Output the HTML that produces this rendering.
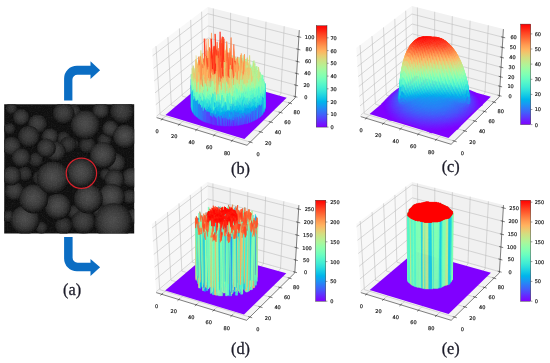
<!DOCTYPE html>
<html><head><meta charset="utf-8"><title>Figure</title>
<style>html,body{margin:0;padding:0;background:#fff}svg{display:block}</style>
</head><body>
<svg width="550" height="363" viewBox="0 0 550 363">
<rect width="550" height="363" fill="#fff"/>
<clipPath id="semclip"><rect x="4.2" y="104.3" width="130" height="129.1"/></clipPath>
<radialGradient id="sg0" cx="0.48" cy="0.46" r="0.53"><stop offset="0" stop-color="#353535"/><stop offset="0.42" stop-color="#2e2e2e"/><stop offset="0.74" stop-color="#222222"/><stop offset="0.93" stop-color="#131313"/><stop offset="1" stop-color="#0d0d0d"/></radialGradient>
<radialGradient id="sg1" cx="0.48" cy="0.46" r="0.53"><stop offset="0" stop-color="#404040"/><stop offset="0.42" stop-color="#373737"/><stop offset="0.74" stop-color="#272727"/><stop offset="0.93" stop-color="#151515"/><stop offset="1" stop-color="#0d0d0d"/></radialGradient>
<radialGradient id="sg2" cx="0.48" cy="0.46" r="0.53"><stop offset="0" stop-color="#4b4b4b"/><stop offset="0.42" stop-color="#404040"/><stop offset="0.74" stop-color="#2c2c2c"/><stop offset="0.93" stop-color="#171717"/><stop offset="1" stop-color="#0d0d0d"/></radialGradient>
<filter id="grain" x="0" y="0" width="1" height="1"><feTurbulence type="fractalNoise" baseFrequency="0.8" numOctaves="2" seed="3" result="n"/><feColorMatrix in="n" type="matrix" values="0 0 0 0 1  0 0 0 0 1  0 0 0 0 1  0.6 0.6 0 0 -0.5"/></filter>
<filter id="soft" x="-0.05" y="-0.05" width="1.1" height="1.1"><feGaussianBlur stdDeviation="0.7"/></filter>
<g clip-path="url(#semclip)">
<rect x="4" y="104" width="131" height="130" fill="#0f0f0f"/>
<g filter="url(#soft)">
<circle cx="73.9" cy="144.4" r="5" fill="url(#sg0)"/>
<circle cx="105.9" cy="174.7" r="6.2" fill="url(#sg0)"/>
<circle cx="8.7" cy="216.3" r="6.2" fill="url(#sg0)"/>
<circle cx="41.5" cy="227.8" r="6.2" fill="url(#sg0)"/>
<circle cx="98.9" cy="211.5" r="6.2" fill="url(#sg0)"/>
<circle cx="11.6" cy="108.7" r="6" fill="url(#sg0)"/>
<circle cx="9.6" cy="128.9" r="6" fill="url(#sg0)"/>
<circle cx="40" cy="178" r="7.5" fill="url(#sg0)"/>
<circle cx="63.6" cy="138.6" r="7.2" fill="url(#sg0)"/>
<circle cx="104.7" cy="140.5" r="7.2" fill="url(#sg0)"/>
<circle cx="73.9" cy="111.6" r="7.2" fill="url(#sg0)"/>
<circle cx="25" cy="173.9" r="7.5" fill="url(#sg0)"/>
<circle cx="36" cy="160" r="7.5" fill="url(#sg0)"/>
<circle cx="74.8" cy="212.4" r="7.5" fill="url(#sg0)"/>
<circle cx="129.8" cy="197" r="7.5" fill="url(#sg0)"/>
<circle cx="133.6" cy="216.3" r="7.5" fill="url(#sg0)"/>
<circle cx="68.3" cy="144.8" r="8.4" fill="url(#sg0)"/>
<circle cx="63.6" cy="225.9" r="8.8" fill="url(#sg0)"/>
<circle cx="87.4" cy="145.3" r="8.4" fill="url(#sg0)"/>
<circle cx="21.2" cy="117.4" r="8.4" fill="url(#sg1)"/>
<circle cx="50.1" cy="136.6" r="8.4" fill="url(#sg1)"/>
<circle cx="100.9" cy="110.6" r="8.4" fill="url(#sg1)"/>
<circle cx="110.5" cy="128.9" r="8.4" fill="url(#sg1)"/>
<circle cx="11.6" cy="146.3" r="9.6" fill="url(#sg1)"/>
<circle cx="14.5" cy="191.2" r="9.6" fill="url(#sg1)"/>
<circle cx="11.6" cy="175.8" r="9.6" fill="url(#sg1)"/>
<circle cx="55.8" cy="151.6" r="10" fill="url(#sg1)"/>
<circle cx="131.7" cy="177.7" r="10" fill="url(#sg1)"/>
<circle cx="46.3" cy="148.2" r="9.6" fill="url(#sg1)"/>
<circle cx="21.2" cy="157.8" r="9.6" fill="url(#sg1)"/>
<circle cx="115.6" cy="163.1" r="10" fill="url(#sg1)"/>
<circle cx="114.4" cy="179.6" r="10" fill="url(#sg1)"/>
<circle cx="37.6" cy="124.1" r="9.6" fill="url(#sg1)"/>
<circle cx="63.6" cy="113.5" r="10.9" fill="url(#sg1)"/>
<circle cx="28.9" cy="136.6" r="10.9" fill="url(#sg1)"/>
<circle cx="122.1" cy="111.6" r="12" fill="url(#sg1)"/>
<circle cx="83.5" cy="222" r="12" fill="url(#sg1)"/>
<circle cx="125" cy="136.6" r="12" fill="url(#sg2)"/>
<circle cx="57.8" cy="206.6" r="13.2" fill="url(#sg2)"/>
<circle cx="103" cy="155.4" r="13.2" fill="url(#sg2)"/>
<circle cx="111.5" cy="197" r="13.2" fill="url(#sg2)"/>
<circle cx="25.1" cy="220.1" r="14.5" fill="url(#sg2)"/>
<circle cx="33.7" cy="198.9" r="14.5" fill="url(#sg2)"/>
<circle cx="88.3" cy="198.9" r="14.5" fill="url(#sg2)"/>
<circle cx="81.4" cy="173.2" r="14.8" fill="url(#sg2)"/>
<circle cx="85.4" cy="125.1" r="14.5" fill="url(#sg2)"/>
<circle cx="53" cy="178" r="16.2" fill="url(#sg2)"/>
<circle cx="113.4" cy="222" r="18.8" fill="url(#sg2)"/>
</g>
<rect x="4" y="104" width="131" height="130" filter="url(#grain)" opacity="0.15"/>
<circle cx="81.4" cy="173.2" r="15.2" fill="none" stroke="#d3222c" stroke-width="1.25"/>
</g>
<path d="M64.1 100.4V78.5A12.8 12.8 0 0 1 76.9 65.7H90.5V61.2L100.1 70.2L90.5 78.9V74.8H77.4A5 5 0 0 0 72.4 79.8V100.4Z" fill="#0b6dc3"/>
<path d="M64.1 236.9V258.5A12.8 12.8 0 0 0 76.9 271.3H90.5V275.9L100.1 267.3L90.5 258.9V262.7H77.6A5 5 0 0 1 72.6 257.7V236.9Z" fill="#0b6dc3"/>
<g id="plot-b">
<path d="M156.6 117.6L208.8 73.6L207.7 7.1L152.2 48.9Z" fill="#f8f8f8"/>
<path d="M208.8 73.6L295.2 97.9L299.3 30.1L207.7 7.1Z" fill="#f1f1f1"/>
<path d="M156.6 117.6L247 145.3L295.2 97.9L208.8 73.6Z" fill="#f4f4f4"/>
<path d="M162.1 119.3L214 75.1L213.3 8.5M179.2 124.5L230.4 79.7L230.6 12.8M196.6 129.8L247 84.4L248.2 17.2M214.2 135.2L263.8 89.1L266 21.7M232.1 140.7L280.9 93.9L284.2 26.3M250.3 142.1L160.1 114.6L156 46.1M260.6 131.9L171.3 105.2L167.9 37.1M270.6 122.1L182.2 96.1L179.4 28.4M280.4 112.5L192.7 87.2L190.7 19.9M289.8 103.1L203 78.5L201.6 11.7M156.5 116.3L208.8 72.4L295.2 96.6M155.8 104.7L208.6 61.1L295.9 85.1M155 92.9L208.4 49.6L296.7 73.5M154.3 80.8L208.2 37.9L297.4 61.5M153.5 68.4L208 25.9L298.1 49.3M152.6 55.8L207.8 13.7L298.9 36.9" fill="none" stroke="#b9b9b9" stroke-width="0.55"/>
<path d="M165.5 115L244.4 139L286.7 97.8L211 76.5Z" fill="#8000ff"/>
<g transform="scale(.1)" fill="currentColor" stroke="currentColor" stroke-width="3.5" stroke-linejoin="round"><path d="M2313 721l9-32 5-34-8-100z" color="#7affb7"/><path d="M2305 663l8 58 6-166-9 82z" color="#8efeac"/><path d="M2508 746l9-27 6-61-11 97z" color="#64fbc3"/><path d="M2448 649l8 57 7-118-11 117z" color="#9bfba5"/><path d="M2456 706l10-60 4 31-7-89z" color="#96fca7"/><path d="M2238 627l8-5 5-115-8 146z" color="#c4e88a"/><path d="M2474 663l7 66 6-72-9 55z" color="#92fda9"/><path d="M2413 667l9-9 4-11-7-62z" color="#acf59a"/><path d="M2350 666l9 31 6-112-10 53z" color="#abf69b"/><path d="M2416 754l10-123 6-79-10 106z" color="#96fca7"/><path d="M2347 641l8-3 6-52-9 48z" color="#bced8f"/><path d="M2395 626l8 53 5 11-8-106z" color="#b6f193"/><path d="M2517 694l7 58 8-142-12 154z" color="#8bfeae"/><path d="M2650 899l4 165 4-4-8-3z" color="#386df9"/><path d="M2599 724l7 71-1 187-2-241z" color="#52f5cb"/><path d="M2391 672l9-88 5-15-9 89z" color="#bbee91"/><path d="M2386 647l9-21 5-42-9 88z" color="#bbee91"/><path d="M2373 652l8 8 5-13-8-69z" color="#b9ef92"/><path d="M2426 631l8 75 5-28-7-126z" color="#bbee91"/><path d="M2355 638l10-53 4 65-8-64z" color="#c8e688"/><path d="M2225 640l9-38 4-111-8-46z" color="#e8cb72"/><path d="M2446 697l11-106 3 83-9 31z" color="#a2f9a0"/><path d="M2365 585l8 67 5-74-9 72z" color="#d4dd80"/><path d="M1907 1062l8 3-3-271 0 264z" color="#4659fb"/><path d="M2493 742l9-19 6-53-9 19z" color="#8bfeae"/><path d="M2589 784l10-60 4 17-11 101z" color="#64fbc3"/><path d="M2567 779l9-19 6-35-8-24z" color="#74feba"/><path d="M1905 1074l8 2-2-223-1 216z" color="#504afc"/><path d="M2141 607l10 128 4-129-10-108z" color="#d9da7d"/><path d="M2652 836l1 240 5-5-9-2z" color="#1898f2"/><path d="M2069 598l9-19 5 10-7 96z" color="#dcd67a"/><path d="M2267 652l9-75 5 57-9-195z" color="#e4cf74"/><path d="M2450 691l10-22 4 2-7-80z" color="#b4f295"/><path d="M2524 752l12-127 4 52-8-67z" color="#a2f9a0"/><path d="M2568 737l7 66 5-13-7-83z" color="#7affb7"/><path d="M1908 1081l9 2-3-234-1 227z" color="#4e4dfc"/><path d="M2554 750l10-17 3 46-6-115z" color="#86ffb0"/><path d="M2651 873l2 214 4-4-9-3z" color="#2489f5"/><path d="M2384 647l9 45 5-37-8-81z" color="#c8e688"/><path d="M2561 664l6 115 7-78-9 8z" color="#a4f89f"/><path d="M2390 574l8 81 5-21-9 1z" color="#e2d176"/><path d="M2338 485l8 176 4 5-7-146z" color="#ffa759"/><path d="M1911 1087l9 3-3-252 0 245z" color="#4a53fb"/><path d="M2551 710l10-46 4 45-9-10z" color="#a6f89d"/><path d="M1910 1099l8 2 0-183-3 176z" color="#5a3bfd"/><path d="M2313 607l9-29 5 48-10 103z" color="#dbd87b"/><path d="M2547 698l7 52 7-86-10 46z" color="#a4f89f"/><path d="M2347 677l10-51 3 138-7-195z" color="#c0eb8d"/><path d="M2645 919l2 184 5-4-9-3z" color="#3079f7"/><path d="M2559 725l9 12 5-30-9 26z" color="#99fca6"/><path d="M2601 789l9 5 5-10-9 5z" color="#6dfdbf"/><path d="M2502 733l9-39 5-17-9 4z" color="#a4f89f"/><path d="M2351 693l8 55 6-134-8 12z" color="#bbee91"/><path d="M2322 578l8 136 5-116-8 28z" color="#e8cb72"/><path d="M2589 769l9-8 5-4-9-16z" color="#82ffb3"/><path d="M2516 677l9 11 4 28-8-59z" color="#b9ef92"/><path d="M2500 738l8 67 4 0-5-159z" color="#8cfead"/><path d="M2387 651l8 80 6-64-8-69z" color="#cbe486"/><path d="M2537 735l11-102 2 105-9 14z" color="#9efaa2"/><path d="M1975 664l8 3 6 43-8-10z" color="#bced8f"/><path d="M2515 723l8 12 6-43-9-9z" color="#a6f89d"/><path d="M2496 756l11-110 2 137-8-71z" color="#96fca7"/><path d="M1913 1106l9 3-2-223-2 215z" color="#504afc"/><path d="M2386 688l9-46 4 146-7-169z" color="#b9ef92"/><path d="M2379 647l8 4 6-53-10 91z" color="#d4dd80"/><path d="M2511 694l9-11 5 5-9-11z" color="#b9ef92"/><path d="M2534 687l7 65 6-54-7-93z" color="#bbee91"/><path d="M2428 654l9-14 5-17-9-3z" color="#dbd87b"/><path d="M2539 796l11-72 5 3-7-94z" color="#92fda9"/><path d="M2646 884l2 196 5-4-1-240z" color="#0ac0e8"/><path d="M2520 683l9 9 5-5-9 1z" color="#bced8f"/><path d="M2106 657l8-85 1-243-4 322z" color="#ffb360"/><path d="M2008 675l9 24 5 18-13-213z" color="#d0e082"/><path d="M2488 747l10-72 4 58-6-178z" color="#b2f396"/><path d="M2525 688l9-1 6-82-11 111z" color="#c0eb8d"/><path d="M2548 633l7 94 4-2-9 13z" color="#beec8e"/><path d="M2640 932l3 164 5-4-3-180z" color="#11a0f1"/><path d="M2339 609l8 68 6-108-9 59z" color="#ecc86f"/><path d="M2496 555l6 178 5-52-8-3z" color="#e4cf74"/><path d="M1916 1113l9 3-2-233-1 226z" color="#4e4dfc"/><path d="M2640 910l2 209 5-4-9-3z" color="#2686f5"/><path d="M2645 912l3 180 5-5-2-214z" color="#04b0ed"/><path d="M2480 645l8 86 6-88-11 116z" color="#c2ea8c"/><path d="M1998 654l10 21 1-171-4 203z" color="#ded579"/><path d="M2390 687l9-26 4 92-8-111z" color="#c0eb8d"/><path d="M2494 643l7 69 5 6-8-43z" color="#c8e688"/><path d="M2492 729l8 9 7-92-11 110z" color="#a8f79c"/><path d="M2257 573l9-120 5 100-9 12z" color="#ff8c49"/><path d="M1910 1069l1-216 2-110 2 322z" color="#09a9ee"/><path d="M2550 716l7 69 7-93-11 86z" color="#a0faa1"/><path d="M2381 684l9 3 5-45-9 46z" color="#c6e789"/><path d="M2481 628l7 119 8-192-11 146z" color="#dbd87b"/><path d="M2538 646l8 51 4 27-11 72z" color="#bced8f"/><path d="M2223 367l9 190 6 144-9 3z" color="#ff6d38"/><path d="M2114 572l9 84 5-46-13-281z" color="#ff8e4a"/><path d="M2423 612l7 102 6-32-8-68z" color="#e0d377"/><path d="M2627 823l8 26 4 0-7-57z" color="#62fbc4"/><path d="M1927 1134l8 3 1-141-4 134z" color="#622ffe"/><path d="M2614 798l8 35 7-78-11 66z" color="#74feba"/><path d="M2629 870l11-58 3 40-8-3z" color="#50f4cc"/><path d="M2324 684l9-44 5-14-9-16z" color="#dbd87b"/><path d="M2466 727l9-36 6-63-8-51z" color="#c8e688"/><path d="M2639 947l4 161 4-5-2-184z" color="#11a0f1"/><path d="M1945 725l8-1 6 30-10-75z" color="#acf59a"/><path d="M2618 821l9 2 5-31-10 41z" color="#68fcc1"/><path d="M2365 614l10-42 4 75-9 9z" color="#f2c26b"/><path d="M2459 621l7 106 7-150-10 81z" color="#e6cd73"/><path d="M2448 699l9 6 5-42-8-53z" color="#cbe486"/><path d="M2622 833l10-41 3 40-6-77z" color="#6efebe"/><path d="M2454 610l8 53 4 64-7-106z" color="#e4cf74"/><path d="M2460 752l9 7 7-122-9-16z" color="#b4f295"/><path d="M1923 1127l9 3-2-225-2 218z" color="#504afc"/><path d="M2635 932l3 180 5-4-4-161z" color="#10a2f0"/><path d="M2625 862l9-12 6-38-11 58z" color="#54f6cb"/><path d="M2027 650l10 32 4-19-9-44z" color="#ded579"/><path d="M1979 721l8-30 2-123-6 99z" color="#cbe486"/><path d="M1920 1120l8 3-3-276 0 269z" color="#4659fb"/><path d="M2441 617l7 82 6-89-10 96z" color="#e2d176"/><path d="M2065 650l9 8 3-150-7 149z" color="#eec66d"/><path d="M2453 655l7 97 7-131-10 84z" color="#cee184"/><path d="M2290 598l8 63 6-159-10 149z" color="#ffb05f"/><path d="M2473 577l8 51 4 73-8-74z" color="#f9bb66"/><path d="M1915 1094l3-176 2-98 0 270z" color="#1e91f3"/><path d="M2013 635l9 12 5 3-7 35z" color="#e2d176"/><path d="M1930 1141l8 3 1-156-4 149z" color="#6032fe"/><path d="M2425 685l8 56 6-40-8-75z" color="#c8e688"/><path d="M2624 990l4 154 4-4-9-3z" color="#3e65fa"/><path d="M2236 634l9 59 5-187-9 10z" color="#ffae5e"/><path d="M1966 793l4-142 7 59-11-108z" color="#b0f397"/><path d="M2476 637l8 54 4 40-8-86z" color="#dbd87b"/><path d="M2298 661l9-69 5 60-8-150z" color="#f9bb66"/><path d="M2630 837l7 82 7-97-10 28z" color="#58f8c9"/><path d="M2522 751l12-119 4 14-11 104z" color="#b9ef92"/><path d="M2150 595l8-72 6 113-8-10z" color="#ffa759"/><path d="M2457 705l10-84 4 28-9 14z" color="#d4dd80"/><path d="M2314 662l10-94 4 125-9-46z" color="#e6cd73"/><path d="M2557 785l12-121 3 78-8-50z" color="#a6f89d"/><path d="M2250 506l8 91 5-60-8 126z" color="#ff8444"/><path d="M2249 674l8-90 5-89-8 164z" color="#f6be68"/><path d="M2417 675l8 10 6-59-10 63z" color="#d9da7d"/><path d="M2643 848l9-12-3 233-2-208z" color="#44eed2"/><path d="M2600 815l8 10 5-8-8-34z" color="#78ffb8"/><path d="M2464 719l10-54 3 76-9 18z" color="#b6f193"/><path d="M2629 966l4 162 5-4-5-147z" color="#1996f3"/><path d="M2618 811l7 51 4 8-5-121z" color="#72febb"/><path d="M2592 802l10-37 3 37-6-83z" color="#8cfead"/><path d="M2602 765l9-20 3 53-9 4z" color="#92fda9"/><path d="M2613 817l11-68 3 74-9-2z" color="#7affb7"/><path d="M2201 595l9-20 4-171-7 209z" color="#ff8646"/><path d="M2563 728l8 31 4 10-6-105z" color="#b2f396"/><path d="M2633 977l5 147 4-5-2-209z" color="#149df1"/><path d="M2548 750l7 75 6-65-8-39z" color="#9efaa2"/><path d="M2642 876l9-3-3 207-2-196z" color="#34e4d9"/><path d="M2367 679l8 26 5 5-7-120z" color="#d9da7d"/><path d="M2605 783l8 34 5 4-7-76z" color="#8bfeae"/><path d="M2214 404l9-37 6 337-9-35z" color="#ff4422"/><path d="M2554 703l9 25 6-64-12 121z" color="#bced8f"/><path d="M2252 630l9-76 5 126-9-96z" color="#ffb360"/><path d="M2534 632l6 136 6-71-8-51z" color="#dcd67a"/><path d="M2570 774l7 52 9-134-11 60z" color="#9cfba4"/><path d="M2553 721l8 39 6-42-11 70z" color="#aef498"/><path d="M1960 714l6-112 8 122-13-170z" color="#ded579"/><path d="M2625 966l3 167 5-5-4-162z" color="#169bf2"/><path d="M2394 668l9 18 6-84-10 59z" color="#e6cd73"/><path d="M2561 760l9 14 5-22-8-34z" color="#a4f89f"/><path d="M1945 1158l9 3 1-151-5 144z" color="#6032fe"/><path d="M2310 610l8 87 6-129-10 94z" color="#fcb763"/><path d="M1913 1076l1-227 5-16-8 20z" color="#18cde4"/><path d="M2295 482l8 318 5-87-8-38z" color="#ffa95b"/><path d="M1989 568l10 44 6 25-8 35z" color="#ffa558"/><path d="M2608 825l10-14 6-62-11 68z" color="#80ffb4"/><path d="M2567 718l8 34 6-42-10 49z" color="#b6f193"/><path d="M2617 816l7 77 6-56-7-41z" color="#72febb"/><path d="M2355 597l8 57 6-68-10 112z" color="#ffb360"/><path d="M2074 658l8-59 5-12-10-79z" color="#ffa759"/><path d="M1917 1083l0-245 8 60-11-49z" color="#10c6e6"/><path d="M2586 692l6 110 7-83-11 51z" color="#b9ef92"/><path d="M2620 973l3 164 5-4-3-167z" color="#169bf2"/><path d="M2556 765l8 61 6-64-10 24z" color="#96fca7"/><path d="M2617 1044l6 105 5-5-4-154z" color="#3176f8"/><path d="M2241 677l9-98 5 33-9 129z" color="#e8cb72"/><path d="M2467 621l9 16 4 8-9 4z" color="#fbb965"/><path d="M2012 649l10 68 1-184-5 158z" color="#f0c46c"/><path d="M2638 865l7 54-2 177-3-164z" color="#32e3da"/><path d="M2570 762l9 8 5-17-11 71z" color="#9cfba4"/><path d="M2023 533l13 186 3-88-8 47z" color="#ffa558"/><path d="M2210 575l10 194 3-402-9 37z" color="#ff6b37"/><path d="M2131 549l9 63 6 51-11-173z" color="#ff8143"/><path d="M2639 829l8 32 3 38-7-53z" color="#68fcc1"/><path d="M2608 842l9-26 6-20-10 27z" color="#78ffb8"/><path d="M2603 856l10-46 4 6-9 26z" color="#70febc"/><path d="M2575 752l11-60 2 78-7-60z" color="#b6f193"/><path d="M1946 742l9-1 4-54-9 6z" color="#beec8e"/><path d="M2592 770l8 45 5-32-7-53z" color="#9efaa2"/><path d="M2438 706l9-25 5-9-8-45z" color="#dcd67a"/><path d="M2349 687l10-87 4 54-8-57z" color="#f0c46c"/><path d="M2614 992l4 161 5-4-6-105z" color="#2489f5"/><path d="M2257 584l9 96 5-137-9-48z" color="#ff8646"/><path d="M2282 614l9 75 5-57-9-63z" color="#ffac5c"/><path d="M2010 641l9 46 6 19-10-74z" color="#eec66d"/><path d="M2287 569l9 63 5-13-9 9z" color="#ff964f"/><path d="M2598 730l7 53 6-38-9 20z" color="#b0f397"/><path d="M1942 1151l8 3-2-285-1 277z" color="#445cfb"/><path d="M2504 721l7 80 7-129-10 55z" color="#c0eb8d"/><path d="M2341 578l8 109 6-90-9 23z" color="#ff9d53"/><path d="M2363 654l10-64 4 67-8-71z" color="#ffb05f"/><path d="M2584 753l8 17 6-40-11 54z" color="#abf69b"/><path d="M1938 1144l9 2 0-185-8 27z" color="#386df9"/><path d="M2135 490l11 173 4-68-10-123z" color="#ff592d"/><path d="M2608 1054l5 104 5-5-4-161z" color="#3079f7"/><path d="M2525 784l11-111 3 99-7-88z" color="#b4f295"/><path d="M2607 870l10-37 4 7-8-30z" color="#6efebe"/><path d="M2359 600l8 79 6-89-10 64z" color="#ffa759"/><path d="M2529 799l10-53 4 20-7-93z" color="#a8f79c"/><path d="M2604 1021l5 141 4-4-5-104z" color="#2c7ef7"/><path d="M2600 776l7 94 6-60-10 46z" color="#88ffaf"/><path d="M1915 1065l-2-322 7 30-8 21z" color="#40ecd4"/><path d="M2237 645l9 96 5-73-9-281z" color="#ffa759"/><path d="M2630 939l10-29-2 202-3-180z" color="#22d6e0"/><path d="M2509 868l12-145 4 40-7-90z" color="#96fca7"/><path d="M2576 1183l9 2 5-4-6-117z" color="#6826fe"/><path d="M1969 1178l9 2 1-152-4 145z" color="#6032fe"/><path d="M2019 687l7-81 6 35-7 65z" color="#ecc86f"/><path d="M1978 697l9 2 4-39-9-16z" color="#e2d176"/><path d="M2168 602l8 15 5-41-10-157z" color="#ff763d"/><path d="M2478 670l9 18 5-15-11 88z" color="#ded579"/><path d="M1918 1101l2-215 4-41-6 73z" color="#0fc4e7"/><path d="M2158 523l10 79 3-183-7 217z" color="#ff562c"/><path d="M2250 579l9 108 5-41-9-34z" color="#ff9d53"/><path d="M2634 850l9-2 4 13-8-32z" color="#72febb"/><path d="M2286 653l9-171 5 193-9 14z" color="#ffac5c"/><path d="M2482 664l7 90 5-13-7-53z" color="#dbd87b"/><path d="M2150 683l7-90 6 44-12-298z" color="#ff914c"/><path d="M2415 690l9 6 4 5-7-88z" color="#e6cd73"/><path d="M2599 1040l5 127 5-5-5-141z" color="#2981f6"/><path d="M1957 1168l9 2-2-253-2 246z" color="#4a53fb"/><path d="M2487 688l7 53 6-56-8-12z" color="#ded579"/><path d="M2441 730l10-73 4 27-9 19z" color="#d6db7e"/><path d="M2503 712l6 156 9-195-10 34z" color="#c4e88a"/><path d="M2235 681l9-81 5 11-9 119z" color="#f4c069"/><path d="M2638 857l8 27 6-48-9 12z" color="#70febc"/><path d="M2001 657l9-16 5-9-10-32z" color="#ffae5e"/><path d="M1920 1090l0-270 5 4-8 14z" color="#2ddedc"/><path d="M2595 1020l4 151 5-4-5-127z" color="#2489f5"/><path d="M2617 960l11-79 4 18-8-41z" color="#48f1d0"/><path d="M2575 856l8 33 7-80-8-26z" color="#7dffb6"/><path d="M2610 865l7 95 7-102-9 25z" color="#60fac5"/><path d="M1999 643l10 41 5 12-10-87z" color="#feb562"/><path d="M2626 945l9-13 4 15-8-29z" color="#3ae8d6"/><path d="M2632 899l8 33 5-20-6-91z" color="#5af8c8"/><path d="M2146 663l5-324 7 184-8 72z" color="#ff6d38"/><path d="M2584 1064l6 117 5-5-6-118z" color="#3473f8"/><path d="M2615 969l9 21-1 147-3-164z" color="#10c6e6"/><path d="M1954 1161l8 2 0-205-7 52z" color="#3473f8"/><path d="M2165 601l9 81 5-57-10-163z" color="#ff8444"/><path d="M2589 1058l6 118 4-5-4-151z" color="#2c7ef7"/><path d="M2595 787l9 29 3 54-7-94z" color="#99fca6"/><path d="M2244 600l8 82 5 32-8-103z" color="#ffa558"/><path d="M2583 889l11-71 5 7-9-16z" color="#78ffb8"/><path d="M2472 721l10-57 5 24-9-18z" color="#e2d176"/><path d="M2206 725l9-75 5 150-9-244z" color="#e2d176"/><path d="M2383 650l9 0 5 24-10 62z" color="#f6be68"/><path d="M2397 713l10-64 6-115-11 135z" color="#fbb965"/><path d="M2605 912l10-29 6-54-9 6z" color="#66fcc2"/><path d="M2530 711l7 79 7-77-10 39z" color="#cce385"/><path d="M2115 660l8-118 5 35-8 24z" color="#ff914c"/><path d="M2423 712l8 46 6-90-8-44z" color="#e2d176"/><path d="M1922 1109l1-226 4-44-7 47z" color="#1dd1e2"/><path d="M1932 1130l4-134 3-87-9-4z" color="#01b3ec"/><path d="M2639 821l6 91 6-39-9 3z" color="#78ffb8"/><path d="M1981 1187l9 3 0-209-3 202z" color="#5444fd"/><path d="M1966 655l10 49 5-11-10-69z" color="#fbb965"/><path d="M2567 830l8 26 7-73-9 12z" color="#90feab"/><path d="M2516 753l8 37 6-79-9 12z" color="#c2ea8c"/><path d="M2631 918l8 29 6-28-7-54z" color="#50f4cc"/><path d="M2609 789l7 41 4 27-8-14z" color="#92fda9"/><path d="M2572 816l13-143 1 127-8-4z" color="#a8f79c"/><path d="M2151 339l12 298 5-35-10-79z" color="#ff0000"/><path d="M2618 919l8 26 5-27-8-39z" color="#4ef3cd"/><path d="M2552 718l8 68 5-26-10 51z" color="#c0eb8d"/><path d="M2537 790l11-69 4 27-8-35z" color="#bced8f"/><path d="M2459 677l7 68 6-16-9-30z" color="#e2d176"/><path d="M2563 832l10-37 5-15-9-17z" color="#9cfba4"/><path d="M2543 1203l9 3 5-5-6-126z" color="#6629fe"/><path d="M1935 1137l4-149 2-119-5 127z" color="#06aeed"/><path d="M2621 829l10-23 1 93-8-31z" color="#82ffb3"/><path d="M1928 1123l2-218 7 55-12-113z" color="#10c6e6"/><path d="M2593 727l7 49 3 80-7-95z" color="#bbee91"/><path d="M2556 754l7 78 6-69-9 23z" color="#b2f396"/><path d="M2599 804l6 108 7-77-9 4z" color="#8bfeae"/><path d="M2212 650l9-102 5 143-9-64z" color="#ffa055"/><path d="M1925 1116l0-269 7 61-9-25z" color="#1acfe3"/><path d="M1914 849l11 49 1-117-7 52z" color="#84ffb2"/><path d="M1978 1180l9 3 1-141-9-14z" color="#425ffa"/><path d="M2542 777l10-59 3 93-7-90z" color="#bbee91"/><path d="M2590 809l9 16 5-9-9-29z" color="#9bfba5"/><path d="M2612 835l9-6 3 39-8-38z" color="#86ffb0"/><path d="M2201 318l10 329 5-64-9 27z" color="#ff0000"/><path d="M2573 795l9-12 4 35-8-38z" color="#a6f89d"/><path d="M2582 783l8 26 5-22-9 31z" color="#a6f89d"/><path d="M2376 738l10-108 4 85-9 20z" color="#dcd67a"/><path d="M2002 1200l9 2 1-177-5 170z" color="#5a3bfd"/><path d="M2453 726l9-13 4 32-7-68z" color="#dbd87b"/><path d="M2631 806l8 15 3 55-10 23z" color="#8bfeae"/><path d="M2412 764l10-53 4 15-7-128z" color="#dbd87b"/><path d="M2254 693l8-59 5-219-8 272z" color="#ff9b52"/><path d="M2538 731l7 98 7-111-10 59z" color="#c2ea8c"/><path d="M2555 1101l7 95 5-4-6-126z" color="#3c68f9"/><path d="M2193 522l8-204 6 292-8 52z" color="#ff3219"/><path d="M2566 1048l5 139 5-4-5-146z" color="#2489f5"/><path d="M2072 629l11 154-1-393-4 297z" color="#ff934d"/><path d="M2576 816l5 111 7-74-10 25z" color="#80ffb4"/><path d="M2566 834l9 19 6-59-10 49z" color="#8efeac"/><path d="M2415 647l8 65 6-88-10 56z" color="#ffae5e"/><path d="M2484 749l10-63 3 110-6-147z" color="#d4dd80"/><path d="M2570 850l8 28 7-66-10 41z" color="#82ffb3"/><path d="M2540 836l12-142 4 60-11 75z" color="#a6f89d"/><path d="M2561 1066l6 126 4-5-5-139z" color="#2c7ef7"/><path d="M2544 852l9-6 6-52-7-100z" color="#9bfba5"/><path d="M1911 853l8-20 5-12-11-78z" color="#94fda8"/><path d="M2409 746l10-148 4 114-8-65z" color="#ebca70"/><path d="M2346 678l10-67 4 51-9 25z" color="#ffb360"/><path d="M2620 964l9 2 4 11-6-88z" color="#3dead5"/><path d="M2023 1212l9 3 2-121-6 114z" color="#6826fe"/><path d="M2520 1214l9 3 5-5-7-107z" color="#6a22fe"/><path d="M2594 818l9 21 6-50-10 36z" color="#99fca6"/><path d="M2599 1050l9 4 6-62-9 19z" color="#04b9ea"/><path d="M2504 939l9 0 5-38-9 5z" color="#4ef3cd"/><path d="M2588 854l11-50 4 35-9-21z" color="#8cfead"/><path d="M2557 838l9-4 5 9-7-77z" color="#94fda8"/><path d="M2603 839l9-4 4-5-7-41z" color="#92fda9"/><path d="M2591 886l7 74 6-29-7-75z" color="#60fac5"/><path d="M2083 783l7-84 4-76-12-233z" color="#fbb965"/><path d="M2445 696l8 30 6-49-10 27z" color="#ebca70"/><path d="M2623 879l8 39 7-53-10 16z" color="#6dfdbf"/><path d="M2381 702l9-3 3 126-7-195z" color="#e2d176"/><path d="M2551 1075l6 126 5-5-7-95z" color="#3670f8"/><path d="M2586 818l9-31 5-11-7-49z" color="#aef498"/><path d="M2586 918l9-10 3 52-7-74z" color="#56f7ca"/><path d="M2200 793l9-98 5-16-10-47z" color="#d6db7e"/><path d="M2211 556l9 244 4-239-8 100z" color="#ff8947"/><path d="M2407 649l8 41 6-77-8-79z" color="#ff934d"/><path d="M2617 928l8 38 4 0-9-2z" color="#42edd3"/><path d="M2137 569l9 93 5-67-10-137z" color="#ff592d"/><path d="M2578 878l10-25 5-1-8-40z" color="#7effb5"/><path d="M1965 765l8-43 5-20-11-66z" color="#dbd87b"/><path d="M2610 1001l10-28 5-7-8-38z" color="#2fe0db"/><path d="M2197 670l9 55 5-169-9 85z" color="#ffa759"/><path d="M2615 883l9-25 7-52-10 23z" color="#80ffb4"/><path d="M1919 833l7-52 7 31-9 9z" color="#9bfba5"/><path d="M2610 983l7 61 7-54-9-21z" color="#24d8df"/><path d="M2575 853l10-41 3 42-7-60z" color="#8efeac"/><path d="M2596 1007l11-51 3 45-7-81z" color="#2adddd"/><path d="M2476 684l8 65 7-100-11 85z" color="#eec66d"/><path d="M2605 1011l9-19 3 52-7-61z" color="#1acfe3"/><path d="M1913 743l11 78 6 9-10-57z" color="#b9ef92"/><path d="M2627 889l6 88 7-67-10 29z" color="#58f8c9"/><path d="M2569 763l9 17 7-107-13 143z" color="#c4e88a"/><path d="M2611 856l7 63 5-40-9 2z" color="#76ffb9"/><path d="M2506 749l10-29 3 47-8-42z" color="#d0e082"/><path d="M2607 956l8 13 5 4-10 28z" color="#37e6d8"/><path d="M2228 560l9 85 5-258-9 183z" color="#ff3e1f"/><path d="M2624 858l8 41 7-78-8-15z" color="#86ffb0"/><path d="M2585 812l8 40 6-48-11 50z" color="#99fca6"/><path d="M2533 1088l6 120 4-5-6-97z" color="#386df9"/><path d="M2596 979l8 42 4 33-9-4z" color="#1acfe3"/><path d="M1927 763l7-54 7 80-12-124z" color="#d2de81"/><path d="M2571 1037l5 146 8-119-9-7z" color="#0ea5ef"/><path d="M2591 1003l8 47 6-39-8-49z" color="#1fd3e1"/><path d="M2453 716l8 43 5-43-9-3z" color="#ded579"/><path d="M1967 636l11 66 6 57-11-117z" color="#ffae5e"/><path d="M2546 883l10-25 5-5-9-2z" color="#7dffb6"/><path d="M2593 953l8 31 6-28-11 51z" color="#38e7d7"/><path d="M2603 920l7 81 7-73-10 27z" color="#4af2cf"/><path d="M1917 838l8-14 4-48-4 122z" color="#92fda9"/><path d="M2552 694l7 100 4 38-7-78z" color="#d0e082"/><path d="M2522 799l9-3 4 32-5-137z" color="#b6f193"/><path d="M2581 936l10-50 6-30-10 15z" color="#64fbc3"/><path d="M1966 1170l9 3-1-210-10-46z" color="#1e91f3"/><path d="M2209 695l8 0 5 9-8-25z" color="#f4c069"/><path d="M2503 680l8 45 5 28-8-56z" color="#eec66d"/><path d="M2172 566l8-53 6 76-8 84z" color="#ff5c2f"/><path d="M2497 748l9 1 5-24-8-45z" color="#dbd87b"/><path d="M1918 918l6-73 6 20-10-45z" color="#76ffb9"/><path d="M2589 949l7 58 7-87-9 18z" color="#44eed2"/><path d="M1920 820l10 45 6 24-11-65z" color="#90feab"/><path d="M2457 713l9 3 5-19-9 16z" color="#ebca70"/><path d="M2167 616l9 73 4-176-8 53z" color="#ff733b"/><path d="M2497 1225l9 3 5-5-7-108z" color="#6a22fe"/><path d="M2128 577l9-8 4-111-8 139z" color="#ff4724"/><path d="M2242 613l9 41 5 2-9-25z" color="#ff8c49"/><path d="M2478 1232l9 3 5-5-8-67z" color="#7216ff"/><path d="M1999 1193l8 2 2-161-9-8z" color="#396bf9"/><path d="M2514 793l8 6 8-108-12 98z" color="#bced8f"/><path d="M1917 778l5-94 7 35-6 98z" color="#c8e688"/><path d="M2586 1019l10-40 3 71-8-47z" color="#1acfe3"/><path d="M2513 818l9-24 4 22-8-52z" color="#abf69b"/><path d="M1943 896l9 32 3-99-8 36z" color="#74feba"/><path d="M2590 912l8 26 6-19-9-11z" color="#5efac6"/><path d="M2585 673l8 54 3 34-10 39z" color="#e4cf74"/><path d="M2180 513l9 68 6 88-9-80z" color="#ff4a26"/><path d="M2594 938l9-18 4 35-9-17z" color="#50f4cc"/><path d="M2509 906l9-5 5-20-8-16z" color="#6efebe"/><path d="M2484 718l9 19 4 11-8-46z" color="#e2d176"/><path d="M2612 957l8 7 7-75-8-21z" color="#54f6cb"/><path d="M2237 619l9 81 5-46-9-41z" color="#ff914c"/><path d="M2527 1105l7 107 5-4-6-120z" color="#386df9"/><path d="M2443 703l9 35 4 0-9 46z" color="#ded579"/><path d="M2341 690l10-80 5 1-10 67z" color="#ffa256"/><path d="M1950 1154l5-144 5-21-12-120z" color="#00b5eb"/><path d="M2480 783l7 145 6-100-9 23z" color="#9cfba4"/><path d="M1912 794l8-21 2-89-5 94z" color="#c4e88a"/><path d="M2575 833l6 103 6-65-8-20z" color="#86ffb0"/><path d="M2579 825l7 93 5-32-10 50z" color="#7effb5"/><path d="M2578 780l8 38 7-91-8-54z" color="#cbe486"/><path d="M2234 695l9 102 5-8-9-122z" color="#e2d176"/><path d="M2601 984l9-1 5-14-8-13z" color="#37e6d8"/><path d="M2597 962l8 49 5-28-9 1z" color="#37e6d8"/><path d="M2508 1127l7 92 5-5-7-100z" color="#445cfb"/><path d="M2359 663l10-41 4 74-9-41z" color="#ffa256"/><path d="M1924 821l9-9 0-155-3 173z" color="#b4f295"/><path d="M2196 618l8 14 6 151-9-183z" color="#ff964f"/><path d="M1922 684l12 118 5-10-10-73z" color="#e0d377"/><path d="M1990 1190l9 3 1-167-10-45z" color="#3079f7"/><path d="M2262 634l9 44 5-80-9-183z" color="#ff6b37"/><path d="M2367 699l8 54 6-51-8-79z" color="#f6be68"/><path d="M2619 868l8 21 3 50-8-27z" color="#72febb"/><path d="M2603 814l8 42 3 25-9-3z" color="#92fda9"/><path d="M1947 1146l1-277 7 80-8 12z" color="#10c6e6"/><path d="M2028 704l8-15 5-49-9-4z" color="#ffae5e"/><path d="M1930 830l3-173 9 110-8 35z" color="#bbee91"/><path d="M2575 1057l9 7 5-6-9-7z" color="#02b7eb"/><path d="M2327 741l11-298 3 247-8 12z" color="#ffac5c"/><path d="M2058 631l10 98 4-100-13-243z" color="#ff703a"/><path d="M2472 774l7 132 7-143-9 6z" color="#b4f295"/><path d="M2020 1205l8 3 3-100-10-96z" color="#425ffa"/><path d="M1947 865l8-36 8 89-12-100z" color="#88ffaf"/><path d="M2283 655l8 10 5-4-8-78z" color="#ff934d"/><path d="M2610 870l9-2 3 44-9 6z" color="#78ffb8"/><path d="M2604 919l8 38 7-89-9 2z" color="#68fcc1"/><path d="M1978 702l7-36 3-99-4 192z" color="#ffb05f"/><path d="M2572 787l7 64 2 76-5-111z" color="#a0faa1"/><path d="M2489 702l8 46 6-68-9 6z" color="#f4c069"/><path d="M2407 695l7 99 6-59-9-20z" color="#e6cd73"/><path d="M2572 1030l10-32 4 21-8-46z" color="#20d5e1"/><path d="M2586 890l8 48 4 0-8-26z" color="#66fcc2"/><path d="M2597 856l7 75 7-75-8-42z" color="#88ffaf"/><path d="M2076 671l10 80 3-152-7 118z" color="#ffae5e"/><path d="M2321 695l8 66 6-88-10 56z" color="#f0c46c"/><path d="M2504 1115l7 108 4-4-7-92z" color="#3e65fa"/><path d="M2593 835l10-21 2 64-8-24z" color="#96fca7"/><path d="M2480 683l7 83 6-29-9-19z" color="#eec66d"/><path d="M2556 858l8 36 8-107-11 66z" color="#90feab"/><path d="M2029 663l7-77 6 23-8 58z" color="#ff8e4a"/><path d="M2529 835l7 97 6-48-7-102z" color="#90feab"/><path d="M2521 943l9-5 5-8-9-18z" color="#58f8c9"/><path d="M2516 931l9 28 5-21-9 5z" color="#54f6cb"/><path d="M2583 993l8 10 6-41-9-7z" color="#37e6d8"/><path d="M1923 883l9 25 5-12-10-57z" color="#7dffb6"/><path d="M2373 623l8 79 5-72-10 108z" color="#ff9b52"/><path d="M2085 680l7-96 3-112-5 227z" color="#ff8444"/><path d="M2460 1239l8 2 5-4-7-92z" color="#6e1cff"/><path d="M2504 905l8 38 5-30-8-7z" color="#66fcc2"/><path d="M1925 898l4-122 5-29-8 34z" color="#9efaa2"/><path d="M1920 886l7-47 7 41-10-35z" color="#84ffb2"/><path d="M2502 982l9-30 5-21-8-7z" color="#48f1d0"/><path d="M2432 1243l9 2 5-4-8-69z" color="#7216ff"/><path d="M2511 846l11-79 1 168-7-113z" color="#96fca7"/><path d="M2537 1106l6 97 8-128-9 0z" color="#208ef4"/><path d="M2502 799l7 107 6-41-10 29z" color="#94fda8"/><path d="M2446 1241l9 2 5-4-8-86z" color="#6e1cff"/><path d="M2568 886l8 45 4 9-6-92z" color="#72febb"/><path d="M2484 1163l8 67 5-5-7-106z" color="#4e4dfc"/><path d="M1998 698l10 73 4-61-10-91z" color="#f9bb66"/><path d="M2580 1051l9 7 6-38-9 0z" color="#10c6e6"/><path d="M2580 929l9 20 5-11-8-48z" color="#5efac6"/><path d="M2012 710l10 41 3-99-8 12z" color="#f9bb66"/><path d="M2420 735l8 51 6-60-8-78z" color="#e6cd73"/><path d="M2588 955l9 7 4 22-8-31z" color="#46efd1"/><path d="M2586 868l7 85 3 54-7-58z" color="#62fbc4"/><path d="M2032 1215l9 2 2-140-9 17z" color="#4a53fb"/><path d="M2498 797l7 97 6-48-9 0z" color="#a0faa1"/><path d="M2564 1001l8 29 6-57-8-8z" color="#30e1da"/><path d="M2402 709l9 6 5-23-9 27z" color="#f2c26b"/><path d="M2549 918l10-23 6-35-10 8z" color="#74feba"/><path d="M2513 939l10-59 6-45-11 66z" color="#6efebe"/><path d="M2496 855l8 84 5-33-7-107z" color="#86ffb0"/><path d="M2552 851l9 2 5-27-7-63z" color="#9efaa2"/><path d="M2475 681l7 113 5-28-7-83z" color="#eec66d"/><path d="M2231 641l9 61 5 33-9-132z" color="#ff9b52"/><path d="M2385 708l9-6 5-39-9 36z" color="#fbb965"/><path d="M2528 985l8 49 6-57-9 0z" color="#34e4d9"/><path d="M2575 937l8 56 5-38-9 22z" color="#4af2cf"/><path d="M2351 610l8 53 5-8-8-44z" color="#ff7b40"/><path d="M2092 584l10 72 6 68-13-252z" color="#ff6533"/><path d="M2522 794l9-9 6-50-11 81z" color="#c0eb8d"/><path d="M2569 979l8 44 5-25-10 32z" color="#2fe0db"/><path d="M2491 885l10-26 3 80-8-84z" color="#7dffb6"/><path d="M2394 702l8 7 5 10-8-56z" color="#fbb965"/><path d="M2540 915l9 3 6-50-7-68z" color="#7affb7"/><path d="M2548 800l7 68 5 8-10 32z" color="#99fca6"/><path d="M2484 851l9-23 5-10-8-52z" color="#a4f89f"/><path d="M2226 704l9-32 5 30-9-61z" color="#ffb05f"/><path d="M2197 635l9 31 5 84-8 79z" color="#feb562"/><path d="M2570 978l9-1 7-109-11 88z" color="#4df3ce"/><path d="M2533 844l6 96 5-12-7-47z" color="#7effb5"/><path d="M2552 1066l10-38 4 49-7-80z" color="#0dc2e8"/><path d="M2479 906l11-140 6-17-10 14z" color="#a2f9a0"/><path d="M2574 848l6 92 6-22-7-93z" color="#86ffb0"/><path d="M2499 910l9 14 4 19-8-38z" color="#66fcc2"/><path d="M1925 847l12 113 2-108-7 56z" color="#82ffb3"/><path d="M2591 988l8 52 5-19-8-42z" color="#2fe0db"/><path d="M2513 1114l7 100 7-109-9 7z" color="#2981f6"/><path d="M2566 1077l9-20 5-6-6-96z" color="#0fc4e7"/><path d="M2378 801l10-86 5 2-9-23z" color="#d6db7e"/><path d="M2468 886l9 34 5-36-8-53z" color="#80ffb4"/><path d="M2482 884l9 1 5-30-9 21z" color="#82ffb3"/><path d="M2011 1202l9 3 1-193-9 13z" color="#3176f8"/><path d="M1969 658l10 33 5 2-7 72z" color="#ffae5e"/><path d="M2058 1223l9 2 3-109-9-24z" color="#4e4dfc"/><path d="M2586 1020l9 0 4 20-8-52z" color="#22d6e0"/><path d="M2554 908l9-7 5-15-9 9z" color="#72febb"/><path d="M1975 1173l4-145 4-57-9-8z" color="#06aeed"/><path d="M1965 924l10 55 4-77-8 33z" color="#5efac6"/><path d="M2024 713l10 49 6 11-13-178z" color="#f4c069"/><path d="M2296 661l9 56 6-342-10 344z" color="#ff7e41"/><path d="M2244 721l8-76 5-12-8 126z" color="#fcb763"/><path d="M2540 804l8 23 7-88-10 55z" color="#bbee91"/><path d="M2587 871l10-15 6-42-10 21z" color="#94fda8"/><path d="M1937 960l7-61 5-29-10-18z" color="#68fcc1"/><path d="M2526 912l9 18 4 10-6-96z" color="#6efebe"/><path d="M2473 771l9 5 5-20-8-41z" color="#d4dd80"/><path d="M2564 894l11-61 4 18-7-64z" color="#90feab"/><path d="M2067 1225l8 3 3-122-8 10z" color="#504afc"/><path d="M2536 1034l9-25 6-56-9 24z" color="#2ddedc"/><path d="M2505 894l10-29 7-98-11 79z" color="#90feab"/><path d="M2582 998l9-10 5-9-10 40z" color="#32e3da"/><path d="M2230 713l9-46 5 54-9-49z" color="#fcb763"/><path d="M2102 1236l8 3 4-85-9 0z" color="#5e35fe"/><path d="M2460 746l10-58 5-7-11 115z" color="#e6cd73"/><path d="M2521 805l8 65 6-84-8-23z" color="#b4f295"/><path d="M2494 893l8 89 6-58-9-14z" color="#6afdc0"/><path d="M2577 1023l9-3 5-32-9 10z" color="#28dbde"/><path d="M2477 769l9-6 5 16-9-3z" color="#cce385"/><path d="M2110 1239l9 2 4-68-9-19z" color="#622ffe"/><path d="M2511 1066l8 44 5-37-9 9z" color="#04b0ed"/><path d="M2495 914l9-9 5 1-8-47z" color="#74feba"/><path d="M2487 756l7 108 8-173-9-15z" color="#dbd87b"/><path d="M2561 853l11-66 4 29-10 10z" color="#a4f89f"/><path d="M2016 744l8-31 3-118-5 156z" color="#f2c26b"/><path d="M2570 837l9-12 2 111-6-103z" color="#96fca7"/><path d="M2413 1249l9 3 5-5-8-80z" color="#7019ff"/><path d="M2490 766l8 52 4 35-6-104z" color="#c2ea8c"/><path d="M2418 775l8 53 5-43-7-81z" color="#cbe486"/><path d="M2496 749l6 104 7-76-9-19z" color="#cbe486"/><path d="M1936 996l5-127 7 49-9-9z" color="#56f7ca"/><path d="M2545 783l7 68 7-88-11 64z" color="#bbee91"/><path d="M2493 676l9 15 3 107-9-27z" color="#f2c26b"/><path d="M1925 824l11 65 1-160-8 47z" color="#b2f396"/><path d="M2486 895l9 19 6-55-10 26z" color="#7dffb6"/><path d="M2575 956l11-88 3 81-9-20z" color="#5efac6"/><path d="M1962 1163l2-246 7 59-9-18z" color="#0ac0e8"/><path d="M2521 904l7 85 6-56-9 26z" color="#5efac6"/><path d="M1987 1183l3-202 6 33-8 28z" color="#10a2f0"/><path d="M2479 817l8 59 6-47-10 51z" color="#9efaa2"/><path d="M2547 1061l8 40 6-35-9 15z" color="#00b5eb"/><path d="M2525 959l9-26 6-28-10 33z" color="#58f8c9"/><path d="M2543 1064l9 17 5-23-8-29z" color="#08bee9"/><path d="M2531 785l9 19 5-10-8-59z" color="#c6e789"/><path d="M2225 733l9-38 5-28-9 46z" color="#f6be68"/><path d="M1951 723l6-129 10 173-9 0z" color="#f2c26b"/><path d="M2552 951l10-8 6-66-10 43z" color="#60fac5"/><path d="M2570 965l8 8 5 20-8-56z" color="#48f1d0"/><path d="M2455 747l8 56 5-28-8-32z" color="#d4dd80"/><path d="M2407 631l6 177 5 2-8-81z" color="#f9bb66"/><path d="M2549 1029l8 29 5-30-10 38z" color="#17cbe4"/><path d="M2041 1217l8 3 2-160-8 17z" color="#4062fa"/><path d="M2555 868l10-8 5-23-10 39z" color="#8efeac"/><path d="M2530 938l10-33 4 4-9 21z" color="#64fbc3"/><path d="M1939 988l8-27 5-23-11-69z" color="#50f4cc"/><path d="M2465 980l11-76 4 42-9-41z" color="#54f6cb"/><path d="M2400 1059l10-83 5-14-9-47z" color="#2fe0db"/><path d="M2552 1081l9-15 5-18-9 10z" color="#04b9ea"/><path d="M2075 1228l9 3 3-115-9-10z" color="#4e4dfc"/><path d="M2548 827l11-64 3 72-7-96z" color="#b9ef92"/><path d="M2076 952l6-124 5-49-9 10z" color="#88ffaf"/><path d="M2261 729l9-93 5 59-9 29z" color="#fbb965"/><path d="M2517 788l10-25 4 22-9 9z" color="#c6e789"/><path d="M2466 1145l7 92 5-5-7-103z" color="#425ffa"/><path d="M2541 740l5 143 6-32-7-68z" color="#c0eb8d"/><path d="M1939 852l10 18 6 41-10-39z" color="#8cfead"/><path d="M2544 909l8 42 6-31-8-46z" color="#6efebe"/><path d="M2400 1251l8 3 5-5-7-85z" color="#6e1cff"/><path d="M2049 1220l9 3 3-131-10-32z" color="#425ffa"/><path d="M2479 715l8 41 6-80-11 118z" color="#ebca70"/><path d="M1926 781l8-34 5-9-6 74z" color="#cce385"/><path d="M2093 1233l9 3 3-82-9-46z" color="#5641fd"/><path d="M2524 955l9 22 6-54-11 66z" color="#4ef3cd"/><path d="M2024 758l8-9 6 35-12-143z" color="#e2d176"/><path d="M2550 874l8 46 5-19-9 7z" color="#7dffb6"/><path d="M2561 940l8 39 3 51-8-29z" color="#46efd1"/><path d="M2568 877l7 79 5-27-8-35z" color="#76ffb9"/><path d="M1936 889l8-13 1-146-8-1z" color="#a4f89f"/><path d="M2522 767l7 68 6-53-12 153z" color="#b4f295"/><path d="M2567 885l8 52 4 40-9 1z" color="#66fcc2"/><path d="M2396 735l11-104 3 98-10 112z" color="#e8cb72"/><path d="M2574 955l6 96 6-31-9 3z" color="#38e7d7"/><path d="M2163 1254l9 3 5-5-10-73z" color="#7216ff"/><path d="M2344 953l8 13 6-66-9-58z" color="#64fbc3"/><path d="M1991 773l7-75 4-79-10-14z" color="#fcb763"/><path d="M2007 1195l5-170 6 49-9-40z" color="#1e91f3"/><path d="M2579 977l9-22 5-2-7-85z" color="#54f6cb"/><path d="M2501 980l9-14 6-19-9-12z" color="#4df3ce"/><path d="M2087 728l8-35 3-167-7 74z" color="#ff9850"/><path d="M2522 1012l8 56 6-80-9 25z" color="#28dbde"/><path d="M1944 876l7-58 6 5-12-93z" color="#a6f89d"/><path d="M2446 762l9-15 5-4-10 27z" color="#d9da7d"/><path d="M2411 715l9 20 6-87-10 44z" color="#feb562"/><path d="M2491 1122l8 16 6-28-10 10z" color="#208ef4"/><path d="M2424 1003l10-69 4 16-8-57z" color="#4df3ce"/><path d="M2407 892l11-191 4 30-10 102z" color="#acf59a"/><path d="M2249 759l8-126 6 14-9-18z" color="#ffb05f"/><path d="M2407 827l8 22 6-96-10 98z" color="#acf59a"/><path d="M2358 1258l9 2 5-4-8-59z" color="#7413ff"/><path d="M2506 1076l8 18 5 16-8-44z" color="#04b0ed"/><path d="M2338 443l7 304 6-137-10 80z" color="#ff381c"/><path d="M2510 966l9 18 5-29-8-8z" color="#4df3ce"/><path d="M1944 899l10 45 3-92-8 18z" color="#7dffb6"/><path d="M2231 370l10 420 5-90-9-81z" color="#ff2211"/><path d="M2535 782l7 102 4-1-5-143z" color="#b6f193"/><path d="M2228 550l9 69 5-6-8 17z" color="#ff4d27"/><path d="M2471 793l9-10 4 68-8-56z" color="#bbee91"/><path d="M2527 763l8 23 5 18-9-19z" color="#cce385"/><path d="M2084 1231l9 2 3-125-9 8z" color="#4e4dfc"/><path d="M2119 1241l9 3 4-105-9 34z" color="#5c38fd"/><path d="M2393 831l8 60 6-64-8-82z" color="#abf69b"/><path d="M2418 810l10-82 6-61-10 59z" color="#dbd87b"/><path d="M2194 1258l9 2 5-4-9-64z" color="#7413ff"/><path d="M2347 761l10-105 4 55-9-3z" color="#f0c46c"/><path d="M2479 1075l9-8 4 18-7-54z" color="#07bbea"/><path d="M2366 849l9 5 5-49-8-103z" color="#b0f397"/><path d="M2559 895l9-9 6-38-9 12z" color="#86ffb0"/><path d="M2517 913l9-1 7-68-10 36z" color="#7dffb6"/><path d="M2516 947l8 8 4 34-7-85z" color="#58f8c9"/><path d="M2252 645l9 84 5-5-9-91z" color="#ff9b52"/><path d="M2533 977l9 0 5-6-8-48z" color="#4df3ce"/><path d="M2515 865l8 16 6-46-7-68z" color="#9efaa2"/><path d="M2471 787l8 30 4 63-9-31z" color="#b0f397"/><path d="M2256 713l9 11 5-88-9 93z" color="#feb562"/><path d="M2474 831l8 53 5-8-8-59z" color="#9efaa2"/><path d="M1939 738l12 129 2-149-9-11z" color="#ded579"/><path d="M2469 983l9-5 7-67-9-7z" color="#52f5cb"/><path d="M2462 951l9-46 6-40-10 40z" color="#6dfdbf"/><path d="M2557 1058l9-10 5-11-9-9z" color="#17cbe4"/><path d="M2351 766l9-106 4 156-7-160z" color="#e8cb72"/><path d="M2308 1261l9 3 5-5-9-55z" color="#7610ff"/><path d="M2400 747l9 53 4 8-6-177z" color="#e2d176"/><path d="M2527 1013l9-25 4 41-8-48z" color="#32e3da"/><path d="M2542 1075l9 0 4 26-8-40z" color="#02b7eb"/><path d="M2467 905l10-40 4 55-9-35z" color="#7dffb6"/><path d="M1975 979l7-93 6 50-9-34z" color="#5df9c7"/><path d="M2410 973l10-73 4 103-8-102z" color="#56f7ca"/><path d="M2222 704l9-63 5-38-9 10z" color="#ff914c"/><path d="M2545 1013l7 53 7-69-9-9z" color="#2ddedc"/><path d="M2559 997l7 80 8-122-11 58z" color="#32e3da"/><path d="M2330 1262l9 2 5-4-8-57z" color="#7610ff"/><path d="M2402 958l8 15 6-72-9 16z" color="#5df9c7"/><path d="M2540 1002l9 27 3 37-7-53z" color="#2adddd"/><path d="M2037 942l10 37 4-61-9 11z" color="#5efac6"/><path d="M2386 1254l9 2 5-5-8-107z" color="#6a22fe"/><path d="M2470 688l9 27 3 79-7-113z" color="#fcb763"/><path d="M2032 840l7-96 6 31-11-86z" color="#c6e789"/><path d="M2372 1256l9 2 5-4-8-96z" color="#6c1fff"/><path d="M2415 849l9-12 5 7-8-91z" color="#abf69b"/><path d="M2529 1056l8 50 5-31-9 16z" color="#04b9ea"/><path d="M2471 1129l7 103 6-69-8-30z" color="#3176f8"/><path d="M2028 1208l6-114 4-76-7 90z" color="#2884f6"/><path d="M2491 845l8 65 5-5-9 9z" color="#8bfeae"/><path d="M2558 920l10-43 4 17-9 7z" color="#76ffb9"/><path d="M2412 730l6 181 6-74-9 12z" color="#beec8e"/><path d="M2499 1138l9-11 5-13-8-4z" color="#208ef4"/><path d="M2507 1053l8 29 7-92-11 78z" color="#14cae5"/><path d="M2490 1119l7 106 7-110-9 9z" color="#2686f5"/><path d="M2438 1172l8 69 6-88-9 23z" color="#445cfb"/><path d="M2488 967l8 9 5 4-7-86z" color="#54f6cb"/><path d="M1948 869l12 120 5 15-10-55z" color="#68fcc1"/><path d="M1995 1018l8-8 5-41-9-20z" color="#38e7d7"/><path d="M2464 746l9 25 6-56-9-27z" color="#ebca70"/><path d="M2486 763l10-14 4 9-9 21z" color="#d9da7d"/><path d="M2458 912l9-7 5-20-8-53z" color="#80ffb4"/><path d="M2492 1085l10-41 5 9-9-24z" color="#0dc2e8"/><path d="M2542 977l9-24 5 0-9 18z" color="#4df3ce"/><path d="M2547 971l9-18 5 11-8-46z" color="#54f6cb"/><path d="M2246 797l9-153 5 83-9-16z" color="#e4cf74"/><path d="M2480 946l9 5 5-58-8-21z" color="#6afdc0"/><path d="M2504 1001l9 14 5-1-8-53z" color="#38e7d7"/><path d="M2486 1120l9 4 4 14-8-16z" color="#1e91f3"/><path d="M2344 1260l9 2 5-4-8-80z" color="#7019ff"/><path d="M1952 938l5-107 8 93-7 65z" color="#6afdc0"/><path d="M2493 829l9-30 3 95-7-97z" color="#acf59a"/><path d="M2493 828l9 18 8-142-12 114z" color="#bbee91"/><path d="M1971 935l8-33 5 16-10-60z" color="#72febb"/><path d="M2530 1068l10-66 5 11-9-25z" color="#20d5e1"/><path d="M1981 1002l8-7 6 23-10-72z" color="#3dead5"/><path d="M2352 966l9-37 6-77-9 48z" color="#68fcc1"/><path d="M2529 870l12-130 4 43-10 3z" color="#b2f396"/><path d="M2078 672l11 136 3-139-9-17z" color="#ffa95b"/><path d="M2474 1056l9 23 5-12-9 8z" color="#0dc2e8"/><path d="M1992 605l10 14 7 107-10-71z" color="#ff793e"/><path d="M2518 1014l9-1 5-32-8-23z" color="#38e7d7"/><path d="M2495 1004l9-3 6-40-10 34z" color="#3dead5"/><path d="M2032 636l9 4 4-34-9-20z" color="#ff6b37"/><path d="M2492 958l8 37 6-40-10 21z" color="#4ef3cd"/><path d="M2459 1006l10-59 5 16-9-29z" color="#48f1d0"/><path d="M2271 1262l9 3 5-5-9-66z" color="#7216ff"/><path d="M2524 1073l9 18 6-59-9 11z" color="#0dc2e8"/><path d="M2502 846l9 0 5-24-6-118z" color="#b4f295"/><path d="M2137 1247l8 2 5-81-9-14z" color="#5c38fd"/><path d="M2528 989l11-66 5-22-10 32z" color="#58f8c9"/><path d="M2507 935l9 12 5-43-10 48z" color="#64fbc3"/><path d="M2554 1017l9-4 6-34-8-39z" color="#3ae8d6"/><path d="M1945 872l10 39-1-222-2 239z" color="#99fca6"/><path d="M2145 1249l9 3 4-77-8-7z" color="#6032fe"/><path d="M2536 988l9 25 5-25-10 41z" color="#38e7d7"/><path d="M2460 957l7 91 6-67-9 2z" color="#44eed2"/><path d="M2511 1068l11-78 3 75-8-55z" color="#1acfe3"/><path d="M2534 933l10-32 4 55-8-51z" color="#6afdc0"/><path d="M2381 1010l9 1 4 20-8-37z" color="#30e1da"/><path d="M2485 1031l7 54 6-56-9 0z" color="#1fd3e1"/><path d="M2419 1167l8 80 5-4-7-103z" color="#4856fb"/><path d="M1955 911l8-7 6 17-15-232z" color="#8efeac"/><path d="M2089 599l11 170 2-256-7 180z" color="#ff703a"/><path d="M2545 1009l9 8 7-77-10 13z" color="#40ecd4"/><path d="M2487 876l9-21 6-56-9 30z" color="#9efaa2"/><path d="M2364 746l8 54 5-11-7-148z" color="#e6cd73"/><path d="M2357 809l9 40 6-147-10 84z" color="#c4e88a"/><path d="M2435 776l10-58 3 124-9 15z" color="#c6e789"/><path d="M2535 1041l8 23 6-35-9-27z" color="#20d5e1"/><path d="M2533 1091l9-16 5-14-8-29z" color="#07bbea"/><path d="M2226 1261l9 3 5-5-9-82z" color="#7019ff"/><path d="M2339 856l10-60 4 1-7-157z" color="#c0eb8d"/><path d="M2563 1013l11-58 3 68-8-44z" color="#38e7d7"/><path d="M2482 1088l9 34 4-2-8-34z" color="#09a9ee"/><path d="M2128 1244l9 3 4-93-9-15z" color="#583efd"/><path d="M2515 952l9 6 4 27-9-1z" color="#50f4cc"/><path d="M2206 666l9 100 4-147-8 131z" color="#ffa558"/><path d="M2083 652l9 17 6 69-10-56z" color="#ff9850"/><path d="M2530 1043l9-11 4 32-8-23z" color="#1acfe3"/><path d="M2480 1054l9-25 6-38-10 25z" color="#22d6e0"/><path d="M2010 765l8-31 6 24-12-124z" color="#ecc86f"/><path d="M2553 918l8 46 6-79-11 88z" color="#68fcc1"/><path d="M2154 1252l9 2 4-75-9-4z" color="#622ffe"/><path d="M2424 704l7 81 6-41-9-16z" color="#f2c26b"/><path d="M1968 897l10 59 4-70-7 93z" color="#70febc"/><path d="M2069 869l11 103 5-12-11-112z" color="#7effb5"/><path d="M2494 894l7 86 6-45-9 1z" color="#6efebe"/><path d="M2102 513l11 184 4-75-7 90z" color="#ff5029"/><path d="M2305 717l9-89 5 53-8-306z" color="#ff763d"/><path d="M2498 1029l9 24 4 15-7-77z" color="#22d6e0"/><path d="M2430 893l8 57 5-3-8-62z" color="#76ffb9"/><path d="M1979 1028l9 14 5-18-10-53z" color="#2ddedc"/><path d="M2370 727l8 74 6-107-8-126z" color="#ffb360"/><path d="M2249 1262l8 2 5-4-9-89z" color="#6e1cff"/><path d="M2420 900l9 33 5 1-10 69z" color="#6afdc0"/><path d="M1996 1014l10 33 5 4-10-46z" color="#2adddd"/><path d="M2294 1263l9 3 5-5-9-83z" color="#7019ff"/><path d="M1960 989l6-96 6 28-7 83z" color="#52f5cb"/><path d="M2500 980l8 37 5-2-9-14z" color="#3dead5"/><path d="M2394 1031l10-37 4 11-8-28z" color="#32e3da"/><path d="M2471 1039l8 36 6-44-9 2z" color="#1fd3e1"/><path d="M2505 1110l8 4 5-2-8-38z" color="#0ea5ef"/><path d="M2049 837l10 47 4-44-9-13z" color="#a4f89f"/><path d="M2515 1082l9-9 6-30-8-53z" color="#12c8e6"/><path d="M2504 991l7 77 6-58-9 7z" color="#32e3da"/><path d="M2495 1124l9-9 4 12-9 11z" color="#1996f3"/><path d="M2451 690l7 101 5 12-8-56z" color="#ecc86f"/><path d="M2522 990l8 53 5-2-10 24z" color="#2ddedc"/><path d="M2018 666l8-25 8 121-10-49z" color="#ffa055"/><path d="M1988 1042l8-28 5-9-8 19z" color="#28dbde"/><path d="M1955 1010l7-52 4-65-6 96z" color="#4af2cf"/><path d="M2416 901l8 102 6-110-9-4z" color="#74feba"/><path d="M1971 976l10 26 4-56-8 35z" color="#4af2cf"/><path d="M2510 1074l8 38 6-35-10 17z" color="#02b7eb"/><path d="M2422 1043l9-40 6-70-10 47z" color="#37e6d8"/><path d="M2551 953l10-13 3 61-8-48z" color="#56f7ca"/><path d="M2561 964l9 1 5-28-8-52z" color="#60fac5"/><path d="M2518 1112l9-7 6-17-9-11z" color="#09a9ee"/><path d="M2495 1120l10-10 5-36-9-4z" color="#09a9ee"/><path d="M2450 864l8 48 6-80-9 30z" color="#96fca7"/><path d="M2523 880l10-36 4 37-8-46z" color="#96fca7"/><path d="M1972 921l10 53 4-51-8 33z" color="#66fcc2"/><path d="M2059 884l8-33 5-23-9 12z" color="#9bfba5"/><path d="M2074 848l11 112 4-76-9 4z" color="#8cfead"/><path d="M2224 841l9-17 5-10-9-16z" color="#b2f396"/><path d="M2414 848l7 84 7-144-10 123z" color="#99fca6"/><path d="M2524 1077l9 11 4 18-8-50z" color="#04b9ea"/><path d="M2440 1007l9 6 5-35-9 31z" color="#3ae8d6"/><path d="M2022 794l10 62 5-21-9-28z" color="#bbee91"/><path d="M2429 831l8 61 5-70-8-35z" color="#acf59a"/><path d="M2008 768l9 24 4-52-10-50z" color="#e2d176"/><path d="M2357 1070l10-64 5-55-9 27z" color="#2ddedc"/><path d="M2514 729l7 76 6-42-10 25z" color="#e0d377"/><path d="M2452 1153l8 86 6-94-9-8z" color="#3473f8"/><path d="M2498 818l12-114 4 25-12 124z" color="#cbe486"/><path d="M2464 983l9-2 5-7-9-27z" color="#4df3ce"/><path d="M2565 860l9-12 5-23-9 12z" color="#a2f9a0"/><path d="M2463 776l8 17 5 2-8-41z" color="#d2de81"/><path d="M2011 1051l9-10 4-31-9-36z" color="#28dbde"/><path d="M2031 994l9 3 4-32-9-37z" color="#4af2cf"/><path d="M2192 707l9 77 5-118-9-31z" color="#ffac5c"/><path d="M2424 837l10-50 5-1-10 58z" color="#b6f193"/><path d="M2485 911l9-17 4 42-9 15z" color="#72febb"/><path d="M2063 648l12 151 3-127-9-12z" color="#ff9b52"/><path d="M2425 1140l7 103 6-71-9-15z" color="#3473f8"/><path d="M2501 1070l9 4 4 20-8-18z" color="#08bee9"/><path d="M2471 905l9 41 6-74-9-7z" color="#80ffb4"/><path d="M2497 1052l9 24 5-10-9-22z" color="#17cbe4"/><path d="M2428 788l8 66 4 67-8-34z" color="#abf69b"/><path d="M2023 1004l8-10 4-66-9-1z" color="#4df3ce"/><path d="M2376 568l8 126 4 34-8-2z" color="#ff793e"/><path d="M2061 790l9 53 4-68-9-38z" color="#cce385"/><path d="M2487 1086l8 34 6-50-9-15z" color="#04b9ea"/><path d="M2440 783l11-93 4 57-9 15z" color="#e0d377"/><path d="M2398 890l8 25 4 58-8-15z" color="#72febb"/><path d="M2070 843l8-54 5-24-9 10z" color="#beec8e"/><path d="M2474 963l11-89 3 93-10 11z" color="#5efac6"/><path d="M2422 731l10-11 4 50-10 58z" color="#e4cf74"/><path d="M1947 961l8-12 2-118-5 107z" color="#6afdc0"/><path d="M1977 981l8-35 5-11-8 39z" color="#54f6cb"/><path d="M2349 961l8 109 6-92-9-19z" color="#48f1d0"/><path d="M2500 995l10-34 5-9-9 3z" color="#4ef3cd"/><path d="M2429 1157l9 15 5 4-9-23z" color="#3176f8"/><path d="M2339 721l8 95 5 66-8-129z" color="#d9da7d"/><path d="M2488 925l7 79 5-9-8-37z" color="#5af8c8"/><path d="M2454 854l8 62 3 64-7-80z" color="#84ffb2"/><path d="M2478 1081l9 5 5-31-9 24z" color="#08bee9"/><path d="M2434 934l9-14 5-5-10 35z" color="#6dfdbf"/><path d="M2400 977l8 28 6-31-9 1z" color="#4af2cf"/><path d="M2029 845l5-156 4-66-6 126z" color="#dcd67a"/><path d="M2451 965l8 41 6-72-7-68z" color="#5efac6"/><path d="M2466 1027l8 29 5 19-8-36z" color="#20d5e1"/><path d="M2421 753l8 91 6-68-9 19z" color="#d2de81"/><path d="M2060 562l11 133 5-24-9-30z" color="#ff5f30"/><path d="M2370 641l7 148 5-31-8-67z" color="#ffa558"/><path d="M2467 755l7 94 6-66-9 10z" color="#d0e082"/><path d="M2510 961l8 53 6-56-9-6z" color="#52f5cb"/><path d="M2424 1094l9-4 5-61-9 14z" color="#0ac0e8"/><path d="M2262 1260l9 2 5-68-9-8z" color="#642cfe"/><path d="M2477 1088l9 32 5 2-9-34z" color="#06aeed"/><path d="M2322 1259l8 3 6-59-9-34z" color="#622ffe"/><path d="M2476 1133l8 30 6-44-9 7z" color="#1e91f3"/><path d="M1957 823l6-85 7 72-10-52z" color="#c8e688"/><path d="M2215 931l9 23 5-29-9-62z" color="#72febb"/><path d="M1945 730l12 93 3-65-8 31z" color="#e0d377"/><path d="M1957 802l7-75 4-48-11-85z" color="#f2c26b"/><path d="M2406 915l9 47 5-62-10 73z" color="#6dfdbf"/><path d="M2472 1002l8 52 5-38-7-73z" color="#3dead5"/><path d="M2481 1126l9-7 5 5-9-4z" color="#169bf2"/><path d="M2463 995l9 7 6-59-11 105z" color="#40ecd4"/><path d="M2032 873l10 56 6 15-11-73z" color="#86ffb0"/><path d="M2461 830l10-43 3 62-7-94z" color="#bced8f"/><path d="M2070 831l10 57 6 51-11-118z" color="#9efaa2"/><path d="M1993 1024l8-19 5-15-8-6z" color="#38e7d7"/><path d="M2020 1041l8-23 5-4-9-4z" color="#2ddedc"/><path d="M2539 923l8 48 6-53-9-17z" color="#70febc"/><path d="M2437 892l10-64 5-35-10 29z" color="#a2f9a0"/><path d="M2446 842l8 27 4 43-8-48z" color="#9cfba4"/><path d="M1983 971l10 53 5-40-9 11z" color="#48f1d0"/><path d="M1985 946l10 72 4-69-9-14z" color="#5df9c7"/><path d="M2415 962l8 17 6-46-9-33z" color="#60fac5"/><path d="M2328 972l8 17 5-24-8-68z" color="#58f8c9"/><path d="M2419 940l8 40 6-31-10 30z" color="#5df9c7"/><path d="M2451 941l9 16 4 26-9 17z" color="#58f8c9"/><path d="M2285 1260l9 3 5-85-9 19z" color="#622ffe"/><path d="M2431 1003l9 4 5 2-8-76z" color="#44eed2"/><path d="M2217 1258l9 3 5-84-9 5z" color="#6032fe"/><path d="M1933 812l6-74 5-31-11-50z" color="#e4cf74"/><path d="M2406 1164l7 85 6-82-9 12z" color="#3c68f9"/><path d="M2009 1034l9 40 5-47-9 13z" color="#22d6e0"/><path d="M2000 1026l9 8 5 6-8 7z" color="#28dbde"/><path d="M2473 1077l9 11 5-2-9-5z" color="#08bee9"/><path d="M2470 1040l8 41 5-2-9-23z" color="#18cde4"/><path d="M2063 840l9-12 6 42-11-86z" color="#b0f397"/><path d="M2405 975l9-1 5-34-9 36z" color="#54f6cb"/><path d="M2368 898l9-11 5-56-9-14z" color="#96fca7"/><path d="M2186 1255l8 3 5-66-9-57z" color="#5a3bfd"/><path d="M2001 1005l10 46 4-77-9 16z" color="#3dead5"/><path d="M2395 663l8 98 4 131-8-142z" color="#f2c26b"/><path d="M2231 874l9 33 5-138-9 70z" color="#a0faa1"/><path d="M2485 1016l10-25 5-11-9 16z" color="#3febd5"/><path d="M2447 828l8 34 5 7-8-76z" color="#aef498"/><path d="M2182 626l8-146 6 138-9 67z" color="#ff532a"/><path d="M1955 949l10 55 3-107-11-66z" color="#6efebe"/><path d="M2436 1108l10-16 5-21-9-3z" color="#00b5eb"/><path d="M2394 839l13-289 2 250-9-53z" color="#dcd67a"/><path d="M1957 831l11 66 7 82-10-55z" color="#8efeac"/><path d="M2458 866l7 68 4 49-7-67z" color="#7effb5"/><path d="M2383 1045l9 25 5-24-8-34z" color="#22d6e0"/><path d="M2177 1252l9 3 4-120-9 28z" color="#5444fd"/><path d="M2492 1055l9 15 5 6-9-24z" color="#17cbe4"/><path d="M1974 963l9 8 6 24-8 7z" color="#50f4cc"/><path d="M2435 1131l10-21 4 19-8-40z" color="#11a0f1"/><path d="M2421 1020l9 12 5-27-8-28z" color="#38e7d7"/><path d="M1970 729l8-18 7 52-9-2z" color="#f2c26b"/><path d="M2378 1051l8 69 5-27-9-16z" color="#0fc4e7"/><path d="M2337 701l10-76 4 141-9-39z" color="#ffa95b"/><path d="M2412 883l9 6 5 21-9-33z" color="#8cfead"/><path d="M2434 667l11-125 2 193-11 114z" color="#ff9d53"/><path d="M2076 765l8-33 6 71-11-138z" color="#ebca70"/><path d="M2407 550l5 283 6-58-9 25z" color="#ff964f"/><path d="M2460 1079l8 29 5-31-9-1z" color="#08bee9"/><path d="M2240 1259l9 3 4-91-8 7z" color="#5c38fd"/><path d="M2485 874l7 84 4 18-8-9z" color="#74feba"/><path d="M2449 1129l9-10 5-16-8-20z" color="#0ea5ef"/><path d="M1977 906l8-50 4-61-9 6z" color="#9efaa2"/><path d="M2035 928l9 37 5-29-8 30z" color="#68fcc1"/><path d="M2477 865l9 7 5-27-10 75z" color="#96fca7"/><path d="M2392 1070l9-9 6-44-10 29z" color="#1acfe3"/><path d="M2003 1010l9-16 3-84-7 59z" color="#4df3ce"/><path d="M1985 666l7-61 7 50-11-88z" color="#ff6d38"/><path d="M2062 668l10 88 4-69-7 61z" color="#ffa558"/><path d="M2063 926l7-95 5-10-8 30z" color="#92fda9"/><path d="M2072 756l7-91 8 112-11-90z" color="#f6be68"/><path d="M2449 1013l9-13 5-5-9-17z" color="#40ecd4"/><path d="M2434 1153l9 23 5-53-9 0z" color="#2489f5"/><path d="M2044 965l10 31 4-74-9 14z" color="#5df9c7"/><path d="M2382 1077l9 16 5-37-9 4z" color="#0fc4e7"/><path d="M2468 1108l9-20 5 0-9-11z" color="#00b5eb"/><path d="M2389 1012l8 34 5 4-8-43z" color="#30e1da"/><path d="M2095 693l7-180 8 199-12-186z" color="#ff6d38"/><path d="M2359 747l10-97 3 150-8-54z" color="#f2c26b"/><path d="M2361 929l10-42 4 31-8-66z" color="#80ffb4"/><path d="M2379 1048l10-36 5-5-9 12z" color="#2ddedc"/><path d="M1966 893l11 88 5-7-10-53z" color="#72febb"/><path d="M2421 889l9 4 5-8-9 25z" color="#8bfeae"/><path d="M2329 1127l9 37 5-30-9 7z" color="#1c93f3"/><path d="M2386 994l8 37 6-54-8-66z" color="#4df3ce"/><path d="M2436 770l9-27 6-53-11 93z" color="#e8cb72"/><path d="M2401 1061l9 9 5-4-8-49z" color="#1acfe3"/><path d="M2486 872l8 21 5 17-8-65z" color="#94fda8"/><path d="M1929 776l8-47 6 33-9-15z" color="#e4cf74"/><path d="M2109 584l7-169 7 172-7 120z" color="#ff2f18"/><path d="M2062 764l7-104 5-16-10-58z" color="#ffa055"/><path d="M2489 1029l9 0 6-38-9 0z" color="#37e6d8"/><path d="M2042 929l9-11 3-95-6 121z" color="#7dffb6"/><path d="M2034 993l9-25 5-17-8 46z" color="#4df3ce"/><path d="M2379 1030l8 30 5 10-9-25z" color="#22d6e0"/><path d="M2411 851l10-98 5 42-8-94z" color="#c8e688"/><path d="M2086 939l8-31 5-27-12-185z" color="#90feab"/><path d="M1982 974l8-39 4-24-8 12z" color="#64fbc3"/><path d="M2369 809l9 14 5 23-9-37z" color="#bced8f"/><path d="M2269 1005l9-90 5 12-9-97z" color="#64fbc3"/><path d="M2037 871l11 73 4-23-11-120z" color="#92fda9"/><path d="M2462 1143l9-14 5 4-9-13z" color="#1996f3"/><path d="M2048 944l6-121 6 53-8 45z" color="#80ffb4"/><path d="M2453 1115l9 28 5-23-9-1z" color="#11a0f1"/><path d="M2415 1066l9 28 5-51-8-58z" color="#1dd1e2"/><path d="M2377 887l8 13 6-82-9 13z" color="#9bfba5"/><path d="M2430 1032l9-34 5 12-9-5z" color="#37e6d8"/><path d="M2345 955l9 4 5 44-8-73z" color="#5df9c7"/><path d="M2455 1083l8 20 5 5-8-29z" color="#04b9ea"/><path d="M2366 1000l8 59 5-11-8-55z" color="#37e6d8"/><path d="M2360 660l10-19 4 50-10 125z" color="#ff9b52"/><path d="M2441 1089l8 40 6-46-9 9z" color="#00b5eb"/><path d="M2276 1194l9 66 5-63-9-8z" color="#4a53fb"/><path d="M2407 917l9-16 5-12-9-6z" color="#82ffb3"/><path d="M2353 797l9-11 7-136-10 97z" color="#e4cf74"/><path d="M1976 761l9 2 3-111-7 69z" color="#f4c069"/><path d="M2378 982l9-37 5 4-8-69z" color="#62fbc4"/><path d="M2107 1123l9 4 4-31-8 2z" color="#0ca7ef"/><path d="M2222 797l9 77 5-35-9-11z" color="#bbee91"/><path d="M1962 958l9 18 6 5-11-88z" color="#60fac5"/><path d="M2071 1075l9 38 5-56-9 33z" color="#0ac0e8"/><path d="M2464 1076l9 1 5 4-8-41z" color="#12c8e6"/><path d="M2443 1176l9-23 5-16-9-14z" color="#2884f6"/><path d="M2057 572l12 176 6 51-12-151z" color="#ff7b40"/><path d="M2473 1089l8 37 5-6-9-32z" color="#01b3ec"/><path d="M2460 869l8 17 6-55-7-112z" color="#aef498"/><path d="M2067 733l9 32 3-100-7 91z" color="#f9bb66"/><path d="M2467 1048l11-105 5-15-10 53z" color="#42edd3"/><path d="M2376 959l9 60 5-8-9-1z" color="#4af2cf"/><path d="M1952 928l2-239 9 120-8 20z" color="#a8f79c"/><path d="M1969 921l8-15 3-105-12-120z" color="#a2f9a0"/><path d="M2346 823l9 16 6-48-10 28z" color="#bced8f"/><path d="M2404 994l9 1 5-34-10 44z" color="#48f1d0"/><path d="M2384 783l9 48 6-86-10 27z" color="#d4dd80"/><path d="M2421 932l10-67 5-11-8-66z" color="#92fda9"/><path d="M2467 1120l9 13 5-7-8-37z" color="#0ea5ef"/><path d="M2434 787l8 35 5 2-8-38z" color="#cbe486"/><path d="M2336 1203l8 57 6-82-9 7z" color="#4a53fb"/><path d="M2052 921l8-45 6 19-10-82z" color="#8cfead"/><path d="M2270 972l8 118 6-76-9 22z" color="#3dead5"/><path d="M2495 991l9 0 4 26-8-37z" color="#46efd1"/><path d="M2350 1178l8 80 6-61-9-25z" color="#4062fa"/><path d="M1966 886l8-28 5-11-9-8z" color="#9cfba4"/><path d="M2018 1074l8-40 6-5-9-2z" color="#20d5e1"/><path d="M2321 849l9-25 5 118-9-51z" color="#9cfba4"/><path d="M2443 947l11-93 4 46-9-34z" color="#80ffb4"/><path d="M2409 799l8 78 4 55-7-84z" color="#acf59a"/><path d="M2435 885l8 62 6-81-8-25z" color="#90feab"/><path d="M2463 1103l10-14 4-1-9 20z" color="#00b5eb"/><path d="M2008 969l7-59 8 94-11-76z" color="#5efac6"/><path d="M2391 1093l9 10 6-63-10 16z" color="#0dc2e8"/><path d="M2394 868l8 90 5-41-8-61z" color="#8efeac"/><path d="M2338 1164l9-34 5 16-9-12z" color="#2489f5"/><path d="M2361 1027l9 22 4 10-8-59z" color="#2fe0db"/><path d="M2058 717l6-131 7 109-11-133z" color="#ff8444"/><path d="M2397 845l10-84 5-31-11 161z" color="#beec8e"/><path d="M2026 927l9 1 6 38-10-47z" color="#70febc"/><path d="M2445 1009l9-31 6-21-9-16z" color="#4ef3cd"/><path d="M2125 762l9 50 4-108-8 44z" color="#e6cd73"/><path d="M2397 1046l10-29 5-11-10 44z" color="#2adddd"/><path d="M2056 816l6-148 7 80-12-176z" color="#f4c069"/><path d="M2034 689l11 86 5 12-12-164z" color="#ffa95b"/><path d="M2260 1175l9-11 5-21-9 24z" color="#2e7bf7"/><path d="M2510 704l6 118 5-17-7-76z" color="#eec66d"/><path d="M2064 963l8-3 5-33-10-52z" color="#6afdc0"/><path d="M2254 850l9 6 5-18-9-24z" color="#aef498"/><path d="M2227 613l9-10 5 187-10-420z" color="#ff4724"/><path d="M2276 1097l9 30 5-71-9 44z" color="#02b7eb"/><path d="M2237 1051l9 11 5-11-9-20z" color="#22d6e0"/><path d="M2406 1040l8 61 5-44-9 13z" color="#1dd1e2"/><path d="M2442 822l10-29 5 6-10 25z" color="#c2ea8c"/><path d="M2132 1073l8-35 6 43-10-83z" color="#1fd3e1"/><path d="M2458 1119l9 1 6-31-10 14z" color="#08acee"/><path d="M2426 990l8 64 5-56-9 34z" color="#3dead5"/><path d="M2018 750l10 57 5 21-10-73z" color="#dcd67a"/><path d="M2148 1113l9-25 5 10-9-32z" color="#00b5eb"/><path d="M2333 1153l9 16 5-39-9 34z" color="#2686f5"/><path d="M2457 1137l9 8 5-16-9 14z" color="#1996f3"/><path d="M2458 1000l9-13 5 15-9-7z" color="#46efd1"/><path d="M2268 838l9 16 5-10-9-46z" color="#b2f396"/><path d="M2421 1131l8 26 5-4-8-27z" color="#1996f3"/><path d="M2372 951l9 59 5-16-9-40z" color="#58f8c9"/><path d="M2255 886l9-79 5-50-9 24z" color="#b4f295"/><path d="M2242 1031l9 20 5-5-9-31z" color="#2ddedc"/><path d="M2158 1077l9-2 5 17-9-68z" color="#14cae5"/><path d="M2153 1066l9 32 5-23-9 2z" color="#10c6e6"/><path d="M2352 1146l9 5 5-22-9-9z" color="#1c93f3"/><path d="M2021 1012l10 96 5-34-10-40z" color="#27dade"/><path d="M2224 715l8-81 5 98-9-64z" color="#ff9d53"/><path d="M2380 883l8 40 6-55-10 70z" color="#8bfeae"/><path d="M2388 923l10-33 4 68-8-90z" color="#7effb5"/><path d="M2200 1036l9 26 5 12-9-41z" color="#24d8df"/><path d="M2394 1007l8 43 6-80-9 40z" color="#3febd5"/><path d="M2364 1197l8 59 6-98-9 3z" color="#4062fa"/><path d="M2391 818l8 75 6-63-9 20z" color="#b0f397"/><path d="M2446 1092l9-9 5-4-9-8z" color="#0ac0e8"/><path d="M2426 910l9-25 6-44-10 24z" color="#90feab"/><path d="M2114 1154l9 19 5-35-9-28z" color="#208ef4"/><path d="M2451 1071l9 8 4-3-8-26z" color="#14cae5"/><path d="M2163 1024l9 68 5-40-9-3z" color="#27dade"/><path d="M2400 1103l9-37 5 35-8-61z" color="#0ac0e8"/><path d="M2092 891l10 95 3-160-8 23z" color="#8efeac"/><path d="M2167 1179l10 73 4-89-9-20z" color="#386df9"/><path d="M2039 674l4-287 11 316-8 23z" color="#ff6b37"/><path d="M2372 1089l9 1 5 30-8-69z" color="#08bee9"/><path d="M2332 803l8 79 5-41-9 30z" color="#b4f295"/><path d="M2442 945l9-4 4 59-8-86z" color="#66fcc2"/><path d="M1990 981l10 45 6 21-10-33z" color="#40ecd4"/><path d="M2469 947l9 27 7-100-11 89z" color="#6dfdbf"/><path d="M2313 1204l9 55 5-90-9 3z" color="#445cfb"/><path d="M2360 995l9-32 6-114-9 20z" color="#6afdc0"/><path d="M1937 729l8 1 7 59-9-27z" color="#f0c46c"/><path d="M2055 1041l9 31 4-41-9-42z" color="#2ddedc"/><path d="M2038 982l10 68 3-94-8 12z" color="#4df3ce"/><path d="M2439 998l9 35 5-28-9 5z" color="#3febd5"/><path d="M2419 1057l10-60 4 93-9 4z" color="#1dd1e2"/><path d="M2024 1010l9 4 5-32-9-13z" color="#44eed2"/><path d="M2448 1123l9 14 5 6-9-28z" color="#11a0f1"/><path d="M2320 814l9-8 4 44-8-153z" color="#cce385"/><path d="M2055 967l10 65 5-10-9-35z" color="#4af2cf"/><path d="M1964 917l10 46 7 39-10-26z" color="#66fcc2"/><path d="M1976 812l6-74 6-5-10-22z" color="#e0d377"/><path d="M2429 844l10-58 6-68-10 58z" color="#cbe486"/><path d="M2429 997l7 111 6-40-9 22z" color="#27dade"/><path d="M2055 973l9-10 3-88-8-2z" color="#6efebe"/><path d="M2349 842l9 58 5 5-8-105z" color="#a6f89d"/><path d="M2027 858l10 84 5-13-10-56z" color="#90feab"/><path d="M1963 809l5-128 9 141-6 75z" color="#c8e688"/><path d="M2332 727l9 42 6-144-10 76z" color="#ffa95b"/><path d="M2006 990l9-16 5-14-8 34z" color="#50f4cc"/><path d="M2061 987l9 35 5-38-10-19z" color="#4df3ce"/><path d="M2396 1056l10-16 4 30-9-9z" color="#1fd3e1"/><path d="M2072 1033l9 20 5 12-9-33z" color="#28dbde"/><path d="M2026 1034l10 40 4-40-8-5z" color="#2adddd"/><path d="M2333 850l10-94 4 60-8-95z" color="#c8e688"/><path d="M2225 832l9 98 5-35-9-43z" color="#a2f9a0"/><path d="M2066 895l8-47 6 40-10-57z" color="#99fca6"/><path d="M2359 844l9 54 5-81-8-27z" color="#b2f396"/><path d="M2229 1117l9 39 5-55-9 1z" color="#0ca7ef"/><path d="M2340 989l9-28 5-2-9-4z" color="#56f7ca"/><path d="M2392 1144l8 107 6-87-9-4z" color="#2e7bf7"/><path d="M2457 1048l9-21 5 12-8-59z" color="#30e1da"/><path d="M2483 928l8 68 4 8-7-79z" color="#64fbc3"/><path d="M2074 775l9-10 5 16-9-60z" color="#e4cf74"/><path d="M2448 1033l9 15 6-68-10 25z" color="#37e6d8"/><path d="M2394 1114l9-2 5 27-9-32z" color="#09a9ee"/><path d="M2402 1131l8 48 6-38-10 32z" color="#208ef4"/><path d="M2384 938l10-70 5-12-9 34z" color="#86ffb0"/><path d="M2094 908l7-102 6 18-8 57z" color="#9cfba4"/><path d="M2361 1151l9 5 5-31-9 4z" color="#1c93f3"/><path d="M2371 993l8 55 6-29-9-60z" color="#44eed2"/><path d="M2433 1090l9-22 5-46-9 7z" color="#18cde4"/><path d="M2398 1133l8 40 6-44-9-17z" color="#169bf2"/><path d="M2403 923l9-40 5-6-8-78z" color="#92fda9"/><path d="M2385 900l10-84 4 77-8-75z" color="#9cfba4"/><path d="M2208 1256l9 2 5-76-10-91z" color="#4e4dfc"/><path d="M2406 1173l10-32 5-10-9-2z" color="#218cf4"/><path d="M2443 920l8 45 7-99-10 49z" color="#7dffb6"/><path d="M2067 1051l9 39 5-37-9-20z" color="#20d5e1"/><path d="M2336 747l10-107 4 95-9 34z" color="#fcb763"/><path d="M2417 987l9 3 4 42-9-12z" color="#44eed2"/><path d="M2246 793l9 93 5-105-9-54z" color="#d0e082"/><path d="M2413 995l8 25 6-43-9-16z" color="#4df3ce"/><path d="M2437 744l9 18 4 8-5-228z" color="#ffae5e"/><path d="M2103 983l8 5 5-46-8 34z" color="#56f7ca"/><path d="M2115 784l9 24 5-24-10-62z" color="#dcd67a"/><path d="M2427 980l10-47 5 12-9 4z" color="#60fac5"/><path d="M2023 755l10 73 5-20-11-127z" color="#e4cf74"/><path d="M1988 733l10 62 3-79-8 3z" color="#f6be68"/><path d="M2014 818l8-24 6 13-10-57z" color="#cce385"/><path d="M1979 902l9 34 1-189-5 171z" color="#94fda8"/><path d="M2461 1041l9-1 4 16-8-29z" color="#2adddd"/><path d="M2445 718l8 39 5 18-10 67z" color="#ebca70"/><path d="M2215 786l9 55 5-43-9-72z" color="#d6db7e"/><path d="M2172 1092l9-49 5-1-9 10z" color="#17cbe4"/><path d="M2220 863l9 62 5 5-9-98z" color="#96fca7"/><path d="M2152 1106l9-5 5 25-9-38z" color="#01b3ec"/><path d="M2407 761l8 66 3 84-6-181z" color="#d2de81"/><path d="M2463 980l8 59 5-6-9-46z" color="#46efd1"/><path d="M2422 1084l9-6 4 53-9 0z" color="#02b7eb"/><path d="M2399 1107l9 32 5-44-9-19z" color="#01b3ec"/><path d="M2178 1109l10 33 5-3-9-27z" color="#0ca7ef"/><path d="M1977 822l8-26 4-57-6 82z" color="#cbe486"/><path d="M2347 625l8 112 5-77-9 106z" color="#ff8947"/><path d="M2029 969l9 13 5-14-9 25z" color="#56f7ca"/><path d="M2453 757l8 73 6-75-9 20z" color="#e0d377"/><path d="M2343 1134l9 12 5-26-9-23z" color="#10a2f0"/><path d="M2284 794l9-13 5-34-9-26z" color="#e0d377"/><path d="M2399 1010l9-40 5 25-9-1z" color="#46efd1"/><path d="M2317 904l9-13 6-88-9-2z" color="#a0faa1"/><path d="M2301 1037l9 23 5-54-9 4z" color="#30e1da"/><path d="M2456 1050l8 26 6-36-9 1z" color="#22d6e0"/><path d="M1963 738l9 13 6 24-8 35z" color="#e8cb72"/><path d="M2361 791l8 18 5 0-9-4z" color="#cee184"/><path d="M2080 1113l9-8 4-57-8 9z" color="#08bee9"/><path d="M2278 1090l9-106 5 35-8-5z" color="#27dade"/><path d="M2356 1133l9 25 5-2-9-5z" color="#1c93f3"/><path d="M2404 1076l9 19 4 33-8-62z" color="#0dc2e8"/><path d="M2437 933l8 76 6-68-9 4z" color="#68fcc1"/><path d="M2348 982l9 43 5-40-9 24z" color="#4af2cf"/><path d="M2139 1054l9 59 5-47-9 13z" color="#17cbe4"/><path d="M2023 1027l9 2 4-23-8 12z" color="#37e6d8"/><path d="M2134 908l7-130 5-61-9 23z" color="#bced8f"/><path d="M2076 1090l9-33 5-13-9 9z" color="#17cbe4"/><path d="M2377 954l9 40 6-83-10 64z" color="#64fbc3"/><path d="M2352 1024l9 3 5-27-9 25z" color="#38e7d7"/><path d="M2028 1018l8-12 5-14-8 22z" color="#3febd5"/><path d="M2139 951l9 42 5-57-9 47z" color="#60fac5"/><path d="M2105 1154l9 0 5-44-9-4z" color="#1898f2"/><path d="M2439 1123l9 0 5-8-8-5z" color="#09a9ee"/><path d="M2097 958l9 39 5-9-8-5z" color="#58f8c9"/><path d="M1978 711l10 22 5-14-8 44z" color="#ffb360"/><path d="M2321 1013l9 2 5-41-8-61z" color="#4df3ce"/><path d="M2244 676l9 53 5 68-9-25z" color="#ffb05f"/><path d="M2048 1050l7-83 6 20-10-31z" color="#40ecd4"/><path d="M2016 846l9 17 5-10-10-58z" color="#b2f396"/><path d="M2069 660l9 12 5-20-9-8z" color="#ff793e"/><path d="M2309 832l8 72 6-103-9 28z" color="#b4f295"/><path d="M2123 1173l9-34 5-13-9 12z" color="#218cf4"/><path d="M2012 994l8-34 6 26-11-76z" color="#58f8c9"/><path d="M2061 1092l9 24 4-41-8 27z" color="#07bbea"/><path d="M2328 1151l9 11 5 7-9-16z" color="#2489f5"/><path d="M2431 1078l8 45 6-13-10 21z" color="#02b7eb"/><path d="M2473 981l10-53 5-3-10 49z" color="#60fac5"/><path d="M2478 943l7 73 6-20-8-68z" color="#60fac5"/><path d="M2327 1169l9 34 5-18-9 16z" color="#3670f8"/><path d="M2123 1042l9 31 4-75-8 17z" color="#2fe0db"/><path d="M2390 890l9-34 4 67-8-107z" color="#9bfba5"/><path d="M2378 1158l8 96 6-110-9 22z" color="#2e7bf7"/><path d="M2354 959l9 19 6-96-10 121z" color="#64fbc3"/><path d="M2367 1006l9-47 5 51-9-59z" color="#4ef3cd"/><path d="M2070 728l9-7 5 11-8 33z" color="#fbb965"/><path d="M2250 813l9-200 5 115-9-84z" color="#fbb965"/><path d="M2089 884l8-35 4-43-7 102z" color="#a0faa1"/><path d="M2327 1058l9 43 4 2-8-55z" color="#17cbe4"/><path d="M2078 1106l9 10 6-1-9-16z" color="#01b3ec"/><path d="M2060 876l9-7 5-21-8 47z" color="#9cfba4"/><path d="M2334 1141l9-7 5-37-8-10z" color="#0ca7ef"/><path d="M2214 962l9-12 5-44-9-19z" color="#70febc"/><path d="M2227 596l9 128 5 110-9-200z" color="#ff8143"/><path d="M2022 906l9 13 6 23-10-84z" color="#86ffb0"/><path d="M2110 1106l9 4 5 15-8 2z" color="#06aeed"/><path d="M2297 1139l8 14 5 29-8-60z" color="#1c93f3"/><path d="M2218 716l9 112 6-4-9 17z" color="#ded579"/><path d="M2357 1120l9 9 5-28-9 12z" color="#08acee"/><path d="M2369 963l9 19 6-102-9-31z" color="#74feba"/><path d="M2385 1111l9 3 5-7-9-17z" color="#01b3ec"/><path d="M2143 1069l9 37 5-18-9 25z" color="#0dc2e8"/><path d="M2036 1074l9-3 3-79-8 42z" color="#24d8df"/><path d="M2395 816l8 107 6-124-10 94z" color="#b0f397"/><path d="M2101 1083l9 23 6 21-9-4z" color="#02b7eb"/><path d="M2200 932l9 15 5 15-9-79z" color="#76ffb9"/><path d="M2159 979l9 70 6 20-10-58z" color="#40ecd4"/><path d="M2072 828l8-25 5-40-7 107z" color="#c0eb8d"/><path d="M1999 949l9 20 4-41-9-35z" color="#70febc"/><path d="M2108 976l8-34 5 18-9-17z" color="#62fbc4"/><path d="M2146 1081l9-6 4-96-9 14z" color="#27dade"/><path d="M2393 1135l9-4 4 42-8-40z" color="#1898f2"/><path d="M2314 954l9-79 5 97-9-18z" color="#6efebe"/><path d="M2115 684l10 78 5-14-9 12z" color="#ffae5e"/><path d="M2084 1099l9 16 4-50-8 40z" color="#07bbea"/><path d="M2370 1156l9 16 5-62-9 15z" color="#1c93f3"/><path d="M2410 1179l9-12 6-27-9 1z" color="#2884f6"/><path d="M2403 1112l9 17 5-35-9 45z" color="#08acee"/><path d="M1998 795l8-42 4-48-9 11z" color="#ebca70"/><path d="M2177 741l9 42 4-204-8 139z" color="#ffac5c"/><path d="M2045 799l6-175 7 93-15-330z" color="#ff914c"/><path d="M2299 1178l9 83 5-57-9-55z" color="#396bf9"/><path d="M2299 1006l9-53 4 86-8-139z" color="#52f5cb"/><path d="M2332 1201l9-16 5-31-9 8z" color="#3670f8"/><path d="M2343 1005l9 19 5 1-9-43z" color="#42edd3"/><path d="M2337 1162l9-8 5 14-9 1z" color="#2686f5"/><path d="M2442 1068l9 3 5-21-9-28z" color="#20d5e1"/><path d="M2012 634l12 124 2-117-8 25z" color="#ff7b40"/><path d="M2426 1126l8 27 5-30-8-45z" color="#0ca7ef"/><path d="M2434 1054l10-79 4 58-9-35z" color="#34e4d9"/><path d="M2251 1118l9 57 5-8-9-50z" color="#149df1"/><path d="M2286 717l8 23 5 6-8-48z" color="#ffae5e"/><path d="M2149 1024l9 53 5-53-8 51z" color="#2ddedc"/><path d="M2378 823l10-109 4 153-9-21z" color="#c4e88a"/><path d="M2351 930l8 73 6-99-9-4z" color="#74feba"/><path d="M2323 1159l9 42 5-39-9-11z" color="#2884f6"/><path d="M2157 968l9 30 5-12-9-33z" color="#5af8c8"/><path d="M2015 974l9 36 5-41-9-9z" color="#58f8c9"/><path d="M2374 1022l8 55 5-17-8-30z" color="#2ddedc"/><path d="M2372 702l8 103 5-43-8-57z" color="#feb562"/><path d="M2324 956l9-59 5 9-9-10z" color="#78ffb8"/><path d="M2098 644l12 157 3-159-9 41z" color="#ff8947"/><path d="M2079 721l9 60 5-52-9 3z" color="#fcb763"/><path d="M2144 1079l9-13 5 11-9-53z" color="#1acfe3"/><path d="M2342 1169l9-1 5-35-9-3z" color="#218cf4"/><path d="M2101 975l9 61 5-58-9 19z" color="#4ef3cd"/><path d="M2132 850l9 24 4-85-10-53z" color="#beec8e"/><path d="M2164 1011l10 58 4-48-9-68z" color="#40ecd4"/><path d="M2228 1029l9 22 5-20-9-20z" color="#34e4d9"/><path d="M2253 1171l9 89 5-74-8-30z" color="#3670f8"/><path d="M2323 801l9 2 4 68-9-17z" color="#c0eb8d"/><path d="M2423 1068l9 34 4 6-7-111z" color="#1acfe3"/><path d="M2239 1061l9 51 5-1-9-49z" color="#14cae5"/><path d="M2070 1116l8-10 6-7-10-24z" color="#02b7eb"/><path d="M2408 970l9 17 4 33-8-25z" color="#52f5cb"/><path d="M2067 875l10 52 6 35-11-101z" color="#8efeac"/><path d="M2119 1110l9 28 5-27-9 14z" color="#08acee"/><path d="M2065 1032l7-67 6 12-8 45z" color="#42edd3"/><path d="M2106 997l9-19 5-7-9 17z" color="#50f4cc"/><path d="M1978 956l8-33 3-90-7 53z" color="#80ffb4"/><path d="M2067 851l8-30 5-18-8 25z" color="#b9ef92"/><path d="M2267 868l9-12 5 0-9-26z" color="#a8f79c"/><path d="M2429 1043l9-14 6-54-10 79z" color="#34e4d9"/><path d="M2384 880l8 69 6-59-10 33z" color="#8cfead"/><path d="M2416 1141l9-1 4 17-8-26z" color="#1898f2"/><path d="M2447 1022l9 28 5-9-9 1z" color="#32e3da"/><path d="M2099 1001l10 66 5-52-9 6z" color="#3dead5"/><path d="M2094 1003l10 78 5-14-10-66z" color="#37e6d8"/><path d="M2421 985l8 58 5 11-8-64z" color="#42edd3"/><path d="M2364 1061l8 28 6-38-10 27z" color="#1acfe3"/><path d="M2255 1133l9 40 5-9-9 11z" color="#1e91f3"/><path d="M2302 1122l8 60 6-67-9 1z" color="#10a2f0"/><path d="M2259 814l9 24 5-40-9 9z" color="#c6e789"/><path d="M2074 644l9 8 5 30-10-102z" color="#ff6533"/><path d="M2309 1051l9 26 5-28-9 12z" color="#22d6e0"/><path d="M2297 780l9-210 5 58-9 64z" color="#ff9d53"/><path d="M2399 893l10-94 5 49-9-18z" color="#a8f79c"/><path d="M2110 1036l8-57 6 35-9-36z" color="#40ecd4"/><path d="M1982 886l7-53 7 60-8 43z" color="#94fda8"/><path d="M2397 1160l9 4 4 15-8-48z" color="#2489f5"/><path d="M2152 1009l8-40 6 29-9-30z" color="#4df3ce"/><path d="M2177 1165l9-13 5 1-9-27z" color="#208ef4"/><path d="M2357 1025l9-25 5-7-9-8z" color="#42edd3"/><path d="M2326 1106l8 35 6-54-9-6z" color="#02b7eb"/><path d="M2368 1078l10-27 4 26-8-55z" color="#1fd3e1"/><path d="M2261 683l9 35 5 59-8 52z" color="#feb562"/><path d="M2025 863l10 33 2-148-7 105z" color="#b0f397"/><path d="M2360 1063l8 15 6-56-9 16z" color="#24d8df"/><path d="M2408 1139l9-45 5-10-9 11z" color="#06aeed"/><path d="M2402 1050l10-44 5-19-9-17z" color="#3dead5"/><path d="M2300 1164l9 29 5-50-9 10z" color="#2686f5"/><path d="M1993 719l8-3 7 52-11-93z" color="#ffac5c"/><path d="M2366 1129l9-4 5-6-9-18z" color="#09a9ee"/><path d="M2431 865l10-24 5 1-10 12z" color="#abf69b"/><path d="M2351 1168l9-9 5-1-9-25z" color="#218cf4"/><path d="M2355 737l9 9 6-105-10 19z" color="#ffa256"/><path d="M2376 1087l9 24 5-21-9 0z" color="#0ac0e8"/><path d="M2105 1021l9-6 4-36-8 57z" color="#3febd5"/><path d="M2323 875l9 56 4 58-8-17z" color="#7effb5"/><path d="M2186 1152l9 14 5-17-9 4z" color="#208ef4"/><path d="M2267 1186l9 8 5-5-9-15z" color="#3670f8"/><path d="M2291 1169l9-5 5-11-8-14z" color="#2489f5"/><path d="M2379 1172l9-13 5-24-9-25z" color="#1e91f3"/><path d="M2346 1022l9 52 5-11-9-2z" color="#2adddd"/><path d="M2153 936l9 17 5 52-9-83z" color="#6dfdbf"/><path d="M2195 1166l9 15 5-30-9-2z" color="#2686f5"/><path d="M2355 839l10-49 4 19-8-18z" color="#c4e88a"/><path d="M2395 1062l9 14 5-10-9 37z" color="#18cde4"/><path d="M1985 856l8-9 4-49-8-3z" color="#bbee91"/><path d="M2240 1009l10 91 4-58-8 20z" color="#2fe0db"/><path d="M2265 1167l9-24 5-21-9-12z" color="#1996f3"/><path d="M2231 1177l9 82 5-81-9-37z" color="#3473f8"/><path d="M2219 887l9 19 5-18-9 66z" color="#8cfead"/><path d="M2310 1060l9-46 5 14-9-22z" color="#30e1da"/><path d="M2219 794l8-198 5 38-8 81z" color="#ffac5c"/><path d="M2199 1192l9 64 4-165-8 90z" color="#3473f8"/><path d="M2098 910l10 66 4-33-8 2z" color="#76ffb9"/><path d="M2302 692l9-64 5 56-9-71z" color="#ff7e41"/><path d="M2081 1053l9-9 4-41-8 62z" color="#2adddd"/><path d="M2264 1173l8 1 6-21-9 11z" color="#2884f6"/><path d="M2289 721l9 26 5 5-9-12z" color="#feb562"/><path d="M2284 1126l9-8 5-2-9-5z" color="#08acee"/><path d="M1972 751l11 70 2-101-7 55z" color="#ebca70"/><path d="M2272 830l9 26 5-44-9 42z" color="#b9ef92"/><path d="M2012 1025l9-13 5 22-8 40z" color="#34e4d9"/><path d="M1994 911l9-18 5 20-8 14z" color="#86ffb0"/><path d="M2250 712l9 102 5-7-9 79z" color="#e0d377"/><path d="M2147 1091l9 42 5-32-9 5z" color="#04b9ea"/><path d="M2355 1172l9 25 5-36-9-2z" color="#2c7ef7"/><path d="M2315 1006l9 22 5 1-9-35z" color="#42edd3"/><path d="M2478 974l10-49 4 33-7-84z" color="#6efebe"/><path d="M2453 1005l10-25 4 7-9 13z" color="#4df3ce"/><path d="M2057 1096l9 6 5-27-10-68z" color="#14cae5"/><path d="M2217 796l9 45 5 33-9-77z" color="#c4e88a"/><path d="M2111 852l9 12 5-3-9-11z" color="#acf59a"/><path d="M2269 1164l9-11 5 0-9-10z" color="#208ef4"/><path d="M2356 1003l9 35 5 11-9-22z" color="#3dead5"/><path d="M2274 1143l9 10 5-6-9-25z" color="#169bf2"/><path d="M2197 953l9 82 5-33-9-45z" color="#5af8c8"/><path d="M2351 1061l9 2 5-25-9-35z" color="#2adddd"/><path d="M2412 1129l9 2 5-5-9-32z" color="#09a9ee"/><path d="M1990 935l9 14 4-56-9 18z" color="#7dffb6"/><path d="M2318 1172l9-3 5 32-9-42z" color="#2c7ef7"/><path d="M2289 1111l9 5 5-22-9 5z" color="#02b7eb"/><path d="M2032 1029l8 5 5-31-9 3z" color="#3ae8d6"/><path d="M2093 948l10 35 5-7-10-66z" color="#6afdc0"/><path d="M2285 1127l9-28 5-38-9-5z" color="#07bbea"/><path d="M2273 991l9 61 5-68-9 106z" color="#3febd5"/><path d="M2371 1101l9 18 5-8-9-24z" color="#04b9ea"/><path d="M2045 1071l8-24 5 17-10-72z" color="#27dade"/><path d="M2389 1113l9 20 5-21-9 2z" color="#06aeed"/><path d="M2060 663l10 65 6 37-9-32z" color="#ff9d53"/><path d="M2210 812l8-96 6 125-9-55z" color="#d4dd80"/><path d="M2340 1103l10-42 5 13-9-52z" color="#17cbe4"/><path d="M2097 1065l10 58 5-25-10-45z" color="#14cae5"/><path d="M2340 882l9-40 6-42-10 41z" color="#acf59a"/><path d="M2362 985l9 8 5-34-9 47z" color="#54f6cb"/><path d="M2279 1122l9 25 5-29-9 8z" color="#0ca7ef"/><path d="M2018 864l9-6 5 15-7 52z" color="#9efaa2"/><path d="M2334 910l9-5 5-43-9-3z" color="#92fda9"/><path d="M2275 1090l9 36 5-15-9-1z" color="#04b9ea"/><path d="M2360 1159l9 2 5-4-9 1z" color="#218cf4"/><path d="M2093 1115l8-32 6 40-10-58z" color="#04b9ea"/><path d="M2232 1055l8-46 6 53-9-11z" color="#2adddd"/><path d="M2195 1034l9 25 5 3-9-26z" color="#2ddedc"/><path d="M2441 841l8 25 5 3-8-27z" color="#b0f397"/><path d="M2234 1102l9-1 5 11-9-51z" color="#08bee9"/><path d="M2348 1097l9 23 5-7-8-36z" color="#07bbea"/><path d="M2090 1044l9 12 5 25-10-78z" color="#2ddedc"/><path d="M2330 1015l9-29 6-55-10 43z" color="#52f5cb"/><path d="M2304 1149l9 55 5-32-9 21z" color="#2884f6"/><path d="M2065 737l9 38 5-54-9 7z" color="#fbb965"/><path d="M2365 1038l9-16 5 8-9 19z" color="#32e3da"/><path d="M2281 1100l9-44 5-12-9 19z" color="#17cbe4"/><path d="M2075 984l8 3 5-8-9-46z" color="#5af8c8"/><path d="M2191 928l9 4 5-49-9 42z" color="#80ffb4"/><path d="M2343 756l8 63 6-95-10 92z" color="#e4cf74"/><path d="M2155 1075l8-51 5 25-9-70z" color="#2ddedc"/><path d="M2232 1150l9 15 5-13-9 3z" color="#1e91f3"/><path d="M2346 1154l9 18 5-13-9 9z" color="#218cf4"/><path d="M2309 1193l9-21 5-13-9-16z" color="#2c7ef7"/><path d="M2392 911l8 66 5-2-8-66z" color="#78ffb8"/><path d="M2407 1017l8 49 6-81-9 21z" color="#3febd5"/><path d="M2335 974l10-43 4 30-9 28z" color="#60fac5"/><path d="M2148 993l9-25 5-15-9-17z" color="#5df9c7"/><path d="M2089 808l6-132 3-193-6 186z" color="#ffa055"/><path d="M2124 707l10 127 2-316-9 46z" color="#ff8143"/><path d="M2061 1007l10 68 5 15-9-39z" color="#30e1da"/><path d="M2112 1098l8-2 5-37-9-2z" color="#12c8e6"/><path d="M2141 1154l9 14 4-33-8 0z" color="#1c93f3"/><path d="M2351 819l10-28 4 14-8-81z" color="#d4dd80"/><path d="M2184 1112l9 27 4-70-8 16z" color="#04b9ea"/><path d="M2052 695l8-32 7 70-9 30z" color="#ffa055"/><path d="M2050 1005l9-16 6 43-10-65z" color="#4af2cf"/><path d="M2107 1049l9 8 6 23-10-32z" color="#24d8df"/><path d="M2414 1101l9-33 6-71-10 60z" color="#1acfe3"/><path d="M2316 951l9-100 5-27-9 25z" color="#92fda9"/><path d="M2350 1061l8 22 6-22-9 13z" color="#1fd3e1"/><path d="M2193 1139l8-10 5-35-9-25z" color="#06aeed"/><path d="M2229 798l9 16 4-105-8 47z" color="#e0d377"/><path d="M2046 774l10 39 7 113-10-93z" color="#c6e789"/><path d="M2382 975l10-64 5-2-10 36z" color="#6efebe"/><path d="M2124 1014l9-16 5-18-9-8z" color="#4df3ce"/><path d="M2172 1143l9 20 5-11-9 13z" color="#1c93f3"/><path d="M2247 1015l9 31 5-71-9 12z" color="#44eed2"/><path d="M2169 953l9 68 5-23-8 7z" color="#58f8c9"/><path d="M2388 1159l9 1 5-29-9 4z" color="#1c93f3"/><path d="M2365 790l8 27 5 6-9-14z" color="#d0e082"/><path d="M2439 786l8 38 6-67-8-39z" color="#e2d176"/><path d="M2115 978l9 36 5-42-9-1z" color="#56f7ca"/><path d="M2237 1155l9-3 5-34-9 23z" color="#1898f2"/><path d="M2059 989l9 42 4-66-7 67z" color="#4df3ce"/><path d="M1989 833l11 94 5-28-9-6z" color="#a2f9a0"/><path d="M2150 1168l8 7 5-39-9-1z" color="#208ef4"/><path d="M2096 1108l9 46 5-48-9-23z" color="#00b5eb"/><path d="M2020 771l7-90 7 65-9-5z" color="#f6be68"/><path d="M2045 1003l10 38 4-52-9 16z" color="#46efd1"/><path d="M2064 586l10 58 4-64-7 115z" color="#ff4724"/><path d="M2182 1126l9 27 5-50-8 39z" color="#0ca7ef"/><path d="M2368 1063l8 24 5 3-9-1z" color="#18cde4"/><path d="M2078 789l9-10 4-58-8 44z" color="#e6cd73"/><path d="M2310 1182l9-8 6-109-9 50z" color="#1996f3"/><path d="M2213 897l8-91 5 35-9-45z" color="#aef498"/><path d="M2390 1090l9 17 5-31-9-14z" color="#12c8e6"/><path d="M2087 1116l9-8 5-25-8 32z" color="#02b7eb"/><path d="M2208 704l9-18 5-38-8 132z" color="#ff9b52"/><path d="M2331 1081l9 6 5-13-9 27z" color="#12c8e6"/><path d="M2190 1135l9 57 5-11-9-15z" color="#208ef4"/><path d="M2077 927l8-53 5-15-7 103z" color="#86ffb0"/><path d="M2314 1061l9-12 5-10-9-25z" color="#2ddedc"/><path d="M2028 842l9 29 4-70-6 95z" color="#b0f397"/><path d="M2383 1166l9-22 5 16-9-1z" color="#218cf4"/><path d="M2121 760l9-12 4-100-8 61z" color="#ffb05f"/><path d="M2198 898l9 50 6 10-9 43z" color="#78ffb8"/><path d="M2288 1147l9-8 5-17-9-4z" color="#11a0f1"/><path d="M2036 1006l9-3 5 2-9-13z" color="#48f1d0"/><path d="M2457 799l10-80 4 68-10 43z" color="#dbd87b"/><path d="M2121 869l9-13 5-41-10-44z" color="#b6f193"/><path d="M2347 1017l9-14 5 24-9-3z" color="#40ecd4"/><path d="M2135 935l9 48 5-87-9 26z" color="#78ffb8"/><path d="M1986 923l8-12 6 16-11-94z" color="#8bfeae"/><path d="M2090 859l10 80 4-47-8 17z" color="#99fca6"/><path d="M2341 1185l9-7 5-6-9-18z" color="#2c7ef7"/><path d="M2132 1139l9 15 5-19-9-9z" color="#11a0f1"/><path d="M2325 1065l8 88 5 11-9-37z" color="#02b7eb"/><path d="M2358 1083l10-20 4 26-8-28z" color="#18cde4"/><path d="M2259 1156l8 30 5-12-8-1z" color="#2686f5"/><path d="M2114 1015l9 27 5-27-10-36z" color="#42edd3"/><path d="M2452 793l8 76 7-150-10 80z" color="#d6db7e"/><path d="M2418 701l8 94 6-75-10 11z" color="#ffac5c"/><path d="M1996 893l9 6 5 17-11-128z" color="#9cfba4"/><path d="M2351 777l8 67 6-54-10 49z" color="#d2de81"/><path d="M2448 915l10-49 4 50-8-62z" color="#92fda9"/><path d="M2112 827l9 42 4-98-8 42z" color="#c4e88a"/><path d="M2158 1175l9 4 5-36-9-7z" color="#2489f5"/><path d="M2216 1005l9-48 5 23-9-66z" color="#5df9c7"/><path d="M2109 1067l8-94 6 69-9-27z" color="#32e3da"/><path d="M2256 1117l9 50 5-57-9-17z" color="#06aeed"/><path d="M2318 1077l9-19 5-10-9 1z" color="#20d5e1"/><path d="M2100 811l9 32 3-111-8 57z" color="#d4dd80"/><path d="M2257 1084l9 23 5-4-9-34z" color="#10c6e6"/><path d="M2079 933l9 46 5-31-8 8z" color="#70febc"/><path d="M2334 991l9 14 5-23-9 4z" color="#52f5cb"/><path d="M2166 998l9 7 4-105-8 86z" color="#58f8c9"/><path d="M2173 1110l9 16 6 16-10-33z" color="#04b0ed"/><path d="M2293 1118l9 4 5-6-9 0z" color="#04b0ed"/><path d="M2077 1032l9 33 5-65-10-36z" color="#3febd5"/><path d="M2174 1069l8-75 5-39-9 66z" color="#38e7d7"/><path d="M2202 1073l10 37 4-36-8-9z" color="#18cde4"/><path d="M2369 1161l9-3 5 8-9-9z" color="#208ef4"/><path d="M2043 1077l8-17 6 36-10-53z" color="#1dd1e2"/><path d="M2055 561l12 223 9 168-12-142z" color="#ffa055"/><path d="M2041 765l9 18 5-29-9 2z" color="#ebca70"/><path d="M2111 668l10 84 4-61-13-302z" color="#ff5f30"/><path d="M2207 948l9 57 5-91-8 44z" color="#6dfdbf"/><path d="M2194 1092l8-19 6-8-9-2z" color="#17cbe4"/><path d="M2299 746l9 35 5 8-8-275z" color="#ffa759"/><path d="M2467 719l7 112 5-14-8-30z" color="#ebca70"/><path d="M2359 1003l10-121 4 47-8-25z" color="#6dfdbf"/><path d="M2322 1065l9 16 5 20-9-43z" color="#1dd1e2"/><path d="M2226 952l9 9 5-21-9-39z" color="#72febb"/><path d="M2362 1113l9-12 5-14-8-24z" color="#0ac0e8"/><path d="M2183 871l10 112 4-151-9-27z" color="#a2f9a0"/><path d="M2375 1125l9-15 5 3-9 6z" color="#04b0ed"/><path d="M2354 1077l8 36 6-50-10 20z" color="#14cae5"/><path d="M2327 913l8 61 5 15-8-58z" color="#76ffb9"/><path d="M2241 1165l9 12 5-44-9 19z" color="#208ef4"/><path d="M2186 783l8-58 5-15-9-131z" color="#ffac5c"/><path d="M2332 1048l8 55 6-81-9 11z" color="#2adddd"/><path d="M2246 1152l9-19 5 42-9-57z" color="#169bf2"/><path d="M2218 1156l9 12 5-18-9-5z" color="#1c93f3"/><path d="M2369 650l8 55 5-11-10 106z" color="#ff914c"/><path d="M2030 853l7-105 6 42-7 92z" color="#c0eb8d"/><path d="M2238 1156l9-38 5-67-9 50z" color="#06aeed"/><path d="M2177 1052l9-10 5-21-9-27z" color="#34e4d9"/><path d="M2287 738l9 132 5-82-9-11z" color="#e4cf74"/><path d="M2339 986l9-4 5 27-8-78z" color="#5af8c8"/><path d="M2040 1034l8-42 7 49-10-38z" color="#3dead5"/><path d="M2138 1104l9-13 5 15-9-37z" color="#0dc2e8"/><path d="M2384 1110l9 25 5-2-9-20z" color="#04b0ed"/><path d="M2317 1095l9 11 5-25-9-16z" color="#10c6e6"/><path d="M2369 882l8 72 5 21-9-46z" color="#84ffb2"/><path d="M2391 710l8 40 8-200-13 289z" color="#ffa055"/><path d="M2205 883l9 79 5-75-9 0z" color="#92fda9"/><path d="M2085 1057l8-9 6 8-9-12z" color="#28dbde"/><path d="M2130 1057l9-3 5 25-9-51z" color="#28dbde"/><path d="M2168 1126l9 39 5-39-9-16z" color="#09a9ee"/><path d="M2275 1036l9-22 5-63-9 9z" color="#4af2cf"/><path d="M2054 823l10 85 5-39-9 7z" color="#b0f397"/><path d="M2135 1028l9 51 5-55-9 14z" color="#34e4d9"/><path d="M2111 988l9-17 5-34-9 5z" color="#62fbc4"/><path d="M2015 759l8-4 4-74-7 90z" color="#f9bb66"/><path d="M1985 763l8-44 4-44-9-23z" color="#ffa759"/><path d="M2141 950l9 43 6 32-9 3z" color="#58f8c9"/><path d="M2177 669l8-128 5-61-8 146z" color="#ff3e1f"/><path d="M2051 918l8-45 5 35-10-85z" color="#96fca7"/><path d="M2176 1093l9-52 5 11-9-9z" color="#1fd3e1"/><path d="M2186 1042l9-8 5 2-9-15z" color="#34e4d9"/><path d="M2053 1047l8-40 6 44-9 13z" color="#30e1da"/><path d="M2377 705l8 57 6-52-9-16z" color="#ffa256"/><path d="M2102 1053l10 45 4-41-9-8z" color="#24d8df"/><path d="M2319 1174l9-23 5 2-8-88z" color="#1898f2"/><path d="M2223 1145l9 5 5 5-9-40z" color="#149df1"/><path d="M2190 1052l9 11 5-4-9-25z" color="#2adddd"/><path d="M2095 949l10 72 5 15-9-61z" color="#5af8c8"/><path d="M2230 762l9-49 5-37-9 100z" color="#fcb763"/><path d="M2313 1067l9-2 5-7-9 19z" color="#20d5e1"/><path d="M2217 915l9 37 5-51-8 49z" color="#80ffb4"/><path d="M2180 1084l9 1 5 7-9-51z" color="#18cde4"/><path d="M2221 806l9 46 5-4-9-7z" color="#c2ea8c"/><path d="M2160 969l9-16 6 52-9-7z" color="#5df9c7"/><path d="M2205 1033l9 41 5-97-9 0z" color="#3febd5"/><path d="M2256 1046l9-14 5-60-9 3z" color="#40ecd4"/><path d="M2242 1141l9-23 5-1-9 1z" color="#09a9ee"/><path d="M2216 903l9-71 5 20-9-46z" color="#a8f79c"/><path d="M2250 890l9-35 5 162-9-154z" color="#90feab"/><path d="M2298 1116l9 0 5-32-9 10z" color="#07bbea"/><path d="M2163 1136l9 7 5 22-9-39z" color="#11a0f1"/><path d="M2295 985l9-85 5 45-9-12z" color="#6dfdbf"/><path d="M2323 1049l9-1 5-15-9 6z" color="#30e1da"/><path d="M2347 853l9 47 4 95-8-141z" color="#9bfba5"/><path d="M2174 1068l10 44 5-27-9-1z" color="#17cbe4"/><path d="M2192 970l9 29 5 36-9-82z" color="#58f8c9"/><path d="M2336 871l9-30 6-64-9-14z" color="#c0eb8d"/><path d="M2227 828l9 11 5-160-8 145z" color="#d2de81"/><path d="M2092 669l6-186 8 184-8 71z" color="#ff6835"/><path d="M2224 657l7-287 6 249-9-69z" color="#ff2211"/><path d="M2342 763l9 14 4 62-9-16z" color="#dcd67a"/><path d="M2270 1110l9 12 5 4-9-36z" color="#02b7eb"/><path d="M2034 1094l9-17 4-34-9-25z" color="#1fd3e1"/><path d="M2075 917l10 39 4-50-8 37z" color="#80ffb4"/><path d="M2333 897l8 68 6-112-9 53z" color="#90feab"/><path d="M2341 965l10-35 5-30-9-47z" color="#7effb5"/><path d="M2345 1074l9 3 4 6-8-22z" color="#1dd1e2"/><path d="M2185 1041l9 51 5-29-9-11z" color="#28dbde"/><path d="M2236 1141l9 37 5-1-9-12z" color="#1c93f3"/><path d="M2089 1105l8-40 5-12-9-5z" color="#18cde4"/><path d="M2250 1177l9-21 5 17-9-40z" color="#218cf4"/><path d="M2296 695l9-181 4 231-9 37z" color="#ff8c49"/><path d="M2276 990l9-60 5-21-9 88z" color="#64fbc3"/><path d="M2282 703l9-5 5-3-9-31z" color="#ff914c"/><path d="M2086 1065l8-62 5-2-8-1z" color="#38e7d7"/><path d="M2292 527l8 255 6-212-9 210z" color="#ff4d27"/><path d="M2181 1043l9 9 5-18-9 8z" color="#32e3da"/><path d="M2209 1151l9 5 5-11-9-22z" color="#149df1"/><path d="M2144 983l9-47 5-14-9-26z" color="#70febc"/><path d="M2038 1018l9 25 6 4-8 24z" color="#37e6d8"/><path d="M2300 1015l9 36 5 10-9-34z" color="#3ae8d6"/><path d="M2199 1063l9 2 5-28-9 22z" color="#27dade"/><path d="M2181 1163l9-28 5 31-9-14z" color="#1c93f3"/><path d="M2438 1029l9-7 5 20-8-67z" color="#40ecd4"/><path d="M2311 835l9-21 5-117-9-5z" color="#e0d377"/><path d="M2150 847l9 70 6 23-10-81z" color="#a2f9a0"/><path d="M2189 1085l8-16 5 4-8 19z" color="#18cde4"/><path d="M2297 1017l9-7 6-59-9 24z" color="#50f4cc"/><path d="M2385 762l10-99 4 87-8-40z" color="#ffb05f"/><path d="M2262 1069l9 34 5-6-9-76z" color="#1fd3e1"/><path d="M2197 1069l9 25 6 16-10-37z" color="#18cde4"/><path d="M2245 1178l8-7 6-15-9 21z" color="#2686f5"/><path d="M2315 879l9 77 5-60-9-68z" color="#9cfba4"/><path d="M2101 713l10 47 4-76-8 60z" color="#ffa759"/><path d="M2250 1100l8-90 5 24-9 8z" color="#24d8df"/><path d="M2290 909l9 97 5-106-9 85z" color="#78ffb8"/><path d="M2205 791l10 140 5-68-9 29z" color="#b9ef92"/><path d="M2105 826l10 56 5-18-9-12z" color="#b6f193"/><path d="M2150 993l9-14 5 32-8 14z" color="#50f4cc"/><path d="M2111 760l8-38 6 40-10-78z" color="#feb562"/><path d="M2417 1094l9 32 5-48-9 6z" color="#0fc4e7"/><path d="M2340 1087l8 10 6-20-9-3z" color="#17cbe4"/><path d="M2092 960l9 15 5 22-9-39z" color="#64fbc3"/><path d="M2233 824l8-145 5 114-8 21z" color="#dcd67a"/><path d="M2175 917l8-46 5-66-9 43z" color="#a0faa1"/><path d="M2156 1025l8-14 5-58-9 16z" color="#4ef3cd"/><path d="M2228 1115l9 40 5-14-9-52z" color="#04b0ed"/><path d="M2078 977l9 9 5-26-9 27z" color="#5efac6"/><path d="M2156 1133l8-36 5-24-8 28z" color="#04b9ea"/><path d="M2227 1168l9-27 5 24-9-15z" color="#1e91f3"/><path d="M2112 1048l10 32 4-39-9-68z" color="#34e4d9"/><path d="M2175 1005l8-7 5-16-9-82z" color="#5af8c8"/><path d="M2075 821l11 118 1-243-7 107z" color="#cbe486"/><path d="M2295 1134l9 15 5 44-9-29z" color="#1898f2"/><path d="M2363 978l9-27 5 3-8-72z" color="#6efebe"/><path d="M2081 943l8-37 6 30-10-62z" color="#82ffb3"/><path d="M2219 977l9 52 5-18-9-6z" color="#52f5cb"/><path d="M2345 841l10-41 4 44-8-67z" color="#c6e789"/><path d="M2222 1182l9-5 5-36-9 27z" color="#2489f5"/><path d="M2136 998l10 83 4-88-9-43z" color="#4ef3cd"/><path d="M2027 681l11 127 3-121-7 59z" color="#ffa055"/><path d="M2307 1116l9-1 5-11-9-20z" color="#07bbea"/><path d="M2085 874l10 62 5 3-10-80z" color="#99fca6"/><path d="M2093 1048l9 5 5-4-8 7z" color="#2fe0db"/><path d="M2191 1021l9 15 5-3-9-63z" color="#44eed2"/><path d="M2047 1043l10 53 4-89-8 40z" color="#30e1da"/><path d="M2078 870l7-107 4-93-7 158z" color="#d0e082"/><path d="M2243 1101l9-50 5 33-9 28z" color="#12c8e6"/><path d="M2087 696l12 185 5 0-10-107z" color="#e8cb72"/><path d="M2261 1093l9 17 5-20-9 17z" color="#0fc4e7"/><path d="M2277 1010l9-100 5-43-9 31z" color="#72febb"/><path d="M2319 1014l9 25 5-51-9 40z" color="#44eed2"/><path d="M2154 1135l9 1 5-10-9-5z" color="#08acee"/><path d="M2272 941l9 159 5-37-9 10z" color="#48f1d0"/><path d="M2213 958l8-44 5 38-9-37z" color="#76ffb9"/><path d="M2129 972l9 8 5 4-10-57z" color="#66fcc2"/><path d="M2412 1006l9-21 5 5-9-3z" color="#52f5cb"/><path d="M2428 728l9 16 8-202-11 125z" color="#ff8947"/><path d="M2222 648l9 130 5-54-9-128z" color="#ff7b40"/><path d="M2145 914l9 2 5 1-9-70z" color="#92fda9"/><path d="M2220 1040l9 77 5-15-9-25z" color="#20d5e1"/><path d="M2108 712l4-323 8 197-7 111z" color="#ff532a"/><path d="M2121 745l11 105 3-114-8 72z" color="#ebca70"/><path d="M2375 849l9 31 4 43-8-40z" color="#a6f89d"/><path d="M2068 1031l9 1 4-68-9 1z" color="#4af2cf"/><path d="M2065 965l10 19 4-51-9-21z" color="#70febc"/><path d="M2235 1019l9 43 6 38-10-91z" color="#37e6d8"/><path d="M2059 873l8 2 5-14-8 47z" color="#a2f9a0"/><path d="M2101 806l10 46 5-2-9-26z" color="#c6e789"/><path d="M2389 772l10-27 4 16-8-98z" color="#fcb763"/><path d="M2244 846l9 174 5-39-9-60z" color="#8cfead"/><path d="M2325 851l9 59 5-51-9-35z" color="#b0f397"/><path d="M2306 1010l9-4 5-12-8-43z" color="#52f5cb"/><path d="M2190 579l9 131 5-14-8 28z" color="#ff6232"/><path d="M2048 951l6-106 8 99-8 52z" color="#7affb7"/><path d="M2303 975l9-24 4 55-8-53z" color="#64fbc3"/><path d="M2225 1077l9 25 5-41-9-17z" color="#20d5e1"/><path d="M2134 812l8-66 4-93-8 51z" color="#f6be68"/><path d="M2215 1106l9 11 5 0-9-77z" color="#0fc4e7"/><path d="M2085 956l8-8 5-38-9-4z" color="#7affb7"/><path d="M2160 654l7-158 7 178-8 48z" color="#ff5c2f"/><path d="M2206 1094l9 12 5-66-8 70z" color="#14cae5"/><path d="M1983 821l6-82 6-1-10-18z" color="#e8cb72"/><path d="M2178 1021l9-66 5 15-9 28z" color="#52f5cb"/><path d="M2102 656l9 12 1-279-4 323z" color="#ff4724"/><path d="M2209 857l8-61 5 1-9-41z" color="#cbe486"/><path d="M2212 1110l8-70 5 37-9-3z" color="#17cbe4"/><path d="M2289 951l8 66 6-42-9-19z" color="#66fcc2"/><path d="M2117 813l8-42 7 79-11-105z" color="#d9da7d"/><path d="M2182 611l10 96 5-72-10-36z" color="#ff4d27"/><path d="M2169 1073l9 36 6 3-10-44z" color="#18cde4"/><path d="M2320 828l9 68 5 14-9-59z" color="#b2f396"/><path d="M1999 788l11 128 6-5-12-136z" color="#c4e88a"/><path d="M2272 1174l9 15 6-92-9 56z" color="#1996f3"/><path d="M2126 709l8-61 6 54-9-7z" color="#ff8c49"/><path d="M2266 863l8-33 6 21-9 47z" color="#b0f397"/><path d="M2294 1099l9-5 5-53-9 20z" color="#1acfe3"/><path d="M2046 756l9-2 6 36-12-136z" color="#feb562"/><path d="M2159 1121l9 5 5-16-9-13z" color="#04b9ea"/><path d="M2013 864l9 42 5-48-9 6z" color="#abf69b"/><path d="M2012 928l11 76 3-77-12-176z" color="#8efeac"/><path d="M2227 1064l8-45 5-10-8 46z" color="#34e4d9"/><path d="M2113 642l8-57 6 122-8 6z" color="#ff6835"/><path d="M2145 789l9 45 5-49-10-64z" color="#e4cf74"/><path d="M2362 786l10-84 5 3-8-55z" color="#ffac5c"/><path d="M1989 739l11 89 3-99-8 9z" color="#fbb965"/><path d="M2220 970l9 35 5-66-9 18z" color="#68fcc1"/><path d="M2141 1026l10 118 5-11-9-42z" color="#20d5e1"/><path d="M2308 1041l9 54 5-30-9 2z" color="#2adddd"/><path d="M1968 681l12 120 5-5-8 26z" color="#feb562"/><path d="M2233 1011l9 20 5-16-9-101z" color="#52f5cb"/><path d="M2366 869l9-20 5 34-9 4z" color="#abf69b"/><path d="M2287 664l9 31 4 87-8-255z" color="#ff703a"/><path d="M2342 971l9 90 5-58-9 14z" color="#52f5cb"/><path d="M2214 1123l9 22 5-30-9-11z" color="#00b5eb"/><path d="M2210 977l9 0 5 28-9 0z" color="#5df9c7"/><path d="M2290 1197l9-19 5-29-9-15z" color="#2489f5"/><path d="M2043 387l15 330 2-155-6 141z" color="#ff0000"/><path d="M2095 676l9 7 6 60-12-260z" color="#ff6835"/><path d="M2303 1094l9-10 5 11-9-54z" color="#1acfe3"/><path d="M2188 982l9-29 5 4-9-17z" color="#6afdc0"/><path d="M2131 912l9 10 5-8-9-71z" color="#94fda8"/><path d="M2095 936l9 9 3-161-7 155z" color="#8efeac"/><path d="M2291 867l9 66 5-5-9-19z" color="#99fca6"/><path d="M2112 732l9 13 6 63-8-5z" color="#f4c069"/><path d="M2204 1181l8-90 6 65-9-5z" color="#1898f2"/><path d="M2128 1015l8-17 5-48-8 48z" color="#54f6cb"/><path d="M2312 1039l9-26 6-100-9-116z" color="#64fbc3"/><path d="M2382 831l9-13 5 32-8-136z" color="#d2de81"/><path d="M2109 843l8-30 4-68-9-13z" color="#d9da7d"/><path d="M2196 970l9 63 5-56-9 22z" color="#5df9c7"/><path d="M2198 848l10 65 5-16-11-277z" color="#c6e789"/><path d="M2373 817l9 14 6-117-10 109z" color="#d9da7d"/><path d="M2137 740l9-23 5 47-9-18z" color="#ffb05f"/><path d="M2316 1115l9-50 4 62-8-23z" color="#0ac0e8"/><path d="M2120 971l9 1 4-45-8 10z" color="#70febc"/><path d="M2224 1005l9 6 5-97-9 91z" color="#5af8c8"/><path d="M2070 912l9 21 6 23-10-39z" color="#86ffb0"/><path d="M2091 1000l8 1 6 20-10-72z" color="#56f7ca"/><path d="M2117 721l9-12 5-14-10-110z" color="#ff8646"/><path d="M2137 1126l9 9 5 9-10-118z" color="#07bbea"/><path d="M2194 770l10 231 5-54-9-15z" color="#acf59a"/><path d="M2330 668l9 53 5 32-9 25z" color="#ff9850"/><path d="M2268 824l9 186 5-112-9-7z" color="#a4f89f"/><path d="M2164 1097l9 13 5-1-9-36z" color="#12c8e6"/><path d="M2338 906l9-53 5 1-9 51z" color="#9efaa2"/><path d="M2041 801l11 120 4-108-10-39z" color="#cee184"/><path d="M2128 1138l9-12 4-100-8 85z" color="#08bee9"/><path d="M2104 789l8-57 7 71-10-77z" color="#eec66d"/><path d="M2337 1033l9-11 5 39-9-90z" color="#42edd3"/><path d="M2281 1189l9 8 5-63-8-37z" color="#1c93f3"/><path d="M2212 1091l10 91 5-14-9-12z" color="#04b0ed"/><path d="M2253 1111l9-42 5-48-9-11z" color="#24d8df"/><path d="M2125 937l8-10 6 24-9-15z" color="#7effb5"/><path d="M2252 1051l9 42 5 14-9-23z" color="#22d6e0"/><path d="M2038 808l8-52 3-102-8 33z" color="#fcb763"/><path d="M2219 1104l9 11 5-26-9 28z" color="#0dc2e8"/><path d="M2259 855l9-31 5 67-9 126z" color="#a2f9a0"/><path d="M2125 861l8-73 5 8-8 60z" color="#c2ea8c"/><path d="M2297 896l8 131 5 33-9-23z" color="#68fcc1"/><path d="M2191 1153l9-4 5-91-9 45z" color="#01b3ec"/><path d="M2107 784l10 107 6 81-9-52z" color="#b4f295"/><path d="M2146 838l9 21 5 35-9-55z" color="#b9ef92"/><path d="M2287 1097l8 37 5 30-9 5z" color="#01b3ec"/><path d="M1954 689l15 232-1-240-5 128z" color="#feb562"/><path d="M2173 790l10 109 4-105-11-216z" color="#ecc86f"/><path d="M2247 1118l9-1 5-24-9-42z" color="#10c6e6"/><path d="M2282 1052l9 53 6-209-10 88z" color="#44eed2"/><path d="M2263 1034l9-93 5 132-9-15z" color="#40ecd4"/><path d="M2116 1127l8-2 3-188-7 159z" color="#18cde4"/><path d="M2100 939l7-155 7 136-10-28z" color="#96fca7"/><path d="M2271 929l9 31 5-30-9 60z" color="#7affb7"/><path d="M2144 847l7-169 7 165-9 13z" color="#cee184"/><path d="M2196 925l9-42 5 4-10-69z" color="#9cfba4"/><path d="M2200 1149l9 2 5-28-9-65z" color="#01b3ec"/><path d="M2117 891l8-80 6 101-8 60z" color="#9cfba4"/><path d="M2097 849l8-23 6 26-10-46z" color="#c2ea8c"/><path d="M2252 987l9-12 5-27-9 15z" color="#66fcc2"/><path d="M2254 752l9-65 5-9-9-65z" color="#ff914c"/><path d="M2290 1056l9 5 5-40-9 23z" color="#34e4d9"/><path d="M2283 927l9 29 5-78-8-183z" color="#a2f9a0"/><path d="M2241 679l9 33 5 174-9-93z" color="#ffae5e"/><path d="M2223 950l8-49 5-70-8 75z" color="#90feab"/><path d="M2295 1044l9-23 5 30-9-36z" color="#3dead5"/><path d="M2245 769l9 81 5-36-9-102z" color="#e8cb72"/><path d="M2133 1111l8-85 6 65-9 13z" color="#18cde4"/><path d="M2129 938l8-131 5 21-9-40z" color="#acf59a"/><path d="M2072 965l9-1 6 22-9-9z" color="#6afdc0"/><path d="M2230 1044l9 17 5 1-9-43z" color="#37e6d8"/><path d="M2087 986l8-37 6 26-9-15z" color="#68fcc1"/><path d="M2166 683l9-26 6 111-10-103z" color="#ff8444"/><path d="M2112 389l13 302 5-3-10-102z" color="#ff0000"/><path d="M2193 983l7-165 5-27-8 41z" color="#9cfba4"/><path d="M1988 936l8-43 3-105-10-41z" color="#acf59a"/><path d="M2238 914l9 101 5-28-9-18z" color="#76ffb9"/><path d="M2292 956l9-92 6-87-10 101z" color="#9cfba4"/><path d="M2325 697l8 153 6-129-9-53z" color="#ff9d53"/><path d="M2051 956l10 31 4-22-11-120z" color="#7dffb6"/><path d="M2151 839l9 55 5-36-9-91z" color="#c2ea8c"/><path d="M2291 1105l9-90 5 12-8-131z" color="#3ae8d6"/><path d="M2193 940l9 17 5-9-9-50z" color="#80ffb4"/><path d="M2091 721l10 88 6 60-14-356z" color="#ffa256"/><path d="M2328 1039l9-6 5-62-9 17z" color="#4af2cf"/><path d="M2231 901l9 39 5-9-9-100z" color="#9bfba5"/><path d="M2197 832l8-41 6 101-9-38z" color="#c4e88a"/><path d="M2196 1103l9-45 5 41-9 30z" color="#14cae5"/><path d="M2267 1021l9 76 5 3-9-159z" color="#40ecd4"/><path d="M2043 968l8-12 3-111-6 106z" color="#7effb5"/><path d="M2171 986l8-86 5 32-9-18z" color="#78ffb8"/><path d="M2121 960l9-24 5-1-10-124z" color="#88ffaf"/><path d="M2213 756l9 41 5 31-9-112z" color="#f2c26b"/><path d="M2299 1061l9-20 5 26-9-46z" color="#34e4d9"/><path d="M2167 496l11 229 4-114-8 63z" color="#ff190d"/><path d="M2082 828l7-158 6 58-8 51z" color="#eec66d"/><path d="M2190 847l6-419 7 326-9-29z" color="#ffac5c"/><path d="M2093 513l14 356 4-109-10-47z" color="#ff5c2f"/><path d="M2182 718l8-139 6 145-10-135z" color="#ff703a"/><path d="M2179 900l9 82 5-42-9-8z" color="#88ffaf"/><path d="M2254 962l9-3 5-135-9 31z" color="#8efeac"/><path d="M2133 918l8-66 5-14-9-31z" color="#acf59a"/><path d="M2081 964l10 36 4-51-8 37z" color="#6afdc0"/><path d="M2235 961l9-115 5 75-9 19z" color="#86ffb0"/><path d="M2014 751l12 176 5-8-9-13z" color="#c6e789"/><path d="M2228 906l8-75 5 59-8-2z" color="#a4f89f"/><path d="M2236 831l9 100 5-41-9 0z" color="#b0f397"/><path d="M2112 943l9 17 4-149-8 80z" color="#92fda9"/><path d="M2124 1125l9-14 5-7-11-167z" color="#1dd1e2"/><path d="M2304 900l8 139 6-242-9 148z" color="#92fda9"/><path d="M2220 726l9 72 5-42-10-125z" color="#ffa055"/><path d="M2144 625l9-25 5 47-7 97z" color="#ff532a"/><path d="M2224 631l10 125 5-43-9 49z" color="#ff7e41"/><path d="M2125 811l10 124 5-13-9-10z" color="#b0f397"/><path d="M2200 818l10 69 5 44-10-140z" color="#c2ea8c"/><path d="M2280 960l9-9 5 5-9-26z" color="#78ffb8"/><path d="M2187 955l9 15 5 29-9-29z" color="#6efebe"/><path d="M2182 994l9 27 5-51-9-15z" color="#60fac5"/><path d="M2202 620l11 277 4-101-8 61z" color="#ffa95b"/><path d="M2229 1005l9-91 5 55-9-30z" color="#6dfdbf"/><path d="M2104 945l8-2 5-52-10-107z" color="#99fca6"/><path d="M2257 963l9-15 5-19-9 13z" color="#7affb7"/><path d="M2035 896l6-95 5-27-9-26z" color="#cbe486"/><path d="M2247 690l9 65 5-72-8 46z" color="#ff8c49"/><path d="M2333 988l9-17 5 46-9-41z" color="#62fbc4"/><path d="M2135 736l10 53 4-68-8 57z" color="#ffb05f"/><path d="M2120 1096l7-159 7 157-9-35z" color="#30e1da"/><path d="M2287 984l10-88 4 141-9-18z" color="#64fbc3"/><path d="M2205 1058l9 65 5-19-9-5z" color="#22d6e0"/><path d="M2179 848l9-43 5 0-9 17z" color="#cee184"/><path d="M2054 845l11 120 5-53-8 32z" color="#a2f9a0"/><path d="M2173 681l9 15 6 93-9-79z" color="#ff8c49"/><path d="M2054 827l9 13 4-56-12-223z" color="#f0c46c"/><path d="M2234 756l8-47 5-19-8 23z" color="#ffa055"/><path d="M2184 932l9 8 5-42-9 6z" color="#8efeac"/><path d="M2127 937l11 167 5-35-9 25z" color="#50f4cc"/><path d="M2089 670l11 141 4-22-9-61z" color="#ff9b52"/><path d="M2149 741l8-105 5 53-9-89z" color="#ff7b40"/><path d="M2208 1065l8 9 5-124-8 87z" color="#3febd5"/><path d="M2311 690l8 264 5 2-9-77z" color="#d9da7d"/><path d="M2291 698l8 48 6-232-9 181z" color="#ff6d38"/><path d="M2280 851l9-156 4 184-8 19z" color="#c8e688"/><path d="M2170 695l9 15 5 22-9-75z" color="#ff8444"/><path d="M2136 843l9 71 5-67-9 5z" color="#bced8f"/><path d="M2188 805l9 27 5 22-9-49z" color="#d6db7e"/><path d="M2305 928l9 26 5 0-8-264z" color="#a0faa1"/><path d="M2167 1005l8-91 6 27-11-191z" color="#86ffb0"/><path d="M2260 781l9-24 5 8-9-127z" color="#ffae5e"/><path d="M2239 713l8-23 6 39-9-53z" color="#ff8947"/><path d="M2307 777l8 102 5-51-9 87z" color="#d0e082"/><path d="M2003 893l9 35 2-177-6 162z" color="#aef498"/><path d="M2216 1074l9 3 5-33-9-94z" color="#3ae8d6"/><path d="M2037 748l9 26 7 59-10-43z" color="#f4c069"/><path d="M2242 709l9 18 5 28-9-65z" color="#ff934d"/><path d="M2298 931l9-75 6-55-9-148z" color="#c2ea8c"/><path d="M2008 913l6-162 8 155-9-42z" color="#b0f397"/><path d="M2141 852l9-5 5 12-9-21z" color="#c2ea8c"/><path d="M2211 806l9-80 4-95-8 48z" color="#ffa759"/><path d="M2195 829l7-209 7 237-10-53z" color="#e6cd73"/><path d="M2167 876l8-63 6 89-12-346z" color="#d9da7d"/><path d="M2247 621l10 266 5 21-9-51z" color="#ffb360"/><path d="M2304 653l9 148 4 103-8-72z" color="#ffb05f"/><path d="M2127 564l9-46 6 141-9-6z" color="#ff1309"/><path d="M2248 797l9 166 5-21-9 78z" color="#a8f79c"/><path d="M2151 764l9-15 5-68-10-26z" color="#ff9b52"/><path d="M2239 895l8-274 6 236-9 13z" color="#cbe486"/><path d="M2251 727l9 54 5-143-9 117z" color="#ff9850"/><path d="M2142 746l9 18 4-109-9-2z" color="#ff934d"/><path d="M2157 636l9 47 5-18-9 24z" color="#ff592d"/><path d="M2155 655l10 26 5 14-8 69z" color="#ff763d"/><path d="M2137 807l9 31 5 1-9-11z" color="#d6db7e"/><path d="M2133 788l9 40 5-3-9-29z" color="#e2d176"/><path d="M2050 783l5-222 9 249-9-56z" color="#ffa95b"/><path d="M2186 893l8-123 6 162-9-4z" color="#abf69b"/><path d="M2142 828l9 11 5-72-9 58z" color="#d9da7d"/><path d="M2085 763l9 11 6 37-11-141z" color="#ffb05f"/><path d="M1989 747l10 41 5-13-5 151z" color="#ecc86f"/><path d="M2221 950l9 94 5-25-8 45z" color="#60fac5"/><path d="M2045 775l9 52 1-266-5 222z" color="#ffa95b"/><path d="M2169 556l12 346 5-28-10-127z" color="#ff8646"/><path d="M2309 945l9-148 5 78-9 79z" color="#9cfba4"/><path d="M2312 701l10-118 4 89-9 115z" color="#ff793e"/><path d="M2196 428l11 308 5 47-9-29z" color="#ff1c0e"/><path d="M2189 904l9-6 6 103-10-231z" color="#a4f89f"/><path d="M2176 578l11 216 5 31-10-129z" color="#ff6b37"/><path d="M2307 803l9-111 6-109-10 118z" color="#ff9850"/><path d="M2080 803l7-107 7 78-9-11z" color="#fbb965"/><path d="M2088 781l5-268 8 200-8 16z" color="#ff8c49"/><path d="M2220 431l10 331 5 14-9-52z" color="#ff190d"/><path d="M2083 765l8-44 2-208-5 268z" color="#ff8e4a"/><path d="M2236 839l9-70 5-57-9-33z" color="#f6be68"/><path d="M2138 796l9 29 4-147-7 169z" color="#eec66d"/><path d="M2189 810l9 38 4-228-7 209z" color="#f0c46c"/><path d="M2184 732l9-38 3-266-6 419z" color="#ff793e"/><path d="M2007 845l9 1 4-51-14-230z" color="#f0c46c"/><path d="M2295 861l9-208 5 179-9-69z" color="#e6cd73"/><path d="M2274 830l9 97 6-232-9 156z" color="#d6db7e"/><path d="M2234 930l9-137 4-172-8 274z" color="#c8e688"/><path d="M2239 977l9-180 5 223-9-174z" color="#90feab"/><path d="M2243 969l9 18 5-24-9-166z" color="#88ffaf"/><path d="M2289 695l8 183 5-51-9 52z" color="#f6be68"/><path d="M2256 755l9-117 5 80-9-35z" color="#ff8947"/><path d="M2165 681l8 0 6 29-9-15z" color="#ff703a"/><path d="M2234 939l9 30 5-172-9 180z" color="#94fda8"/><path d="M2181 941l8-37 5-134-8 123z" color="#a8f79c"/><path d="M2258 1010l9 11 5-80-9 93z" color="#60fac5"/><path d="M1997 798l10 47-1-280-4 217z" color="#ffae5e"/><path d="M2243 793l9 141 5-47-10-266z" color="#e8cb72"/><path d="M2212 783l8-352 6 293-9-38z" color="#ff763d"/><path d="M2147 825l9-58 6 97-11-186z" color="#eec66d"/><path d="M2322 583l8 85 5 110-9-106z" color="#ff4422"/><path d="M2296 909l9 19 6-238-10 174z" color="#beec8e"/><path d="M2006 565l14 230 7 70-12-134z" color="#ff6835"/><path d="M2149 896l9 26 3-210-7 204z" color="#bced8f"/><path d="M2193 694l9 123 5-81-11-308z" color="#ff5f30"/><path d="M2318 797l9 116 5 18-9-56z" color="#cbe486"/><path d="M2134 648l7-182 8 275-9-39z" color="#ff3b1e"/><path d="M2264 807l9-9 5-272-9 231z" color="#ffa055"/><path d="M2141 466l11 261 5-91-8 105z" color="#ff0302"/><path d="M2273 798l9 46 5-106-9-212z" color="#ffa055"/><path d="M2170 750l11 191 5-48-10-51z" color="#e0d377"/><path d="M2207 736l9-57 4-248-8 352z" color="#ff6232"/><path d="M2002 782l4-217 9 166-7 71z" color="#ff934d"/><path d="M2130 748l8-44 3-238-7 182z" color="#ff592d"/><path d="M2169 791l7-213 6 118-9-15z" color="#ff8143"/><path d="M2269 757l9-231 5 224-9 15z" color="#ff7e41"/><path d="M2158 922l9 83 3-255-9-38z" color="#c4e88a"/><path d="M2163 827l6-271 7 191-9 7z" color="#ff9b52"/><path d="M2138 704l8-51 6 74-11-261z" color="#ff4121"/><path d="M2278 526l9 212 5 39-9-27z" color="#ff3219"/><path d="M2316 692l9 5 5-29-8-85z" color="#ff4a26"/><path d="M2301 864l10-174 4 189-8-102z" color="#ebca70"/><path d="M2161 712l9 38 6 92-8 100z" color="#ffa759"/><path d="M2216 679l8-48 6 131-10-331z" color="#ff2211"/></g>
<path d="M156.6 117.6L247 145.3M247 145.3L295.2 97.9M295.2 97.9L299.3 30.1M163.2 118.3L160.8 120.4M180.3 123.6L177.9 125.7M197.6 128.9L195.2 131M215.2 134.3L212.9 136.4M233.1 139.7L230.8 141.9M248.5 141.5L252.6 142.8M258.8 131.4L262.9 132.6M268.8 121.5L272.9 122.7M278.6 112L282.6 113.1M288.1 102.6L292 103.8M293.5 96.1L297.4 97.2M294.2 84.7L298.1 85.8M294.9 73L298.9 74.1M295.6 61L299.6 62.1M296.3 48.8L300.4 49.9M297.1 36.4L301.2 37.4" fill="none" stroke="#2a2a2a" stroke-width="0.6"/>
<text x="157.1" y="133.1" font-size="5.0" text-anchor="middle" font-family="DejaVu Sans, Liberation Sans, sans-serif" fill="#2a2a2a" stroke="#2a2a2a" stroke-width="0.22">0</text>
<text x="174.2" y="138.3" font-size="5.0" text-anchor="middle" font-family="DejaVu Sans, Liberation Sans, sans-serif" fill="#2a2a2a" stroke="#2a2a2a" stroke-width="0.22">20</text>
<text x="191.6" y="143.6" font-size="5.0" text-anchor="middle" font-family="DejaVu Sans, Liberation Sans, sans-serif" fill="#2a2a2a" stroke="#2a2a2a" stroke-width="0.22">40</text>
<text x="209.2" y="149" font-size="5.0" text-anchor="middle" font-family="DejaVu Sans, Liberation Sans, sans-serif" fill="#2a2a2a" stroke="#2a2a2a" stroke-width="0.22">60</text>
<text x="227.1" y="154.5" font-size="5.0" text-anchor="middle" font-family="DejaVu Sans, Liberation Sans, sans-serif" fill="#2a2a2a" stroke="#2a2a2a" stroke-width="0.22">80</text>
<text x="258.2" y="156.1" font-size="5.0" text-anchor="middle" font-family="DejaVu Sans, Liberation Sans, sans-serif" fill="#2a2a2a" stroke="#2a2a2a" stroke-width="0.22">0</text>
<text x="268.3" y="145.1" font-size="5.0" text-anchor="middle" font-family="DejaVu Sans, Liberation Sans, sans-serif" fill="#2a2a2a" stroke="#2a2a2a" stroke-width="0.22">20</text>
<text x="278" y="134.3" font-size="5.0" text-anchor="middle" font-family="DejaVu Sans, Liberation Sans, sans-serif" fill="#2a2a2a" stroke="#2a2a2a" stroke-width="0.22">40</text>
<text x="287.5" y="123.8" font-size="5.0" text-anchor="middle" font-family="DejaVu Sans, Liberation Sans, sans-serif" fill="#2a2a2a" stroke="#2a2a2a" stroke-width="0.22">60</text>
<text x="296.7" y="113.6" font-size="5.0" text-anchor="middle" font-family="DejaVu Sans, Liberation Sans, sans-serif" fill="#2a2a2a" stroke="#2a2a2a" stroke-width="0.22">80</text>
<text x="305.9" y="98.5" font-size="5.0" text-anchor="middle" font-family="DejaVu Sans, Liberation Sans, sans-serif" fill="#2a2a2a" stroke="#2a2a2a" stroke-width="0.22">0</text>
<text x="306.6" y="87" font-size="5.0" text-anchor="middle" font-family="DejaVu Sans, Liberation Sans, sans-serif" fill="#2a2a2a" stroke="#2a2a2a" stroke-width="0.22">20</text>
<text x="307.4" y="75.4" font-size="5.0" text-anchor="middle" font-family="DejaVu Sans, Liberation Sans, sans-serif" fill="#2a2a2a" stroke="#2a2a2a" stroke-width="0.22">40</text>
<text x="308.1" y="63.4" font-size="5.0" text-anchor="middle" font-family="DejaVu Sans, Liberation Sans, sans-serif" fill="#2a2a2a" stroke="#2a2a2a" stroke-width="0.22">60</text>
<text x="308.8" y="51.2" font-size="5.0" text-anchor="middle" font-family="DejaVu Sans, Liberation Sans, sans-serif" fill="#2a2a2a" stroke="#2a2a2a" stroke-width="0.22">80</text>
<text x="309.6" y="38.8" font-size="5.0" text-anchor="middle" font-family="DejaVu Sans, Liberation Sans, sans-serif" fill="#2a2a2a" stroke="#2a2a2a" stroke-width="0.22">100</text>
<linearGradient id="cb3187" x1="0" y1="0" x2="0" y2="1"><stop offset="0%" stop-color="#ff0000"/><stop offset="4.2%" stop-color="#ff1f10"/><stop offset="8.3%" stop-color="#ff4121"/><stop offset="12.5%" stop-color="#ff5f30"/><stop offset="16.7%" stop-color="#ff7e41"/><stop offset="20.8%" stop-color="#ff9b52"/><stop offset="25%" stop-color="#ffb360"/><stop offset="29.2%" stop-color="#ebca70"/><stop offset="33.3%" stop-color="#d4dd80"/><stop offset="37.5%" stop-color="#c0eb8d"/><stop offset="41.7%" stop-color="#abf69b"/><stop offset="45.8%" stop-color="#94fda8"/><stop offset="50%" stop-color="#80ffb4"/><stop offset="54.2%" stop-color="#6afdc0"/><stop offset="58.3%" stop-color="#54f6cb"/><stop offset="62.5%" stop-color="#40ecd4"/><stop offset="66.7%" stop-color="#2adddd"/><stop offset="70.8%" stop-color="#14cae5"/><stop offset="75%" stop-color="#00b5eb"/><stop offset="79.2%" stop-color="#169bf2"/><stop offset="83.3%" stop-color="#2c7ef7"/><stop offset="87.5%" stop-color="#4062fa"/><stop offset="91.7%" stop-color="#5641fd"/><stop offset="95.8%" stop-color="#6c1fff"/><stop offset="100%" stop-color="#8000ff"/></linearGradient>
<rect x="316.2" y="25.7" width="10.8" height="101.4" fill="url(#cb3187)" stroke="#2a2a2a" stroke-width="0.4"/>
<text x="330.4" y="129" font-size="5.0" text-anchor="start" font-family="DejaVu Sans, Liberation Sans, sans-serif" fill="#2a2a2a" stroke="#2a2a2a" stroke-width="0.22">0</text>
<text x="330.4" y="116.2" font-size="5.0" text-anchor="start" font-family="DejaVu Sans, Liberation Sans, sans-serif" fill="#2a2a2a" stroke="#2a2a2a" stroke-width="0.22">10</text>
<text x="330.4" y="103.5" font-size="5.0" text-anchor="start" font-family="DejaVu Sans, Liberation Sans, sans-serif" fill="#2a2a2a" stroke="#2a2a2a" stroke-width="0.22">20</text>
<text x="330.4" y="90.7" font-size="5.0" text-anchor="start" font-family="DejaVu Sans, Liberation Sans, sans-serif" fill="#2a2a2a" stroke="#2a2a2a" stroke-width="0.22">30</text>
<text x="330.4" y="78" font-size="5.0" text-anchor="start" font-family="DejaVu Sans, Liberation Sans, sans-serif" fill="#2a2a2a" stroke="#2a2a2a" stroke-width="0.22">40</text>
<text x="330.4" y="65.2" font-size="5.0" text-anchor="start" font-family="DejaVu Sans, Liberation Sans, sans-serif" fill="#2a2a2a" stroke="#2a2a2a" stroke-width="0.22">50</text>
<text x="330.4" y="52.5" font-size="5.0" text-anchor="start" font-family="DejaVu Sans, Liberation Sans, sans-serif" fill="#2a2a2a" stroke="#2a2a2a" stroke-width="0.22">60</text>
<text x="330.4" y="39.7" font-size="5.0" text-anchor="start" font-family="DejaVu Sans, Liberation Sans, sans-serif" fill="#2a2a2a" stroke="#2a2a2a" stroke-width="0.22">70</text>
<path d="M327 127.1h1.6M327 114.3h1.6M327 101.6h1.6M327 88.8h1.6M327 76.1h1.6M327 63.3h1.6M327 50.6h1.6M327 37.8h1.6" stroke="#2a2a2a" stroke-width="0.45" fill="none"/>
</g>
<g id="plot-c">
<path d="M360.7 116.6L412.9 72.6L411.8 6.1L356.3 47.9Z" fill="#f8f8f8"/>
<path d="M412.9 72.6L499.3 96.9L503.4 29.1L411.8 6.1Z" fill="#f1f1f1"/>
<path d="M360.7 116.6L451.1 144.3L499.3 96.9L412.9 72.6Z" fill="#f4f4f4"/>
<path d="M366.2 118.3L418.1 74.1L417.4 7.5M383.3 123.5L434.5 78.7L434.7 11.8M400.7 128.8L451.1 83.4L452.3 16.2M418.3 134.2L467.9 88.1L470.1 20.7M436.2 139.7L485 92.9L488.3 25.3M454.4 141.1L364.2 113.6L360.1 45.1M464.7 130.9L375.4 104.2L372 36.1M474.7 121.1L386.3 95.1L383.5 27.4M484.5 111.5L396.8 86.2L394.8 18.9M493.9 102.1L407.1 77.5L405.7 10.7M360.6 115.3L412.9 71.4L499.3 95.6M360 105.9L412.7 62.2L499.9 86.3M359.4 96.3L412.6 52.9L500.5 76.8M358.8 86.5L412.4 43.4L501.1 67.2M358.1 76.6L412.3 33.8L501.7 57.4M357.5 66.5L412.1 24L502.3 47.4M356.8 56.2L411.9 14L502.9 37.2" fill="none" stroke="#b9b9b9" stroke-width="0.55"/>
<path d="M369.6 114L448.5 138L490.8 96.8L415.1 75.5Z" fill="#8000ff"/>
<g transform="scale(.1)" fill="currentColor" stroke="currentColor" stroke-width="5" stroke-linejoin="round"><path d="M3990 882l12 0 8-5-13 0z" color="#780dff"/><path d="M3982 887l13 0 7-5-12 0z" color="#780dff"/><path d="M3975 892l12 0 8-5-13 0z" color="#7610ff"/><path d="M4669 896l13 6 7-3-13-6z" color="#780dff"/><path d="M4682 902l13 6 6-4-12-5z" color="#7a09ff"/><path d="M3987 892l12-3 8-5-12 3z" color="#7216ff"/><path d="M3967 897l13 0 7-5-12 0z" color="#7610ff"/><path d="M4695 908l13 5 6-3-13-6z" color="#7c06ff"/><path d="M4708 913l12 6 7-2-13-7z" color="#7e03ff"/><path d="M4720 919l13 5 7-3-13-4z" color="#8000ff"/><path d="M3980 897l12-3 7-5-12 3z" color="#7216ff"/><path d="M3960 903l12-1 8-5-13 0z" color="#7413ff"/><path d="M4675 903l13 6 7-1-13-6z" color="#7610ff"/><path d="M4733 924l13 7 7-7-13-3z" color="#8000ff"/><path d="M4688 909l13 6 7-2-13-5z" color="#780dff"/><path d="M4701 915l13 6 6-2-12-6z" color="#7a09ff"/><path d="M3972 902l12-3 8-5-12 3z" color="#7019ff"/><path d="M3952 909l13-1 7-6-12 1z" color="#7413ff"/><path d="M4714 921l12 6 7-3-13-5z" color="#7c06ff"/><path d="M4726 927l13 6 7-2-13-7z" color="#7e03ff"/><path d="M4739 933l13 8 7-7-13-3z" color="#8000ff"/><path d="M4682 910l12 6 7-1-13-6z" color="#7413ff"/><path d="M3945 914l12 0 8-6-13 1z" color="#7413ff"/><path d="M3965 908l12-3 7-6-12 3z" color="#7019ff"/><path d="M3984 899l13-3 7-6-12 4z" color="#6a22fe"/><path d="M4694 916l13 7 7-2-13-6z" color="#7610ff"/><path d="M4707 923l13 6 6-2-12-6z" color="#780dff"/><path d="M4720 929l13 7 6-3-13-6z" color="#7a09ff"/><path d="M3937 921l12-1 8-6-12 0z" color="#7413ff"/><path d="M3957 914l12-3 8-6-12 3z" color="#7019ff"/><path d="M4733 936l12 6 7-1-13-8z" color="#7c06ff"/><path d="M3977 905l12-4 8-5-13 3z" color="#6a22fe"/><path d="M4675 910l13 7 6-1-12-6z" color="#6e1cff"/><path d="M4745 942l13 6 7-4-13-3z" color="#7e03ff"/><path d="M4688 917l12 7 7-1-13-7z" color="#7216ff"/><path d="M4758 948l13 6 7-6-13-4z" color="#8000ff"/><path d="M4700 924l13 7 7-2-13-6z" color="#7413ff"/><path d="M3930 927l12-1 7-6-12 1z" color="#7413ff"/><path d="M3949 920l13-3 7-6-12 3z" color="#6e1cff"/><path d="M4713 931l13 7 7-2-13-7z" color="#7610ff"/><path d="M3969 911l13-4 7-6-12 4z" color="#6a22fe"/><path d="M4726 938l13 6 6-2-12-6z" color="#7a09ff"/><path d="M4739 944l13 7 6-3-13-6z" color="#7c06ff"/><path d="M3922 933l12 0 8-7-12 1z" color="#7413ff"/><path d="M3942 926l12-3 8-6-13 3z" color="#6e1cff"/><path d="M4752 951l13 6 6-3-13-6z" color="#7e03ff"/><path d="M4681 917l13 7 6 0-12-7z" color="#6c1fff"/><path d="M3962 917l12-4 8-6-13 4z" color="#6826fe"/><path d="M4694 924l13 8 6-1-13-7z" color="#7019ff"/><path d="M4765 957l12 8 7-7-13-4z" color="#8000ff"/><path d="M3982 907l12-5 7-6-12 5z" color="#622ffe"/><path d="M4707 932l12 7 7-1-13-7z" color="#7216ff"/><path d="M4719 939l13 7 7-2-13-6z" color="#7610ff"/><path d="M3914 940l13-1 7-6-12 0z" color="#7413ff"/><path d="M3934 933l13-3 7-7-12 3z" color="#6e1cff"/><path d="M4732 946l13 7 7-2-13-7z" color="#780dff"/><path d="M3954 923l12-4 8-6-12 4z" color="#6826fe"/><path d="M4745 953l13 7 7-3-13-6z" color="#7a09ff"/><path d="M3974 913l12-5 8-6-12 5z" color="#622ffe"/><path d="M4758 960l13 7 6-2-12-8z" color="#7e03ff"/><path d="M4674 916l13 8 7 0-13-7z" color="#6629fe"/><path d="M3907 947l12-1 8-7-13 1z" color="#7413ff"/><path d="M4687 924l13 8 7 0-13-8z" color="#6a22fe"/><path d="M4771 967l13 8 6-7-13-3z" color="#8000ff"/><path d="M3927 939l12-3 8-6-13 3z" color="#6e1cff"/><path d="M4700 932l13 8 6-1-12-7z" color="#6e1cff"/><path d="M3947 930l12-5 7-6-12 4z" color="#6826fe"/><path d="M4713 940l13 8 6-2-13-7z" color="#7019ff"/><path d="M4726 948l12 7 7-2-13-7z" color="#7413ff"/><path d="M3966 919l13-5 7-6-12 5z" color="#622ffe"/><path d="M4738 955l13 8 7-3-13-7z" color="#780dff"/><path d="M3899 954l13 0 7-8-12 1z" color="#7413ff"/><path d="M3986 908l13-5 7-6-12 5z" color="#5c38fd"/><path d="M3919 946l12-3 8-7-12 3z" color="#7019ff"/><path d="M4751 963l13 7 7-3-13-7z" color="#7a09ff"/><path d="M3939 936l12-4 8-7-12 5z" color="#6a22fe"/><path d="M4764 970l13 7 7-2-13-8z" color="#7c06ff"/><path d="M4681 923l12 9 7 0-13-8z" color="#642cfe"/><path d="M4777 977l13 8 7-7-13-3z" color="#8000ff"/><path d="M3959 925l12-4 8-7-13 5z" color="#622ffe"/><path d="M4693 932l13 8 7 0-13-8z" color="#6826fe"/><path d="M3892 962l12-1 8-7-13 0z" color="#7413ff"/><path d="M4706 940l13 8 7 0-13-8z" color="#6c1fff"/><path d="M3912 954l12-3 7-8-12 3z" color="#7019ff"/><path d="M3979 914l12-5 8-6-13 5z" color="#5a3bfd"/><path d="M4719 948l13 9 6-2-12-7z" color="#7019ff"/><path d="M3931 943l13-4 7-7-12 4z" color="#6a22fe"/><path d="M4732 957l13 7 6-1-13-8z" color="#7413ff"/><path d="M4745 964l12 8 7-2-13-7z" color="#7610ff"/><path d="M3951 932l13-4 7-7-12 4z" color="#622ffe"/><path d="M4757 972l13 8 7-3-13-7z" color="#7a09ff"/><path d="M3884 969l12 0 8-8-12 1z" color="#7610ff"/><path d="M3904 961l12-3 8-7-12 3z" color="#7019ff"/><path d="M4770 980l13 7 7-2-13-8z" color="#7c06ff"/><path d="M3971 921l12-6 8-6-12 5z" color="#5c38fd"/><path d="M3924 951l12-4 8-8-13 4z" color="#6a22fe"/><path d="M4783 987l13 8 7-6-13-4z" color="#8000ff"/><path d="M4687 931l13 9 6 0-13-8z" color="#642cfe"/><path d="M4700 940l12 9 7-1-13-8z" color="#6826fe"/><path d="M3944 939l12-4 8-7-13 4z" color="#622ffe"/><path d="M4712 949l13 8 7 0-13-9z" color="#6c1fff"/><path d="M3876 977l13 0 7-8-12 0z" color="#7610ff"/><path d="M4725 957l13 9 7-2-13-7z" color="#7019ff"/><path d="M3896 969l13-3 7-8-12 3z" color="#7216ff"/><path d="M4738 966l13 8 6-2-12-8z" color="#7216ff"/><path d="M3964 928l12-6 7-7-12 6z" color="#5c38fd"/><path d="M4751 974l13 8 6-2-13-8z" color="#7610ff"/><path d="M3916 958l13-3 7-8-12 4z" color="#6c1fff"/><path d="M4764 982l13 8 6-3-13-7z" color="#7a09ff"/><path d="M3983 915l13-4 7-7-12 5z" color="#5444fd"/><path d="M3936 947l12-5 8-7-12 4z" color="#642cfe"/><path d="M3869 984l12 1 8-8-13 0z" color="#780dff"/><path d="M4777 990l12 7 7-2-13-8z" color="#7c06ff"/><path d="M3889 977l12-3 8-8-13 3z" color="#7216ff"/><path d="M4789 997l13 8 7-6-13-4z" color="#8000ff"/><path d="M3956 935l12-5 8-8-12 6z" color="#5c38fd"/><path d="M4680 931l13 9 7 0-13-9z" color="#5e35fe"/><path d="M3909 966l12-3 8-8-13 3z" color="#6c1fff"/><path d="M4693 940l13 9 6 0-12-9z" color="#622ffe"/><path d="M4706 949l12 9 7-1-13-8z" color="#6629fe"/><path d="M4718 958l13 9 7-1-13-9z" color="#6a22fe"/><path d="M4731 967l13 9 7-2-13-8z" color="#6e1cff"/><path d="M3976 922l12-4 8-7-13 4z" color="#5444fd"/><path d="M3861 992l12 1 8-8-12-1z" color="#7a09ff"/><path d="M3929 955l12-5 7-8-12 5z" color="#642cfe"/><path d="M4744 976l13 8 7-2-13-8z" color="#7216ff"/><path d="M3881 985l12-3 8-8-12 3z" color="#7413ff"/><path d="M4757 984l13 9 7-3-13-8z" color="#7610ff"/><path d="M3901 974l12-3 8-8-12 3z" color="#6e1cff"/><path d="M3948 942l13-5 7-7-12 5z" color="#5c38fd"/><path d="M4770 993l13 7 6-3-12-7z" color="#7a09ff"/><path d="M4783 1000l13 8 6-3-13-8z" color="#7c06ff"/><path d="M3853 1001l13 0 7-8-12-1z" color="#7a09ff"/><path d="M3921 963l12-5 8-8-12 5z" color="#6629fe"/><path d="M3968 930l13-5 7-7-12 4z" color="#5444fd"/><path d="M4796 1008l13 8 6-7-13-4z" color="#8000ff"/><path d="M3873 993l13-2 7-9-12 3z" color="#7610ff"/><path d="M4686 940l13 9 7 0-13-9z" color="#5c38fd"/><path d="M3893 982l13-3 7-8-12 3z" color="#6e1cff"/><path d="M4699 949l13 10 6-1-12-9z" color="#622ffe"/><path d="M3941 950l12-5 8-8-13 5z" color="#5e35fe"/><path d="M4712 959l13 9 6-1-13-9z" color="#6629fe"/><path d="M4725 968l12 9 7-1-13-9z" color="#6a22fe"/><path d="M4737 977l13 9 7-2-13-8z" color="#6e1cff"/><path d="M4750 986l13 9 7-2-13-9z" color="#7216ff"/><path d="M3846 1009l12 0 8-8-13 0z" color="#7c06ff"/><path d="M3913 971l13-4 7-9-12 5z" color="#6826fe"/><path d="M4763 995l13 8 7-3-13-7z" color="#7610ff"/><path d="M3866 1001l12-2 8-8-13 2z" color="#7610ff"/><path d="M3961 937l12-5 8-7-13 5z" color="#5641fd"/><path d="M4776 1003l13 8 7-3-13-8z" color="#7a09ff"/><path d="M3886 991l12-3 8-9-13 3z" color="#7019ff"/><path d="M3933 958l13-4 7-9-12 5z" color="#6032fe"/><path d="M4789 1011l13 7 7-2-13-8z" color="#7e03ff"/><path d="M3981 925l12-5 8-7-13 5z" color="#4e4dfc"/><path d="M4802 1018l13 8 7-7-13-3z" color="#8000ff"/><path d="M3838 1017l13 1 7-9-12 0z" color="#7e03ff"/><path d="M3906 979l12-3 8-9-13 4z" color="#6826fe"/><path d="M3858 1009l13-1 7-9-12 2z" color="#780dff"/><path d="M3953 945l13-5 7-8-12 5z" color="#5641fd"/><path d="M4679 940l13 9 7 0-13-9z" color="#583efd"/><path d="M4692 949l13 10 7 0-13-10z" color="#5c38fd"/><path d="M4705 959l13 10 7-1-13-9z" color="#6032fe"/><path d="M3878 999l13-2 7-9-12 3z" color="#7216ff"/><path d="M4718 969l13 10 6-2-12-9z" color="#6629fe"/><path d="M4731 979l13 9 6-2-13-9z" color="#6a22fe"/><path d="M3926 967l12-5 8-8-13 4z" color="#6032fe"/><path d="M4744 988l13 9 6-2-13-9z" color="#7019ff"/><path d="M3973 932l13-4 7-8-12 5z" color="#4e4dfc"/><path d="M4757 997l12 9 7-3-13-8z" color="#7413ff"/><path d="M4769 1006l13 9 7-4-13-8z" color="#780dff"/><path d="M3898 988l12-3 8-9-12 3z" color="#6a22fe"/><path d="M3830 1026l13 0 8-8-13-1z" color="#7e03ff"/><path d="M3851 1018l12-1 8-9-13 1z" color="#7a09ff"/><path d="M4782 1015l13 8 7-5-13-7z" color="#7a09ff"/><path d="M3946 954l12-5 8-9-13 5z" color="#583efd"/><path d="M3871 1008l12-2 8-9-13 2z" color="#7413ff"/><path d="M4795 1023l13 7 7-4-13-8z" color="#7e03ff"/><path d="M3918 976l12-5 8-9-12 5z" color="#622ffe"/><path d="M3966 940l12-4 8-8-13 4z" color="#504afc"/><path d="M4808 1030l13 6 7-6-13-4z" color="#8000ff"/><path d="M3891 997l12-3 7-9-12 3z" color="#6c1fff"/><path d="M3823 1033l12 1 8-8-13 0z" color="#8000ff"/><path d="M3843 1026l12-1 8-8-12 1z" color="#7c06ff"/><path d="M3938 962l12-4 8-9-12 5z" color="#5a3bfd"/><path d="M3986 928l12-4 8-8-13 4z" color="#4856fb"/><path d="M4711 970l13 10 7-1-13-10z" color="#622ffe"/><path d="M4724 980l13 10 7-2-13-9z" color="#6629fe"/><path d="M4698 959l13 11 7-1-13-10z" color="#5c38fd"/><path d="M4686 949l12 10 7 0-13-10z" color="#5641fd"/><path d="M4737 990l13 9 7-2-13-9z" color="#6c1fff"/><path d="M3863 1017l12-2 8-9-12 2z" color="#7610ff"/><path d="M4750 999l13 10 6-3-12-9z" color="#7019ff"/><path d="M3910 985l13-4 7-10-12 5z" color="#642cfe"/><path d="M4763 1009l13 9 6-3-13-9z" color="#7413ff"/><path d="M4776 1018l13 8 6-3-13-8z" color="#780dff"/><path d="M3883 1006l12-3 8-9-12 3z" color="#6e1cff"/><path d="M3958 949l12-5 8-8-12 4z" color="#5247fc"/><path d="M4789 1026l12 8 7-4-13-7z" color="#7c06ff"/><path d="M3815 1039l12 4 8-9-12-1z" color="#8000ff"/><path d="M3835 1034l13 0 7-9-12 1z" color="#7c06ff"/><path d="M3930 971l13-4 7-9-12 4z" color="#5c38fd"/><path d="M4801 1034l13 9 7-7-13-6z" color="#7e03ff"/><path d="M3855 1025l13-1 7-9-12 2z" color="#780dff"/><path d="M3978 936l12-4 8-8-12 4z" color="#4a53fb"/><path d="M3903 994l12-4 8-9-13 4z" color="#6629fe"/><path d="M3875 1015l13-3 7-9-12 3z" color="#7019ff"/><path d="M3950 958l13-5 7-9-12 5z" color="#5247fc"/><path d="M3923 981l12-5 8-9-13 4z" color="#5e35fe"/><path d="M3827 1043l13 0 8-9-13 0z" color="#7e03ff"/><path d="M4730 991l13 10 7-2-13-9z" color="#6826fe"/><path d="M4743 1001l13 10 7-2-13-10z" color="#6c1fff"/><path d="M4717 981l13 10 7-1-13-10z" color="#622ffe"/><path d="M4705 970l12 11 7-1-13-10z" color="#5c38fd"/><path d="M4756 1011l13 10 7-3-13-9z" color="#7019ff"/><path d="M4692 960l13 10 6 0-13-11z" color="#583efd"/><path d="M4769 1021l13 9 7-4-13-8z" color="#7610ff"/><path d="M3848 1034l12-1 8-9-13 1z" color="#7a09ff"/><path d="M3895 1003l13-3 7-10-12 4z" color="#6826fe"/><path d="M3970 944l13-4 7-8-12 4z" color="#4a53fb"/><path d="M4782 1030l13 8 6-4-12-8z" color="#7a09ff"/><path d="M4679 941l13 19 6-1-12-10z" color="#4e4dfc"/><path d="M4795 1038l13 8 6-3-13-9z" color="#7c06ff"/><path d="M3868 1024l12-2 8-10-13 3z" color="#7413ff"/><path d="M3943 967l12-5 8-9-13 5z" color="#5444fd"/><path d="M3915 990l13-4 7-10-12 5z" color="#6032fe"/><path d="M4808 1046l13 7 7-6-14-4z" color="#8000ff"/><path d="M3820 1050l12 1 8-8-13 0z" color="#8000ff"/><path d="M3888 1012l12-3 8-9-13 3z" color="#6c1fff"/><path d="M3840 1043l12-1 8-9-12 1z" color="#7c06ff"/><path d="M3963 953l12-4 8-9-13 4z" color="#4c50fc"/><path d="M3860 1033l12-1 8-10-12 2z" color="#7610ff"/><path d="M3935 976l13-5 7-9-12 5z" color="#583efd"/><path d="M4736 1003l13 11 7-3-13-10z" color="#6826fe"/><path d="M4749 1014l13 10 7-3-13-10z" color="#6e1cff"/><path d="M3908 1000l12-4 8-10-13 4z" color="#622ffe"/><path d="M4724 993l12 10 7-2-13-10z" color="#642cfe"/><path d="M4762 1024l13 9 7-3-13-9z" color="#7216ff"/><path d="M4711 982l13 11 6-2-13-10z" color="#5e35fe"/><path d="M3983 940l12-3 8-9-13 4z" color="#445cfb"/><path d="M4775 1033l13 9 7-4-13-8z" color="#7610ff"/><path d="M4698 971l13 11 6-1-12-11z" color="#583efd"/><path d="M3880 1022l12-3 8-10-12 3z" color="#6e1cff"/><path d="M4685 961l13 10 7-1-13-10z" color="#5247fc"/><path d="M4788 1042l13 8 7-4-13-8z" color="#7a09ff"/><path d="M3812 1056l13 4 7-9-12-1z" color="#8000ff"/><path d="M3832 1051l13 0 7-9-12 1z" color="#7e03ff"/><path d="M3955 962l13-4 7-9-12 4z" color="#4e4dfc"/><path d="M4801 1050l13 6 7-3-13-7z" color="#7e03ff"/><path d="M3852 1042l13-1 7-9-12 1z" color="#780dff"/><path d="M3928 986l12-5 8-10-13 5z" color="#5a3bfd"/><path d="M3900 1009l12-3 8-10-12 4z" color="#6629fe"/><path d="M3872 1032l13-3 7-10-12 3z" color="#7019ff"/><path d="M3975 949l13-4 7-8-12 3z" color="#4659fb"/><path d="M3825 1060l12 0 8-9-13 0z" color="#7e03ff"/><path d="M3948 971l12-4 8-9-13 4z" color="#504afc"/><path d="M3845 1051l12 0 8-10-13 1z" color="#7a09ff"/><path d="M3920 996l12-5 8-10-12 5z" color="#5c38fd"/><path d="M4743 1016l12 10 7-2-13-10z" color="#6a22fe"/><path d="M4755 1026l13 10 7-3-13-9z" color="#7019ff"/><path d="M3892 1019l13-3 7-10-12 3z" color="#6826fe"/><path d="M4730 1005l13 11 6-2-13-11z" color="#642cfe"/><path d="M4768 1036l13 10 7-4-13-9z" color="#7413ff"/><path d="M4717 994l13 11 6-2-12-10z" color="#6032fe"/><path d="M4781 1046l13 8 7-4-13-8z" color="#780dff"/><path d="M4704 983l13 11 7-1-13-11z" color="#5a3bfd"/><path d="M3865 1041l12-2 8-10-13 3z" color="#7413ff"/><path d="M4691 973l13 10 7-1-13-11z" color="#5444fd"/><path d="M3968 958l12-4 8-9-13 4z" color="#4856fb"/><path d="M4794 1054l13 7 7-5-13-6z" color="#7c06ff"/><path d="M3940 981l12-4 8-10-12 4z" color="#5247fc"/><path d="M3817 1067l12 4 8-11-12 0z" color="#8000ff"/><path d="M3912 1006l13-4 7-11-12 5z" color="#6032fe"/><path d="M3837 1060l12 0 8-9-12 0z" color="#7c06ff"/><path d="M3885 1029l12-3 8-10-13 3z" color="#6c1fff"/><path d="M3857 1051l13-2 7-10-12 2z" color="#7610ff"/><path d="M3960 967l13-3 7-10-12 4z" color="#4a53fb"/><path d="M3932 991l13-4 7-10-12 4z" color="#5641fd"/><path d="M3905 1016l12-4 8-10-13 4z" color="#622ffe"/><path d="M4749 1029l13 10 6-3-13-10z" color="#6c1fff"/><path d="M4762 1039l13 10 6-3-13-10z" color="#7216ff"/><path d="M3877 1039l13-2 7-11-12 3z" color="#6e1cff"/><path d="M4736 1018l13 11 6-3-12-10z" color="#6629fe"/><path d="M3829 1071l13-2 7-9-12 0z" color="#7e03ff"/><path d="M4775 1049l13 9 6-4-13-8z" color="#7610ff"/><path d="M4723 1007l13 11 7-2-13-11z" color="#622ffe"/><path d="M4710 996l13 11 7-2-13-11z" color="#5c38fd"/><path d="M4788 1058l13 7 6-4-13-7z" color="#7a09ff"/><path d="M4697 985l13 11 7-2-13-11z" color="#5641fd"/><path d="M3849 1060l13-1 8-10-13 2z" color="#780dff"/><path d="M3952 977l13-4 8-9-13 3z" color="#4c50fc"/><path d="M3925 1002l12-4 8-11-13 4z" color="#583efd"/><path d="M3897 1026l13-3 7-11-12 4z" color="#6629fe"/><path d="M3870 1049l12-2 8-10-13 2z" color="#7216ff"/><path d="M4681 886l10 87 7-2-13-10z" color="#3670f8"/><path d="M3822 1077l12 1 8-9-13 2z" color="#8000ff"/><path d="M3980 954l13-3 6-40-11 34z" color="#3c68f9"/><path d="M3973 964l12-4 8-9-13 3z" color="#445cfb"/><path d="M3842 1069l12 0 8-10-13 1z" color="#7a09ff"/><path d="M3945 987l12-4 8-10-13 4z" color="#504afc"/><path d="M3917 1012l13-3 7-11-12 4z" color="#5c38fd"/><path d="M3890 1037l12-3 8-11-13 3z" color="#6826fe"/><path d="M4755 1043l13 10 7-4-13-10z" color="#6e1cff"/><path d="M4742 1032l13 11 7-4-13-10z" color="#6a22fe"/><path d="M4768 1053l13 9 7-4-13-9z" color="#7413ff"/><path d="M3862 1059l12-1 8-11-12 2z" color="#7413ff"/><path d="M4729 1021l13 11 7-3-13-11z" color="#642cfe"/><path d="M4781 1062l13 8 7-5-13-7z" color="#780dff"/><path d="M4716 1009l13 12 7-3-13-11z" color="#5e35fe"/><path d="M4703 998l13 11 7-2-13-11z" color="#583efd"/><path d="M4686 917l11 68 7-2-13-10z" color="#3c68f9"/><path d="M3965 973l13-3 7-10-12 4z" color="#4659fb"/><path d="M3814 1084l12 4 8-10-12-1z" color="#8000ff"/><path d="M3834 1078l13 1 7-10-12 0z" color="#7c06ff"/><path d="M3910 1023l12-3 8-11-13 3z" color="#6032fe"/><path d="M3882 1047l13-2 7-11-12 3z" color="#6c1fff"/><path d="M3937 998l13-4 7-11-12 4z" color="#5247fc"/><path d="M3854 1069l13-1 7-10-12 1z" color="#7610ff"/><path d="M4691 963l12 35 7-2-13-11z" color="#4a53fb"/><path d="M3902 1034l13-3 7-11-12 3z" color="#642cfe"/><path d="M3957 983l13-3 8-10-13 3z" color="#4a53fb"/><path d="M3874 1058l13-2 8-11-13 2z" color="#7019ff"/><path d="M3930 1009l12-4 8-11-13 4z" color="#5641fd"/><path d="M3826 1088l13 0 8-9-13-1z" color="#7e03ff"/><path d="M4761 1057l13 9 7-4-13-9z" color="#7216ff"/><path d="M4748 1046l13 11 7-4-13-10z" color="#6c1fff"/><path d="M4735 1035l13 11 7-3-13-11z" color="#6629fe"/><path d="M4774 1066l13 8 7-4-13-8z" color="#7610ff"/><path d="M3847 1079l12-1 8-10-13 1z" color="#7a09ff"/><path d="M4722 1023l13 12 7-3-13-11z" color="#6032fe"/><path d="M4709 1012l13 11 7-2-13-12z" color="#5a3bfd"/><path d="M3895 1045l12-3 8-11-13 3z" color="#6629fe"/><path d="M4696 1000l13 12 7-3-13-11z" color="#5444fd"/><path d="M3922 1020l13-4 7-11-12 4z" color="#5a3bfd"/><path d="M3950 994l12-4 8-10-13 3z" color="#4c50fc"/><path d="M3867 1068l12-1 8-11-13 2z" color="#7216ff"/><path d="M3819 1095l12 3 8-10-13 0z" color="#8000ff"/><path d="M3839 1088l12 0 8-10-12 1z" color="#7c06ff"/><path d="M3887 1056l12-2 8-12-12 3z" color="#6a22fe"/><path d="M3970 980l12-3 8-10-12 3z" color="#445cfb"/><path d="M3915 1031l12-4 8-11-13 4z" color="#5e35fe"/><path d="M3942 1005l13-4 7-11-12 4z" color="#504afc"/><path d="M3859 1078l13-1 7-10-12 1z" color="#7610ff"/><path d="M4754 1060l13 11 7-5-13-9z" color="#7019ff"/><path d="M4741 1050l13 10 7-3-13-11z" color="#6a22fe"/><path d="M4767 1071l13 8 7-5-13-8z" color="#7413ff"/><path d="M4728 1038l13 12 7-4-13-11z" color="#642cfe"/><path d="M4715 1026l13 12 7-3-13-12z" color="#5e35fe"/><path d="M3831 1098l13 0 7-10-12 0z" color="#7e03ff"/><path d="M3879 1067l13-2 7-11-12 2z" color="#6e1cff"/><path d="M3907 1042l13-3 7-12-12 4z" color="#622ffe"/><path d="M4703 1015l12 11 7-3-13-11z" color="#5641fd"/><path d="M3962 990l13-3 7-10-12 3z" color="#4659fb"/><path d="M3935 1016l12-4 8-11-13 4z" color="#5444fd"/><path d="M3851 1088l13 0 8-11-13 1z" color="#780dff"/><path d="M3978 970l12-3 6-81-11 74z" color="#3670f8"/><path d="M3899 1054l13-3 8-12-13 3z" color="#6629fe"/><path d="M3872 1077l12-1 8-11-13 2z" color="#7216ff"/><path d="M3927 1027l13-3 7-12-12 4z" color="#583efd"/><path d="M3955 1001l12-3 8-11-13 3z" color="#4a53fb"/><path d="M3823 1105l13 4 8-11-13 0z" color="#8000ff"/><path d="M4747 1064l13 11 7-4-13-11z" color="#6c1fff"/><path d="M3844 1098l12 0 8-10-13 0z" color="#7c06ff"/><path d="M4734 1053l13 11 7-4-13-10z" color="#6826fe"/><path d="M4760 1075l13 8 7-4-13-8z" color="#7216ff"/><path d="M4691 966l12 49 6-3-13-12z" color="#445cfb"/><path d="M4722 1041l12 12 7-3-13-12z" color="#6032fe"/><path d="M3892 1065l12-2 8-12-13 3z" color="#6a22fe"/><path d="M3864 1088l13-1 7-11-12 1z" color="#7413ff"/><path d="M3920 1039l12-3 8-12-13 3z" color="#5c38fd"/><path d="M4709 1029l13 12 6-3-13-12z" color="#5a3bfd"/><path d="M4686 911l10 89 7-2-12-35z" color="#3079f7"/><path d="M3947 1012l13-3 7-11-12 3z" color="#4e4dfc"/><path d="M4696 1018l13 11 6-3-12-11z" color="#5444fd"/><path d="M3836 1109l13-1 7-10-12 0z" color="#7e03ff"/><path d="M3884 1076l13-2 7-11-12 2z" color="#6c1fff"/><path d="M3912 1051l12-3 8-12-12 3z" color="#6032fe"/><path d="M3856 1098l13 0 8-11-13 1z" color="#780dff"/><path d="M4681 872l10 91 6 22-11-68z" color="#1c93f3"/><path d="M3967 998l13-2 8-11-13 2z" color="#445cfb"/><path d="M3940 1024l12-3 8-12-13 3z" color="#5247fc"/><path d="M4741 1069l13 10 6-4-13-11z" color="#6a22fe"/><path d="M4754 1079l13 9 6-5-13-8z" color="#7019ff"/><path d="M4728 1057l13 12 6-5-13-11z" color="#642cfe"/><path d="M3877 1087l12-1 8-12-13 2z" color="#7019ff"/><path d="M3904 1063l13-3 7-12-12 3z" color="#642cfe"/><path d="M3828 1116l13 4 8-12-13 1z" color="#8000ff"/><path d="M4715 1045l13 12 6-4-12-12z" color="#5e35fe"/><path d="M3932 1036l13-3 7-12-12 3z" color="#5641fd"/><path d="M3960 1009l12-2 8-11-13 2z" color="#4856fb"/><path d="M3849 1108l12 0 8-10-13 0z" color="#7a09ff"/><path d="M4702 1033l13 12 7-4-13-12z" color="#583efd"/><path d="M3975 987l13-2 5-76-11 68z" color="#3670f8"/><path d="M3897 1074l12-2 8-12-13 3z" color="#6826fe"/><path d="M3869 1098l12-1 8-11-12 1z" color="#7413ff"/><path d="M3924 1048l13-3 8-12-13 3z" color="#5a3bfd"/><path d="M3952 1021l13-3 7-11-12 2z" color="#4c50fc"/><path d="M3841 1120l13-1 7-11-12 0z" color="#7e03ff"/><path d="M4690 999l12 34 7-4-13-11z" color="#4a53fb"/><path d="M3889 1086l13-2 7-12-12 2z" color="#6c1fff"/><path d="M4734 1073l13 11 7-5-13-10z" color="#6826fe"/><path d="M4747 1084l13 8 7-4-13-9z" color="#6e1cff"/><path d="M3917 1060l12-2 8-13-13 3z" color="#5e35fe"/><path d="M3861 1108l13 0 7-11-12 1z" color="#780dff"/><path d="M4721 1061l13 12 7-4-13-12z" color="#622ffe"/><path d="M3945 1033l12-3 8-12-13 3z" color="#504afc"/><path d="M4708 1049l13 12 7-4-13-12z" color="#5c38fd"/><path d="M3972 1007l13-3 7-17-12 9z" color="#425ffa"/><path d="M4695 1037l13 12 7-4-13-12z" color="#5641fd"/><path d="M3881 1097l13-1 8-12-13 2z" color="#7019ff"/><path d="M3833 1126l13 4 8-11-13 1z" color="#8000ff"/><path d="M3909 1072l13-2 7-12-12 2z" color="#642cfe"/><path d="M3854 1119l12 0 8-11-13 0z" color="#7a09ff"/><path d="M3937 1045l13-3 7-12-12 3z" color="#5444fd"/><path d="M4685 927l11 91 7-3-12-49z" color="#2e7bf7"/><path d="M3965 1018l12-2 8-12-13 3z" color="#4659fb"/><path d="M3902 1084l12-1 8-13-13 2z" color="#6826fe"/><path d="M3874 1108l12 0 8-12-13 1z" color="#7413ff"/><path d="M4727 1077l13 12 7-5-13-11z" color="#6826fe"/><path d="M4740 1089l13 8 7-5-13-8z" color="#6c1fff"/><path d="M3929 1058l13-3 8-13-13 3z" color="#5a3bfd"/><path d="M4714 1065l13 12 7-4-13-12z" color="#6032fe"/><path d="M3846 1130l12-1 8-10-12 0z" color="#7e03ff"/><path d="M3957 1030l13-2 7-12-12 2z" color="#4a53fb"/><path d="M4701 1053l13 12 7-4-13-12z" color="#5a3bfd"/><path d="M3894 1096l13-1 7-12-12 1z" color="#6c1fff"/><path d="M3866 1119l13 0 7-11-12 0z" color="#780dff"/><path d="M3922 1070l12-2 8-13-13 3z" color="#5e35fe"/><path d="M4688 1041l13 12 7-4-13-12z" color="#5444fd"/><path d="M3982 977l11-68 6-83-9 141z" color="#1e91f3"/><path d="M3950 1042l12-2 8-12-13 2z" color="#504afc"/><path d="M3886 1108l13-1 8-12-13 1z" color="#7019ff"/><path d="M3838 1137l13 4 7-12-12 1z" color="#8000ff"/><path d="M4680 879l11 87 5 34-10-89z" color="#11a0f1"/><path d="M3914 1083l13-2 7-13-12 2z" color="#622ffe"/><path d="M3858 1129l13 1 8-11-13 0z" color="#7a09ff"/><path d="M4720 1082l13 12 7-5-13-12z" color="#6629fe"/><path d="M4733 1094l13 8 7-5-13-8z" color="#6a22fe"/><path d="M3942 1055l13-3 7-12-12 2z" color="#5444fd"/><path d="M3980 996l12-9 5-120-9 118z" color="#2c7ef7"/><path d="M4684 968l11 69 7-4-12-34z" color="#386df9"/><path d="M4707 1070l13 12 7-5-13-12z" color="#5e35fe"/><path d="M3970 1028l13-2 7-12-13 2z" color="#4659fb"/><path d="M3879 1119l12 0 8-12-13 1z" color="#7413ff"/><path d="M3907 1095l12-1 8-13-13 2z" color="#6826fe"/><path d="M4694 1057l13 13 7-5-13-12z" color="#583efd"/><path d="M3934 1068l13-3 8-13-13 3z" color="#583efd"/><path d="M3851 1141l12-1 8-10-13-1z" color="#7e03ff"/><path d="M3962 1040l13-2 8-12-13 2z" color="#4a53fb"/><path d="M4681 1038l13 19 7-4-13-12z" color="#4e4dfc"/><path d="M3977 1016l13-2 6-61-11 51z" color="#396bf9"/><path d="M3899 1107l13-1 7-12-12 1z" color="#6c1fff"/><path d="M3871 1130l13 0 7-11-12 0z" color="#780dff"/><path d="M3927 1081l13-2 7-14-13 3z" color="#5e35fe"/><path d="M4675 841l11 70 5 52-10-91z" color="#07bbea"/><path d="M4726 1099l13 9 7-6-13-8z" color="#6a22fe"/><path d="M4713 1087l13 12 7-5-13-12z" color="#642cfe"/><path d="M3955 1052l12-2 8-12-13 2z" color="#4e4dfc"/><path d="M3891 1119l13-1 8-12-13 1z" color="#7019ff"/><path d="M3843 1148l13 3 7-11-12 1z" color="#8000ff"/><path d="M4700 1075l13 12 7-5-13-12z" color="#5e35fe"/><path d="M3919 1094l13-2 8-13-13 2z" color="#642cfe"/><path d="M3863 1140l13 1 8-11-13 0z" color="#7c06ff"/><path d="M4687 1062l13 13 7-5-13-13z" color="#5641fd"/><path d="M3947 1065l13-2 7-13-12 2z" color="#5444fd"/><path d="M3975 1038l13-2 7-12-12 2z" color="#4659fb"/><path d="M3884 1130l12 0 8-12-13 1z" color="#7413ff"/><path d="M3912 1106l12-1 8-13-13 2z" color="#6826fe"/><path d="M4679 904l11 95 6 19-11-91z" color="#1898f2"/><path d="M4669 811l12 61 5 45-11-74z" color="#1acfe3"/><path d="M3940 1079l12-2 8-14-13 2z" color="#5a3bfd"/><path d="M3856 1151l12 1 8-11-13-1z" color="#7e03ff"/><path d="M3904 1118l13 0 7-13-12 1z" color="#6c1fff"/><path d="M3967 1050l13-1 8-13-13 2z" color="#4a53fb"/><path d="M4719 1104l13 9 7-5-13-9z" color="#6826fe"/><path d="M4706 1093l13 11 7-5-13-12z" color="#622ffe"/><path d="M3876 1141l13 1 7-12-12 0z" color="#780dff"/><path d="M4675 1031l12 31 7-5-13-19z" color="#4856fb"/><path d="M3932 1092l13-2 7-13-12 2z" color="#5e35fe"/><path d="M4677 956l11 85 7-4-11-69z" color="#2c7ef7"/><path d="M3983 1026l12-2 6-67-11 57z" color="#386df9"/><path d="M4693 1080l13 13 7-6-13-12z" color="#5c38fd"/><path d="M3960 1063l12-1 8-13-13 1z" color="#504afc"/><path d="M4680 1068l13 12 7-5-13-13z" color="#5641fd"/><path d="M3896 1130l13 0 8-12-13 0z" color="#7216ff"/><path d="M3924 1105l13-1 8-14-13 2z" color="#642cfe"/><path d="M3848 1158l13 4 7-10-12-1z" color="#8000ff"/><path d="M3868 1152l13 1 8-11-13-1z" color="#7c06ff"/><path d="M3952 1077l13-2 7-13-12 1z" color="#5444fd"/><path d="M3917 1118l12-1 8-13-13 1z" color="#6a22fe"/><path d="M3889 1142l13 0 7-12-13 0z" color="#7610ff"/><path d="M3980 1049l13-2 7-12-12 1z" color="#4659fb"/><path d="M3985 1004l11-51 5-99-9 133z" color="#1e91f3"/><path d="M4712 1110l13 9 7-6-13-9z" color="#6826fe"/><path d="M4699 1098l13 12 7-6-13-11z" color="#622ffe"/><path d="M3945 1090l12-1 8-14-13 2z" color="#5a3bfd"/><path d="M4686 1086l13 12 7-5-13-13z" color="#5c38fd"/><path d="M3861 1162l12 1 8-10-13-1z" color="#7e03ff"/><path d="M3988 1036l12-1 7-49-12 38z" color="#3c68f9"/><path d="M3909 1130l13 0 7-13-12 1z" color="#6e1cff"/><path d="M4667 1038l13 30 7-6-12-31z" color="#4659fb"/><path d="M3972 1062l13-2 8-13-13 2z" color="#4a53fb"/><path d="M3881 1153l13 1 8-12-13 0z" color="#7a09ff"/><path d="M4673 1073l13 13 7-6-13-12z" color="#5444fd"/><path d="M3937 1104l13-2 7-13-12 1z" color="#6032fe"/><path d="M3902 1142l12 1 8-13-13 0z" color="#7216ff"/><path d="M3965 1075l13-2 7-13-13 2z" color="#504afc"/><path d="M4670 961l11 77 7 3-11-85z" color="#2686f5"/><path d="M3929 1117l13-1 8-14-13 2z" color="#6629fe"/><path d="M4674 856l11 71 6 39-11-87z" color="#0ac0e8"/><path d="M3853 1169l13 4 7-10-12-1z" color="#8000ff"/><path d="M3873 1163l13 2 8-11-13-1z" color="#7c06ff"/><path d="M4705 1116l13 9 7-6-13-9z" color="#6629fe"/><path d="M4692 1104l13 12 7-6-13-12z" color="#622ffe"/><path d="M3957 1089l13-2 8-14-13 2z" color="#5641fd"/><path d="M3922 1130l13 0 7-14-13 1z" color="#6a22fe"/><path d="M3993 1047l13-1 7-27-13 16z" color="#4062fa"/><path d="M4660 1050l13 23 7-5-13-30z" color="#4659fb"/><path d="M3894 1154l13 1 7-12-12-1z" color="#7610ff"/><path d="M4679 1092l13 12 7-6-13-12z" color="#5a3bfd"/><path d="M3988 985l9-118 6-73-10 115z" color="#01b3ec"/><path d="M3985 1060l13-1 8-13-13 1z" color="#4659fb"/><path d="M4666 1079l13 13 7-6-13-13z" color="#5444fd"/><path d="M3950 1102l13-1 7-14-13 2z" color="#5c38fd"/><path d="M3866 1173l12 4 8-12-13-2z" color="#8000ff"/><path d="M3914 1143l13 0 8-13-13 0z" color="#7019ff"/><path d="M3978 1073l12-1 8-13-13 1z" color="#4c50fc"/><path d="M3886 1165l13 1 8-11-13-1z" color="#7a09ff"/><path d="M3942 1116l13-1 8-14-13 1z" color="#622ffe"/><path d="M4673 892l11 76 6 31-11-95z" color="#04b0ed"/><path d="M4698 1123l13 9 7-7-13-9z" color="#6629fe"/><path d="M4653 1061l13 18 7-6-13-23z" color="#4856fb"/><path d="M4663 978l12 53 6 7-11-77z" color="#2686f5"/><path d="M4685 1111l13 12 7-7-13-12z" color="#6032fe"/><path d="M3907 1155l12 0 8-12-13 0z" color="#7413ff"/><path d="M3970 1087l13-1 7-14-12 1z" color="#5247fc"/><path d="M3935 1130l12-1 8-14-13 1z" color="#6629fe"/><path d="M4672 1098l13 13 7-7-13-12z" color="#5a3bfd"/><path d="M4669 818l11 61 6 32-11-70z" color="#27dade"/><path d="M3998 1059l13 0 7-16-12 3z" color="#425ffa"/><path d="M3878 1177l13 0 8-11-13-1z" color="#7e03ff"/><path d="M3963 1101l12-1 8-14-13 1z" color="#583efd"/><path d="M4659 1085l13 13 7-6-13-13z" color="#5247fc"/><path d="M3990 1014l11-57 6-89-11 85z" color="#169bf2"/><path d="M3927 1143l13 0 7-14-12 1z" color="#6c1fff"/><path d="M3899 1166l13 1 7-12-12 0z" color="#780dff"/><path d="M4655 1003l12 35 8-7-12-53z" color="#2981f6"/><path d="M3990 1072l13 0 8-13-13 0z" color="#4856fb"/><path d="M4006 1046l12-3 7-31-12 7z" color="#386df9"/><path d="M4000 1035l13-16 6-51-12 18z" color="#2c7ef7"/><path d="M3955 1115l13 0 7-15-12 1z" color="#5e35fe"/><path d="M4648 1025l12 25 7-12-12-35z" color="#3473f8"/><path d="M4663 787l12 54 6 31-12-61z" color="#38e7d7"/><path d="M4646 1070l13 15 7-6-13-18z" color="#4a53fb"/><path d="M3919 1155l13 1 8-13-13 0z" color="#7216ff"/><path d="M4691 1129l13 9 7-6-13-9z" color="#6629fe"/><path d="M4640 1042l13 19 7-11-12-25z" color="#396bf9"/><path d="M3871 1184l12 4 8-11-13 0z" color="#8000ff"/><path d="M4678 1117l13 12 7-6-13-12z" color="#6032fe"/><path d="M3983 1086l13-1 7-13-13 0z" color="#4e4dfc"/><path d="M3995 1024l12-38 6-75-12 46z" color="#1e91f3"/><path d="M3947 1129l13 0 8-14-13 0z" color="#642cfe"/><path d="M3891 1177l13 2 8-12-13-1z" color="#7c06ff"/><path d="M4665 1104l13 13 7-6-13-13z" color="#5a3bfd"/><path d="M4011 1059l13-1 7-19-13 4z" color="#3e65fa"/><path d="M3912 1167l12 1 8-12-13-1z" color="#7610ff"/><path d="M3975 1100l13 0 8-15-13 1z" color="#5444fd"/><path d="M3940 1143l13 0 7-14-13 0z" color="#6826fe"/><path d="M4633 1055l13 15 7-9-13-19z" color="#4062fa"/><path d="M4652 1092l13 12 7-6-13-13z" color="#5247fc"/><path d="M4003 1072l13 0 8-14-13 1z" color="#445cfb"/><path d="M3968 1115l13-1 7-14-13 0z" color="#5a3bfd"/><path d="M4639 1078l13 14 7-7-13-15z" color="#4a53fb"/><path d="M3883 1188l13 1 8-10-13-2z" color="#7e03ff"/><path d="M4018 1043l13-4 7-22-13-5z" color="#3176f8"/><path d="M3932 1156l13 0 8-13-13 0z" color="#6e1cff"/><path d="M3904 1179l13 1 7-12-12-1z" color="#7a09ff"/><path d="M4627 1025l13 17 8-17-13-23z" color="#2e7bf7"/><path d="M4684 1136l13 9 7-7-13-9z" color="#6629fe"/><path d="M3996 1085l13 0 7-13-13 0z" color="#4a53fb"/><path d="M4620 1041l13 14 7-13-13-17z" color="#3670f8"/><path d="M4671 1124l13 12 7-7-13-12z" color="#6032fe"/><path d="M3960 1129l13 0 8-15-13 1z" color="#6032fe"/><path d="M4626 1065l13 13 7-8-13-15z" color="#425ffa"/><path d="M4658 1111l13 13 7-7-13-13z" color="#5a3bfd"/><path d="M3924 1168l13 1 8-13-13 0z" color="#7413ff"/><path d="M4013 1019l12-7 7-37-13-7z" color="#208ef4"/><path d="M3953 1143l12 0 8-14-13 0z" color="#6629fe"/><path d="M3988 1100l13-1 8-14-13 0z" color="#504afc"/><path d="M4024 1058l13-1 7-16-13-2z" color="#396bf9"/><path d="M4635 1002l13 23 7-22-12-31z" color="#208ef4"/><path d="M4645 1099l13 12 7-7-13-12z" color="#5247fc"/><path d="M4607 1027l13 14 7-16-13-17z" color="#2c7ef7"/><path d="M4612 1052l14 13 7-10-13-14z" color="#396bf9"/><path d="M4031 1039l13 2 8-18-14-6z" color="#3079f7"/><path d="M4668 841l11 63 6 23-11-71z" color="#22d6e0"/><path d="M3876 1195l12 4 8-10-13-1z" color="#8000ff"/><path d="M3896 1189l13 2 8-11-13-1z" color="#7e03ff"/><path d="M4016 1072l13 0 8-15-13 1z" color="#4062fa"/><path d="M4666 892l11 64 7 12-11-76z" color="#0dc2e8"/><path d="M3981 1114l12 0 8-15-13 1z" color="#5641fd"/><path d="M4631 1086l14 13 7-7-13-14z" color="#4c50fc"/><path d="M3945 1156l13 1 7-14-12 0z" color="#6c1fff"/><path d="M4599 1041l13 11 8-11-13-14z" color="#3473f8"/><path d="M3917 1180l13 2 7-13-13-1z" color="#780dff"/><path d="M4614 1008l13 17 8-23-13-22z" color="#218cf4"/><path d="M4025 1012l13 5 8-29-14-13z" color="#208ef4"/><path d="M4594 1014l13 13 7-19-13-17z" color="#2489f5"/><path d="M4009 1085l12 0 8-13-13 0z" color="#4659fb"/><path d="M4586 1030l13 11 8-14-13-13z" color="#2c7ef7"/><path d="M4038 1017l14 6 7-23-13-12z" color="#2489f5"/><path d="M4677 1144l13 9 7-8-13-9z" color="#6629fe"/><path d="M4618 1074l13 12 8-8-13-13z" color="#445cfb"/><path d="M3973 1129l13-1 7-14-12 0z" color="#5c38fd"/><path d="M4664 1132l13 12 7-8-13-12z" color="#6032fe"/><path d="M4044 1041l13 3 8-16-13-5z" color="#3079f7"/><path d="M3992 987l9-133 7-71-11 84z" color="#10c6e6"/><path d="M4052 1023l13 5 7-18-13-10z" color="#2686f5"/><path d="M3937 1169l13 1 8-13-13-1z" color="#7019ff"/><path d="M4573 1018l13 12 8-16-13-14z" color="#2686f5"/><path d="M4605 1062l13 12 8-9-14-13z" color="#3c68f9"/><path d="M4650 1119l14 13 7-8-13-13z" color="#5a3bfd"/><path d="M4037 1057l12 1 8-14-13-3z" color="#386df9"/><path d="M3888 1199l13 3 8-11-13-2z" color="#8000ff"/><path d="M3965 1143l13 0 8-15-13 1z" color="#622ffe"/><path d="M4001 1099l13 0 7-14-12 0z" color="#4c50fc"/><path d="M3909 1191l13 2 8-11-13-2z" color="#7c06ff"/><path d="M4592 1051l13 11 7-10-13-11z" color="#3670f8"/><path d="M4643 972l12 31 8-25-12-41z" color="#0ea5ef"/><path d="M4560 1006l13 12 8-18-13-14z" color="#1e91f3"/><path d="M4581 1000l13 14 7-23-13-17z" color="#1996f3"/><path d="M4579 1041l13 10 7-10-13-11z" color="#3079f7"/><path d="M4637 1106l13 13 8-8-13-12z" color="#5247fc"/><path d="M4065 1028l13 5 7-16-13-7z" color="#2884f6"/><path d="M4566 1031l13 10 7-11-13-12z" color="#2c7ef7"/><path d="M4029 1072l13 0 7-14-12-1z" color="#3e65fa"/><path d="M4072 1010l13 7 8-19-14-12z" color="#1e91f3"/><path d="M4553 1020l13 11 7-13-13-12z" color="#2686f5"/><path d="M3930 1182l13 1 7-13-13-1z" color="#7610ff"/><path d="M4057 1044l13 3 8-14-13-5z" color="#3079f7"/><path d="M3958 1157l13 0 7-14-13 0z" color="#6826fe"/><path d="M4539 1010l14 10 7-14-13-12z" color="#208ef4"/><path d="M4059 1000l13 10 7-24-13-16z" color="#1898f2"/><path d="M3993 1114l13 0 8-15-13 0z" color="#5247fc"/><path d="M4624 1094l13 12 8-7-14-13z" color="#4c50fc"/><path d="M4601 991l13 17 8-28-13-22z" color="#149df1"/><path d="M4547 994l13 12 8-20-14-15z" color="#1898f2"/><path d="M4526 1001l13 9 8-16-13-12z" color="#1996f3"/><path d="M4085 1017l13 5 8-15-13-9z" color="#218cf4"/><path d="M4513 991l13 10 8-19-13-13z" color="#149df1"/><path d="M4093 998l13 9 7-19-13-13z" color="#1898f2"/><path d="M4021 1085l13 1 8-14-13 0z" color="#445cfb"/><path d="M4493 996l13 9 7-14-13-11z" color="#1898f2"/><path d="M4106 1007l13 6 7-15-13-10z" color="#1c93f3"/><path d="M4611 1082l13 12 7-8-13-12z" color="#445cfb"/><path d="M4479 987l14 9 7-16-13-12z" color="#11a0f1"/><path d="M4078 1033l13 3 7-14-13-5z" color="#2981f6"/><path d="M4506 1005l13 9 7-13-13-10z" color="#1c93f3"/><path d="M4622 980l13 22 8-30-13-30z" color="#0ea5ef"/><path d="M4669 1151l14 9 7-7-13-9z" color="#6629fe"/><path d="M3986 1128l13 0 7-14-13 0z" color="#583efd"/><path d="M4126 998l13 7 8-15-13-11z" color="#1898f2"/><path d="M4049 1058l13 2 8-13-13-3z" color="#3670f8"/><path d="M4656 1139l13 12 8-7-13-12z" color="#622ffe"/><path d="M3901 1202l13 1 8-10-13-2z" color="#7e03ff"/><path d="M4568 986l13 14 7-26-13-19z" color="#11a0f1"/><path d="M4663 801l11 55 6 23-11-61z" color="#3dead5"/><path d="M4500 980l13 11 8-22-13-14z" color="#0ea5ef"/><path d="M4113 988l13 10 8-19-13-15z" color="#11a0f1"/><path d="M3950 1170l13 1 8-14-13 0z" color="#6e1cff"/><path d="M4519 1014l13 8 7-12-13-9z" color="#208ef4"/><path d="M4147 990l13 8 8-16-14-12z" color="#149df1"/><path d="M4466 976l13 11 8-19-13-14z" color="#0ca7ef"/><path d="M3993 909l10-115 6-54-10 86z" color="#32e3da"/><path d="M4446 982l13 10 7-16-13-11z" color="#10a2f0"/><path d="M4459 992l13 8 7-13-13-11z" color="#169bf2"/><path d="M4534 982l13 12 7-23-13-16z" color="#10a2f0"/><path d="M4046 988l13 12 7-30-13-20z" color="#10a2f0"/><path d="M4658 908l12 53 7-5-11-64z" color="#0dc2e8"/><path d="M4598 1070l13 12 7-8-13-12z" color="#3e65fa"/><path d="M4532 1022l13 9 8-11-14-10z" color="#2686f5"/><path d="M4168 982l13 8 7-17-13-12z" color="#10a2f0"/><path d="M4098 1022l13 5 8-14-13-6z" color="#2489f5"/><path d="M4432 972l14 10 7-17-13-14z" color="#09a9ee"/><path d="M4545 1031l13 10 8-10-13-11z" color="#2981f6"/><path d="M4079 986l14 12 7-23-13-19z" color="#10a2f0"/><path d="M3922 1193l13 2 8-12-13-1z" color="#7a09ff"/><path d="M4472 1000l13 8 8-12-14-9z" color="#1996f3"/><path d="M4134 979l13 11 7-20-13-16z" color="#0ea5ef"/><path d="M4558 1041l14 9 7-9-13-10z" color="#2e7bf7"/><path d="M4585 1060l13 10 7-8-13-11z" color="#386df9"/><path d="M4119 1013l13 6 7-14-13-7z" color="#208ef4"/><path d="M4139 1005l14 6 7-13-13-8z" color="#1c93f3"/><path d="M4160 998l13 6 8-14-13-8z" color="#1898f2"/><path d="M4572 1050l13 10 7-9-13-10z" color="#3473f8"/><path d="M4651 937l12 41 7-17-12-53z" color="#02b7eb"/><path d="M4181 990l13 7 7-15-13-9z" color="#149df1"/><path d="M4643 1127l13 12 8-7-14-13z" color="#5a3bfd"/><path d="M4412 978l13 9 7-15-13-11z" color="#0ea5ef"/><path d="M4188 973l13 9 8-18-13-14z" color="#09a9ee"/><path d="M4201 982l14 8 7-16-13-10z" color="#10a2f0"/><path d="M4425 987l13 8 8-13-14-10z" color="#11a0f1"/><path d="M3978 1143l13 0 8-15-13 0z" color="#6032fe"/><path d="M4014 1099l13 1 7-14-13-1z" color="#4a53fb"/><path d="M4399 968l13 10 7-17-13-13z" color="#08acee"/><path d="M4070 1047l13 2 8-13-13-3z" color="#3079f7"/><path d="M4453 965l13 11 8-22-13-16z" color="#06aeed"/><path d="M4485 1008l13 8 8-11-13-9z" color="#1e91f3"/><path d="M4222 974l13 8 8-16-14-12z" color="#09a9ee"/><path d="M4487 968l13 12 8-25-14-16z" color="#06aeed"/><path d="M4154 970l14 12 7-21-13-18z" color="#08acee"/><path d="M4419 961l13 11 8-21-13-15z" color="#04b0ed"/><path d="M4007 986l12-18 7-58-13 1z" color="#04b0ed"/><path d="M4438 995l13 8 8-11-13-10z" color="#169bf2"/><path d="M4378 974l13 9 8-15-14-11z" color="#0ca7ef"/><path d="M4042 1072l13 1 7-13-13-2z" color="#3c68f9"/><path d="M4209 964l13 10 7-20-13-14z" color="#06aeed"/><path d="M4243 966l13 9 7-18-13-13z" color="#06aeed"/><path d="M4365 964l13 10 7-17-13-13z" color="#06aeed"/><path d="M4391 983l13 8 8-13-13-10z" color="#10a2f0"/><path d="M4235 982l13 7 8-14-13-9z" color="#0ea5ef"/><path d="M4630 1114l13 13 7-8-13-13z" color="#5444fd"/><path d="M4256 975l13 7 7-15-13-10z" color="#09a9ee"/><path d="M4215 990l13 6 7-14-13-8z" color="#11a0f1"/><path d="M3943 1183l12 1 8-13-13-1z" color="#7413ff"/><path d="M4100 975l13 13 8-24-14-21z" color="#09a9ee"/><path d="M4385 957l14 11 7-20-13-15z" color="#01b3ec"/><path d="M4276 967l14 8 7-16-13-12z" color="#06aeed"/><path d="M4344 971l13 8 8-15-13-11z" color="#09a9ee"/><path d="M4498 1016l14 8 7-10-13-9z" color="#208ef4"/><path d="M4194 997l13 5 8-12-14-8z" color="#169bf2"/><path d="M4521 969l13 13 7-27-13-18z" color="#06aeed"/><path d="M4091 1036l13 3 7-12-13-5z" color="#2981f6"/><path d="M4331 961l13 10 8-18-14-13z" color="#04b0ed"/><path d="M4310 968l13 9 8-16-13-11z" color="#08acee"/><path d="M4173 1004l13 5 8-12-13-7z" color="#1996f3"/><path d="M4175 961l13 12 8-23-14-18z" color="#01b3ec"/><path d="M4451 1003l14 8 7-11-13-8z" color="#1996f3"/><path d="M4297 959l13 9 8-18-13-13z" color="#01b3ec"/><path d="M4263 957l13 10 8-20-13-14z" color="#01b3ec"/><path d="M4290 975l13 8 7-15-13-9z" color="#0ca7ef"/><path d="M4153 1011l13 5 7-12-13-6z" color="#1e91f3"/><path d="M4357 979l13 8 8-13-13-10z" color="#0ea5ef"/><path d="M3971 1157l13 1 7-15-13 0z" color="#6629fe"/><path d="M4404 991l14 8 7-12-13-9z" color="#149df1"/><path d="M4352 953l13 11 7-20-13-15z" color="#00b5eb"/><path d="M4132 1019l13 4 8-12-14-6z" color="#208ef4"/><path d="M4111 1027l13 4 8-12-13-6z" color="#2489f5"/><path d="M4323 977l14 7 7-13-13-10z" color="#0ca7ef"/><path d="M4229 954l14 12 7-22-13-16z" color="#00b5eb"/><path d="M4006 1114l13 0 8-14-13-1z" color="#504afc"/><path d="M4657 768l12 50 6 23-12-54z" color="#50f4cc"/><path d="M4651 742l12 45 6 24-11-49z" color="#5efac6"/><path d="M4588 974l13 17 8-33-13-24z" color="#08acee"/><path d="M4269 982l13 7 8-14-14-8z" color="#0ea5ef"/><path d="M4617 1102l13 12 7-8-13-12z" color="#4c50fc"/><path d="M4512 1024l13 8 7-10-13-8z" color="#2489f5"/><path d="M4554 971l14 15 7-31-13-21z" color="#06aeed"/><path d="M4318 950l13 11 7-21-13-15z" color="#02b7eb"/><path d="M4440 951l13 14 8-27-13-18z" color="#02b7eb"/><path d="M4248 989l13 6 8-13-13-7z" color="#11a0f1"/><path d="M4121 964l13 15 7-25-13-22z" color="#04b0ed"/><path d="M4370 987l14 7 7-11-13-9z" color="#10a2f0"/><path d="M4062 1060l13 2 8-13-13-2z" color="#3473f8"/><path d="M4032 975l14 13 7-38-14-23z" color="#06aeed"/><path d="M4406 948l13 13 8-25-13-17z" color="#04b9ea"/><path d="M4465 1011l13 7 7-10-13-8z" color="#1e91f3"/><path d="M4418 999l13 7 7-11-13-8z" color="#169bf2"/><path d="M4303 983l13 6 7-12-13-9z" color="#0ea5ef"/><path d="M4284 947l13 12 8-22-14-17z" color="#04b9ea"/><path d="M4034 1086l13 0 8-13-13-1z" color="#4062fa"/><path d="M4337 984l13 7 7-12-13-8z" color="#10a2f0"/><path d="M4228 996l13 5 7-12-13-7z" color="#149df1"/><path d="M4474 954l13 14 7-29-13-19z" color="#02b7eb"/><path d="M4525 1032l13 8 7-9-13-9z" color="#2884f6"/><path d="M4196 950l13 14 7-24-13-21z" color="#04b9ea"/><path d="M3914 1203l13 2 8-10-13-2z" color="#7c06ff"/><path d="M4372 944l13 13 8-24-13-18z" color="#07bbea"/><path d="M4604 1090l13 12 7-8-13-12z" color="#4659fb"/><path d="M4207 1002l13 5 8-11-13-6z" color="#1898f2"/><path d="M4066 970l13 16 8-30-14-25z" color="#06aeed"/><path d="M4250 944l13 13 8-24-13-19z" color="#07bbea"/><path d="M4538 1040l13 10 7-9-13-10z" color="#2c7ef7"/><path d="M3963 1171l13 1 8-14-13-1z" color="#6c1fff"/><path d="M4282 989l13 6 8-12-13-8z" color="#10a2f0"/><path d="M3999 1128l13 1 7-15-13 0z" color="#5641fd"/><path d="M4662 1159l14 9 7-8-14-9z" color="#6826fe"/><path d="M4384 994l13 8 7-11-13-8z" color="#149df1"/><path d="M4186 1009l13 5 8-12-13-5z" color="#1996f3"/><path d="M4083 1049l13 3 8-13-13-3z" color="#2e7bf7"/><path d="M4649 1147l13 12 7-8-13-12z" color="#622ffe"/><path d="M4338 940l14 13 7-24-13-18z" color="#08bee9"/><path d="M3935 1195l13 2 7-13-12-1z" color="#780dff"/><path d="M4478 1018l13 7 7-9-13-8z" color="#208ef4"/><path d="M4551 1050l13 9 8-9-14-9z" color="#3079f7"/><path d="M4431 1006l13 7 7-10-13-8z" color="#1996f3"/><path d="M4141 954l13 16 8-27-14-24z" color="#02b7eb"/><path d="M4591 1079l13 11 7-8-13-12z" color="#4062fa"/><path d="M4316 989l13 7 8-12-14-7z" color="#11a0f1"/><path d="M4166 1016l13 4 7-11-13-5z" color="#1e91f3"/><path d="M4350 991l13 7 7-11-13-8z" color="#11a0f1"/><path d="M4564 1059l14 9 7-8-13-10z" color="#3473f8"/><path d="M4508 955l13 14 7-32-13-20z" color="#02b7eb"/><path d="M4578 1068l13 11 7-9-13-10z" color="#396bf9"/><path d="M4261 995l14 5 7-11-13-7z" color="#149df1"/><path d="M4145 1023l13 4 8-11-13-5z" color="#218cf4"/><path d="M4305 937l13 13 7-25-13-19z" color="#0dc2e8"/><path d="M4104 1039l13 3 7-11-13-4z" color="#2981f6"/><path d="M4124 1031l13 3 8-11-13-4z" color="#2489f5"/><path d="M4636 1135l13 12 7-8-13-12z" color="#5c38fd"/><path d="M4027 1100l13 0 7-14-13 0z" color="#4659fb"/><path d="M4216 940l13 14 8-26-13-23z" color="#0ac0e8"/><path d="M4397 1002l13 7 8-10-14-8z" color="#1898f2"/><path d="M4019 968l13 7 7-48-13-17z" color="#02b7eb"/><path d="M3991 1143l13 1 8-15-13-1z" color="#5c38fd"/><path d="M4055 1073l13 1 7-12-13-2z" color="#396bf9"/><path d="M4241 1001l13 5 7-11-13-6z" color="#169bf2"/><path d="M4491 1025l13 8 8-9-14-8z" color="#2489f5"/><path d="M4444 1013l13 7 8-9-14-8z" color="#1c93f3"/><path d="M4295 995l14 5 7-11-13-6z" color="#11a0f1"/><path d="M4363 998l13 7 8-11-14-7z" color="#149df1"/><path d="M4271 933l13 14 7-27-13-21z" color="#0fc4e7"/><path d="M4162 943l13 18 7-29-13-26z" color="#08bee9"/><path d="M3955 1184l13 2 8-14-13-1z" color="#7019ff"/><path d="M4427 936l13 15 8-31-14-21z" color="#0dc2e8"/><path d="M4220 1007l13 5 8-11-13-5z" color="#1898f2"/><path d="M4393 933l13 15 8-29-13-21z" color="#0fc4e7"/><path d="M4329 996l13 6 8-11-13-7z" color="#149df1"/><path d="M4623 1122l13 13 7-8-13-13z" color="#5444fd"/><path d="M4609 958l13 22 8-38-13-30z" color="#02b7eb"/><path d="M4541 955l13 16 8-37-13-22z" color="#04b9ea"/><path d="M4087 956l13 19 7-32-13-28z" color="#04b9ea"/><path d="M4359 929l13 15 8-29-13-21z" color="#10c6e6"/><path d="M4199 1014l14 4 7-11-13-5z" color="#1c93f3"/><path d="M4410 1009l13 6 8-9-13-7z" color="#1996f3"/><path d="M4075 1062l13 2 8-12-13-3z" color="#3473f8"/><path d="M4504 1033l13 8 8-9-13-8z" color="#2686f5"/><path d="M4275 1000l13 6 7-11-13-6z" color="#169bf2"/><path d="M4461 938l13 16 7-34-13-22z" color="#0dc2e8"/><path d="M3984 1158l12 1 8-15-13-1z" color="#622ffe"/><path d="M4661 835l12 57 6 12-11-63z" color="#32e3da"/><path d="M4457 1020l13 7 8-9-13-7z" color="#208ef4"/><path d="M4019 1114l13 1 8-15-13 0z" color="#4c50fc"/><path d="M4179 1020l13 4 7-10-13-5z" color="#1e91f3"/><path d="M4610 1110l13 12 7-8-13-12z" color="#4e4dfc"/><path d="M4376 1005l13 6 8-9-13-8z" color="#1898f2"/><path d="M4325 925l13 15 8-29-13-22z" color="#14cae5"/><path d="M3927 1205l13 2 8-10-13-2z" color="#7a09ff"/><path d="M4309 1000l13 6 7-10-13-7z" color="#149df1"/><path d="M4517 1041l14 8 7-9-13-8z" color="#2981f6"/><path d="M4237 928l13 16 8-30-14-24z" color="#12c8e6"/><path d="M4096 1052l13 2 8-12-13-3z" color="#2e7bf7"/><path d="M4047 1086l13 1 8-13-13-1z" color="#3e65fa"/><path d="M4254 1006l13 5 8-11-14-5z" color="#1898f2"/><path d="M4158 1027l13 4 8-11-13-4z" color="#218cf4"/><path d="M4342 1002l14 6 7-10-13-7z" color="#169bf2"/><path d="M4575 955l13 19 8-40-12-25z" color="#07bbea"/><path d="M4630 942l13 30 8-35-13-38z" color="#0ac0e8"/><path d="M4182 932l14 18 7-31-13-27z" color="#10c6e6"/><path d="M4423 1015l14 7 7-9-13-7z" color="#1c93f3"/><path d="M4137 1034l13 4 8-11-13-4z" color="#2489f5"/><path d="M4117 1042l13 3 7-11-13-3z" color="#2884f6"/><path d="M4531 1049l13 9 7-8-13-10z" color="#2e7bf7"/><path d="M4597 1098l13 12 7-8-13-12z" color="#4659fb"/><path d="M3948 1197l13 1 7-12-13-2z" color="#7610ff"/><path d="M4470 1027l14 7 7-9-13-7z" color="#218cf4"/><path d="M3976 1172l13 1 7-14-12-1z" color="#6826fe"/><path d="M4494 939l14 16 7-38-13-22z" color="#0fc4e7"/><path d="M4233 1012l13 5 8-11-13-5z" color="#1996f3"/><path d="M4012 1129l13 0 7-14-13-1z" color="#5247fc"/><path d="M4107 943l14 21 7-32-14-32z" color="#0ac0e8"/><path d="M4291 920l14 17 7-31-13-24z" color="#17cbe4"/><path d="M4544 1058l13 9 7-8-13-9z" color="#3176f8"/><path d="M4655 1167l13 9 8-8-14-9z" color="#6826fe"/><path d="M4642 1156l13 11 7-8-13-12z" color="#642cfe"/><path d="M4288 1006l13 5 8-11-14-5z" color="#169bf2"/><path d="M4584 1087l13 11 7-8-13-11z" color="#4062fa"/><path d="M4389 1011l14 7 7-9-13-7z" color="#1996f3"/><path d="M4557 1067l13 9 8-8-14-9z" color="#3670f8"/><path d="M4570 1076l14 11 7-8-13-11z" color="#396bf9"/><path d="M4213 1018l13 4 7-10-13-5z" color="#1c93f3"/><path d="M4068 1074l13 2 7-12-13-2z" color="#386df9"/><path d="M4322 1006l13 6 7-10-13-6z" color="#169bf2"/><path d="M4356 1008l13 6 7-9-13-7z" color="#1898f2"/><path d="M4437 1022l13 7 7-9-13-7z" color="#1e91f3"/><path d="M4040 1100l13 1 7-14-13-1z" color="#445cfb"/><path d="M4484 1034l13 7 7-8-13-8z" color="#2489f5"/><path d="M4629 1143l13 13 7-9-13-12z" color="#5c38fd"/><path d="M4053 950l13 20 7-39-14-31z" color="#0ac0e8"/><path d="M4004 1144l13 1 8-16-13 0z" color="#5a3bfd"/><path d="M4192 1024l13 4 8-10-14-4z" color="#1e91f3"/><path d="M4267 1011l13 5 8-10-13-6z" color="#1898f2"/><path d="M3968 1186l13 1 8-14-13-1z" color="#6e1cff"/><path d="M4088 1064l14 2 7-12-13-2z" color="#3176f8"/><path d="M4414 919l13 17 7-37-13-25z" color="#1acfe3"/><path d="M4380 915l13 18 8-35-14-25z" color="#1acfe3"/><path d="M3996 953l11-85 6-73-12 59z" color="#22d6e0"/><path d="M4171 1031l13 4 8-11-13-4z" color="#218cf4"/><path d="M4403 1018l13 6 7-9-13-6z" color="#1c93f3"/><path d="M4258 914l13 19 7-34-13-27z" color="#1acfe3"/><path d="M4203 919l13 21 8-35-14-29z" color="#18cde4"/><path d="M4128 932l13 22 7-35-13-33z" color="#12c8e6"/><path d="M4616 1130l13 13 7-8-13-13z" color="#5641fd"/><path d="M4301 1011l13 5 8-10-13-6z" color="#1898f2"/><path d="M4497 1041l13 8 7-8-13-8z" color="#2884f6"/><path d="M4246 1017l14 4 7-10-13-5z" color="#1996f3"/><path d="M4109 1054l13 3 8-12-13-3z" color="#2c7ef7"/><path d="M4528 937l13 18 8-43-12-24z" color="#12c8e6"/><path d="M4150 1038l14 3 7-10-13-4z" color="#2489f5"/><path d="M4450 1029l13 7 7-9-13-7z" color="#218cf4"/><path d="M4346 911l13 18 8-35-13-26z" color="#1fd3e1"/><path d="M4369 1014l13 7 7-10-13-6z" color="#1996f3"/><path d="M3996 1159l13 1 8-15-13-1z" color="#6032fe"/><path d="M4001 957l12-46 6-72-12 29z" color="#18cde4"/><path d="M4448 920l13 18 7-40-13-25z" color="#1acfe3"/><path d="M4335 1012l13 6 8-10-14-6z" color="#1898f2"/><path d="M4130 1045l13 3 7-10-13-4z" color="#2884f6"/><path d="M4032 1115l13 1 8-15-13-1z" color="#4a53fb"/><path d="M3940 1207l13 2 8-11-13-1z" color="#7a09ff"/><path d="M4060 1087l13 2 8-13-13-2z" color="#3c68f9"/><path d="M4226 1022l13 5 7-10-13-5z" color="#1c93f3"/><path d="M4510 1049l13 8 8-8-14-8z" color="#2c7ef7"/><path d="M4603 1118l13 12 7-8-13-12z" color="#4e4dfc"/><path d="M4416 1024l13 7 8-9-14-7z" color="#1e91f3"/><path d="M4280 1016l14 5 7-10-13-5z" color="#1996f3"/><path d="M3961 1198l13 2 7-13-13-1z" color="#7413ff"/><path d="M4312 906l13 19 8-36-13-27z" color="#20d5e1"/><path d="M4523 1057l14 9 7-8-13-9z" color="#2e7bf7"/><path d="M3989 1173l13 2 7-15-13-1z" color="#6629fe"/><path d="M4463 1036l13 6 8-8-14-7z" color="#2489f5"/><path d="M4205 1028l13 4 8-10-13-4z" color="#208ef4"/><path d="M4589 1106l14 12 7-8-13-12z" color="#4856fb"/><path d="M4025 1129l12 1 8-14-13-1z" color="#504afc"/><path d="M4382 1021l13 6 8-9-14-7z" color="#1c93f3"/><path d="M4081 1076l13 2 8-12-14-2z" color="#3670f8"/><path d="M4314 1016l13 6 8-10-13-6z" color="#1996f3"/><path d="M4148 919l14 24 7-37-14-35z" color="#1acfe3"/><path d="M4537 1066l13 9 7-8-13-9z" color="#3473f8"/><path d="M4648 1176l13 8 7-8-13-9z" color="#6a22fe"/><path d="M4348 1018l13 6 8-10-13-6z" color="#1996f3"/><path d="M4635 1164l13 12 7-9-13-11z" color="#642cfe"/><path d="M4481 920l13 19 8-44-13-26z" color="#1dd1e2"/><path d="M4576 1095l13 11 8-8-13-11z" color="#425ffa"/><path d="M4184 1035l13 3 8-10-13-4z" color="#218cf4"/><path d="M4260 1021l13 5 7-10-13-5z" color="#1c93f3"/><path d="M4550 1075l13 10 7-9-13-9z" color="#386df9"/><path d="M4562 934l13 21 9-46-13-27z" color="#14cae5"/><path d="M4563 1085l13 10 8-8-14-11z" color="#3c68f9"/><path d="M4053 1101l13 2 7-14-13-2z" color="#425ffa"/><path d="M4102 1066l13 3 7-12-13-3z" color="#3079f7"/><path d="M4429 1031l13 6 8-8-13-7z" color="#208ef4"/><path d="M4224 905l13 23 7-38-13-32z" color="#22d6e0"/><path d="M4596 934l13 24 8-46-12-30z" color="#14cae5"/><path d="M4164 1041l13 4 7-10-13-4z" color="#2489f5"/><path d="M4476 1042l14 8 7-9-13-7z" color="#2686f5"/><path d="M4622 1152l13 12 7-8-13-13z" color="#5e35fe"/><path d="M4017 1145l13 1 7-16-12-1z" color="#583efd"/><path d="M3981 1187l13 2 8-14-13-2z" color="#6c1fff"/><path d="M4122 1057l13 3 8-12-13-3z" color="#2c7ef7"/><path d="M4073 931l14 25 7-41-14-37z" color="#17cbe4"/><path d="M4143 1048l13 4 8-11-14-3z" color="#2884f6"/><path d="M4239 1027l13 4 8-10-14-4z" color="#1e91f3"/><path d="M4278 899l13 21 8-38-13-30z" color="#27dade"/><path d="M4294 1021l13 5 7-10-13-5z" color="#1996f3"/><path d="M4395 1027l13 6 8-9-13-6z" color="#1e91f3"/><path d="M4327 1022l14 5 7-9-13-6z" color="#1996f3"/><path d="M4361 1024l14 6 7-9-13-7z" color="#1c93f3"/><path d="M4656 790l12 51 6 15-11-55z" color="#4ef3cd"/><path d="M4608 1139l14 13 7-9-13-13z" color="#5641fd"/><path d="M3953 1209l13 2 8-11-13-2z" color="#780dff"/><path d="M4490 1050l13 7 7-8-13-8z" color="#2884f6"/><path d="M4442 1037l14 7 7-8-13-7z" color="#218cf4"/><path d="M4218 1032l13 5 8-10-13-5z" color="#208ef4"/><path d="M4009 1160l13 1 8-15-13-1z" color="#5e35fe"/><path d="M4073 1089l13 2 8-13-13-2z" color="#396bf9"/><path d="M4045 1116l13 1 8-14-13-2z" color="#4856fb"/><path d="M4169 906l13 26 8-40-14-37z" color="#22d6e0"/><path d="M4273 1026l13 5 8-10-14-5z" color="#1c93f3"/><path d="M4638 899l13 38 7-29-12-46z" color="#22d6e0"/><path d="M4595 1127l13 12 8-9-13-12z" color="#504afc"/><path d="M4503 1057l13 9 7-9-13-8z" color="#2c7ef7"/><path d="M3974 1200l13 2 7-13-13-2z" color="#7216ff"/><path d="M4197 1038l14 4 7-10-13-4z" color="#218cf4"/><path d="M4401 898l13 21 7-45-13-29z" color="#28dbde"/><path d="M4408 1033l14 6 7-8-13-7z" color="#208ef4"/><path d="M4367 894l13 21 7-42-13-30z" color="#2adddd"/><path d="M4654 841l12 51 7 0-12-57z" color="#38e7d7"/><path d="M4515 917l13 20 9-49-13-26z" color="#20d5e1"/><path d="M4094 1078l13 3 8-12-13-3z" color="#3670f8"/><path d="M4002 1175l13 1 7-15-13-1z" color="#642cfe"/><path d="M4307 1026l13 5 7-9-13-6z" color="#1c93f3"/><path d="M4516 1066l13 9 8-9-14-9z" color="#3079f7"/><path d="M4375 1030l13 6 7-9-13-6z" color="#1e91f3"/><path d="M4037 1130l13 2 8-15-13-1z" color="#4e4dfc"/><path d="M4456 1044l13 7 7-9-13-6z" color="#2489f5"/><path d="M4177 1045l13 3 7-10-13-3z" color="#2489f5"/><path d="M4582 1115l13 12 8-9-14-12z" color="#4a53fb"/><path d="M4252 1031l13 5 8-10-13-5z" color="#1e91f3"/><path d="M4341 1027l13 6 7-9-13-6z" color="#1c93f3"/><path d="M4115 1069l13 3 7-12-13-3z" color="#3079f7"/><path d="M4434 899l14 21 7-47-13-29z" color="#28dbde"/><path d="M4039 927l14 23 6-50-13-33z" color="#1dd1e2"/><path d="M4333 889l13 22 8-43-14-31z" color="#2ddedc"/><path d="M4628 1173l13 11 7-8-13-12z" color="#6629fe"/><path d="M4529 1075l14 9 7-9-13-9z" color="#3473f8"/><path d="M4156 1052l13 3 8-10-13-4z" color="#2884f6"/><path d="M4641 1184l13 9 7-9-13-8z" color="#6c1fff"/><path d="M4135 1060l13 3 8-11-13-4z" color="#2c7ef7"/><path d="M4066 1103l13 2 7-14-13-2z" color="#4062fa"/><path d="M4569 1104l13 11 7-9-13-11z" color="#445cfb"/><path d="M4094 915l13 28 7-43-14-40z" color="#20d5e1"/><path d="M4244 890l14 24 7-42-13-35z" color="#2ddedc"/><path d="M4543 1084l13 9 7-8-13-10z" color="#386df9"/><path d="M4639 701l12 41 7 20-13-42z" color="#7dffb6"/><path d="M4556 1093l13 11 7-9-13-10z" color="#3e65fa"/><path d="M4422 1039l13 7 7-9-13-6z" color="#218cf4"/><path d="M4231 1037l14 4 7-10-13-4z" color="#208ef4"/><path d="M4286 1031l13 5 8-10-13-5z" color="#1c93f3"/><path d="M3994 1189l13 2 8-15-13-1z" color="#6a22fe"/><path d="M4614 1161l14 12 7-9-13-12z" color="#6032fe"/><path d="M4030 1146l13 1 7-15-13-2z" color="#5444fd"/><path d="M4469 1051l13 7 8-8-14-8z" color="#2884f6"/><path d="M4617 912l13 30 8-43-12-37z" color="#20d5e1"/><path d="M4388 1036l13 6 7-9-13-6z" color="#208ef4"/><path d="M3999 826l10-86 7-45-11 73z" color="#60fac5"/><path d="M4320 1031l13 6 8-10-14-5z" color="#1c93f3"/><path d="M4650 754l13 47 6 17-12-50z" color="#62fbc4"/><path d="M3966 1211l13 2 8-11-13-2z" color="#7610ff"/><path d="M4354 1033l13 6 8-9-14-6z" color="#1e91f3"/><path d="M4211 1042l13 4 7-9-13-5z" color="#218cf4"/><path d="M4086 1091l13 2 8-12-13-3z" color="#396bf9"/><path d="M4190 892l13 27 7-43-13-40z" color="#2ddedc"/><path d="M4601 1148l13 13 8-9-14-13z" color="#583efd"/><path d="M4058 1117l13 2 8-14-13-2z" color="#4659fb"/><path d="M4468 898l13 22 8-51-12-29z" color="#2adddd"/><path d="M4299 882l13 24 8-44-14-34z" color="#32e3da"/><path d="M4022 1161l13 2 8-16-13-1z" color="#5c38fd"/><path d="M4265 1036l13 4 8-9-13-5z" color="#1e91f3"/><path d="M4482 1058l13 8 8-9-13-7z" color="#2981f6"/><path d="M4646 862l12 46 8-16-12-51z" color="#32e3da"/><path d="M4645 725l12 43 6 19-12-45z" color="#72febb"/><path d="M4435 1046l13 6 8-8-14-7z" color="#2489f5"/><path d="M4190 1048l13 4 8-10-14-4z" color="#2489f5"/><path d="M4107 1081l13 3 8-12-13-3z" color="#3473f8"/><path d="M4549 912l13 22 9-52-13-29z" color="#24d8df"/><path d="M3987 1202l13 2 7-13-13-2z" color="#7019ff"/><path d="M4588 1136l13 12 7-9-13-12z" color="#5247fc"/><path d="M4495 1066l14 9 7-9-13-9z" color="#2e7bf7"/><path d="M4128 1072l13 3 7-12-13-3z" color="#3079f7"/><path d="M4299 1036l13 5 8-10-13-5z" color="#1e91f3"/><path d="M4169 1055l13 4 8-11-13-3z" color="#2884f6"/><path d="M4401 1042l13 6 8-9-14-6z" color="#218cf4"/><path d="M4015 1176l13 2 7-15-13-2z" color="#622ffe"/><path d="M4245 1041l13 4 7-9-13-5z" color="#208ef4"/><path d="M4114 900l14 32 7-46-14-43z" color="#28dbde"/><path d="M4148 1063l14 3 7-11-13-3z" color="#2981f6"/><path d="M4050 1132l14 2 7-15-13-2z" color="#4c50fc"/><path d="M4367 1039l13 6 8-9-13-6z" color="#208ef4"/><path d="M4333 1037l13 5 8-9-13-6z" color="#1e91f3"/><path d="M4575 1124l13 12 7-9-13-12z" color="#4a53fb"/><path d="M4509 1075l13 8 7-8-13-9z" color="#3176f8"/><path d="M4079 1105l13 2 7-14-13-2z" color="#3e65fa"/><path d="M4448 1052l14 7 7-8-13-7z" color="#2686f5"/><path d="M4620 1182l13 11 8-9-13-11z" color="#6826fe"/><path d="M4633 1193l14 9 7-9-13-9z" color="#6c1fff"/><path d="M4224 1046l13 5 8-10-14-4z" color="#218cf4"/><path d="M4522 1083l13 9 8-8-14-9z" color="#3670f8"/><path d="M4562 1113l13 11 7-9-13-11z" color="#445cfb"/><path d="M4584 909l12 25 9-52-13-32z" color="#27dade"/><path d="M4278 1040l14 5 7-9-13-5z" color="#208ef4"/><path d="M4007 1191l13 2 8-15-13-2z" color="#6826fe"/><path d="M4535 1092l13 10 8-9-13-9z" color="#396bf9"/><path d="M4548 1102l14 11 7-9-13-11z" color="#4062fa"/><path d="M4043 1147l13 2 8-15-14-2z" color="#5247fc"/><path d="M4607 1170l13 12 8-9-14-12z" color="#622ffe"/><path d="M4414 1048l14 6 7-8-13-7z" color="#2489f5"/><path d="M4099 1093l13 3 8-12-13-3z" color="#386df9"/><path d="M3979 1213l13 2 8-11-13-2z" color="#7413ff"/><path d="M4203 1052l13 4 8-10-13-4z" color="#2489f5"/><path d="M4462 1059l13 8 7-9-13-7z" color="#2884f6"/><path d="M4312 1041l14 5 7-9-13-6z" color="#1e91f3"/><path d="M4380 1045l14 6 7-9-13-6z" color="#218cf4"/><path d="M4502 895l13 22 9-55-13-30z" color="#30e1da"/><path d="M4265 872l13 27 8-47-14-38z" color="#3ae8d6"/><path d="M4346 1042l14 6 7-9-13-6z" color="#208ef4"/><path d="M4071 1119l13 2 8-14-13-2z" color="#445cfb"/><path d="M4120 1084l13 3 8-12-13-3z" color="#3473f8"/><path d="M3997 867l11-84 6-56-11 67z" color="#50f4cc"/><path d="M4258 1045l13 5 7-10-13-4z" color="#208ef4"/><path d="M4594 1158l13 12 7-9-13-13z" color="#5a3bfd"/><path d="M4210 876l14 29 7-47-14-42z" color="#38e7d7"/><path d="M4182 1059l13 4 8-11-13-4z" color="#2884f6"/><path d="M4035 1163l13 1 8-15-13-2z" color="#5a3bfd"/><path d="M4026 910l13 17 7-60-14-24z" color="#2adddd"/><path d="M4141 1075l13 3 8-12-14-3z" color="#2e7bf7"/><path d="M4162 1066l13 4 7-11-13-4z" color="#2981f6"/><path d="M4475 1067l13 8 7-9-13-8z" color="#2c7ef7"/><path d="M4387 873l14 25 7-53-13-33z" color="#3ae8d6"/><path d="M4000 1204l13 2 7-13-13-2z" color="#6e1cff"/><path d="M4135 886l13 33 7-48-13-45z" color="#32e3da"/><path d="M4013 911l13-1 6-67-13-4z" color="#2fe0db"/><path d="M4428 1054l13 7 7-9-13-6z" color="#2686f5"/><path d="M4581 1145l13 13 7-10-13-12z" color="#5444fd"/><path d="M4292 1045l13 5 7-9-13-5z" color="#208ef4"/><path d="M4354 868l13 26 7-51-13-35z" color="#3dead5"/><path d="M4237 1051l13 4 8-10-13-4z" color="#218cf4"/><path d="M4028 1178l13 2 7-16-13-1z" color="#6032fe"/><path d="M4488 1075l13 8 8-8-14-9z" color="#3079f7"/><path d="M4064 1134l13 2 7-15-13-2z" color="#4a53fb"/><path d="M4394 1051l13 6 7-9-13-6z" color="#218cf4"/><path d="M4421 874l13 25 8-55-13-33z" color="#3ae8d6"/><path d="M4059 900l14 31 7-53-14-41z" color="#2ddedc"/><path d="M4092 1107l13 2 7-13-13-3z" color="#3e65fa"/><path d="M4326 1046l13 5 7-9-13-5z" color="#208ef4"/><path d="M4360 1048l13 6 7-9-13-6z" color="#218cf4"/><path d="M4568 1134l13 11 7-9-13-12z" color="#4c50fc"/><path d="M4501 1083l14 9 7-9-13-8z" color="#3473f8"/><path d="M4216 1056l13 4 8-9-13-5z" color="#2489f5"/><path d="M4441 1061l13 7 8-9-14-7z" color="#2884f6"/><path d="M4613 1192l13 10 7-9-13-11z" color="#6a22fe"/><path d="M4271 1050l13 5 8-10-14-5z" color="#218cf4"/><path d="M4554 1122l14 12 7-10-13-11z" color="#4659fb"/><path d="M4626 1202l14 9 7-9-14-9z" color="#6e1cff"/><path d="M4112 1096l14 3 7-12-13-3z" color="#386df9"/><path d="M4020 1193l13 2 8-15-13-2z" color="#6826fe"/><path d="M4515 1092l13 9 7-9-13-9z" color="#386df9"/><path d="M4320 862l13 27 7-52-13-36z" color="#40ecd4"/><path d="M4056 1149l13 2 8-15-13-2z" color="#5247fc"/><path d="M4541 1111l13 11 8-9-14-11z" color="#4062fa"/><path d="M4600 1180l13 12 7-10-13-12z" color="#642cfe"/><path d="M4195 1063l14 4 7-11-13-4z" color="#2884f6"/><path d="M4528 1101l13 10 7-9-13-10z" color="#3c68f9"/><path d="M3992 1215l13 3 8-12-13-2z" color="#7216ff"/><path d="M4133 1087l13 3 8-12-13-3z" color="#3176f8"/><path d="M4407 1057l13 6 8-9-14-6z" color="#2489f5"/><path d="M4305 1050l13 5 8-9-14-5z" color="#218cf4"/><path d="M4175 1070l13 4 7-11-13-4z" color="#2981f6"/><path d="M4154 1078l13 3 8-11-13-4z" color="#2e7bf7"/><path d="M4084 1121l13 2 8-14-13-2z" color="#445cfb"/><path d="M4454 1068l13 8 8-9-13-8z" color="#2981f6"/><path d="M4373 1054l13 6 8-9-14-6z" color="#218cf4"/><path d="M4339 1051l13 6 8-9-14-6z" color="#218cf4"/><path d="M4250 1055l13 5 8-10-13-5z" color="#2489f5"/><path d="M4649 787l12 48 7 6-12-51z" color="#5af8c8"/><path d="M4455 873l13 25 9-58-13-33z" color="#3febd5"/><path d="M4587 1168l13 12 7-10-13-12z" color="#5c38fd"/><path d="M4537 888l12 24 9-59-13-30z" color="#37e6d8"/><path d="M4048 1164l13 2 8-15-13-2z" color="#583efd"/><path d="M4155 871l14 35 7-51-14-47z" color="#3dead5"/><path d="M4013 1206l13 3 7-14-13-2z" color="#6e1cff"/><path d="M4467 1076l14 8 7-9-13-8z" color="#2e7bf7"/><path d="M4573 1155l14 13 7-10-13-13z" color="#5641fd"/><path d="M4284 1055l13 5 8-10-13-5z" color="#218cf4"/><path d="M4229 1060l14 5 7-10-13-4z" color="#2489f5"/><path d="M4420 1063l13 7 8-9-13-7z" color="#2686f5"/><path d="M4105 1109l13 3 8-13-14-3z" color="#3c68f9"/><path d="M4041 1180l13 2 7-16-13-2z" color="#6032fe"/><path d="M4077 1136l13 2 7-15-13-2z" color="#4a53fb"/><path d="M4231 858l13 32 8-53-14-44z" color="#44eed2"/><path d="M4481 1084l13 9 7-10-13-8z" color="#3176f8"/><path d="M4318 1055l13 6 8-10-13-5z" color="#218cf4"/><path d="M4605 882l12 30 9-50-13-36z" color="#38e7d7"/><path d="M4386 1060l13 6 8-9-13-6z" color="#2489f5"/><path d="M4560 1143l13 12 8-10-13-11z" color="#504afc"/><path d="M4209 1067l13 4 7-11-13-4z" color="#2884f6"/><path d="M4352 1057l13 6 8-9-13-6z" color="#218cf4"/><path d="M4126 1099l13 3 7-12-13-3z" color="#3670f8"/><path d="M4286 852l13 30 7-54-13-41z" color="#48f1d0"/><path d="M4494 1093l13 8 8-9-14-9z" color="#3473f8"/><path d="M4263 1060l14 4 7-9-13-5z" color="#2489f5"/><path d="M4146 1090l13 3 8-12-13-3z" color="#3176f8"/><path d="M4033 1195l13 2 8-15-13-2z" color="#6629fe"/><path d="M4188 1074l13 4 8-11-14-4z" color="#2981f6"/><path d="M4606 1201l13 11 7-10-13-10z" color="#6c1fff"/><path d="M4547 1132l13 11 8-9-14-12z" color="#4856fb"/><path d="M4433 1070l14 7 7-9-13-7z" color="#2981f6"/><path d="M4069 1151l13 2 8-15-13-2z" color="#504afc"/><path d="M4167 1081l13 4 8-11-13-4z" color="#2e7bf7"/><path d="M4626 862l12 37 8-37-12-42z" color="#3febd5"/><path d="M4619 1212l13 8 8-9-14-9z" color="#7019ff"/><path d="M4005 1218l13 2 8-11-13-3z" color="#7216ff"/><path d="M4507 1101l14 10 7-10-13-9z" color="#386df9"/><path d="M4592 1190l14 11 7-9-13-12z" color="#6629fe"/><path d="M4534 1121l13 11 7-10-13-11z" color="#425ffa"/><path d="M4097 1123l13 3 8-14-13-3z" color="#425ffa"/><path d="M4080 878l14 37 6-55-14-47z" color="#3ae8d6"/><path d="M4521 1111l13 10 7-10-13-10z" color="#3e65fa"/><path d="M4571 882l13 27 8-59-13-33z" color="#3ae8d6"/><path d="M4297 1060l14 5 7-10-13-5z" color="#2489f5"/><path d="M4399 1066l14 6 7-9-13-6z" color="#2686f5"/><path d="M4626 666l13 35 6 19-12-38z" color="#99fca6"/><path d="M4243 1065l13 4 7-9-13-5z" color="#2686f5"/><path d="M4489 869l13 26 9-63-13-33z" color="#42edd3"/><path d="M4579 1178l13 12 8-10-13-12z" color="#5e35fe"/><path d="M4447 1077l13 8 7-9-13-8z" color="#2c7ef7"/><path d="M4061 1166l13 3 8-16-13-2z" color="#5641fd"/><path d="M4331 1061l14 5 7-9-13-6z" color="#2489f5"/><path d="M4365 1063l14 6 7-9-13-6z" color="#2489f5"/><path d="M4026 1209l13 2 7-14-13-2z" color="#6c1fff"/><path d="M4118 1112l13 3 8-13-13-3z" color="#3c68f9"/><path d="M4176 855l14 37 7-56-14-48z" color="#48f1d0"/><path d="M4222 1071l13 4 8-10-14-5z" color="#2884f6"/><path d="M4566 1165l13 13 8-10-14-13z" color="#583efd"/><path d="M4090 1138l13 3 7-15-13-3z" color="#4856fb"/><path d="M4460 1085l13 8 8-9-14-8z" color="#3079f7"/><path d="M4277 1064l13 5 7-9-13-5z" color="#2489f5"/><path d="M4054 1182l13 3 7-16-13-3z" color="#5e35fe"/><path d="M4139 1102l13 4 7-13-13-3z" color="#3670f8"/><path d="M4413 1072l13 7 7-9-13-7z" color="#2884f6"/><path d="M4201 1078l13 4 8-11-13-4z" color="#2981f6"/><path d="M4159 1093l14 4 7-12-13-4z" color="#3176f8"/><path d="M4180 1085l13 4 8-11-13-4z" color="#2e7bf7"/><path d="M4553 1154l13 11 7-10-13-12z" color="#5247fc"/><path d="M4644 745l12 45 7 11-13-47z" color="#72febb"/><path d="M4311 1065l13 5 7-9-13-6z" color="#2489f5"/><path d="M4473 1093l14 9 7-9-13-9z" color="#3473f8"/><path d="M4379 1069l13 6 7-9-13-6z" color="#2686f5"/><path d="M4345 1066l13 6 7-9-13-6z" color="#2489f5"/><path d="M4046 1197l13 3 8-15-13-3z" color="#642cfe"/><path d="M4082 1153l13 3 8-15-13-3z" color="#4e4dfc"/><path d="M4256 1069l13 5 8-10-14-4z" color="#2686f5"/><path d="M4540 1142l13 12 7-11-13-11z" color="#4c50fc"/><path d="M4374 843l13 30 8-61-13-39z" color="#50f4cc"/><path d="M4487 1102l13 9 7-10-13-8z" color="#3670f8"/><path d="M4018 1220l13 3 8-12-13-2z" color="#7019ff"/><path d="M4598 1211l14 10 7-9-13-11z" color="#6e1cff"/><path d="M4110 1126l13 3 8-14-13-3z" color="#425ffa"/><path d="M4426 1079l13 8 8-10-14-7z" color="#2c7ef7"/><path d="M4632 687l13 38 6 17-12-41z" color="#90feab"/><path d="M4526 1131l14 11 7-10-13-11z" color="#4659fb"/><path d="M4585 1200l13 11 8-10-14-11z" color="#6826fe"/><path d="M4612 1221l13 8 7-9-13-8z" color="#7216ff"/><path d="M4500 1111l13 9 8-9-14-10z" color="#3c68f9"/><path d="M4408 845l13 29 8-63-13-37z" color="#50f4cc"/><path d="M4513 1120l13 11 8-10-13-10z" color="#4062fa"/><path d="M4290 1069l13 6 8-10-14-5z" color="#2686f5"/><path d="M4235 1075l13 5 8-11-13-4z" color="#2884f6"/><path d="M4074 1169l14 3 7-16-13-3z" color="#5641fd"/><path d="M4572 1188l13 12 7-10-13-12z" color="#622ffe"/><path d="M4642 795l12 46 7-6-12-48z" color="#5df9c7"/><path d="M4340 837l14 31 7-60-13-40z" color="#54f6cb"/><path d="M4638 713l12 41 7 14-12-43z" color="#82ffb3"/><path d="M4100 860l14 40 7-57-14-51z" color="#46efd1"/><path d="M4039 1211l13 3 7-14-13-3z" color="#6a22fe"/><path d="M4392 1075l13 7 8-10-14-6z" color="#2884f6"/><path d="M4252 837l13 35 7-58-13-46z" color="#52f5cb"/><path d="M4131 1115l13 3 8-12-13-4z" color="#3c68f9"/><path d="M4439 1087l14 8 7-10-13-8z" color="#2e7bf7"/><path d="M4324 1070l13 6 8-10-14-5z" color="#2686f5"/><path d="M4214 1082l13 4 8-11-13-4z" color="#2981f6"/><path d="M4358 1072l13 6 8-9-14-6z" color="#2686f5"/><path d="M4103 1141l13 3 7-15-13-3z" color="#4856fb"/><path d="M4152 1106l13 3 8-12-14-4z" color="#3670f8"/><path d="M4559 1176l13 12 7-10-13-13z" color="#5a3bfd"/><path d="M4193 1089l14 5 7-12-13-4z" color="#2e7bf7"/><path d="M4173 1097l13 4 7-12-13-4z" color="#3176f8"/><path d="M4067 1185l13 2 8-15-14-3z" color="#5c38fd"/><path d="M4524 862l13 26 8-65-13-33z" color="#4af2cf"/><path d="M4269 1074l13 5 8-10-13-5z" color="#2686f5"/><path d="M4634 820l12 42 8-21-12-46z" color="#54f6cb"/><path d="M4453 1095l13 8 7-10-13-8z" color="#3176f8"/><path d="M4545 1164l14 12 7-11-13-11z" color="#5444fd"/><path d="M4405 1082l14 7 7-10-13-7z" color="#2981f6"/><path d="M4046 867l13 33 7-63-14-38z" color="#46efd1"/><path d="M4442 844l13 29 9-66-13-36z" color="#52f5cb"/><path d="M4001 854l12-59 6-61-11 49z" color="#5df9c7"/><path d="M4303 1075l13 5 8-10-13-5z" color="#2686f5"/><path d="M4059 1200l13 3 8-16-13-2z" color="#642cfe"/><path d="M4095 1156l13 3 8-15-13-3z" color="#4e4dfc"/><path d="M4466 1103l13 8 8-9-14-9z" color="#3670f8"/><path d="M4123 1129l14 4 7-15-13-3z" color="#4062fa"/><path d="M4197 836l13 40 7-60-13-50z" color="#54f6cb"/><path d="M4248 1080l13 5 8-11-13-5z" color="#2884f6"/><path d="M4532 1152l13 12 8-10-13-12z" color="#4e4dfc"/><path d="M4371 1078l14 7 7-10-13-6z" color="#2884f6"/><path d="M4031 1223l13 3 8-12-13-3z" color="#7019ff"/><path d="M4337 1076l13 6 8-10-13-6z" color="#2686f5"/><path d="M4007 868l12-29 6-68-12 24z" color="#50f4cc"/><path d="M4306 828l14 34 7-61-13-44z" color="#5af8c8"/><path d="M4479 1111l13 10 8-10-13-9z" color="#396bf9"/><path d="M4519 1141l13 11 8-10-14-11z" color="#4856fb"/><path d="M4591 1221l13 10 8-10-14-10z" color="#7019ff"/><path d="M4419 1089l13 8 7-10-13-8z" color="#2e7bf7"/><path d="M4578 1210l13 11 7-10-13-11z" color="#6a22fe"/><path d="M4227 1086l14 5 7-11-13-5z" color="#2c7ef7"/><path d="M4506 1131l13 10 7-10-13-11z" color="#425ffa"/><path d="M4492 1121l14 10 7-11-13-9z" color="#3e65fa"/><path d="M4144 1118l13 4 8-13-13-3z" color="#396bf9"/><path d="M4088 1172l13 3 7-16-13-3z" color="#5444fd"/><path d="M4604 1231l14 8 7-10-13-8z" color="#7413ff"/><path d="M4282 1079l14 6 7-10-13-6z" color="#2884f6"/><path d="M4565 1199l13 11 7-10-13-12z" color="#642cfe"/><path d="M4052 1214l13 3 7-14-13-3z" color="#6a22fe"/><path d="M4207 1094l13 4 7-12-13-4z" color="#2e7bf7"/><path d="M4165 1109l13 4 8-12-13-4z" color="#3670f8"/><path d="M4186 1101l13 5 8-12-14-5z" color="#3176f8"/><path d="M4116 1144l13 3 8-14-14-4z" color="#4659fb"/><path d="M4385 1085l13 7 7-10-13-7z" color="#2981f6"/><path d="M4432 1097l13 8 8-10-14-8z" color="#3079f7"/><path d="M4316 1080l14 6 7-10-13-6z" color="#2884f6"/><path d="M4551 1187l14 12 7-11-13-12z" color="#5e35fe"/><path d="M4080 1187l13 4 8-16-13-3z" color="#5c38fd"/><path d="M4121 843l14 43 7-60-14-54z" color="#52f5cb"/><path d="M4350 1082l14 6 7-10-13-6z" color="#2884f6"/><path d="M4261 1085l14 5 7-11-13-5z" color="#2981f6"/><path d="M4592 850l13 32 8-56-12-36z" color="#4ef3cd"/><path d="M4558 853l13 29 8-65-12-33z" color="#50f4cc"/><path d="M4538 1175l13 12 8-11-14-12z" color="#583efd"/><path d="M4445 1105l13 8 8-10-13-8z" color="#3473f8"/><path d="M4012 722l11-63 8-31-12 58z" color="#9bfba5"/><path d="M4108 1159l13 4 8-16-13-3z" color="#4e4dfc"/><path d="M4137 1133l13 3 7-14-13-4z" color="#4062fa"/><path d="M4072 1203l14 3 7-15-13-4z" color="#622ffe"/><path d="M4398 1092l13 7 8-10-14-7z" color="#2e7bf7"/><path d="M4241 1091l13 5 7-11-13-5z" color="#2c7ef7"/><path d="M4477 840l12 29 9-70-13-36z" color="#58f8c9"/><path d="M4296 1085l13 6 7-11-13-5z" color="#2981f6"/><path d="M4525 1163l13 12 7-11-13-12z" color="#5247fc"/><path d="M4044 1226l13 3 8-12-13-3z" color="#6e1cff"/><path d="M4458 1113l14 9 7-11-13-8z" color="#386df9"/><path d="M4220 1098l13 5 8-12-14-5z" color="#3079f7"/><path d="M4364 1088l13 7 8-10-14-7z" color="#2981f6"/><path d="M4157 1122l14 4 7-13-13-4z" color="#396bf9"/><path d="M4330 1086l13 6 7-10-13-6z" color="#2981f6"/><path d="M4003 794l11-67 7-45-12 58z" color="#7dffb6"/><path d="M4512 1152l13 11 7-11-13-11z" color="#4c50fc"/><path d="M4199 1106l13 4 8-12-13-4z" color="#3176f8"/><path d="M4178 1113l13 5 8-12-13-5z" color="#3670f8"/><path d="M4472 1122l13 9 7-10-13-10z" color="#3c68f9"/><path d="M4101 1175l13 3 7-15-13-4z" color="#5444fd"/><path d="M4498 1141l14 11 7-11-13-10z" color="#4659fb"/><path d="M4411 1099l13 8 8-10-13-8z" color="#3079f7"/><path d="M4584 1231l13 9 7-9-13-10z" color="#7216ff"/><path d="M4570 1220l14 11 7-10-13-11z" color="#6c1fff"/><path d="M4485 1131l13 10 8-10-14-10z" color="#4062fa"/><path d="M4065 1217l13 4 8-15-14-3z" color="#6a22fe"/><path d="M4275 1090l13 6 8-11-14-6z" color="#2981f6"/><path d="M4129 1147l13 4 8-15-13-3z" color="#4659fb"/><path d="M4557 1209l13 11 8-10-13-11z" color="#6826fe"/><path d="M4614 633l12 33 7 16-13-34z" color="#b0f397"/><path d="M4597 1240l13 8 8-9-14-8z" color="#7610ff"/><path d="M4093 1191l13 3 8-16-13-3z" color="#5c38fd"/><path d="M4544 1198l13 11 8-10-14-12z" color="#622ffe"/><path d="M4377 1095l13 7 8-10-13-7z" color="#2e7bf7"/><path d="M4309 1091l13 6 8-11-14-6z" color="#2981f6"/><path d="M4424 1107l14 8 7-10-13-8z" color="#3473f8"/><path d="M4272 814l14 38 7-65-13-47z" color="#64fbc3"/><path d="M4254 1096l13 6 8-12-14-5z" color="#2e7bf7"/><path d="M4613 826l13 36 8-42-12-39z" color="#5af8c8"/><path d="M4343 1092l13 7 8-11-14-6z" color="#2c7ef7"/><path d="M4150 1136l13 4 8-14-14-4z" color="#4062fa"/><path d="M4531 1186l13 12 7-11-13-12z" color="#5a3bfd"/><path d="M4217 816l14 42 7-65-13-51z" color="#62fbc4"/><path d="M4121 1163l14 3 7-15-13-4z" color="#4c50fc"/><path d="M4233 1103l13 5 8-12-13-5z" color="#3079f7"/><path d="M4086 1206l13 4 7-16-13-3z" color="#622ffe"/><path d="M4438 1115l13 8 7-10-13-8z" color="#3670f8"/><path d="M4142 826l13 45 7-63-14-56z" color="#5efac6"/><path d="M4637 744l12 43 7 3-12-45z" color="#7affb7"/><path d="M4212 1110l13 5 8-12-13-5z" color="#3473f8"/><path d="M4171 1126l13 5 7-13-13-5z" color="#3c68f9"/><path d="M4517 1174l14 12 7-11-13-12z" color="#5444fd"/><path d="M4390 1102l14 8 7-11-13-7z" color="#3079f7"/><path d="M4288 1096l13 6 8-11-13-6z" color="#2c7ef7"/><path d="M4191 1118l14 4 7-12-13-4z" color="#3670f8"/><path d="M4057 1229l13 3 8-11-13-4z" color="#6e1cff"/><path d="M4451 1123l13 9 8-10-14-9z" color="#396bf9"/><path d="M4504 1163l13 11 8-11-13-11z" color="#4e4dfc"/><path d="M4114 1178l13 4 8-16-14-3z" color="#5444fd"/><path d="M4356 1099l14 7 7-11-13-7z" color="#2e7bf7"/><path d="M4322 1097l13 6 8-11-13-6z" color="#2c7ef7"/><path d="M4491 1152l13 11 8-11-14-11z" color="#4856fb"/><path d="M4142 1151l13 4 8-15-13-4z" color="#4659fb"/><path d="M4464 1132l14 10 7-11-13-9z" color="#3e65fa"/><path d="M4078 1221l13 3 8-14-13-4z" color="#6826fe"/><path d="M4478 1142l13 10 7-11-13-10z" color="#445cfb"/><path d="M4267 1102l13 5 8-11-13-6z" color="#2e7bf7"/><path d="M4404 1110l13 7 7-10-13-8z" color="#3176f8"/><path d="M4563 1231l13 10 8-10-14-11z" color="#7019ff"/><path d="M4511 832l13 30 8-72-13-35z" color="#5efac6"/><path d="M4066 837l14 41 6-65-14-47z" color="#5af8c8"/><path d="M4550 1220l13 11 7-11-13-11z" color="#6a22fe"/><path d="M4576 1241l14 9 7-10-13-9z" color="#7413ff"/><path d="M4032 843l14 24 6-68-14-25z" color="#5af8c8"/><path d="M4106 1194l13 4 8-16-13-4z" color="#5c38fd"/><path d="M4395 812l13 33 8-71-13-40z" color="#68fcc1"/><path d="M4361 808l13 35 8-70-13-42z" color="#6afdc0"/><path d="M4246 1108l14 5 7-11-13-6z" color="#3176f8"/><path d="M4537 1209l13 11 7-11-13-11z" color="#642cfe"/><path d="M4301 1102l14 6 7-11-13-6z" color="#2e7bf7"/><path d="M4163 1140l13 5 8-14-13-5z" color="#4062fa"/><path d="M4370 1106l13 7 7-11-13-7z" color="#3079f7"/><path d="M4620 652l12 35 7 14-13-35z" color="#a8f79c"/><path d="M4135 1166l13 4 7-15-13-4z" color="#4c50fc"/><path d="M4417 1117l13 8 8-10-14-8z" color="#3670f8"/><path d="M4335 1103l14 7 7-11-13-7z" color="#2e7bf7"/><path d="M4225 1115l14 5 7-12-13-5z" color="#3473f8"/><path d="M4590 1250l13 7 7-9-13-8z" color="#780dff"/><path d="M4523 1198l14 11 7-11-13-12z" color="#5e35fe"/><path d="M4184 1131l13 4 8-13-14-4z" color="#3c68f9"/><path d="M4205 1122l13 5 7-12-13-5z" color="#386df9"/><path d="M4099 1210l13 3 7-15-13-4z" color="#622ffe"/><path d="M4510 1186l13 12 8-12-14-12z" color="#583efd"/><path d="M4280 1107l14 6 7-11-13-6z" color="#3079f7"/><path d="M4430 1125l14 9 7-11-13-8z" color="#396bf9"/><path d="M4070 1232l13 4 8-12-13-3z" color="#6e1cff"/><path d="M4019 839l13 4 6-69-13-3z" color="#60fac5"/><path d="M4383 1113l13 7 8-10-14-8z" color="#3176f8"/><path d="M4127 1182l13 4 8-16-13-4z" color="#5444fd"/><path d="M4327 801l13 36 8-69-13-45z" color="#6efebe"/><path d="M4429 811l13 33 9-73-13-40z" color="#6afdc0"/><path d="M4497 1175l13 11 7-12-13-11z" color="#5247fc"/><path d="M4155 1155l14 5 7-15-13-5z" color="#4659fb"/><path d="M4315 1108l13 6 7-11-13-6z" color="#3079f7"/><path d="M4631 705l13 40 6 9-12-41z" color="#90feab"/><path d="M4444 1134l13 9 7-11-13-9z" color="#3e65fa"/><path d="M4349 1110l13 7 8-11-14-7z" color="#3079f7"/><path d="M4483 1164l14 11 7-12-13-11z" color="#4c50fc"/><path d="M4260 1113l13 6 7-12-13-5z" color="#3176f8"/><path d="M4091 1224l13 4 8-15-13-3z" color="#6826fe"/><path d="M4457 1143l13 10 8-11-14-10z" color="#425ffa"/><path d="M4470 1153l13 11 8-12-13-10z" color="#4659fb"/><path d="M4626 676l12 37 7 12-13-38z" color="#9efaa2"/><path d="M4119 1198l14 4 7-16-13-4z" color="#5a3bfd"/><path d="M4176 1145l13 5 8-15-13-4z" color="#4062fa"/><path d="M4396 1120l13 8 8-11-13-7z" color="#3670f8"/><path d="M4239 1120l13 5 8-12-14-5z" color="#3670f8"/><path d="M4162 808l14 47 7-67-14-57z" color="#6afdc0"/><path d="M4542 1231l14 10 7-10-13-11z" color="#6e1cff"/><path d="M4556 1241l13 10 7-10-13-10z" color="#7216ff"/><path d="M4218 1127l13 5 8-12-14-5z" color="#386df9"/><path d="M4148 1170l13 5 8-15-14-5z" color="#4e4dfc"/><path d="M4197 1135l13 6 8-14-13-5z" color="#3c68f9"/><path d="M4294 1113l13 6 8-11-14-6z" color="#3176f8"/><path d="M4529 1220l13 11 8-11-13-11z" color="#6826fe"/><path d="M4569 1251l13 9 8-10-14-9z" color="#7610ff"/><path d="M4362 1117l13 7 8-11-13-7z" color="#3473f8"/><path d="M4516 1209l13 11 8-11-14-11z" color="#622ffe"/><path d="M4328 1114l13 7 8-11-14-7z" color="#3176f8"/><path d="M4112 1213l13 5 8-16-14-4z" color="#622ffe"/><path d="M4409 1128l14 8 7-11-13-8z" color="#386df9"/><path d="M4545 823l13 30 9-69-13-35z" color="#66fcc2"/><path d="M4503 1198l13 11 7-11-13-12z" color="#5c38fd"/><path d="M4273 1119l13 6 8-12-14-6z" color="#3473f8"/><path d="M4140 1186l13 5 8-16-13-5z" color="#5444fd"/><path d="M4169 1160l13 4 7-14-13-5z" color="#4856fb"/><path d="M4083 1236l14 4 7-12-13-4z" color="#6e1cff"/><path d="M4629 754l13 41 7-8-12-43z" color="#7dffb6"/><path d="M4582 1260l14 7 7-10-13-7z" color="#7a09ff"/><path d="M4622 781l12 39 8-25-13-41z" color="#72febb"/><path d="M4579 817l13 33 9-60-13-35z" color="#66fcc2"/><path d="M4238 793l14 44 7-69-14-53z" color="#72febb"/><path d="M4423 1136l13 9 8-11-14-9z" color="#3c68f9"/><path d="M4489 1187l14 11 7-12-13-11z" color="#5641fd"/><path d="M4375 1124l14 7 7-11-13-7z" color="#3670f8"/><path d="M4252 1125l13 6 8-12-13-6z" color="#3670f8"/><path d="M4307 1119l13 7 8-12-13-6z" color="#3473f8"/><path d="M4476 1176l13 11 8-12-14-11z" color="#504afc"/><path d="M4104 1228l13 4 8-14-13-5z" color="#6826fe"/><path d="M4436 1145l13 10 8-12-13-9z" color="#4062fa"/><path d="M4189 1150l14 5 7-14-13-6z" color="#425ffa"/><path d="M4341 1121l13 7 8-11-13-7z" color="#3473f8"/><path d="M4463 1165l13 11 7-12-13-11z" color="#4a53fb"/><path d="M4464 807l13 33 8-77-13-37z" color="#70febc"/><path d="M4449 1155l14 10 7-12-13-10z" color="#4659fb"/><path d="M4133 1202l13 4 7-15-13-5z" color="#5c38fd"/><path d="M4231 1132l13 6 8-13-13-5z" color="#396bf9"/><path d="M4210 1141l14 5 7-14-13-5z" color="#3e65fa"/><path d="M4601 604l13 29 6 15-12-30z" color="#c4e88a"/><path d="M4161 1175l13 5 8-16-13-4z" color="#4e4dfc"/><path d="M4293 787l13 41 8-71-13-48z" color="#78ffb8"/><path d="M4389 1131l13 8 7-11-13-8z" color="#396bf9"/><path d="M4086 813l14 47 7-68-14-52z" color="#68fcc1"/><path d="M4286 1125l13 6 8-12-13-6z" color="#3670f8"/><path d="M4522 1232l13 10 7-11-13-11z" color="#6c1fff"/><path d="M4125 1218l13 4 8-16-13-4z" color="#622ffe"/><path d="M4535 1242l13 10 8-11-14-10z" color="#7019ff"/><path d="M4508 1221l14 11 7-12-13-11z" color="#6629fe"/><path d="M4354 1128l14 7 7-11-13-7z" color="#3670f8"/><path d="M4548 1252l14 9 7-10-13-10z" color="#7413ff"/><path d="M4320 1126l14 6 7-11-13-7z" color="#3670f8"/><path d="M4182 1164l13 6 8-15-14-5z" color="#4856fb"/><path d="M4153 1191l14 4 7-15-13-5z" color="#5444fd"/><path d="M4495 1210l13 11 8-12-13-11z" color="#6032fe"/><path d="M4402 1139l13 9 8-12-14-8z" color="#3c68f9"/><path d="M4265 1131l14 6 7-12-13-6z" color="#386df9"/><path d="M4562 1261l13 8 7-9-13-9z" color="#780dff"/><path d="M4097 1240l13 4 7-12-13-4z" color="#6e1cff"/><path d="M4482 1199l13 11 8-12-14-11z" color="#5a3bfd"/><path d="M4203 1155l13 5 8-14-14-5z" color="#425ffa"/><path d="M4244 1138l14 6 7-13-13-6z" color="#396bf9"/><path d="M4415 1148l14 9 7-12-13-9z" color="#4062fa"/><path d="M4009 740l12-58 7-39-12 52z" color="#9cfba4"/><path d="M4224 1146l13 6 7-14-13-6z" color="#3e65fa"/><path d="M4469 1188l13 11 7-12-13-11z" color="#5444fd"/><path d="M4117 1232l14 4 7-14-13-4z" color="#6826fe"/><path d="M4429 1157l13 10 7-12-13-10z" color="#445cfb"/><path d="M4299 1131l14 7 7-12-13-7z" color="#386df9"/><path d="M4368 1135l13 8 8-12-14-7z" color="#396bf9"/><path d="M4146 1206l13 5 8-16-14-4z" color="#5c38fd"/><path d="M4455 1177l14 11 7-12-13-11z" color="#4e4dfc"/><path d="M4442 1167l13 10 8-12-14-10z" color="#4a53fb"/><path d="M4174 1180l14 5 7-15-13-6z" color="#4e4dfc"/><path d="M4334 1132l13 8 7-12-13-7z" color="#386df9"/><path d="M4575 1269l13 7 8-9-14-7z" color="#7c06ff"/><path d="M4183 788l14 48 7-70-14-58z" color="#78ffb8"/><path d="M4279 1137l13 6 7-12-13-6z" color="#396bf9"/><path d="M4381 1143l13 8 8-12-13-8z" color="#3c68f9"/><path d="M4138 1222l13 5 8-16-13-5z" color="#622ffe"/><path d="M4195 1170l13 5 8-15-13-5z" color="#4856fb"/><path d="M4601 790l12 36 9-45-13-38z" color="#74feba"/><path d="M4167 1195l13 6 8-16-14-5z" color="#5641fd"/><path d="M4258 1144l13 6 8-13-14-6z" color="#3c68f9"/><path d="M4008 783l11-49 7-50-12 43z" color="#88ffaf"/><path d="M4313 1138l13 7 8-13-14-6z" color="#396bf9"/><path d="M4216 1160l13 6 8-14-13-6z" color="#445cfb"/><path d="M4501 1233l13 10 8-11-14-11z" color="#6a22fe"/><path d="M4514 1243l14 10 7-11-13-10z" color="#6e1cff"/><path d="M4347 1140l13 7 8-12-14-7z" color="#396bf9"/><path d="M4488 1222l13 11 7-12-13-11z" color="#642cfe"/><path d="M4237 1152l13 6 8-14-14-6z" color="#4062fa"/><path d="M4394 1151l14 9 7-12-13-9z" color="#4062fa"/><path d="M4498 799l13 33 8-77-13-37z" color="#76ffb9"/><path d="M4528 1253l13 9 7-10-13-10z" color="#7413ff"/><path d="M4474 1212l14 10 7-12-13-11z" color="#5e35fe"/><path d="M4110 1244l13 4 8-12-14-4z" color="#6e1cff"/><path d="M4408 1160l13 10 8-13-14-9z" color="#445cfb"/><path d="M4541 1262l13 9 8-10-14-9z" color="#780dff"/><path d="M4461 1201l13 11 8-13-13-11z" color="#583efd"/><path d="M4159 1211l13 5 8-15-13-6z" color="#5c38fd"/><path d="M4188 1185l13 5 7-15-13-5z" color="#504afc"/><path d="M4131 1236l13 5 7-14-13-5z" color="#6a22fe"/><path d="M4607 621l13 31 6 14-12-33z" color="#c0eb8d"/><path d="M4421 1170l13 10 8-13-13-10z" color="#4a53fb"/><path d="M4448 1190l13 11 8-13-14-11z" color="#5444fd"/><path d="M4292 1143l13 7 8-12-14-7z" color="#3c68f9"/><path d="M4434 1180l14 10 7-13-13-10z" color="#4e4dfc"/><path d="M4360 1147l14 8 7-12-13-8z" color="#3e65fa"/><path d="M4326 1145l13 7 8-12-13-8z" color="#3c68f9"/><path d="M4554 1271l14 8 7-10-13-8z" color="#7c06ff"/><path d="M4208 1175l14 6 7-15-13-6z" color="#4a53fb"/><path d="M4271 1150l13 7 8-14-13-6z" color="#3e65fa"/><path d="M4151 1227l14 5 7-16-13-5z" color="#642cfe"/><path d="M4229 1166l14 6 7-14-13-6z" color="#4659fb"/><path d="M4180 1201l13 5 8-16-13-5z" color="#5641fd"/><path d="M4250 1158l13 6 8-14-13-6z" color="#425ffa"/><path d="M4107 792l14 51 7-71-14-56z" color="#76ffb9"/><path d="M4374 1155l13 9 7-13-13-8z" color="#425ffa"/><path d="M4624 705l13 39 7 1-13-40z" color="#99fca6"/><path d="M4305 1150l14 8 7-13-13-7z" color="#3e65fa"/><path d="M4339 1152l14 8 7-13-13-7z" color="#3e65fa"/><path d="M4568 1279l13 8 7-11-13-7z" color="#7e03ff"/><path d="M4387 1164l13 9 8-13-14-9z" color="#445cfb"/><path d="M4201 1190l13 6 8-15-14-6z" color="#504afc"/><path d="M4480 1234l14 11 7-12-13-11z" color="#6826fe"/><path d="M4382 773l13 39 8-78-13-44z" color="#84ffb2"/><path d="M4494 1245l13 9 7-11-13-10z" color="#6c1fff"/><path d="M4467 1224l13 10 8-12-14-10z" color="#622ffe"/><path d="M4172 1216l14 6 7-16-13-5z" color="#5e35fe"/><path d="M4123 1248l13 5 8-12-13-5z" color="#6e1cff"/><path d="M4400 1173l14 10 7-13-13-10z" color="#4a53fb"/><path d="M4259 768l13 46 8-74-14-53z" color="#84ffb2"/><path d="M4454 1214l13 10 7-12-13-11z" color="#5e35fe"/><path d="M4507 1254l13 10 8-11-14-10z" color="#7216ff"/><path d="M4284 1157l14 7 7-14-13-7z" color="#4062fa"/><path d="M4013 795l12-24 7-61-13 24z" color="#80ffb4"/><path d="M4144 1241l13 5 8-14-14-5z" color="#6a22fe"/><path d="M4414 1183l13 10 7-13-13-10z" color="#4e4dfc"/><path d="M4440 1203l14 11 7-13-13-11z" color="#583efd"/><path d="M4427 1193l13 10 8-13-14-10z" color="#5247fc"/><path d="M4222 1181l13 6 8-15-14-6z" color="#4c50fc"/><path d="M4052 799l14 38 6-71-14-37z" color="#76ffb9"/><path d="M4353 1160l13 8 8-13-14-8z" color="#425ffa"/><path d="M4520 1264l14 8 7-10-13-9z" color="#7610ff"/><path d="M4263 1164l14 7 7-14-13-7z" color="#445cfb"/><path d="M4348 768l13 40 8-77-13-45z" color="#86ffb0"/><path d="M4243 1172l13 7 7-15-13-6z" color="#4856fb"/><path d="M4319 1158l13 7 7-13-13-7z" color="#4062fa"/><path d="M4613 642l13 34 6 11-12-35z" color="#b6f193"/><path d="M4193 1206l13 6 8-16-13-6z" color="#583efd"/><path d="M4588 577l13 27 7 14-13-28z" color="#d9da7d"/><path d="M4165 1232l13 5 8-15-14-6z" color="#642cfe"/><path d="M4416 774l13 37 9-80-13-41z" color="#84ffb2"/><path d="M4534 1272l13 8 7-9-13-9z" color="#7a09ff"/><path d="M4366 1168l13 9 8-13-13-9z" color="#4659fb"/><path d="M4532 790l13 33 9-74-13-35z" color="#7dffb6"/><path d="M4298 1164l13 7 8-13-14-8z" color="#445cfb"/><path d="M4619 669l12 36 7 8-12-37z" color="#abf69b"/><path d="M4214 1196l13 6 8-15-13-6z" color="#5247fc"/><path d="M4332 1165l13 9 8-14-14-8z" color="#445cfb"/><path d="M4379 1177l14 9 7-13-13-9z" color="#4a53fb"/><path d="M4186 1222l13 5 7-15-13-6z" color="#5e35fe"/><path d="M4547 1280l13 10 8-11-14-8z" color="#7e03ff"/><path d="M4277 1171l13 7 8-14-14-7z" color="#4659fb"/><path d="M4235 1187l13 7 8-15-13-7z" color="#4e4dfc"/><path d="M4393 1186l13 10 8-13-14-10z" color="#4e4dfc"/><path d="M4256 1179l13 6 8-14-14-7z" color="#4a53fb"/><path d="M4136 1253l13 5 8-12-13-5z" color="#6e1cff"/><path d="M4567 784l12 33 9-62-13-36z" color="#7effb5"/><path d="M4204 766l13 50 8-74-14-58z" color="#86ffb0"/><path d="M4446 1227l13 10 8-13-13-10z" color="#622ffe"/><path d="M4459 1237l14 10 7-13-13-10z" color="#6826fe"/><path d="M4406 1196l13 10 8-13-13-10z" color="#5247fc"/><path d="M4433 1216l13 11 8-13-14-11z" color="#5c38fd"/><path d="M4157 1246l13 5 8-14-13-5z" color="#6a22fe"/><path d="M4419 1206l14 10 7-13-13-10z" color="#583efd"/><path d="M4473 1247l13 9 8-11-14-11z" color="#6c1fff"/><path d="M4345 1174l13 8 8-14-13-8z" color="#4856fb"/><path d="M4311 1171l13 8 8-14-13-7z" color="#4659fb"/><path d="M4206 1212l14 6 7-16-13-6z" color="#5a3bfd"/><path d="M4486 1256l13 9 8-11-13-9z" color="#7019ff"/><path d="M4178 1237l13 6 8-16-13-5z" color="#6629fe"/><path d="M4314 757l13 44 8-78-13-47z" color="#8cfead"/><path d="M4499 1265l14 9 7-10-13-10z" color="#7413ff"/><path d="M4358 1182l14 9 7-14-13-9z" color="#4c50fc"/><path d="M4290 1178l13 8 8-15-13-7z" color="#4856fb"/><path d="M4560 1290l14 4 7-7-13-8z" color="#8000ff"/><path d="M4227 1202l14 7 7-15-13-7z" color="#5444fd"/><path d="M4016 695l12-52 7-32-12 48z" color="#b4f295"/><path d="M4269 1185l13 8 8-15-13-7z" color="#4c50fc"/><path d="M4248 1194l14 6 7-15-13-6z" color="#504afc"/><path d="M4324 1179l14 8 7-13-13-9z" color="#4a53fb"/><path d="M4372 1191l13 9 8-14-14-9z" color="#504afc"/><path d="M4199 1227l13 6 8-15-14-6z" color="#6032fe"/><path d="M4513 1274l13 8 8-10-14-8z" color="#780dff"/><path d="M4451 771l13 36 8-81-13-40z" color="#88ffaf"/><path d="M4128 772l14 54 6-74-14-58z" color="#84ffb2"/><path d="M4385 1200l14 10 7-14-13-10z" color="#5444fd"/><path d="M4609 743l13 38 7-27-12-38z" color="#8cfead"/><path d="M4399 1210l13 10 7-14-13-10z" color="#583efd"/><path d="M4303 1186l14 7 7-14-13-8z" color="#4c50fc"/><path d="M4220 1218l13 7 8-16-14-7z" color="#5c38fd"/><path d="M4338 1187l13 9 7-14-13-8z" color="#4c50fc"/><path d="M4412 1220l13 10 8-14-14-10z" color="#5c38fd"/><path d="M4425 1230l14 9 7-12-13-11z" color="#622ffe"/><path d="M4170 1251l14 6 7-14-13-6z" color="#6c1fff"/><path d="M4149 1258l14 5 7-12-13-5z" color="#7019ff"/><path d="M4617 716l12 38 8-10-13-39z" color="#99fca6"/><path d="M4439 1239l13 10 7-12-13-10z" color="#6629fe"/><path d="M4526 1282l14 8 7-10-13-8z" color="#7c06ff"/><path d="M4282 1193l14 7 7-14-13-8z" color="#4e4dfc"/><path d="M4241 1209l13 7 8-16-14-6z" color="#5641fd"/><path d="M4452 1249l13 9 8-11-14-10z" color="#6c1fff"/><path d="M4262 1200l13 8 7-15-13-8z" color="#5247fc"/><path d="M4191 1243l14 5 7-15-13-6z" color="#6629fe"/><path d="M4351 1196l13 9 8-14-14-9z" color="#504afc"/><path d="M4465 1258l14 10 7-12-13-9z" color="#7019ff"/><path d="M4317 1193l13 9 8-15-14-8z" color="#4e4dfc"/><path d="M4212 1233l13 7 8-15-13-7z" color="#622ffe"/><path d="M4364 1205l14 9 7-14-13-9z" color="#5444fd"/><path d="M4479 1268l13 8 7-11-13-9z" color="#7413ff"/><path d="M4540 1290l13 7 7-7-13-10z" color="#8000ff"/><path d="M4296 1200l13 8 8-15-14-7z" color="#5247fc"/><path d="M4378 1214l13 10 8-14-14-10z" color="#5a3bfd"/><path d="M4233 1225l13 6 8-15-13-7z" color="#5e35fe"/><path d="M4330 1202l13 8 8-14-13-9z" color="#5247fc"/><path d="M4594 592l13 29 7 12-13-29z" color="#d4dd80"/><path d="M4275 1208l13 7 8-15-14-7z" color="#5641fd"/><path d="M4254 1216l13 7 8-15-13-8z" color="#5a3bfd"/><path d="M4391 1224l13 9 8-13-13-10z" color="#5e35fe"/><path d="M4492 1276l13 9 8-11-14-9z" color="#780dff"/><path d="M4404 1233l14 10 7-13-13-10z" color="#622ffe"/><path d="M4184 1257l13 5 8-14-14-5z" color="#6c1fff"/><path d="M4418 1243l13 9 8-13-14-9z" color="#6629fe"/><path d="M4163 1263l13 5 8-11-14-6z" color="#7019ff"/><path d="M4343 1210l14 9 7-14-13-9z" color="#5641fd"/><path d="M4309 1208l13 8 8-14-13-9z" color="#5641fd"/><path d="M4205 1248l13 6 7-14-13-7z" color="#6826fe"/><path d="M4431 1252l13 9 8-12-13-10z" color="#6c1fff"/><path d="M4225 1240l14 6 7-15-13-6z" color="#642cfe"/><path d="M4505 1285l14 7 7-10-13-8z" color="#7c06ff"/><path d="M4357 1219l13 9 8-14-14-9z" color="#5a3bfd"/><path d="M4288 1215l14 8 7-15-13-8z" color="#583efd"/><path d="M4588 755l13 35 8-47-13-36z" color="#8efeac"/><path d="M4246 1231l14 7 7-15-13-7z" color="#6032fe"/><path d="M4444 1261l14 9 7-12-13-9z" color="#7019ff"/><path d="M4267 1223l14 7 7-15-13-7z" color="#5c38fd"/><path d="M4322 1216l14 9 7-15-13-8z" color="#583efd"/><path d="M4370 1228l13 10 8-14-13-10z" color="#5e35fe"/><path d="M4485 763l13 36 8-81-12-37z" color="#8efeac"/><path d="M4458 1270l13 9 8-11-14-10z" color="#7413ff"/><path d="M4383 1238l14 9 7-14-13-9z" color="#642cfe"/><path d="M4302 1223l13 8 7-15-13-8z" color="#5c38fd"/><path d="M4336 1225l13 9 8-15-14-9z" color="#5c38fd"/><path d="M4519 1292l13 8 8-10-14-8z" color="#7e03ff"/><path d="M4197 1262l13 6 8-14-13-6z" color="#6e1cff"/><path d="M4397 1247l13 9 8-13-14-10z" color="#6826fe"/><path d="M4218 1254l13 6 8-14-14-6z" color="#6a22fe"/><path d="M4281 1230l13 8 8-15-14-8z" color="#5e35fe"/><path d="M4471 1279l13 8 8-11-13-8z" color="#780dff"/><path d="M4038 774l14 25 6-70-13-21z" color="#8bfeae"/><path d="M4239 1246l13 7 8-15-14-7z" color="#6629fe"/><path d="M4260 1238l13 7 8-15-14-7z" color="#622ffe"/><path d="M4280 740l13 47 8-78-14-52z" color="#9bfba5"/><path d="M4176 1268l13 6 8-12-13-5z" color="#7216ff"/><path d="M4023 659l12-48 8-27-12 44z" color="#c8e688"/><path d="M4349 1234l14 8 7-14-13-9z" color="#6032fe"/><path d="M4410 1256l13 9 8-13-13-9z" color="#6c1fff"/><path d="M4315 1231l13 8 8-14-14-9z" color="#5e35fe"/><path d="M4148 752l14 56 7-77-14-59z" color="#92fda9"/><path d="M4225 742l13 51 7-78-13-56z" color="#99fca6"/><path d="M4025 771l13 3 7-66-13 2z" color="#8efeac"/><path d="M4072 766l14 47 7-73-14-46z" color="#8cfead"/><path d="M4363 1242l13 9 7-13-13-10z" color="#642cfe"/><path d="M4423 1265l14 8 7-12-13-9z" color="#7019ff"/><path d="M4484 1287l14 8 7-10-13-9z" color="#7a09ff"/><path d="M4014 727l12-43 7-43-12 41z" color="#abf69b"/><path d="M4294 1238l13 8 8-15-13-8z" color="#622ffe"/><path d="M4600 612l13 30 7 10-13-31z" color="#cce385"/><path d="M4328 1239l14 9 7-14-13-9z" color="#622ffe"/><path d="M4532 1300l14 4 7-7-13-7z" color="#8000ff"/><path d="M4273 1245l13 8 8-15-13-8z" color="#642cfe"/><path d="M4376 1251l13 9 8-13-14-9z" color="#6826fe"/><path d="M4437 1273l13 9 8-12-14-9z" color="#7413ff"/><path d="M4252 1253l13 7 8-15-13-7z" color="#6826fe"/><path d="M4231 1260l13 7 8-14-13-7z" color="#6c1fff"/><path d="M4210 1268l14 6 7-14-13-6z" color="#7019ff"/><path d="M4612 670l12 35 7 0-12-36z" color="#b2f396"/><path d="M4498 1295l13 8 8-11-14-7z" color="#7e03ff"/><path d="M4307 1246l14 8 7-15-13-8z" color="#642cfe"/><path d="M4342 1248l13 8 8-14-14-8z" color="#6629fe"/><path d="M4389 1260l14 8 7-12-13-9z" color="#6c1fff"/><path d="M4189 1274l14 5 7-11-13-6z" color="#7216ff"/><path d="M4450 1282l14 8 7-11-13-9z" color="#780dff"/><path d="M4286 1253l14 7 7-14-13-8z" color="#6826fe"/><path d="M4519 755l13 35 9-76-13-35z" color="#94fda8"/><path d="M4403 1268l13 9 7-12-13-9z" color="#7019ff"/><path d="M4355 1256l13 8 8-13-13-9z" color="#6a22fe"/><path d="M4606 637l13 32 7 7-13-34z" color="#c2ea8c"/><path d="M4265 1260l14 6 7-13-13-8z" color="#6a22fe"/><path d="M4321 1254l13 7 8-13-14-9z" color="#6826fe"/><path d="M4464 1290l13 7 7-10-13-8z" color="#7a09ff"/><path d="M4244 1267l14 6 7-13-13-7z" color="#6e1cff"/><path d="M4511 1303l14 4 7-7-13-8z" color="#8000ff"/><path d="M4416 1277l13 8 8-12-14-8z" color="#7413ff"/><path d="M4224 1274l13 6 7-13-13-7z" color="#7216ff"/><path d="M4368 1264l14 9 7-13-13-9z" color="#6e1cff"/><path d="M4554 749l13 35 8-65-13-34z" color="#96fca7"/><path d="M4300 1260l13 7 8-13-14-8z" color="#6a22fe"/><path d="M4031 628l12-44 7-23-12 41z" color="#d9da7d"/><path d="M4334 1261l13 8 8-13-13-8z" color="#6c1fff"/><path d="M4203 1279l13 6 8-11-14-6z" color="#7413ff"/><path d="M4477 1297l13 9 8-11-14-8z" color="#7e03ff"/><path d="M4369 731l13 42 8-83-13-44z" color="#a2f9a0"/><path d="M4279 1266l13 8 8-14-14-7z" color="#6e1cff"/><path d="M4429 1285l14 8 7-11-13-9z" color="#780dff"/><path d="M4382 1273l13 8 8-13-14-8z" color="#7019ff"/><path d="M4562 530l13 22 7 12-13-23z" color="#f9bb66"/><path d="M4581 566l13 26 7 12-13-27z" color="#e6cd73"/><path d="M4403 734l13 40 9-84-13-42z" color="#a2f9a0"/><path d="M4258 1273l13 7 8-14-14-6z" color="#7019ff"/><path d="M4313 1267l13 8 8-14-13-7z" color="#6e1cff"/><path d="M4347 1269l14 8 7-13-13-8z" color="#6e1cff"/><path d="M4395 1281l13 8 8-12-13-9z" color="#7413ff"/><path d="M4237 1280l13 6 8-13-14-6z" color="#7413ff"/><path d="M4443 1293l13 7 8-10-14-8z" color="#7a09ff"/><path d="M4490 1306l14 4 7-7-13-8z" color="#8000ff"/><path d="M4292 1274l13 7 8-14-13-7z" color="#7019ff"/><path d="M4335 723l13 45 8-82-13-46z" color="#a6f89d"/><path d="M4361 1277l13 8 8-12-14-9z" color="#7216ff"/><path d="M4326 1275l14 7 7-13-13-8z" color="#7019ff"/><path d="M4216 1285l13 6 8-11-13-6z" color="#7610ff"/><path d="M4408 1289l14 7 7-11-13-8z" color="#780dff"/><path d="M4169 731l14 57 7-80-14-59z" color="#a0faa1"/><path d="M4271 1280l14 7 7-13-13-8z" color="#7216ff"/><path d="M4456 1300l14 9 7-12-13-7z" color="#7e03ff"/><path d="M4596 707l13 36 8-27-13-36z" color="#a6f89d"/><path d="M4374 1285l14 8 7-12-13-8z" color="#7610ff"/><path d="M4438 731l13 40 8-85-13-39z" color="#a4f89f"/><path d="M4604 680l13 36 7-11-12-35z" color="#b2f396"/><path d="M4250 1286l14 6 7-12-13-7z" color="#7610ff"/><path d="M4305 1281l14 7 7-13-13-8z" color="#7216ff"/><path d="M4340 1282l13 8 8-13-14-8z" color="#7413ff"/><path d="M4019 734l13-24 7-52-13 26z" color="#a8f79c"/><path d="M4422 1296l13 7 8-10-14-8z" color="#7a09ff"/><path d="M4470 1309l13 4 7-7-13-9z" color="#8000ff"/><path d="M4285 1287l13 6 7-12-13-7z" color="#7413ff"/><path d="M4093 740l14 52 7-76-14-51z" color="#9cfba4"/><path d="M4229 1291l14 6 7-11-13-6z" color="#780dff"/><path d="M4388 1293l13 7 7-11-13-8z" color="#780dff"/><path d="M4319 1288l13 7 8-13-14-7z" color="#7610ff"/><path d="M4353 1290l14 7 7-12-13-8z" color="#7610ff"/><path d="M4245 715l14 53 7-81-13-55z" color="#abf69b"/><path d="M4435 1303l14 9 7-12-13-7z" color="#7e03ff"/><path d="M4264 1292l13 7 8-12-14-7z" color="#780dff"/><path d="M4575 719l13 36 8-48-13-34z" color="#a6f89d"/><path d="M4549 509l13 21 7 11-13-21z" color="#ffac5c"/><path d="M4587 584l13 28 7 9-13-29z" color="#e0d377"/><path d="M4401 1300l13 7 8-11-14-7z" color="#7a09ff"/><path d="M4298 1293l13 7 8-12-14-7z" color="#780dff"/><path d="M4367 1297l13 7 8-11-14-8z" color="#780dff"/><path d="M4332 1295l14 6 7-11-13-8z" color="#780dff"/><path d="M4301 709l13 48 8-81-14-50z" color="#aef498"/><path d="M4449 1312l13 4 8-7-14-9z" color="#8000ff"/><path d="M4243 1297l13 6 8-11-14-6z" color="#780dff"/><path d="M4472 726l13 37 9-82-13-37z" color="#a8f79c"/><path d="M4021 682l12-41 7-36-12 38z" color="#c4e88a"/><path d="M4277 1299l13 6 8-12-13-6z" color="#7a09ff"/><path d="M4414 1307l14 8 7-12-13-7z" color="#7e03ff"/><path d="M4568 543l13 23 7 11-13-25z" color="#f6be68"/><path d="M4311 1300l14 6 7-11-13-7z" color="#7a09ff"/><path d="M4380 1304l13 7 8-11-13-7z" color="#7c06ff"/><path d="M4346 1301l13 7 8-11-14-7z" color="#7a09ff"/><path d="M4599 637l13 33 7-1-13-32z" color="#c8e688"/><path d="M4256 1303l13 6 8-10-13-7z" color="#7a09ff"/><path d="M4593 607l13 30 7 5-13-30z" color="#d9da7d"/><path d="M4428 1315l13 4 8-7-14-9z" color="#8000ff"/><path d="M4290 1305l14 6 7-11-13-7z" color="#7a09ff"/><path d="M4393 1311l14 7 7-11-13-7z" color="#7e03ff"/><path d="M4325 1306l13 6 8-11-14-6z" color="#7c06ff"/><path d="M4190 708l14 58 7-82-14-58z" color="#b0f397"/><path d="M4359 1308l13 6 8-10-13-7z" color="#7c06ff"/><path d="M4535 491l14 18 7 11-14-20z" color="#ff9d53"/><path d="M4506 718l13 37 9-76-13-35z" color="#aef498"/><path d="M4058 729l14 37 7-72-14-31z" color="#a8f79c"/><path d="M4269 1309l14 6 7-10-13-6z" color="#7c06ff"/><path d="M4541 714l13 35 8-64-13-34z" color="#aef498"/><path d="M4304 1311l13 6 8-11-14-6z" color="#7c06ff"/><path d="M4407 1318l13 4 8-7-14-8z" color="#8000ff"/><path d="M4338 1312l13 8 8-12-13-7z" color="#7e03ff"/><path d="M4114 716l14 56 6-78-14-54z" color="#acf59a"/><path d="M4372 1314l14 7 7-10-13-7z" color="#7e03ff"/><path d="M4283 1315l13 8 8-12-14-6z" color="#7e03ff"/><path d="M4317 1317l13 7 8-12-13-6z" color="#7e03ff"/><path d="M4351 1320l14 5 7-11-13-6z" color="#8000ff"/><path d="M4386 1321l13 5 8-8-14-7z" color="#8000ff"/><path d="M4574 559l13 25 7 8-13-26z" color="#f2c26b"/><path d="M4555 521l13 22 7 9-13-22z" color="#ffac5c"/><path d="M4583 673l13 34 8-27-13-33z" color="#beec8e"/><path d="M4028 643l12-38 8-30-13 36z" color="#dbd87b"/><path d="M4591 647l13 33 8-10-13-33z" color="#c8e688"/><path d="M4266 687l14 53 7-83-13-52z" color="#beec8e"/><path d="M4296 1323l13 4 8-10-13-6z" color="#8000ff"/><path d="M4330 1324l14 4 7-8-13-8z" color="#8000ff"/><path d="M4032 710l13-2 7-57-13 7z" color="#b9ef92"/><path d="M4390 690l13 44 9-86-14-41z" color="#beec8e"/><path d="M4365 1325l13 4 8-8-14-7z" color="#8000ff"/><path d="M4356 686l13 45 8-85-13-43z" color="#c0eb8d"/><path d="M4509 458l13 16 7 9-13-16z" color="#ff8444"/><path d="M4562 685l13 34 8-46-12-32z" color="#bced8f"/><path d="M4425 690l13 41 8-84-13-39z" color="#c0eb8d"/><path d="M4211 684l14 58 7-83-14-56z" color="#c0eb8d"/><path d="M4309 1327l14 4 7-7-13-7z" color="#8000ff"/><path d="M4026 684l13-26 7-43-13 26z" color="#c8e688"/><path d="M4580 579l13 28 7 5-13-28z" color="#ebca70"/><path d="M4045 708l13 21 7-66-13-12z" color="#b9ef92"/><path d="M4134 694l14 58 7-80-14-55z" color="#bbee91"/><path d="M4586 607l13 30 7 0-13-30z" color="#ded579"/><path d="M4322 676l13 47 8-83-14-45z" color="#c6e789"/><path d="M4542 501l13 20 7 9-13-21z" color="#ff9d53"/><path d="M4495 444l14 14 7 9-13-14z" color="#ff763d"/><path d="M4035 611l13-36 7-25-12 34z" color="#ecc86f"/><path d="M4428 396l14 7 7 7-13-8z" color="#ff532a"/><path d="M4459 686l13 40 9-82-14-36z" color="#c4e88a"/><path d="M4561 535l13 24 7 7-13-23z" color="#ffb05f"/><path d="M4079 694l14 46 7-75-14-38z" color="#beec8e"/><path d="M4528 679l13 35 8-63-13-32z" color="#c6e789"/><path d="M4494 681l12 37 9-74-13-34z" color="#c6e789"/><path d="M4043 584l12-34 8-21-13 32z" color="#fbb965"/><path d="M4528 483l14 18 7 8-14-18z" color="#ff8e4a"/><path d="M4050 561l13-32 7-19-12 31z" color="#ffae5e"/><path d="M4578 617l13 30 8-10-13-30z" color="#ded579"/><path d="M4155 672l14 59 7-82-14-54z" color="#cbe486"/><path d="M4571 641l12 32 8-26-13-30z" color="#d4dd80"/><path d="M4287 657l14 52 7-83-13-47z" color="#d2de81"/><path d="M4567 554l13 25 7 5-13-25z" color="#fcb763"/><path d="M4232 659l13 56 8-83-14-52z" color="#d2de81"/><path d="M4548 514l13 21 7 8-13-22z" color="#ffa055"/><path d="M4515 466l13 17 7 8-13-17z" color="#ff8143"/><path d="M4573 580l13 27 7 0-13-28z" color="#f0c46c"/><path d="M4033 641l13-26 7-36-13 26z" color="#e2d176"/><path d="M4549 651l13 34 9-44-13-31z" color="#d4dd80"/><path d="M4407 385l14 6 7 5-13-6z" color="#ff4121"/><path d="M4502 452l13 14 7 8-13-16z" color="#ff733b"/><path d="M4377 646l13 44 8-83-13-38z" color="#dcd67a"/><path d="M4421 391l13 7 8 5-14-7z" color="#ff4422"/><path d="M4100 665l14 51 6-76-14-42z" color="#d0e082"/><path d="M4039 658l13-7 7-49-13 13z" color="#dbd87b"/><path d="M4488 438l14 14 7 6-14-14z" color="#ff6835"/><path d="M4534 495l14 19 7 7-13-20z" color="#ff914c"/><path d="M4412 648l13 42 8-82-13-36z" color="#dcd67a"/><path d="M4554 531l13 23 7 5-13-24z" color="#ffa759"/><path d="M4176 649l14 59 7-82-14-53z" color="#d9da7d"/><path d="M4434 398l14 8 7 5-13-8z" color="#ff4a26"/><path d="M4343 640l13 46 8-83-14-40z" color="#e0d377"/><path d="M4475 426l13 12 7 6-13-12z" color="#ff5f30"/><path d="M4448 406l13 10 8 5-14-10z" color="#ff5029"/><path d="M4461 416l14 10 7 6-13-11z" color="#ff562c"/><path d="M4446 647l13 39 8-78-13-34z" color="#ded579"/><path d="M4065 663l14 31 7-67-14-21z" color="#d4dd80"/><path d="M4515 644l13 35 8-60-13-30z" color="#dcd67a"/><path d="M4565 588l13 29 8-10-13-27z" color="#f2c26b"/><path d="M4481 644l13 37 8-71-13-32z" color="#ded579"/><path d="M4253 632l13 55 8-82-14-48z" color="#e4cf74"/><path d="M4040 605l13-26 7-30-12 26z" color="#f6be68"/><path d="M4558 610l13 31 7-24-13-29z" color="#e8cb72"/><path d="M4560 554l13 26 7-1-13-25z" color="#ffb05f"/><path d="M4521 477l13 18 8 6-14-18z" color="#ff8143"/><path d="M4308 626l14 50 7-81-13-42z" color="#e8cb72"/><path d="M4052 651l13 12 7-57-13-4z" color="#ded579"/><path d="M4386 378l14 5 7 2-13-4z" color="#ff351b"/><path d="M4540 510l14 21 7 4-13-21z" color="#ff964f"/><path d="M4536 619l13 32 9-41-13-28z" color="#e8cb72"/><path d="M4508 461l13 16 7 6-13-17z" color="#ff733b"/><path d="M4120 640l14 54 7-77-14-45z" color="#e0d377"/><path d="M4048 575l12-26 8-25-13 26z" color="#ffac5c"/><path d="M4197 626l14 58 7-81-14-50z" color="#e8cb72"/><path d="M4400 383l13 5 8 3-14-6z" color="#ff351b"/><path d="M4352 372l13 2 8 1-14-2z" color="#ff2c16"/><path d="M4494 447l14 14 7 5-13-14z" color="#ff6835"/><path d="M4413 388l14 7 7 3-13-7z" color="#ff381c"/><path d="M4055 550l13-26 7-20-12 25z" color="#ff9b52"/><path d="M4546 531l14 23 7 0-13-23z" color="#ffa055"/><path d="M4552 562l13 26 8-8-13-26z" color="#ffb05f"/><path d="M4063 529l12-25 8-18-13 24z" color="#ff8e4a"/><path d="M4527 491l13 19 8 4-14-19z" color="#ff8646"/><path d="M4481 434l13 13 8 5-14-14z" color="#ff5c2f"/><path d="M4046 615l13-13 7-39-13 16z" color="#f4c069"/><path d="M4427 395l13 8 8 3-14-8z" color="#ff3e1f"/><path d="M4365 374l14 3 7 1-13-3z" color="#ff2c16"/><path d="M4467 422l14 12 7 4-13-12z" color="#ff532a"/><path d="M4440 403l14 9 7 4-13-10z" color="#ff4422"/><path d="M4545 582l13 28 7-22-13-26z" color="#fcb763"/><path d="M4274 605l13 52 8-78-14-44z" color="#f6be68"/><path d="M4454 412l13 10 8 4-14-10z" color="#ff4a26"/><path d="M4502 610l13 34 8-55-13-29z" color="#f2c26b"/><path d="M4331 372l13 1 8-1-14-1z" color="#ff2914"/><path d="M4296 367l14 3 7 0-13-1z" color="#ff2613"/><path d="M4398 607l14 41 8-76-14-34z" color="#f6be68"/><path d="M4364 603l13 43 8-77-13-35z" color="#f9bb66"/><path d="M4086 627l14 38 6-67-14-27z" color="#ecc86f"/><path d="M4433 608l13 39 8-73-13-32z" color="#f6be68"/><path d="M4467 608l14 36 8-66-13-30z" color="#f6be68"/><path d="M4141 617l14 55 7-77-14-45z" color="#f0c46c"/><path d="M4514 474l13 17 7 4-13-18z" color="#ff763d"/><path d="M4379 377l13 5 8 1-14-5z" color="#ff2c16"/><path d="M4218 603l14 56 7-79-14-47z" color="#f9bb66"/><path d="M4523 589l13 30 9-37-14-27z" color="#fcb763"/><path d="M4329 595l14 45 7-77-13-35z" color="#feb562"/><path d="M4533 510l13 21 8 0-14-21z" color="#ff8e4a"/><path d="M4310 370l13 3 8-1-14-2z" color="#ff2211"/><path d="M4344 373l14 2 7-1-13-2z" color="#ff2613"/><path d="M4539 538l13 24 8-8-14-23z" color="#ff9d53"/><path d="M4392 382l14 5 7 1-13-5z" color="#ff2f18"/><path d="M4500 458l14 16 7 3-13-16z" color="#ff6835"/><path d="M4053 579l13-16 7-32-13 18z" color="#ffa759"/><path d="M4219 371l14-3 7-1-13 3z" color="#ff1f10"/><path d="M4059 602l13 4 7-46-13 3z" color="#feb562"/><path d="M4406 387l13 7 8 1-14-7z" color="#ff2f18"/><path d="M4487 444l13 14 8 3-14-14z" color="#ff5c2f"/><path d="M4531 555l14 27 7-20-13-24z" color="#ffa256"/><path d="M4072 606l14 21 6-56-13-11z" color="#fbb965"/><path d="M4520 491l13 19 7 0-13-19z" color="#ff7e41"/><path d="M4358 375l13 3 8-1-14-3z" color="#ff2613"/><path d="M4177 386l13-7 8-2-13 7z" color="#ff2914"/><path d="M4323 373l14 1 7-1-13-1z" color="#ff2211"/><path d="M4295 579l13 47 8-73-14-38z" color="#ffac5c"/><path d="M4419 394l14 8 7 1-13-8z" color="#ff351b"/><path d="M4162 595l14 54 7-76-14-43z" color="#feb562"/><path d="M4473 432l14 12 7 3-13-13z" color="#ff5029"/><path d="M4127 424l13-13 8-7-13 13z" color="#ff4422"/><path d="M4289 367l13 3 8 0-14-3z" color="#ff1f10"/><path d="M4433 402l14 8 7 2-14-9z" color="#ff3b1e"/><path d="M4489 578l13 32 8-50-13-26z" color="#ffac5c"/><path d="M4460 420l13 12 8 2-14-12z" color="#ff4724"/><path d="M4239 580l14 52 7-75-14-43z" color="#ffac5c"/><path d="M4447 410l13 10 7 2-13-10z" color="#ff4121"/><path d="M4091 472l13-19 7-12-12 18z" color="#ff6232"/><path d="M4106 598l14 42 7-68-14-30z" color="#feb562"/><path d="M4526 516l13 22 7-7-13-21z" color="#ff8c49"/><path d="M4060 549l13-18 8-25-13 18z" color="#ff934d"/><path d="M4371 378l14 4 7 0-13-5z" color="#ff2613"/><path d="M4510 560l13 29 8-34-13-24z" color="#ffa256"/><path d="M4506 474l14 17 7 0-13-17z" color="#ff6d38"/><path d="M4454 574l13 34 9-60-14-27z" color="#ffa558"/><path d="M4083 486l13-18 8-15-13 19z" color="#ff6b37"/><path d="M4337 374l13 3 8-2-14-2z" color="#ff1f10"/><path d="M4302 370l14 4 7-1-13-3z" color="#ff1c0e"/><path d="M4420 572l13 36 8-66-13-28z" color="#ffa256"/><path d="M4385 569l13 38 8-69-13-29z" color="#ffa055"/><path d="M4068 524l13-18 7-21-13 19z" color="#ff8143"/><path d="M4075 504l13-19 8-17-13 18z" color="#ff733b"/><path d="M4385 382l13 6 8-1-14-5z" color="#ff2613"/><path d="M4267 366l14 2 8-1-14-1z" color="#ff190d"/><path d="M4350 563l14 40 8-69-14-30z" color="#ff9d53"/><path d="M4518 531l13 24 8-17-13-22z" color="#ff914c"/><path d="M4493 458l13 16 8 0-14-16z" color="#ff5f30"/><path d="M4183 573l14 53 7-73-14-42z" color="#ffa558"/><path d="M4169 390l13-7 8-4-13 7z" color="#ff2613"/><path d="M4512 496l14 20 7-6-13-19z" color="#ff793e"/><path d="M4398 388l14 6 7 0-13-7z" color="#ff2914"/><path d="M4190 379l14-4 8-3-14 5z" color="#ff1f10"/><path d="M4316 374l13 4 8-4-14-1z" color="#ff1c0e"/><path d="M4350 377l14 3 7-2-13-3z" color="#ff1f10"/><path d="M4316 553l13 42 8-67-13-30z" color="#ff964f"/><path d="M4066 563l13-3 7-37-13 8z" color="#ff9850"/><path d="M4260 557l14 48 7-70-13-37z" color="#ff9850"/><path d="M4480 444l13 14 7 0-13-14z" color="#ff532a"/><path d="M4412 394l13 8 8 0-14-8z" color="#ff2c16"/><path d="M4281 368l13 4 8-2-13-3z" color="#ff160b"/><path d="M4246 367l14 1 7-2-13 0z" color="#ff160b"/><path d="M4476 548l13 30 8-44-13-24z" color="#ff934d"/><path d="M4466 432l14 12 7 0-14-12z" color="#ff4a26"/><path d="M4127 572l14 45 7-67-14-32z" color="#ffa256"/><path d="M4425 402l14 9 8-1-14-8z" color="#ff3219"/><path d="M4497 534l13 26 8-29-13-23z" color="#ff8c49"/><path d="M4453 421l13 11 7 0-13-12z" color="#ff4121"/><path d="M4111 441l14-13 7-10-13 14z" color="#ff4724"/><path d="M4439 411l14 10 7-1-13-10z" color="#ff381c"/><path d="M4364 380l13 5 8-3-14-4z" color="#ff1f10"/><path d="M4140 411l14-10 7-6-13 9z" color="#ff3219"/><path d="M4092 571l14 27 7-56-13-16z" color="#ff9d53"/><path d="M4499 478l13 18 8-5-14-17z" color="#ff6b37"/><path d="M4505 508l13 23 8-15-14-20z" color="#ff7e41"/><path d="M4329 378l14 2 7-3-13-3z" color="#ff1c0e"/><path d="M4225 370l13-1 8-2-13 1z" color="#ff160b"/><path d="M4204 553l14 50 7-70-14-38z" color="#ff934d"/><path d="M4294 372l14 4 8-2-14-4z" color="#ff160b"/><path d="M4441 542l13 32 8-53-13-24z" color="#ff8c49"/><path d="M4079 560l13 11 8-45-14-3z" color="#ff964f"/><path d="M4377 385l14 5 7-2-13-6z" color="#ff1f10"/><path d="M4260 368l13 2 8-2-14-2z" color="#ff1309"/><path d="M4161 395l14-7 7-5-13 7z" color="#ff2613"/><path d="M4204 375l13-2 8-3-13 2z" color="#ff160b"/><path d="M4104 453l13-13 8-12-14 13z" color="#ff4d27"/><path d="M4406 538l14 34 8-58-14-25z" color="#ff8947"/><path d="M4073 531l13-8 8-28-13 11z" color="#ff8143"/><path d="M4486 462l13 16 7-4-13-16z" color="#ff5c2f"/><path d="M4281 535l14 44 7-64-13-32z" color="#ff8646"/><path d="M4182 383l14-4 8-4-14 4z" color="#ff1c0e"/><path d="M4372 534l13 35 8-60-13-25z" color="#ff8646"/><path d="M4343 380l13 4 8-4-14-3z" color="#ff1c0e"/><path d="M4308 376l13 6 8-4-13-4z" color="#ff190d"/><path d="M4391 390l13 7 8-3-14-6z" color="#ff2211"/><path d="M4491 488l14 20 7-12-13-18z" color="#ff6d38"/><path d="M4148 550l14 45 7-65-14-32z" color="#ff914c"/><path d="M4132 418l14-9 8-8-14 10z" color="#ff3219"/><path d="M4472 447l14 15 7-4-13-14z" color="#ff5029"/><path d="M4484 510l13 24 8-26-14-20z" color="#ff793e"/><path d="M4337 528l13 35 8-59-13-25z" color="#ff8143"/><path d="M4096 468l13-14 8-14-13 13z" color="#ff532a"/><path d="M4462 521l14 27 8-38-14-21z" color="#ff7e41"/><path d="M4238 369l14 2 8-3-14-1z" color="#ff1008"/><path d="M4273 370l14 4 7-2-13-4z" color="#ff1309"/><path d="M4404 397l14 7 7-2-13-8z" color="#ff2914"/><path d="M4081 506l13-11 7-23-13 13z" color="#ff6d38"/><path d="M4225 533l14 47 7-66-13-34z" color="#ff8444"/><path d="M4088 485l13-13 8-18-13 14z" color="#ff5f30"/><path d="M4459 434l13 13 8-3-14-12z" color="#ff4422"/><path d="M4356 384l14 4 7-3-13-5z" color="#ff1c0e"/><path d="M4418 404l14 9 7-2-14-9z" color="#ff2c16"/><path d="M4321 382l14 3 8-5-14-2z" color="#ff190d"/><path d="M4445 423l14 11 7-2-13-11z" color="#ff3b1e"/><path d="M4432 413l13 10 8-2-14-10z" color="#ff3219"/><path d="M4217 373l14 0 7-4-13 1z" color="#ff1008"/><path d="M4478 471l13 17 8-10-13-16z" color="#ff5c2f"/><path d="M4302 515l14 38 8-55-14-28z" color="#ff763d"/><path d="M4154 401l13-7 8-6-14 7z" color="#ff2211"/><path d="M4113 542l14 30 7-54-13-19z" color="#ff8646"/><path d="M4287 374l13 5 8-3-14-4z" color="#ff1309"/><path d="M4428 514l13 28 8-45-13-21z" color="#ff763d"/><path d="M4370 388l13 6 8-4-14-5z" color="#ff1c0e"/><path d="M4125 428l13-10 8-9-14 9z" color="#ff351b"/><path d="M4252 371l13 3 8-4-13-2z" color="#ff1008"/><path d="M4196 379l13-2 8-4-13 2z" color="#ff1309"/><path d="M4175 388l13-4 8-5-14 4z" color="#ff190d"/><path d="M4470 489l14 21 7-22-13-17z" color="#ff6835"/><path d="M4086 523l14 3 7-34-13 3z" color="#ff763d"/><path d="M4169 530l14 43 7-62-14-31z" color="#ff7e41"/><path d="M4335 385l13 4 8-5-13-4z" color="#ff190d"/><path d="M4393 509l13 29 8-49-13-21z" color="#ff703a"/><path d="M4300 379l14 6 7-3-13-6z" color="#ff160b"/><path d="M4465 455l13 16 8-9-14-15z" color="#ff4d27"/><path d="M4246 514l14 43 8-59-14-31z" color="#ff763d"/><path d="M4383 394l14 7 7-4-13-7z" color="#ff1f10"/><path d="M4449 497l13 24 8-32-13-19z" color="#ff6b37"/><path d="M4358 504l14 30 8-50-14-21z" color="#ff6b37"/><path d="M4100 526l13 16 8-43-14-7z" color="#ff793e"/><path d="M4397 401l13 8 8-5-14-7z" color="#ff2613"/><path d="M4231 373l13 2 8-4-14-2z" color="#ff0d06"/><path d="M4451 441l14 14 7-8-13-13z" color="#ff4422"/><path d="M4265 374l14 4 8-4-14-4z" color="#ff1008"/><path d="M4117 440l13-9 8-13-13 10z" color="#ff3b1e"/><path d="M4348 389l14 5 8-6-14-4z" color="#ff190d"/><path d="M4314 385l13 6 8-6-14-3z" color="#ff160b"/><path d="M4324 498l13 30 8-49-14-21z" color="#ff6533"/><path d="M4146 409l13-7 8-8-13 7z" color="#ff2613"/><path d="M4410 409l14 9 8-5-14-9z" color="#ff2914"/><path d="M4457 470l13 19 8-18-13-16z" color="#ff562c"/><path d="M4438 429l13 12 8-7-14-11z" color="#ff381c"/><path d="M4424 418l14 11 7-6-13-10z" color="#ff2f18"/><path d="M4094 495l13-3 8-26-14 6z" color="#ff5f30"/><path d="M4414 489l14 25 8-38-14-18z" color="#ff5f30"/><path d="M4268 498l13 37 8-52-14-27z" color="#ff6533"/><path d="M4190 511l14 42 7-58-13-30z" color="#ff703a"/><path d="M4209 377l14 0 8-4-14 0z" color="#ff0d06"/><path d="M4134 518l14 32 7-52-13-21z" color="#ff733b"/><path d="M4109 454l13-8 8-15-13 9z" color="#ff4422"/><path d="M4279 378l13 6 8-5-13-5z" color="#ff1008"/><path d="M4362 394l14 6 7-6-13-6z" color="#ff1c0e"/><path d="M4167 394l13-3 8-7-13 4z" color="#ff190d"/><path d="M4436 476l13 21 8-27-14-16z" color="#ff562c"/><path d="M4101 472l14-6 7-20-13 8z" color="#ff5029"/><path d="M4188 384l13-1 8-6-13 2z" color="#ff1309"/><path d="M4327 391l14 5 7-7-13-4z" color="#ff190d"/><path d="M4443 454l14 16 8-15-14-14z" color="#ff4724"/><path d="M4244 375l14 3 7-4-13-3z" color="#ff0d06"/><path d="M4380 484l13 25 8-41-14-18z" color="#ff592d"/><path d="M4376 400l13 8 8-7-14-7z" color="#ff1f10"/><path d="M4292 384l14 7 8-6-14-6z" color="#ff1309"/><path d="M4289 483l13 32 8-45-14-23z" color="#ff592d"/><path d="M4138 418l13-5 8-11-13 7z" color="#ff2914"/><path d="M4345 479l13 25 8-41-13-18z" color="#ff562c"/><path d="M4430 439l13 15 8-13-13-12z" color="#ff3b1e"/><path d="M4389 408l14 9 7-8-13-8z" color="#ff2211"/><path d="M4341 396l13 6 8-8-14-5z" color="#ff190d"/><path d="M4211 495l14 38 8-53-14-27z" color="#ff6232"/><path d="M4416 427l14 12 8-10-14-11z" color="#ff3219"/><path d="M4403 417l13 10 8-9-14-9z" color="#ff2914"/><path d="M4422 458l14 18 7-22-13-15z" color="#ff4724"/><path d="M4306 391l14 8 7-8-13-6z" color="#ff160b"/><path d="M4401 468l13 21 8-31-13-15z" color="#ff4d27"/><path d="M4223 377l13 3 8-5-13-2z" color="#ff0905"/><path d="M4107 492l14 7 7-32-13-1z" color="#ff5c2f"/><path d="M4258 378l13 5 8-5-14-4z" color="#ff0d06"/><path d="M4310 470l14 28 7-40-13-18z" color="#ff5029"/><path d="M4121 499l13 19 8-41-14-10z" color="#ff6232"/><path d="M4155 498l14 32 7-50-13-20z" color="#ff6232"/><path d="M4354 402l14 8 8-10-14-6z" color="#ff1c0e"/><path d="M4159 402l13-3 8-8-13 3z" color="#ff190d"/><path d="M4320 399l13 7 8-10-14-5z" color="#ff190d"/><path d="M4201 383l14 1 8-7-14 0z" color="#ff0d06"/><path d="M4366 463l14 21 7-34-13-14z" color="#ff4724"/><path d="M4130 431l13-5 8-13-13 5z" color="#ff2f18"/><path d="M4409 443l13 15 8-19-14-12z" color="#ff3b1e"/><path d="M4233 480l13 34 8-47-14-25z" color="#ff532a"/><path d="M4180 391l14-1 7-7-13 1z" color="#ff1309"/><path d="M4271 383l14 7 7-6-13-6z" color="#ff1008"/><path d="M4368 410l14 9 7-11-13-8z" color="#ff2211"/><path d="M4331 458l14 21 8-34-14-14z" color="#ff4422"/><path d="M4387 450l14 18 8-25-14-13z" color="#ff3e1f"/><path d="M4395 430l14 13 7-16-13-10z" color="#ff2f18"/><path d="M4382 419l13 11 8-13-14-9z" color="#ff2914"/><path d="M4115 466l13 1 8-23-14 2z" color="#ff4724"/><path d="M4236 380l14 4 8-6-14-3z" color="#ff0905"/><path d="M4333 406l14 8 7-12-13-6z" color="#ff1c0e"/><path d="M4122 446l14-2 7-18-13 5z" color="#ff381c"/><path d="M4285 390l13 9 8-8-14-7z" color="#ff1309"/><path d="M4254 467l14 31 7-42-13-22z" color="#ff4a26"/><path d="M4353 445l13 18 8-27-14-12z" color="#ff381c"/><path d="M4374 436l13 14 8-20-13-11z" color="#ff3219"/><path d="M4347 414l13 10 8-14-14-8z" color="#ff2211"/><path d="M4298 399l14 10 8-10-14-8z" color="#ff190d"/><path d="M4176 480l14 31 8-46-14-20z" color="#ff532a"/><path d="M4360 424l14 12 8-17-14-9z" color="#ff2914"/><path d="M4312 409l13 11 8-14-13-7z" color="#ff1f10"/><path d="M4318 440l13 18 8-27-14-11z" color="#ff351b"/><path d="M4275 456l14 27 7-36-13-19z" color="#ff4121"/><path d="M4151 413l14-2 7-12-13 3z" color="#ff1f10"/><path d="M4296 447l14 23 8-30-14-16z" color="#ff3b1e"/><path d="M4215 384l13 3 8-7-13-3z" color="#ff0905"/><path d="M4339 431l14 14 7-21-13-10z" color="#ff2f18"/><path d="M4325 420l14 11 8-17-14-8z" color="#ff2613"/><path d="M4250 384l13 7 8-8-13-5z" color="#ff0d06"/><path d="M4142 477l13 21 8-38-14-12z" color="#ff4d27"/><path d="M4128 467l14 10 7-29-13-4z" color="#ff4422"/><path d="M4172 399l14 1 8-10-14 1z" color="#ff1309"/><path d="M4194 390l13 2 8-8-14-1z" color="#ff0d06"/><path d="M4304 424l14 16 7-20-13-11z" color="#ff2914"/><path d="M4263 391l14 8 8-9-14-7z" color="#ff1008"/><path d="M4198 465l13 30 8-42-14-20z" color="#ff4422"/><path d="M4143 426l14 1 8-16-14 2z" color="#ff2613"/><path d="M4291 410l13 14 8-15-14-10z" color="#ff1c0e"/><path d="M4277 399l14 11 7-11-13-9z" color="#ff160b"/><path d="M4228 387l14 6 8-9-14-4z" color="#ff0905"/><path d="M4136 444l13 4 8-21-14-1z" color="#ff3219"/><path d="M4283 428l13 19 8-23-13-14z" color="#ff2914"/><path d="M4219 453l14 27 7-38-13-18z" color="#ff3b1e"/><path d="M4163 460l13 20 8-35-14-13z" color="#ff3e1f"/><path d="M4262 434l13 22 8-28-14-15z" color="#ff2c16"/><path d="M4240 442l14 25 8-33-14-16z" color="#ff3219"/><path d="M4165 411l13 2 8-13-14-1z" color="#ff190d"/><path d="M4207 392l14 5 7-10-13-3z" color="#ff0d06"/><path d="M4242 393l14 9 7-11-13-7z" color="#ff0d06"/><path d="M4269 413l14 15 8-18-14-11z" color="#ff1c0e"/><path d="M4149 448l14 12 7-28-13-5z" color="#ff351b"/><path d="M4186 400l13 4 8-12-13-2z" color="#ff1008"/><path d="M4256 402l13 11 8-14-14-8z" color="#ff1309"/><path d="M4157 427l13 5 8-19-13-2z" color="#ff2211"/><path d="M4184 445l14 20 7-32-13-12z" color="#ff3219"/><path d="M4248 418l14 16 7-21-13-11z" color="#ff1f10"/><path d="M4221 397l13 9 8-13-14-6z" color="#ff1008"/><path d="M4234 406l14 12 8-16-14-9z" color="#ff160b"/><path d="M4205 433l14 20 8-29-14-12z" color="#ff2914"/><path d="M4227 424l13 18 8-24-14-12z" color="#ff2211"/><path d="M4170 432l14 13 8-24-14-8z" color="#ff2914"/><path d="M4178 413l14 8 7-17-13-4z" color="#ff190d"/><path d="M4199 404l14 8 8-15-14-5z" color="#ff1309"/><path d="M4213 412l14 12 7-18-13-9z" color="#ff190d"/><path d="M4192 421l13 12 8-21-14-8z" color="#ff1f10"/></g>
<path d="M360.7 116.6L451.1 144.3M451.1 144.3L499.3 96.9M499.3 96.9L503.4 29.1M367.3 117.3L364.9 119.4M384.4 122.6L382 124.7M401.7 127.9L399.3 130M419.3 133.3L417 135.4M437.2 138.7L434.9 140.9M452.6 140.5L456.7 141.8M462.9 130.4L467 131.6M472.9 120.5L477 121.7M482.7 111L486.7 112.1M492.2 101.6L496.1 102.8M497.6 95.1L501.5 96.2M498.2 85.8L502.1 86.9M498.7 76.3L502.7 77.4M499.3 66.7L503.3 67.8M499.9 56.9L503.9 58M500.5 46.9L504.6 48M501.1 36.8L505.2 37.8" fill="none" stroke="#2a2a2a" stroke-width="0.6"/>
<text x="361.2" y="132.1" font-size="5.0" text-anchor="middle" font-family="DejaVu Sans, Liberation Sans, sans-serif" fill="#2a2a2a" stroke="#2a2a2a" stroke-width="0.22">0</text>
<text x="378.3" y="137.3" font-size="5.0" text-anchor="middle" font-family="DejaVu Sans, Liberation Sans, sans-serif" fill="#2a2a2a" stroke="#2a2a2a" stroke-width="0.22">20</text>
<text x="395.7" y="142.6" font-size="5.0" text-anchor="middle" font-family="DejaVu Sans, Liberation Sans, sans-serif" fill="#2a2a2a" stroke="#2a2a2a" stroke-width="0.22">40</text>
<text x="413.3" y="148" font-size="5.0" text-anchor="middle" font-family="DejaVu Sans, Liberation Sans, sans-serif" fill="#2a2a2a" stroke="#2a2a2a" stroke-width="0.22">60</text>
<text x="431.2" y="153.5" font-size="5.0" text-anchor="middle" font-family="DejaVu Sans, Liberation Sans, sans-serif" fill="#2a2a2a" stroke="#2a2a2a" stroke-width="0.22">80</text>
<text x="462.3" y="155.1" font-size="5.0" text-anchor="middle" font-family="DejaVu Sans, Liberation Sans, sans-serif" fill="#2a2a2a" stroke="#2a2a2a" stroke-width="0.22">0</text>
<text x="472.4" y="144.1" font-size="5.0" text-anchor="middle" font-family="DejaVu Sans, Liberation Sans, sans-serif" fill="#2a2a2a" stroke="#2a2a2a" stroke-width="0.22">20</text>
<text x="482.1" y="133.3" font-size="5.0" text-anchor="middle" font-family="DejaVu Sans, Liberation Sans, sans-serif" fill="#2a2a2a" stroke="#2a2a2a" stroke-width="0.22">40</text>
<text x="491.6" y="122.8" font-size="5.0" text-anchor="middle" font-family="DejaVu Sans, Liberation Sans, sans-serif" fill="#2a2a2a" stroke="#2a2a2a" stroke-width="0.22">60</text>
<text x="500.8" y="112.6" font-size="5.0" text-anchor="middle" font-family="DejaVu Sans, Liberation Sans, sans-serif" fill="#2a2a2a" stroke="#2a2a2a" stroke-width="0.22">80</text>
<text x="510" y="97.5" font-size="5.0" text-anchor="middle" font-family="DejaVu Sans, Liberation Sans, sans-serif" fill="#2a2a2a" stroke="#2a2a2a" stroke-width="0.22">0</text>
<text x="510.6" y="88.2" font-size="5.0" text-anchor="middle" font-family="DejaVu Sans, Liberation Sans, sans-serif" fill="#2a2a2a" stroke="#2a2a2a" stroke-width="0.22">10</text>
<text x="511.2" y="78.7" font-size="5.0" text-anchor="middle" font-family="DejaVu Sans, Liberation Sans, sans-serif" fill="#2a2a2a" stroke="#2a2a2a" stroke-width="0.22">20</text>
<text x="511.8" y="69.1" font-size="5.0" text-anchor="middle" font-family="DejaVu Sans, Liberation Sans, sans-serif" fill="#2a2a2a" stroke="#2a2a2a" stroke-width="0.22">30</text>
<text x="512.4" y="59.3" font-size="5.0" text-anchor="middle" font-family="DejaVu Sans, Liberation Sans, sans-serif" fill="#2a2a2a" stroke="#2a2a2a" stroke-width="0.22">40</text>
<text x="513" y="49.3" font-size="5.0" text-anchor="middle" font-family="DejaVu Sans, Liberation Sans, sans-serif" fill="#2a2a2a" stroke="#2a2a2a" stroke-width="0.22">50</text>
<text x="513.6" y="39.1" font-size="5.0" text-anchor="middle" font-family="DejaVu Sans, Liberation Sans, sans-serif" fill="#2a2a2a" stroke="#2a2a2a" stroke-width="0.22">60</text>
<linearGradient id="cb5230" x1="0" y1="0" x2="0" y2="1"><stop offset="0%" stop-color="#ff0000"/><stop offset="4.2%" stop-color="#ff1f10"/><stop offset="8.3%" stop-color="#ff4121"/><stop offset="12.5%" stop-color="#ff5f30"/><stop offset="16.7%" stop-color="#ff7e41"/><stop offset="20.8%" stop-color="#ff9b52"/><stop offset="25%" stop-color="#ffb360"/><stop offset="29.2%" stop-color="#ebca70"/><stop offset="33.3%" stop-color="#d4dd80"/><stop offset="37.5%" stop-color="#c0eb8d"/><stop offset="41.7%" stop-color="#abf69b"/><stop offset="45.8%" stop-color="#94fda8"/><stop offset="50%" stop-color="#80ffb4"/><stop offset="54.2%" stop-color="#6afdc0"/><stop offset="58.3%" stop-color="#54f6cb"/><stop offset="62.5%" stop-color="#40ecd4"/><stop offset="66.7%" stop-color="#2adddd"/><stop offset="70.8%" stop-color="#14cae5"/><stop offset="75%" stop-color="#00b5eb"/><stop offset="79.2%" stop-color="#169bf2"/><stop offset="83.3%" stop-color="#2c7ef7"/><stop offset="87.5%" stop-color="#4062fa"/><stop offset="91.7%" stop-color="#5641fd"/><stop offset="95.8%" stop-color="#6c1fff"/><stop offset="100%" stop-color="#8000ff"/></linearGradient>
<rect x="520.6" y="24.1" width="10.2" height="100.5" fill="url(#cb5230)" stroke="#2a2a2a" stroke-width="0.4"/>
<text x="534.7" y="126.5" font-size="5.0" text-anchor="start" font-family="DejaVu Sans, Liberation Sans, sans-serif" fill="#2a2a2a" stroke="#2a2a2a" stroke-width="0.22">0</text>
<text x="534.7" y="111.4" font-size="5.0" text-anchor="start" font-family="DejaVu Sans, Liberation Sans, sans-serif" fill="#2a2a2a" stroke="#2a2a2a" stroke-width="0.22">10</text>
<text x="534.7" y="96.3" font-size="5.0" text-anchor="start" font-family="DejaVu Sans, Liberation Sans, sans-serif" fill="#2a2a2a" stroke="#2a2a2a" stroke-width="0.22">20</text>
<text x="534.7" y="81.2" font-size="5.0" text-anchor="start" font-family="DejaVu Sans, Liberation Sans, sans-serif" fill="#2a2a2a" stroke="#2a2a2a" stroke-width="0.22">30</text>
<text x="534.7" y="66" font-size="5.0" text-anchor="start" font-family="DejaVu Sans, Liberation Sans, sans-serif" fill="#2a2a2a" stroke="#2a2a2a" stroke-width="0.22">40</text>
<text x="534.7" y="50.9" font-size="5.0" text-anchor="start" font-family="DejaVu Sans, Liberation Sans, sans-serif" fill="#2a2a2a" stroke="#2a2a2a" stroke-width="0.22">50</text>
<text x="534.7" y="35.8" font-size="5.0" text-anchor="start" font-family="DejaVu Sans, Liberation Sans, sans-serif" fill="#2a2a2a" stroke="#2a2a2a" stroke-width="0.22">60</text>
<path d="M530.8 124.6h1.6M530.8 109.5h1.6M530.8 94.4h1.6M530.8 79.3h1.6M530.8 64.1h1.6M530.8 49h1.6M530.8 33.9h1.6" stroke="#2a2a2a" stroke-width="0.45" fill="none"/>
</g>
<g id="plot-d">
<path d="M156.2 292.6L208.4 248.6L207.3 182.1L151.8 223.9Z" fill="#f8f8f8"/>
<path d="M208.4 248.6L294.8 272.9L298.9 205.1L207.3 182.1Z" fill="#f1f1f1"/>
<path d="M156.2 292.6L246.6 320.3L294.8 272.9L208.4 248.6Z" fill="#f4f4f4"/>
<path d="M161.7 294.3L213.6 250.1L212.9 183.5M178.8 299.5L230 254.7L230.2 187.8M196.2 304.8L246.6 259.4L247.8 192.2M213.8 310.2L263.4 264.1L265.6 196.7M231.7 315.7L280.5 268.9L283.8 201.3M249.9 317.1L159.7 289.6L155.6 221.1M260.2 306.9L170.9 280.2L167.5 212.1M270.2 297.1L181.8 271.1L179 203.4M280 287.5L192.3 262.2L190.3 194.9M289.4 278.1L202.6 253.5L201.2 186.7M156.2 291.7L208.4 247.8L294.8 272M155.4 279.5L208.2 236L295.5 260M154.6 267.1L208 223.9L296.3 247.7M153.8 254.4L207.8 211.5L297.1 235.1M152.9 241.3L207.6 198.9L297.9 222.3M152.1 228L207.4 186L298.7 209.1" fill="none" stroke="#b9b9b9" stroke-width="0.55"/>
<path d="M165.2 290.5L244 314.5L286.3 273.3L210.6 251.9Z" fill="#8000ff"/>
<g transform="scale(.1)" fill="currentColor" stroke="currentColor" stroke-width="4" stroke-linejoin="round"><path d="M2381 2644l15-536-6 546-9-15z" color="#3ae8d6"/><path d="M1959 2802l10-24 0 12-10 17z" color="#7a09ff"/><path d="M1992 2722l-4-590 13 576-9 19z" color="#6dfdbf"/><path d="M1959 2807l10-17-1-11-9 33z" color="#780dff"/><path d="M1959 2812l9-33 0 29-9 9z" color="#7a09ff"/><path d="M1959 2817l9-9 0 9-9 5z" color="#7e03ff"/><path d="M1968 2808l10 1 0 2-10 6z" color="#7a09ff"/><path d="M1959 2822l9-5 0-3-10 13z" color="#7e03ff"/><path d="M2562 2797l9 25 0 6-9-24z" color="#7413ff"/><path d="M1958 2827l10-13 0 11-10 8z" color="#7e03ff"/><path d="M2562 2804l9 24 1 5-10-15z" color="#7610ff"/><path d="M1958 2833l10-8 0 13-10 0z" color="#8000ff"/><path d="M2562 2818l10 15 0 5-10 0z" color="#7c06ff"/><path d="M1968 2814l10 6-1-11-9 16z" color="#7610ff"/><path d="M1968 2825l9-16 0 21-9 8z" color="#7a09ff"/><path d="M1968 2838l9-8 0 5-9 8z" color="#7e03ff"/><path d="M1968 2843l9-8 0 8-10 5z" color="#7e03ff"/><path d="M2092 2077l11 54 7 528-10-14z" color="#feb562"/><path d="M1967 2848l10-5 0 10-10 0z" color="#8000ff"/><path d="M2529 2744l25-600-14 579-10 18z" color="#72febb"/><path d="M1977 2835l10 1-1-18-9 25z" color="#780dff"/><path d="M2082 2070l10 7 8 568-9 20z" color="#70febc"/><path d="M1977 2843l9-25 1 27-10 8z" color="#780dff"/><path d="M1977 2853l10-8 0 11-10 2z" color="#8000ff"/><path d="M2372 2656l15-536 0 17-15 550z" color="#2686f5"/><path d="M1977 2858l10-2-1-12-9 19z" color="#7e03ff"/><path d="M1986 2179l23 556 0 1-9 28z" color="#f6be68"/><path d="M1977 2863l9-19 0 25-10 0z" color="#7e03ff"/><path d="M2498 2695l22-543 1-43-22 575z" color="#ffb05f"/><path d="M2499 2684l22-575-2 95-20 491z" color="#96fca7"/><path d="M2525 2848l9 31 0 5-10 0z" color="#7610ff"/><path d="M1960 2797l-6-577 15 558-10 24z" color="#b9ef92"/><path d="M2006 2884l9-20 0 23-10 2z" color="#7e03ff"/><path d="M2005 2889l10-2 0 7-10 0z" color="#8000ff"/><path d="M2285 2119l9 527 1-546-10-48z" color="#99fca6"/><path d="M2015 2864l10 3 0-2-10 22z" color="#7413ff"/><path d="M2015 2887l10-22 0 21-10 8z" color="#7a09ff"/><path d="M2015 2894l10-8 0 14-10 0z" color="#8000ff"/><path d="M2275 2068l10 51 0-67-10 600z" color="#70febc"/><path d="M2366 2128l5 525 6-599-11 45z" color="#99fca6"/><path d="M2333 2626l13-515 0-34-10 44z" color="#f4c069"/><path d="M1968 2779l-4-517 14 547-10-1z" color="#abf69b"/><path d="M2295 2076l10 43 0 0-11 543z" color="#14cae5"/><path d="M2577 2230l-6 582 0 5-9-23z" color="#42edd3"/><path d="M2495 2878l10 22 0 5-10 0z" color="#7a09ff"/><path d="M1998 2117l11 42 12 568-10-17z" color="#4df3ce"/><path d="M2184 2060l10 38 3 556-13-581z" color="#48f1d0"/><path d="M2346 2077l10 77 0-87-14 569z" color="#218cf4"/><path d="M2326 2046l10 75-3 511-7-508z" color="#9cfba4"/><path d="M1999 2218l10 3 11 500-10 9z" color="#a0faa1"/><path d="M2511 2130l-2 562 0 10 2-560z" color="#fcb763"/><path d="M2275 2652l10-600 0-3-10 52z" color="#74feba"/><path d="M2095 2862l10 7 0 1-10 4z" color="#6826fe"/><path d="M2094 2874l11 9 0 18-10 8z" color="#7216ff"/><path d="M2085 2889l9-15 1 35-11-23z" color="#7216ff"/><path d="M2095 2874l10-4 0 13-11-9z" color="#6a22fe"/><path d="M2054 2915l10-11 0 17-10 0z" color="#8000ff"/><path d="M2445 2906l10-12 0 15-10-13z" color="#780dff"/><path d="M2425 2870l10 23 0 2-10-8z" color="#6e1cff"/><path d="M2455 2919l10 2 1 5-11 0z" color="#8000ff"/><path d="M2445 2896l10 13 0 10-9-10z" color="#780dff"/><path d="M2075 2902l9-16 0-3-10 22z" color="#7413ff"/><path d="M2356 2067l10 24 0 4-14 543z" color="#48f1d0"/><path d="M1977 2830l-3-540 13 546-10-1z" color="#dcd67a"/><path d="M2064 2904l10 1 0-10-10 26z" color="#780dff"/><path d="M2395 2891l10 10 0 13-10-1z" color="#7413ff"/><path d="M2425 2887l10 8 1-16-11 21z" color="#6e1cff"/><path d="M1974 2290l23 538 0-3-10 11z" color="#0ac0e8"/><path d="M2425 2900l11-21-1 40-10-3z" color="#7413ff"/><path d="M2064 2921l10-26 0 31-10 0z" color="#7c06ff"/><path d="M2446 2909l9 10 0 7-9-20z" color="#7a09ff"/><path d="M2436 2879l9 17 1 13-11 10z" color="#7019ff"/><path d="M2074 2926l10-11 0 16-10 0z" color="#8000ff"/><path d="M2094 2880l10 22 0 17-10-28z" color="#6e1cff"/><path d="M2567 2310l-5 538 1 5-10 0z" color="#56f7ca"/><path d="M2074 2905l10-22 0 20-10-8z" color="#7216ff"/><path d="M1961 2772l-4-522-1-10 5 537z" color="#34e4d9"/><path d="M2074 2895l10 8 0 12-10 11z" color="#7413ff"/><path d="M2446 2906l9 20 1 5-10 0z" color="#7a09ff"/><path d="M2084 2915l10-4 0 20-10 0z" color="#7a09ff"/><path d="M2062 2193l10-27 8 516-19-558z" color="#40ecd4"/><path d="M2083 2179l9-80 8 585-18-539z" color="#c0eb8d"/><path d="M2094 2891l10 28 0-19-10 11z" color="#7019ff"/><path d="M2084 2903l10-12 0 20-10 4z" color="#7216ff"/><path d="M2436 2906l10 0 0 25-10 0z" color="#780dff"/><path d="M2094 2931l10-8 0 13-10 0z" color="#8000ff"/><path d="M2325 2883l10 4 0 4-10 6z" color="#6826fe"/><path d="M2084 2883l10-3 0 11-10 12z" color="#6826fe"/><path d="M2438 2118l10-46 0 65-18 515z" color="#4af2cf"/><path d="M2325 2897l10-6 0 10-10 22z" color="#7019ff"/><path d="M2396 2894l9 31 1-5-11 7z" color="#7413ff"/><path d="M2094 2911l10-11 0 23-10 8z" color="#7610ff"/><path d="M2425 2918l11-12 0 25-10-24z" color="#780dff"/><path d="M2575 2186l-6 586 0 5 4-510z" color="#44eed2"/><path d="M2426 2907l10 24 0 5-10 0z" color="#780dff"/><path d="M2428 2105l10 13-8 534-2-569z" color="#70febc"/><path d="M2104 2936l10-3 0 9-10 0z" color="#8000ff"/><path d="M1991 2755l9-16-14-560-10 11z" color="#90feab"/><path d="M2114 2933l10-18 0 27-10 0z" color="#7c06ff"/><path d="M2575 2177l-6 590 0 5 6-586z" color="#f9bb66"/><path d="M2556 2349l-3 514 0 6-10 0z" color="#2e7bf7"/><path d="M1980 2729l11 26-15-565-11-22z" color="#48f1d0"/><path d="M2396 2941l10 1 0 5-10 0z" color="#8000ff"/><path d="M2345 2911l10-6 0 18-10-5z" color="#7019ff"/><path d="M2386 2921l10 20 0 6-10 0z" color="#7a09ff"/><path d="M2396 2911l10-11 0 42-10-1z" color="#7216ff"/><path d="M2007 2187l10-33 12 599-9 16z" color="#74feba"/><path d="M2376 2934l10-13 0 26-10 0z" color="#7a09ff"/><path d="M2345 2918l10 5 0 15-9-29z" color="#7216ff"/><path d="M2375 2930l11-27 0 18-10 13z" color="#7413ff"/><path d="M2386 2903l10 8 0 30-10-20z" color="#6e1cff"/><path d="M2325 2902l10 13 0 12-10-17z" color="#6a22fe"/><path d="M2275 2951l10-1 0 8-10 0z" color="#8000ff"/><path d="M2335 2947l10 5 0 6-10 0z" color="#8000ff"/><path d="M1960 2787l-6-609 2 103 4 511z" color="#99fca6"/><path d="M2325 2910l10 17 0-1-10 11z" color="#6e1cff"/><path d="M1960 2792l-4-511-2-61 6 577z" color="#f0c46c"/><path d="M2325 2937l10-11 0 21-10-6z" color="#780dff"/><path d="M2346 2918l10 10-1 24-10 0z" color="#7413ff"/><path d="M2325 2941l10 6 0 11-10 0z" color="#7c06ff"/><path d="M2346 2909l9 29 1-10-10-10z" color="#6e1cff"/><path d="M2519 2204l12-53-1 52-21 510z" color="#2686f5"/><path d="M2335 2926l11-8-1 34-10-5z" color="#7413ff"/><path d="M2335 2927l11-18 0 9-11 8z" color="#6e1cff"/><path d="M2480 2151l9 48 0 16-19 478z" color="#3febd5"/><path d="M2489 2199l0 503 12-563-12 76z" color="#2489f5"/><path d="M2315 2927l10 14 0 17-10 0z" color="#7610ff"/><path d="M1996 2879l-3-532 13 537-10 0z" color="#07bbea"/><path d="M2235 2930l10-1 0 29-10 0z" color="#7610ff"/><path d="M2245 2929l10-2 0 31-10 0z" color="#7610ff"/><path d="M2521 2109l-3 603 13-561-12 53z" color="#96fca7"/><path d="M2224 2921l11 9 0 28-10 0z" color="#7216ff"/><path d="M2548 2276l-4 598 0 5-10 0z" color="#fbb965"/><path d="M2540 2212l-2 515 13-529-10-15z" color="#abf69b"/><path d="M1986 2874l-5-605 15 610-10 0z" color="#94fda8"/><path d="M2194 2205l13 487-4-624-10 6z" color="#1c93f3"/><path d="M2490 2092l9 82-10 504 1-582z" color="#ffac5c"/><path d="M2372 2696l16-593-1 33-9-39z" color="#cce385"/><path d="M2530 2213l10-1 1-29-22 520z" color="#abf69b"/><path d="M2003 2332l22 536 0-1-10-3z" color="#0ac0e8"/><path d="M2011 2220l20 476-12-543-10 6z" color="#66fcc2"/><path d="M2468 2212l12-61-10 542 0-584z" color="#4df3ce"/><path d="M2469 2688l21-592 1 4-12 64z" color="#9bfba5"/><path d="M2429 2165l9 45-7 524-3-523z" color="#ebca70"/><path d="M2194 2080l11 48-1-39-10 9z" color="#ff6232"/><path d="M2224 2083l11 13 0 38-11-57z" color="#ff5f30"/><path d="M2527 2317l-3 572 1 6-10 0z" color="#86ffb0"/><path d="M2025 2900l-1-504 11 509-10 0z" color="#90feab"/><path d="M2025 2867l-1-543 11 551-10-10z" color="#e2d176"/><path d="M1978 2775l-3-514-1-58 5 590z" color="#48f1d0"/><path d="M2576 2234l-5 573 0 5 6-582z" color="#bbee91"/><path d="M1954 2220l10-27 14 582-9 3z" color="#c6e789"/><path d="M1988 2132l12 59-2-74 3 591z" color="#72febb"/><path d="M2517 2318l-2 577 0 5-10 0z" color="#3febd5"/><path d="M2035 2905l0-504 10 509-10 0z" color="#00b5eb"/><path d="M2490 2204l10-8 2-75-22 608z" color="#ffa95b"/><path d="M1964 2179l25 581-1 5-24-572z" color="#1acfe3"/><path d="M2065 2877l0-590 10 606-10-9z" color="#218cf4"/><path d="M2449 2130l10 28-9 546 0-569z" color="#6dfdbf"/><path d="M2315 2125l11-79 0 78-10 5z" color="#ff6835"/><path d="M2387 2212l11-74 0 35-16 534z" color="#18cde4"/><path d="M2325 2886l14-613-4 620-10-23z" color="#9bfba5"/><path d="M2495 2885l22-567-12 582-10-22z" color="#64fbc3"/><path d="M2203 2068l11 9 0 13-7 617z" color="#7effb5"/><path d="M2565 2283l12-53-15 564-10-5z" color="#8cfead"/><path d="M1979 2793l-5-590 14 576-24-517z" color="#18cde4"/><path d="M2356 2154l10-55 0-8-10-24z" color="#ff6b37"/><path d="M2449 2204l11-51 0-15-19 573z" color="#94fda8"/><path d="M2224 2092l10-15 2 605-12-610z" color="#56f7ca"/><path d="M2483 2266l0 521 10-480-20 518z" color="#80ffb4"/><path d="M2357 2156l5 560 6-581-11-1z" color="#48f1d0"/><path d="M2113 2077l10 47 0-14-10 27z" color="#ff5c2f"/><path d="M2113 2137l10-27-1-29-8 94z" color="#ff703a"/><path d="M1987 2790l11 21-13-495-11-56z" color="#62fbc4"/><path d="M2502 2808l10-7 13-554-10-41z" color="#4af2cf"/><path d="M2086 2295l19 573 0 1-10-7z" color="#90feab"/><path d="M2045 2910l-1-542 10 547-10 0z" color="#2981f6"/><path d="M2055 2400l20 502-1 3-10-1z" color="#4af2cf"/><path d="M2419 2150l2 547 8-532-10-48z" color="#74feba"/><path d="M2441 2727l18-496 2-70-12 70z" color="#6afdc0"/><path d="M2417 2144l10 15 1-54-11 29z" color="#ff763d"/><path d="M2234 2077l10-11 0 8-8 608z" color="#ff964f"/><path d="M2402 2709l17-559 0-33-10 12z" color="#74feba"/><path d="M2542 2837l11-35 12-461-9-21z" color="#2fe0db"/><path d="M2153 2063l11 68-1-55-9 51z" color="#ff4d27"/><path d="M2214 2125l10-58 0 79-10-36z" color="#ff6232"/><path d="M2366 2091l11-40-1 105-10-61z" color="#ff532a"/><path d="M2497 2282l-2 623 0 5-10 0z" color="#9cfba4"/><path d="M2473 2242l10 24-10 559-10-32z" color="#8cfead"/><path d="M2285 2052l10 48 0-24-10-27z" color="#ff3b1e"/><path d="M2475 2359l0 556 0 6-10 0z" color="#abf69b"/><path d="M2486 2317l-1 593 0 5-10 0z" color="#6afdc0"/><path d="M2425 2865l19-542-9 570-10-23z" color="#b6f193"/><path d="M2565 2341l-3 502 0 5 5-538z" color="#56f7ca"/><path d="M2009 2221l10-21-1-39 2 560z" color="#6dfdbf"/><path d="M2193 2096l10-10 0-1-6 614z" color="#ff9b52"/><path d="M2407 2157l10-23 1-43-11 73z" color="#ff733b"/><path d="M2448 2072l9 100 0-8-9-27z" color="#ff6232"/><path d="M2144 2118l9-55 1 64-11-54z" color="#ff562c"/><path d="M2398 2173l11-33 0-12-17 613z" color="#ffac5c"/><path d="M2455 2909l20-550-10 562-10-2z" color="#7effb5"/><path d="M2065 2878l9-8 0 7-20-562z" color="#42edd3"/><path d="M2455 2894l10-7 10-528-20 550z" color="#abf69b"/><path d="M2123 2124l10-67 0 24-10 29z" color="#ff562c"/><path d="M2513 2324l12-48-12 539-10-12z" color="#80ffb4"/><path d="M2445 2900l21-615-11 609-10 12z" color="#ffac5c"/><path d="M2029 2226l9-58 1 39 0 525z" color="#68fcc1"/><path d="M1978 2820l-4-560-1-2 4 551z" color="#88ffaf"/><path d="M2338 2203l10-23-4 616-10-3z" color="#1c93f3"/><path d="M2075 2277l20 597-1 0-9 15z" color="#cee184"/><path d="M2074 2870l1-593 10 612-11-12z" color="#4ef3cd"/><path d="M2366 2099l11-45 0-3-11 40z" color="#ff4422"/><path d="M2502 2121l9 30-11 575 1-572z" color="#cee184"/><path d="M2466 2285l-1 614 0-12-10 7z" color="#ffac5c"/><path d="M2448 2137l9 27 0 18-8-99z" color="#ff6d38"/><path d="M1977 2809l-4-551 1 32 3 540z" color="#12c8e6"/><path d="M2385 2907l10 6 1-19-5-473z" color="#c0eb8d"/><path d="M2402 2326l3 568 0 7-10-10z" color="#12c8e6"/><path d="M2005 2289l11 50 11 496-11-8z" color="#38e7d7"/><path d="M2133 2081l10-8 0 67-10-49z" color="#ff4a26"/><path d="M2133 2057l11 61-1-45-10 8z" color="#ff3b1e"/><path d="M2539 2729l23-530 1-31-9-24z" color="#1acfe3"/><path d="M2203 2085l10 1 0 3-7 606z" color="#ff9850"/><path d="M2059 2734l0-570 0 10-11-22z" color="#feb562"/><path d="M2123 2110l10-29 0 10-11-10z" color="#ff4a26"/><path d="M2403 2737l16-482 0 9-10-22z" color="#08bee9"/><path d="M1984 2272l9-52 14 603-10 5z" color="#72febb"/><path d="M2419 2267l11-108-8 591-3-495z" color="#4af2cf"/><path d="M2038 2136l21 598-11-582-10 16z" color="#ffae5e"/><path d="M1971 2756l-6-588 2 65-10 17z" color="#94fda8"/><path d="M2423 2401l3 535 0 6-10 0z" color="#54f6cb"/><path d="M2557 2288l10 22-14 543-9-27z" color="#5efac6"/><path d="M2391 2425l4 502 1-16-10-8z" color="#c2ea8c"/><path d="M2533 2859l23-510-13 520 3-504z" color="#2e7bf7"/><path d="M2016 2339l8-115 12 594-9 17z" color="#cce385"/><path d="M2376 2901l15-476-5 478-11 27z" color="#c2ea8c"/><path d="M2404 2810l10 18 7-504-10-78z" color="#c4e88a"/><path d="M2417 2134l11-29 0-22-10 8z" color="#ff5029"/><path d="M2416 2907l10 0 0 29-3-535z" color="#a0faa1"/><path d="M2104 2923l2-569 8 579-10 3z" color="#64fbc3"/><path d="M2124 2942l4-528 6 533-10 0z" color="#2fe0db"/><path d="M2306 2069l10 4 0-5-10 62z" color="#ff381c"/><path d="M2406 2900l17-499-7 541-10 0z" color="#54f6cb"/><path d="M2406 2920l10-13 7-506-17 499z" color="#54f6cb"/><path d="M2401 2240l10 6-7 564-10 17z" color="#46efd1"/><path d="M2335 2901l15-572-5 582-10 14z" color="#46efd1"/><path d="M1976 2190l10-11 14 585-23-542z" color="#2489f5"/><path d="M2350 2329l5 587 0-11-10 6z" color="#46efd1"/><path d="M2193 2121l10-16 0 54-7 579z" color="#a6f89d"/><path d="M2397 2165l11-69-1 99-9-57z" color="#ff6b37"/><path d="M2430 2159l9 84 1-54-18 561z" color="#4af2cf"/><path d="M2478 2170l10 18 2-96-11 38z" color="#ff6b37"/><path d="M1977 2222l23 542-14-557-10-14z" color="#f4c069"/><path d="M2488 2188l12-67-1 53-9-82z" color="#ff6d38"/><path d="M2474 2255l0 581 9-479-19 504z" color="#94fda8"/><path d="M2096 2817l10 1-8-496-11-25z" color="#0fc4e7"/><path d="M2020 2742l-3-572 0-16-10 33z" color="#74feba"/><path d="M2184 2952l7-519 3 525-10 0z" color="#6efebe"/><path d="M2555 2163l10 11-2 79-23 512z" color="#4af2cf"/><path d="M2408 2096l9 66 2-72-12 105z" color="#ff5029"/><path d="M1966 2223l10 15 13 541-24-565z" color="#ecc86f"/><path d="M2550 2749l25-572 0 9-10-12z" color="#fcb763"/><path d="M1976 2193l10 14 13 553-23-522z" color="#42edd3"/><path d="M2371 2367l5 580 0 5-10 0z" color="#40ecd4"/><path d="M2546 2365l-3 504 1 5 4-598z" color="#92fda9"/><path d="M1983 2297l24 558-15-602 4 610z" color="#1acfe3"/><path d="M2530 2203l11-25-1 34-10 1z" color="#ff8646"/><path d="M2359 2235l10 21-5 591-10-28z" color="#72febb"/><path d="M2525 2369l11-24-11 503-11 31z" color="#30e1da"/><path d="M2315 2941l10-31 0 27-7-568z" color="#ecc86f"/><path d="M2154 2947l5-590 5 595-10 0z" color="#f4c069"/><path d="M2387 2220l10 3 0 3-9-97z" color="#ff8947"/><path d="M2554 2187l-4 562 15-575-10-11z" color="#208ef4"/><path d="M2388 2103l10 35-1 58-10-60z" color="#ff532a"/><path d="M2503 2857l24-609-1 76-22 503z" color="#70febc"/><path d="M2212 2425l12 496 1 37-11 0z" color="#72febb"/><path d="M2378 2097l9 39 0 40-10 38z" color="#ff592d"/><path d="M2356 2928l15-561-5 585-11 0z" color="#40ecd4"/><path d="M2388 2106l9 59 1-27-10-35z" color="#ff4a26"/><path d="M2139 2226l11-16 5 609-9 8z" color="#7affb7"/><path d="M1986 2869l-3-520-2-80 5 605z" color="#feb562"/><path d="M2167 2747l5-625 0 12-11 8z" color="#52f5cb"/><path d="M2184 2925l10 14 0-15-14-575z" color="#90feab"/><path d="M2285 2950l12-566-2 574-10 0z" color="#3dead5"/><path d="M2367 2159l11-62-1 117-10-72z" color="#ff6533"/><path d="M2422 2771l19-560-1 41-9-70z" color="#4af2cf"/><path d="M2051 2192l10-23-1-44-9 50z" color="#ff703a"/><path d="M2183 2160l11 45-1-131-10 37z" color="#ff5c2f"/><path d="M2318 2369l7 568 0 4-10-14z" color="#3febd5"/><path d="M2244 2138l11-14 0 642-11-561z" color="#7effb5"/><path d="M2089 2120l10-2 9 635-19-626z" color="#22d6e0"/><path d="M2048 2209l20 570-10-540-10-11z" color="#66fcc2"/><path d="M2108 2733l2-596 0 21-10 44z" color="#7affb7"/><path d="M2482 2799l21-566-1 58-10 3z" color="#b4f295"/><path d="M2079 2131l10-4 9 619-19-582z" color="#52f5cb"/><path d="M2470 2108l9 56 1-13-12 61z" color="#ff592d"/><path d="M2459 2125l11-17-2 104-9-26z" color="#ff5c2f"/><path d="M2265 2340l10 611 0 7-10 0z" color="#70febc"/><path d="M2173 2164l10-4 0-49-10-30z" color="#ff562c"/><path d="M2489 2215l12-76-1 27-11 50z" color="#ff7b40"/><path d="M2068 2749l0-586 0-28-9 85z" color="#ff9850"/><path d="M1993 2347l10-15 12 532-9 20z" color="#0ac0e8"/><path d="M2244 2374l11 547 0 6-10 2z" color="#86ffb0"/><path d="M2464 2254l10 1-10 606-10-33z" color="#6efebe"/><path d="M2255 2124l10 54 0-45-10 633z" color="#22d6e0"/><path d="M2489 2216l11-50 0 30-10 8z" color="#ff8143"/><path d="M2479 2164l12-64-2 99-9-48z" color="#ff5f30"/><path d="M1969 2753l-3-530-1-9-11-36z" color="#4af2cf"/><path d="M2459 2186l9 26 2-103-11 49z" color="#ff6b37"/><path d="M2145 2867l5-536 5 543-16-535z" color="#58f8c9"/><path d="M2307 2341l8 586 0 31-10 0z" color="#70febc"/><path d="M2137 2776l4-574-1-35-10-14z" color="#ffa256"/><path d="M2255 2927l10-587 0 618-10 0z" color="#70febc"/><path d="M2526 2367l-2 517 0 5 3-572z" color="#ebca70"/><path d="M2536 2345l12-69-14 603-9-31z" color="#fbb965"/><path d="M2244 2292l10 29 1 547-10-5z" color="#40ecd4"/><path d="M2141 2130l16 609-6-609-11-4z" color="#7effb5"/><path d="M2514 2226l9 51-11 522 1-529z" color="#b9ef92"/><path d="M2110 2137l10-6 7 616-17-589z" color="#7dffb6"/><path d="M2017 2230l9-46 1 68 1 534z" color="#99fca6"/><path d="M2414 2851l19-580-8 571-3-530z" color="#fbb965"/><path d="M2449 2151l10-26 0 61-10-62z" color="#ff562c"/><path d="M2438 2195l12-60-1 69-11 6z" color="#ff733b"/><path d="M2000 2191l11 29-2-61-11-42z" color="#ff6b37"/><path d="M2254 2321l11-39 0 564-10 22z" color="#44eed2"/><path d="M2414 2882l11-15 8-567-11 77z" color="#68fcc1"/><path d="M2504 2870l22-503 1-50-22 553z" color="#ebca70"/><path d="M2441 2179l11 6-2 94-18 504z" color="#ffae5e"/><path d="M2024 2396l21 492-10-487 0 504z" color="#68fcc1"/><path d="M2097 2293l18 573 0-4-18-578z" color="#17cbe4"/><path d="M2075 2845l10 16-8-495-12-75z" color="#6afdc0"/><path d="M2133 2200l9-67 0-5-11-34z" color="#ff5c2f"/><path d="M2245 2778l10-620 0 51-11-49z" color="#78ffb8"/><path d="M2214 2161l10-54 0-15-10-15z" color="#ff4121"/><path d="M2449 2124l10 62 0-28-10-28z" color="#ff4d27"/><path d="M2388 2129l9 97 1-88-11 74z" color="#ff5c2f"/><path d="M2438 2189l11-59 1 5-12 60z" color="#ff6232"/><path d="M2462 2183l10 52-10 528 0-543z" color="#4af2cf"/><path d="M2501 2139l8 68 2-77-11 36z" color="#ff562c"/><path d="M2125 2863l10-14-7-560-10 43z" color="#90feab"/><path d="M2464 2297l1 572 0 14-1-544z" color="#68fcc1"/><path d="M2439 2130l10-6 0 6-11 59z" color="#ff4a26"/><path d="M2024 2324l10-22 11 574-10-1z" color="#2489f5"/><path d="M2485 2350l0 529 10-491-20 484z" color="#58f8c9"/><path d="M2405 2860l17-483 1-79-18 593z" color="#6afdc0"/><path d="M2090 2108l12 56-1-45-10 53z" color="#ff4121"/><path d="M2534 2317l11-52-13 545 2-494z" color="#3ae8d6"/><path d="M2027 2253l9-45 0 16 2 568z" color="#6dfdbf"/><path d="M2460 2153l9 78 1-39-10-54z" color="#ff5f30"/><path d="M2419 2117l10 48-1 46-10 8z" color="#ff562c"/><path d="M2379 2235l10 14-5 535-5-527z" color="#b6f193"/><path d="M2445 2856l9 10 10-569-10-28z" color="#cbe486"/><path d="M2505 2870l22-553-12 578 2-577z" color="#88ffaf"/><path d="M2065 2882l0-591 0-4 0 590z" color="#c2ea8c"/><path d="M2145 2858l4-538 1 57-5 522z" color="#2686f5"/><path d="M2296 2072l10 91 0-48-10 14z" color="#ff2c16"/><path d="M2153 2202l9-132 0 30-10 5z" color="#ff4a26"/><path d="M2095 2856l2-538 8 550-19-573z" color="#90feab"/><path d="M2068 2135l10 4 0 5 0 606z" color="#54f6cb"/><path d="M2471 2309l2 492 10-535-10-24z" color="#66fcc2"/><path d="M2065 2287l11 30 9 570-10 6z" color="#6efebe"/><path d="M2500 2166l11-36 0 12-11 54z" color="#ff562c"/><path d="M2163 2177l10-96-1-3-10-8z" color="#ff381c"/><path d="M2045 2888l9-17-10-538-9 68z" color="#ebca70"/><path d="M2315 2879l10 15 3-571-11 72z" color="#66fcc2"/><path d="M2433 2802l18-493 1-46-11 26z" color="#84ffb2"/><path d="M2534 2240l11-1 1-38-24 600z" color="#99fca6"/><path d="M2275 2086l10 18 0 33-10-16z" color="#ff2914"/><path d="M2044 2368l11 32 9 504-10 11z" color="#2981f6"/><path d="M2076 2317l10-22 9 567-10 25z" color="#6afdc0"/><path d="M2285 2104l11-32 0 57-11 8z" color="#ff2c16"/><path d="M2435 2851l10 5 9-587-10 0z" color="#cbe486"/><path d="M2483 2787l20-479 1-64-11 63z" color="#8cfead"/><path d="M2286 2174l8 578 2-590-10-1z" color="#ffa055"/><path d="M2444 2323l10 29-9 548-10-7z" color="#12c8e6"/><path d="M2451 2309l11-63-9 572-1-555z" color="#8bfeae"/><path d="M2495 2388l0 490 0 27 2-623z" color="#ffa95b"/><path d="M2265 2107l10-21 0 35-10-13z" color="#ff2613"/><path d="M2019 2200l11 23-1 3-11-65z" color="#ff6d38"/><path d="M2546 2201l10 12-14 596 2-525z" color="#72febb"/><path d="M2087 2803l1-580 0-2-9 94z" color="#fcb763"/><path d="M2275 2121l10 16 0-21-10-26z" color="#ff2f18"/><path d="M2102 2217l9-87 0 6-11-45z" color="#ff532a"/><path d="M2493 2307l11-63 0 39-21 549z" color="#8cfead"/><path d="M2054 2315l20 562 1 25-20-502z" color="#14cae5"/><path d="M2525 2270l9 46-11 486 2-526z" color="#5efac6"/><path d="M2454 2352l1 538 11-605-21 615z" color="#1dd1e2"/><path d="M2173 2081l10 30 0-39-11 6z" color="#ff1309"/><path d="M2522 2801l24-600-2 83-8-84z" color="#74feba"/><path d="M2338 2377l11 5-4 513-10-8z" color="#2c7ef7"/><path d="M2255 2101l10 6 0 1-10-33z" color="#ff1c0e"/><path d="M2492 2807l23-601 0 7-12 95z" color="#4af2cf"/><path d="M2369 2159l5 612 5-536-10-33z" color="#ff9850"/><path d="M2500 2196l11-54 0 9-9-30z" color="#ff5029"/><path d="M2214 2077l10 15 0-20-10 18z" color="#ff1008"/><path d="M2409 2129l10-12-1 102-9-79z" color="#ff4121"/><path d="M2059 2164l11 38 0 29-11-57z" color="#ff5f30"/><path d="M2423 2298l10 9-8 558-10 18z" color="#46efd1"/><path d="M2381 2300l4 604 6-522-16 495z" color="#18cde4"/><path d="M1974 2203l11 23-1-27 4 580z" color="#1acfe3"/><path d="M2244 2066l11 9 0 26-11-27z" color="#ff0905"/><path d="M2348 2180l11-1-1 124-14 493z" color="#a2f9a0"/><path d="M2504 2283l9 41-10 479 1-528z" color="#0fc4e7"/><path d="M2054 2871l11 7-11-563-10 18z" color="#f4c069"/><path d="M2030 2223l8-87 0 32-9 58z" color="#ff6835"/><path d="M2349 2382l11-65-5 594-10-16z" color="#2489f5"/><path d="M2078 2248l9-74 1 49-1 580z" color="#a4f89f"/><path d="M2015 2282l22 533-12-543-9 34z" color="#e8cb72"/><path d="M2398 2138l11-9 0 11-11 33z" color="#ff3b1e"/><path d="M2391 2382l11-56-7 565-10 8z" color="#12c8e6"/><path d="M2296 2107l10-18 0-1-10 91z" color="#ff2613"/><path d="M2131 2083l11 29 0 21-10 1z" color="#ff1f10"/><path d="M1985 2316l22 486-14-582-9 52z" color="#cbe486"/><path d="M2391 2421l5 473-1 33-4-502z" color="#48f1d0"/><path d="M2365 2891l10 2 6-526-11 33z" color="#5af8c8"/><path d="M2265 2108l10 13 0-31-10-7z" color="#ff1c0e"/><path d="M2244 2260l11 554-1-603-10-5z" color="#4df3ce"/><path d="M2214 2090l10-18 0 16-10 6z" color="#ff1008"/><path d="M2285 2896l10 2 1-485-10-82z" color="#8efeac"/><path d="M2465 2887l21-570-11 598 0-556z" color="#6afdc0"/><path d="M1973 2258l11 14 13 556-23-538z" color="#64fbc3"/><path d="M2328 2332l10 45-3 510-10-4z" color="#2686f5"/><path d="M2244 2074l11 27 0-26-11 3z" color="#ff0905"/><path d="M2162 2101l11 21-1-28-10 26z" color="#ff1f10"/><path d="M2465 2899l21-588 0 6-21 570z" color="#f9bb66"/><path d="M2255 2814l10-544 0-94-11 35z" color="#1996f3"/><path d="M1993 2220l12 59 1 40 1 504z" color="#ffae5e"/><path d="M2048 2152l11 22 1 46-11 1z" color="#ff562c"/><path d="M2142 2112l10-15 0-11-10 47z" color="#ff1f10"/><path d="M2070 2202l9-56 0-22-9 107z" color="#ff562c"/><path d="M2162 2120l10-26 0 28-10 20z" color="#ff2613"/><path d="M2316 2080l11 11-1 70-10-74z" color="#ff160b"/><path d="M2121 2087l10-4 1 51-11-21z" color="#ff160b"/><path d="M2316 2087l10 74 1-61-11 23z" color="#ff1c0e"/><path d="M2160 2372l10-30 4 551-10 8z" color="#62fbc4"/><path d="M2038 2168l10-16 1 69-10-14z" color="#ff532a"/><path d="M2326 2161l11-70 0 26-10-17z" color="#ff2f18"/><path d="M2296 2179l10-91 0 15-10-4z" color="#ff3219"/><path d="M2205 2878l10-2-3-558-10 60z" color="#6dfdbf"/><path d="M2409 2128l10 63 0-48-10 31z" color="#ff3b1e"/><path d="M2384 2800l16-516 1-44-11 55z" color="#fbb965"/><path d="M2172 2094l11 27 0 5-11-4z" color="#ff1c0e"/><path d="M2421 2287l10-13 1 6-18 548z" color="#60fac5"/><path d="M2203 2086l11 8-1-8-10-1z" color="#ff0d06"/><path d="M2255 2075l10 33 0-25-10 0z" color="#ff0905"/><path d="M2152 2097l10 4 0 19-10-34z" color="#ff160b"/><path d="M2411 2320l10 8 0 11-17 510z" color="#d4dd80"/><path d="M2056 2232l11 47 0-15 0 569z" color="#48f1d0"/><path d="M2121 2157l11 0-1-57-11-1z" color="#ff3219"/><path d="M2349 2386l6 527 0 3-5-587z" color="#90feab"/><path d="M2275 2090l10 26 1-27-11 12z" color="#ff1309"/><path d="M2244 2078l11-3 0 8-11 19z" color="#ff0603"/><path d="M2370 2316l11-16-6 577-10 1z" color="#94fda8"/><path d="M2234 2162l10 28 1 595-11-608z" color="#56f7ca"/><path d="M2111 2136l10 21-1-58-10 9z" color="#ff2914"/><path d="M2307 2269l10 19 0 23-12 526z" color="#88ffaf"/><path d="M2400 2284l4 538 7-576-10-6z" color="#fbb965"/><path d="M2213 2115l11-15 0 58-11-37z" color="#ff2211"/><path d="M2404 2822l18-594-1 59-10-41z" color="#ffb360"/><path d="M2162 2142l10-20 0-22-10 16z" color="#ff2613"/><path d="M2036 2312l20 508-10-537-11-14z" color="#40ecd4"/><path d="M2193 2092l10 69 0-40-10-20z" color="#ff190d"/><path d="M2172 2122l11 4 0 0-11-26z" color="#ff1f10"/><path d="M2244 2102l11-19 0 5-11-1z" color="#ff0d06"/><path d="M2183 2126l10-25 0 30-10 39z" color="#ff2914"/><path d="M2306 2119l10-17 1 7-11 86z" color="#ff2613"/><path d="M2335 2891l14-505 1-57-15 572z" color="#c0eb8d"/><path d="M2421 2328l11-47-8 558-3-500z" color="#ebca70"/><path d="M2338 2250l6 562 4-561-10 51z" color="#218cf4"/><path d="M2151 2099l11 17 0 18-10 34z" color="#ff1f10"/><path d="M2317 2286l10 40-2 519-8-522z" color="#84ffb2"/><path d="M2306 2088l10-1 0 36-10-20z" color="#ff0d06"/><path d="M2306 2089l10-9 0 7-10 1z" color="#ff0603"/><path d="M2296 2098l10 21 0 76-10-97z" color="#ff1c0e"/><path d="M2306 2195l11-86-1 41-10-37z" color="#ff3b1e"/><path d="M2088 2221l10-33 8 606-18-560z" color="#7affb7"/><path d="M2213 2089l11 4 0 7-11 15z" color="#ff0d06"/><path d="M2132 2157l9-63 0 8-10-2z" color="#ff2211"/><path d="M2170 2342l14 542-4-570-6 579z" color="#94fda8"/><path d="M2077 2242l11 11 8 577-19-611z" color="#ffa95b"/><path d="M2141 2102l10-3 1 69-11-32z" color="#ff1c0e"/><path d="M2306 2103l10 20 0-21-10 17z" color="#ff160b"/><path d="M2442 2293l2 522 9-585-11 32z" color="#ffae5e"/><path d="M2442 2336l10 3-8 497-1-578z" color="#fcb763"/><path d="M2183 2126l10-34 0 9-10 25z" color="#ff190d"/><path d="M2172 2100l11 26 0 44-11-67z" color="#ff1c0e"/><path d="M1957 2250l10-17-3-68-8 75z" color="#ff703a"/><path d="M2316 2123l11-23 0 13-11-11z" color="#ff190d"/><path d="M2128 2414l10-21 6 554-10 0z" color="#37e6d8"/><path d="M2565 2174l10 12-2 81-10-14z" color="#ff5c2f"/><path d="M2100 2091l11 45-1-28-10-13z" color="#ff1008"/><path d="M2327 2100l10 17 0-17-10 13z" color="#ff1008"/><path d="M2138 2393l11 10 5 544-10 0z" color="#dbd87b"/><path d="M2244 2090l11 5 0 36-11-22z" color="#ff0d06"/><path d="M2124 2915l3-554 1 53-4 528z" color="#3febd5"/><path d="M2316 2102l11 11 0 42-10-46z" color="#ff160b"/><path d="M2327 2155l10-53 0 68-10-63z" color="#ff2c16"/><path d="M1965 2168l11 22 1 32-10 11z" color="#ff532a"/><path d="M2296 2099l10 4 0 16-10-21z" color="#ff0d06"/><path d="M2296 2098l10 97 0-82-10 10z" color="#ff1c0e"/><path d="M2244 2087l11 1 0 7-11-5z" color="#ff0302"/><path d="M2286 2093l10 6 0-1-10 27z" color="#ff0d06"/><path d="M2024 2224l12 88-1-43 1 549z" color="#4df3ce"/><path d="M2234 2113l10-23 0 19-10-8z" color="#ff1008"/><path d="M2327 2113l10-13 0 2-10 53z" color="#ff160b"/><path d="M2180 2314l11-5 3 593-9 21z" color="#ffb05f"/><path d="M2305 2844l12-558 0 37-10-47z" color="#8bfeae"/><path d="M2317 2109l10 46 0-48-11 43z" color="#ff1c0e"/><path d="M2328 2264l10-4-3 564-8-498z" color="#68fcc1"/><path d="M2394 2847l17-601 0 74-10-61z" color="#6efebe"/><path d="M2348 2106l10 1-1 79-9-65z" color="#ff1c0e"/><path d="M2328 2179l6 614 4-611-10-5z" color="#7effb5"/><path d="M2275 2401l11 27-1 522-10 1z" color="#58f8c9"/><path d="M2193 2101l10 20 0-13-10 23z" color="#ff1309"/><path d="M2151 2104l11 5 0 68-10 2z" color="#ff2211"/><path d="M2129 2185l11 75-1-74-3 619z" color="#a8f79c"/><path d="M2162 2116l10-16 0 3-10 31z" color="#ff1309"/><path d="M2203 2159l10-50 1 90-11-46z" color="#ff351b"/><path d="M2369 2138l9 116 0 22-10-102z" color="#ff4d27"/><path d="M2234 2181l10-43 0 67-10 56z" color="#ff5029"/><path d="M2036 2830l-1-579 1 75-11-19z" color="#fcb763"/><path d="M2432 2281l10 55 1-78-19 581z" color="#fcb763"/><path d="M2390 2310l4 537 7-588-10-20z" color="#4df3ce"/><path d="M2106 2354l11-13 7 574-10 18z" color="#8efeac"/><path d="M2004 2343l21 498-10-483-11-20z" color="#76ffb9"/><path d="M2337 2102l11 4 0 15-11 49z" color="#ff160b"/><path d="M2526 2324l-3 537 14-578-12 69z" color="#8cfead"/><path d="M2098 2188l10-8 0 25-2 589z" color="#a6f89d"/><path d="M2131 2100l10 2 0 34-10-36z" color="#ff0d06"/><path d="M2045 2242l11 50 10 561-20-539z" color="#99fca6"/><path d="M2108 2205l10-11 1 20-3 591z" color="#7affb7"/><path d="M2337 2100l10 22 1-16-11-4z" color="#ff0905"/><path d="M2223 2124l11 57 0 80-10-64z" color="#ff3e1f"/><path d="M2380 2296l10-1 0 36-15 498z" color="#0fc4e7"/><path d="M2017 2170l11 35-1-28-10-23z" color="#ff4121"/><path d="M2046 2283l20 536-10-527-11-50z" color="#99fca6"/><path d="M2159 2357l11 72 4 523-10 0z" color="#8cfead"/><path d="M2254 2265l11 51 0 514-11-493z" color="#44eed2"/><path d="M2234 2101l10 8 0-1-10-2z" color="#ff0905"/><path d="M2275 2108l11-4-1 74-10-35z" color="#ff190d"/><path d="M1967 2233l10-11-1-29-12-28z" color="#ff5c2f"/><path d="M2213 2265l10-29 2 616-12-520z" color="#208ef4"/><path d="M2170 2429l10-80 4 603-10 0z" color="#90feab"/><path d="M2286 2104l10 19 0 0-11 55z" color="#ff190d"/><path d="M2118 2194l11-9 7 620-17-591z" color="#7effb5"/><path d="M2079 2146l11-1-1-35-10 14z" color="#ff2211"/><path d="M2150 2210l10-10 1 137-6 482z" color="#22d6e0"/><path d="M2193 2131l10-23 0-3-10 16z" color="#ff160b"/><path d="M2306 2113l10 37 1-19-11-7z" color="#ff160b"/><path d="M2191 2433l10-53 3 578-10 0z" color="#86ffb0"/><path d="M2004 2338l11 20 10 510-22-536z" color="#7dffb6"/><path d="M2048 2228l10 11 1 52-11-31z" color="#ff733b"/><path d="M2401 2259l10 61-7 529-3-611z" color="#ffa95b"/><path d="M2234 2106l10 2 0 23-10-22z" color="#ff0d06"/><path d="M2141 2106l10-2 1 75-11-59z" color="#ff1309"/><path d="M2213 2109l11 9 0 20-10 61z" color="#ff1c0e"/><path d="M2296 2211l11 58-2 568-9-607z" color="#a2f9a0"/><path d="M2201 2380l11 45 2 533-10 0z" color="#86ffb0"/><path d="M2131 2100l10 36 0-30-10 2z" color="#ff0905"/><path d="M2121 2130l10-22 0 17-11 17z" color="#ff190d"/><path d="M2110 2116l11 14-1 12-10-26z" color="#ff160b"/><path d="M2180 2349l14 575-3-491-7 519z" color="#90feab"/><path d="M2244 2108l11-9 0 7-11 25z" color="#ff0905"/><path d="M2286 2118l10-20 0 25-10-19z" color="#ff0d06"/><path d="M2305 2916l10 25 3-572-11 1z" color="#ecc86f"/><path d="M2194 2924l10-6-3-538-10 53z" color="#86ffb0"/><path d="M2369 2256l11-12 0-1-16 604z" color="#70febc"/><path d="M2358 2114l10 34 0 47-10-48z" color="#ff1f10"/><path d="M2244 2131l11-25 0 28-11-14z" color="#ff160b"/><path d="M2224 2098l10 8 0 3-10 12z" color="#ff0603"/><path d="M2265 2119l10-19 0 8-10-2z" color="#ff0905"/><path d="M2327 2113l10 40 0-10-10 48z" color="#ff1f10"/><path d="M2191 2204l11 12 0 111-7 511z" color="#54f6cb"/><path d="M2203 2105l10 9 0-5-10 50z" color="#ff1008"/><path d="M2170 2202l11 18 4 596-14-525z" color="#d9da7d"/><path d="M2245 2840l9-575 0 72-10-82z" color="#96fca7"/><path d="M2275 2100l11 18 0-14-11 4z" color="#ff0603"/><path d="M2255 2099l10 20 0-13-10 0z" color="#ff0603"/><path d="M2441 2211l10-35 0 61-11 15z" color="#ff592d"/><path d="M2265 2106l10 2 0 35-10-17z" color="#ff0d06"/><path d="M1964 2165l12 28 0 45-10-15z" color="#ff4724"/><path d="M2296 2123l10-10 0 11-10-1z" color="#ff1309"/><path d="M2296 2123l10 1 0 23-10-2z" color="#ff190d"/><path d="M2087 2297l11 25 7 506-19-585z" color="#4df3ce"/><path d="M2306 2124l11 7 0 1-11 15z" color="#ff190d"/><path d="M2317 2132l10-19 0 78-10-39z" color="#ff2211"/><path d="M1992 2253l24 610-12-520-12-64z" color="#1acfe3"/><path d="M2255 2106l10 0 0 20-10 8z" color="#ff0905"/><path d="M2244 2216l10-9 0 119-9 492z" color="#1c93f3"/><path d="M2039 2286l9-58 0 32-11-64z" color="#ff733b"/><path d="M2213 2114l11 7 0-3-11-9z" color="#ff0905"/><path d="M2224 2121l10-12 0 3-10 6z" color="#ff0d06"/><path d="M2131 2108l10-2 0 14-10 5z" color="#ff0905"/><path d="M1981 2269l12 74 0 4 3 532z" color="#94fda8"/><path d="M2121 2226l9-91 0-2-10-2z" color="#ff3b1e"/><path d="M2120 2142l11-17-1-3-10 3z" color="#ff190d"/><path d="M2244 2120l11 14 0-20-11 31z" color="#ff1309"/><path d="M2234 2112l10 8 0 25-10-13z" color="#ff1008"/><path d="M2355 2835l14-541 0 21-10-39z" color="#beec8e"/><path d="M2100 2152l10-36 0 4-11-2z" color="#ff190d"/><path d="M2286 2133l10-7 0 39-10 27z" color="#ff2211"/><path d="M2255 2921l10-502 0-79-10 587z" color="#70febc"/><path d="M2348 2128l10 19 0 32-10-17z" color="#ff2211"/><path d="M2110 2116l10 26 0-17-10-5z" color="#ff1008"/><path d="M2089 2110l11 42-1-34-10 2z" color="#ff0d06"/><path d="M2286 2202l10 9 0 19-11 610z" color="#a4f89f"/><path d="M2224 2118l10-6 0 20-10 6z" color="#ff1008"/><path d="M2306 2192l10 3 1-66-11 21z" color="#ff381c"/><path d="M2172 2123l10 25 0 0-10 97z" color="#ff2613"/><path d="M2265 2201l10 0 0 625-10-517z" color="#1996f3"/><path d="M2337 2143l11-15 0 34-11 12z" color="#ff2211"/><path d="M2296 2165l10 27 0-42-10 2z" color="#ff2f18"/><path d="M2431 2182l9 70 1-73-11 91z" color="#ff5029"/><path d="M2337 2153l11-31 0 6-11 15z" color="#ff1c0e"/><path d="M2275 2114l11 17 0 2-11 34z" color="#ff1309"/><path d="M2161 2145l11-22 0 122-11-103z" color="#ff2914"/><path d="M2172 2122l10 15 0 12-10-15z" color="#ff160b"/><path d="M2297 2384l10-43-2 617-10 0z" color="#208ef4"/><path d="M2275 2222l11-20-1 638-10-639z" color="#ff964f"/><path d="M2223 2234l10-11 2 606-12-593z" color="#76ffb9"/><path d="M2286 2131l10 14 0-19-10 7z" color="#ff1309"/><path d="M2286 2192l10-27 0-13-10-16z" color="#ff3219"/><path d="M2097 2318l11 57 0-18-3 511z" color="#e6cd73"/><path d="M2089 2192l11 10-1-61-10 24z" color="#ff381c"/><path d="M2244 2145l11-31 0 26-11-7z" color="#ff160b"/><path d="M2079 2124l10-14 0 10-10 0z" color="#ff0905"/><path d="M2234 2132l10 13 0-12-10-14z" color="#ff1309"/><path d="M2026 2184l13 102-2-90-10 56z" color="#ff532a"/><path d="M2265 2113l10 1 0 53-10-37z" color="#ff0d06"/><path d="M2348 2162l10 17 0-38-10 6z" color="#ff2613"/><path d="M2440 2252l11-15 1-52-11-6z" color="#ff592d"/><path d="M2255 2140l10-10 0 48-10-54z" color="#ff190d"/><path d="M1954 2178l11 36-1-35-8 102z" color="#ff4724"/><path d="M2233 2328l11 46 1 555-10 1z" color="#9bfba5"/><path d="M2234 2119l10 14 0 5-10 43z" color="#ff160b"/><path d="M2503 2233l11-7-1 44-11 21z" color="#ff6835"/><path d="M2097 2284l18 578-7-487-11-57z" color="#90feab"/><path d="M2213 2160l10-36 1 73-11-55z" color="#ff2613"/><path d="M2348 2122l10-8 0 33-10-19z" color="#ff0d06"/><path d="M2034 2308l21 559-10-508-11-57z" color="#8bfeae"/><path d="M2224 2138l10-6 0-13-11 0z" color="#ff1008"/><path d="M2327 2128l10 46 0 4-10-37z" color="#ff1c0e"/><path d="M2181 2220l10-24 0 8-6 612z" color="#dbd87b"/><path d="M2182 2149l10-22 0 8-10 13z" color="#ff190d"/><path d="M2130 2122l11-9 0 17-11 5z" color="#ff0905"/><path d="M2172 2134l10 15 0-1-10-25z" color="#ff160b"/><path d="M2079 2120l10 0 0 7-10 4z" color="#ff0905"/><path d="M2222 2364l11-36 2 602-11-9z" color="#9bfba5"/><path d="M2255 2114l10-1 0 17-10 10z" color="#ff0603"/><path d="M2213 2148l10-29 0 5-10 36z" color="#ff160b"/><path d="M2358 2179l10-30 1-11-11 3z" color="#ff2613"/><path d="M2192 2127l11 21 0-8-11-5z" color="#ff1309"/><path d="M2161 2142l11-8 0-11-11 22z" color="#ff1309"/><path d="M2223 2119l11 0 0 62-11-57z" color="#ff1008"/><path d="M2335 2893l14-536 0 29-11-40z" color="#ded579"/><path d="M2275 2134l11 58 0-56-11-2z" color="#ff190d"/><path d="M2316 2195l11-67 0 13-10-12z" color="#ff2613"/><path d="M2095 2850l2-557 0-9-10 39z" color="#46efd1"/><path d="M1956 2281l8-102 0 14-10 27z" color="#ff5f30"/><path d="M2244 2133l11 7 0-16-11 14z" color="#ff1008"/><path d="M2100 2202l10-44-1-14-10-3z" color="#ff2f18"/><path d="M2452 2185l10-2 0 37-12 59z" color="#ff4724"/><path d="M2265 2178l10-44 0 0-10-1z" color="#ff1f10"/><path d="M1975 2261l11 20-1-55-11-23z" color="#ff6533"/><path d="M2130 2133l10-7 1 19-11 26z" color="#ff1309"/><path d="M2345 2870l14-546 1-66-11 19z" color="#9cfba4"/><path d="M2027 2252l10-56-1 12-9 45z" color="#ff592d"/><path d="M2108 2357l11 18-2-90-2 598z" color="#ffb360"/><path d="M2182 2148l10-18 0 48-10-6z" color="#ff1c0e"/><path d="M2078 2131l11 61 0-27-11-26z" color="#ff190d"/><path d="M2151 2138l10 19 0 0-10 72z" color="#ff2211"/><path d="M2141 2145l10-6 0-1-10 64z" color="#ff1c0e"/><path d="M2087 2323l10-39 0 34-2 538z" color="#90feab"/><path d="M2035 2847l-1-539 0-6-10 22z" color="#40ecd4"/><path d="M2128 2289l11 50 6 531-16-533z" color="#90feab"/><path d="M2140 2167l11 62 0-76-11 27z" color="#ff2f18"/><path d="M2077 2366l18 490-9-561-10 22z" color="#6afdc0"/><path d="M2182 2148l10-13 0-5-10 18z" color="#ff1309"/><path d="M2454 2348l10 4-9 538-1-538z" color="#58f8c9"/><path d="M2151 2130l10 15 0-3-10-3z" color="#ff0d06"/><path d="M2203 2137l10 5 0 34-10-21z" color="#ff160b"/><path d="M2524 2267l10 50 0-1-9-46z" color="#ff7b40"/><path d="M2119 2375l10-38 6 539-18-591z" color="#ffb360"/><path d="M2192 2130l11 7 0 18-11 23z" color="#ff1309"/><path d="M2192 2135l11 5 0-3-11-7z" color="#ff0d06"/><path d="M2140 2126l11 4 0 9-10 6z" color="#ff0905"/><path d="M2348 2147l10-6 0 1-10 23z" color="#ff160b"/><path d="M2358 2141l11-3-1 36-10-32z" color="#ff1309"/><path d="M2554 2284l13-81-2 80-9-70z" color="#ff6835"/><path d="M2534 2263l12-79-1 55-11 1z" color="#ff5c2f"/><path d="M2306 2150l11-21 0 38-11-26z" color="#ff160b"/><path d="M2140 2180l11-27 0 28-10 60z" color="#ff3219"/><path d="M2265 2139l10 4 0 103-10-78z" color="#ff1f10"/><path d="M2151 2139l10 3 0 15-10-19z" color="#ff1008"/><path d="M2360 2258l9 73 1-56-15 593z" color="#cce385"/><path d="M2345 2869l14-532 1-56-11 76z" color="#99fca6"/><path d="M2317 2129l10 12 0-6-10 32z" color="#ff0d06"/><path d="M2035 2401l9-68 0 35 1 542z" color="#10c6e6"/><path d="M2348 2165l10-23 0-4-10 43z" color="#ff1c0e"/><path d="M2151 2229l10-72 0-14-10 10z" color="#ff3219"/><path d="M2155 2895l5-490 0-33-11 25z" color="#d9da7d"/><path d="M2068 2163l10-32 0 8-10-4z" color="#ff1309"/><path d="M2213 2179l10-32 0 4-10 52z" color="#ff2613"/><path d="M2181 2285l11 79 3 520-14-579z" color="#48f1d0"/><path d="M2325 2894l13-548 0 42-10-65z" color="#66fcc2"/><path d="M2513 2314l12-44 0 6-12 48z" color="#ff8444"/><path d="M2306 2141l11 26 0-13-11 5z" color="#ff160b"/><path d="M2078 2172l10-30 0 19-9 93z" color="#ff2914"/><path d="M2369 2149l10 80 0-17-10-17z" color="#ff2c16"/><path d="M2255 2158l10-19 0 29-10 41z" color="#ff1f10"/><path d="M2536 2200l8 84 1-19-11 52z" color="#ff5c2f"/><path d="M2567 2203l9 31 1-4-12 53z" color="#ff4d27"/><path d="M2130 2153l10 14 0 13-10-16z" color="#ff1c0e"/><path d="M2161 2157l10-18 0 13-10 5z" color="#ff160b"/><path d="M2099 2141l10 3 0 15-10 1z" color="#ff1008"/><path d="M2171 2139l11 33 0-31-11 11z" color="#ff1008"/><path d="M2089 2165l10-24 0 19-11-22z" color="#ff160b"/><path d="M2504 2244l9 70 0 10-9-41z" color="#ff703a"/><path d="M2296 2149l10-8 0 18-10-5z" color="#ff1309"/><path d="M2182 2141l10 5 1 74-11-69z" color="#ff190d"/><path d="M2451 2296l12-97-1 47-11 63z" color="#ff6d38"/><path d="M2171 2170l11-24 0 70-10 20z" color="#ff2c16"/><path d="M2317 2167l10-32 0 9-10 10z" color="#ff160b"/><path d="M2057 2220l10-21 1 61-10-3z" color="#ff4d27"/><path d="M2545 2239l9 45 2-71-10-12z" color="#ff532a"/><path d="M2244 2160l11 49-1-50-10 24z" color="#ff2211"/><path d="M2067 2199l11 24 0 25-10 12z" color="#ff4724"/><path d="M2265 2240l10-89 0 60-10-53z" color="#ff3b1e"/><path d="M2355 2868l15-593 0-6-11 68z" color="#74feba"/><path d="M2079 2254l9-93 0 5-10 7z" color="#ff3e1f"/><path d="M2078 2139l11 26-1-27-10 6z" color="#ff0d06"/><path d="M2359 2179l10 44-1 52-10 28z" color="#ff4a26"/><path d="M2223 2151l11-6 0 10-10 88z" color="#ff1c0e"/><path d="M2068 2305l11 12-2-75-10 37z" color="#ff793e"/><path d="M2525 2247l11-47-2 117-10-50z" color="#ff5f30"/><path d="M2079 2315l9-94 0 13-9 83z" color="#ff733b"/><path d="M2327 2135l10 21 1-11-11-1z" color="#ff0905"/><path d="M2369 2202l10 33 0 22-10-34z" color="#ff4422"/><path d="M2006 2319l10-13 0 33-11-50z" color="#ff8947"/><path d="M2069 2269l8-105 1 59-11-24z" color="#ff4d27"/><path d="M2170 2319l11-34 0 20-6 576z" color="#94fda8"/><path d="M2503 2308l12-95-2 101-9-70z" color="#ff703a"/><path d="M2005 2279l10 3 1 24-10 13z" color="#ff763d"/><path d="M2317 2395l11-72 0 9-13 567z" color="#40ecd4"/><path d="M2213 2169l11 74-1-87-10 2z" color="#ff2211"/><path d="M2515 2213l9 54 1 3-12 44z" color="#ff592d"/><path d="M2425 2867l19-598 0 12-11 19z" color="#9bfba5"/><path d="M2149 2397l11-25 4 529-15-511z" color="#56f7ca"/><path d="M2182 2151l11 69-1-73-10-1z" color="#ff160b"/><path d="M2058 2298l10 7-1-26-11-47z" color="#ff703a"/><path d="M2338 2154l10 35 0-20-11 40z" color="#ff1f10"/><path d="M2433 2307l10 24 1-8-19 542z" color="#42edd3"/><path d="M2119 2144l11 9 0 11-11-20z" color="#ff0d06"/><path d="M2463 2199l8 110 2-67-11 4z" color="#ff4d27"/><path d="M1974 2260l11 56-1-44-11-14z" color="#ff6835"/><path d="M2078 2144l10-6 0 4-10 30z" color="#ff0905"/><path d="M2119 2144l11 20 0 12-11-10z" color="#ff1008"/><path d="M2223 2147l11 2 0-4-11 6z" color="#ff0905"/><path d="M2151 2153l10-10 0 28-10 10z" color="#ff1309"/><path d="M2171 2152l11-11 0 10-11-7z" color="#ff0905"/><path d="M2234 2145l10 15 0 23-10-28z" color="#ff1008"/><path d="M2275 2151l11 10 0 14-11 36z" color="#ff190d"/><path d="M2381 2367l4 540 6-486-10-27z" color="#ded579"/><path d="M2099 2162l10 8 0 32-11-40z" color="#ff190d"/><path d="M2556 2320l9 21 2-31-10-22z" color="#ff8444"/><path d="M2265 2158l10 53 0-27-10 14z" color="#ff1f10"/><path d="M2327 2180l11-26-1 55-10-57z" color="#ff1f10"/><path d="M2234 2155l10 28 0-14-10 18z" color="#ff190d"/><path d="M2182 2146l10 1 0 36-10 33z" color="#ff160b"/><path d="M2381 2394l10 27 0 4-15 476z" color="#52f5cb"/><path d="M2475 2872l20-484 2-106-11 29z" color="#ffa95b"/><path d="M2348 2173l11-5-1 44-10 37z" color="#ff2c16"/><path d="M2296 2162l10 3 0 21-10-10z" color="#ff190d"/><path d="M2109 2149l10-5 0 22-10 4z" color="#ff0d06"/><path d="M2338 2143l10-1 0 47-10-35z" color="#ff0d06"/><path d="M2161 2143l10 1 0 26-10 1z" color="#ff0d06"/><path d="M2306 2165l11-16 0 32-11 5z" color="#ff160b"/><path d="M2370 2400l11-33 0 27-16 517z" color="#ded579"/><path d="M2244 2183l10-24 0 11-10-1z" color="#ff1c0e"/><path d="M2337 2209l11-40 0 4-10 12z" color="#ff2914"/><path d="M2327 2142l11 1 0 11-11 26z" color="#ff0905"/><path d="M2348 2189l11-30 0-1-11 11z" color="#ff1c0e"/><path d="M2119 2185l12 131-2-123-10 68z" color="#ff4121"/><path d="M2286 2161l10 1 0 14-10-1z" color="#ff160b"/><path d="M2317 2144l10-2 0 38-10-31z" color="#ff0905"/><path d="M2172 2306l10-123-1-8-10-4z" color="#ff4a26"/><path d="M2161 2155l11 81-1-62-10-15z" color="#ff190d"/><path d="M2171 2144l11 7 0-5-11 24z" color="#ff0603"/><path d="M2327 2152l10 57 1-24-11-10z" color="#ff190d"/><path d="M2098 2162l11 40 0-21-11-6z" color="#ff190d"/><path d="M2317 2149l10 31 0-28-10 29z" color="#ff1008"/><path d="M2140 2188l10 2 1 23-11-29z" color="#ff2613"/><path d="M2359 2159l10-10 0 46-10-37z" color="#ff1008"/><path d="M2140 2178l10-17 0 29-10-2z" color="#ff1c0e"/><path d="M2150 2190l11-31 0 51-10 3z" color="#ff2613"/><path d="M2338 2185l10-12 0 76-10-86z" color="#ff2613"/><path d="M2202 2163l11-1 0 68-10-16z" color="#ff1f10"/><path d="M2422 2228l9 90 0-44-10 13z" color="#ff5c2f"/><path d="M2254 2170l11-12 0 40-11-15z" color="#ff190d"/><path d="M2088 2161l11 1-1 0-10 4z" color="#ff1008"/><path d="M2079 2317l9-83 0 19-11-11z" color="#ff6835"/><path d="M2515 2206l10 41-1 20-9-54z" color="#ff3e1f"/><path d="M2348 2249l10-37 1-33-11 1z" color="#ff3b1e"/><path d="M2307 2178l10 13 0-1-11 67z" color="#ff2914"/><path d="M2244 2169l10 1 0 13-10-1z" color="#ff190d"/><path d="M2432 2280l10-18-1 82-10-19z" color="#ff733b"/><path d="M2358 2212l11-10 0 21-10-44z" color="#ff3219"/><path d="M2151 2213l10-3 0 13-11-55z" color="#ff3219"/><path d="M2129 2153l11 25 0 10-10-6z" color="#ff1309"/><path d="M2223 2156l11 31 0-25-11 35z" color="#ff1309"/><path d="M2192 2147l10 3 0 14-10 19z" color="#ff0905"/><path d="M2234 2187l10-18 0 13-10-20z" color="#ff1c0e"/><path d="M2192 2162l10 1 1 51-11 1z" color="#ff1c0e"/><path d="M2213 2162l10 35 0-32-10 65z" color="#ff1c0e"/><path d="M2317 2157l10 18 0 56-10-40z" color="#ff1c0e"/><path d="M2202 2150l11 19 0-11-11 6z" color="#ff0905"/><path d="M2129 2170l11 14 1 80-12-73z" color="#ff2613"/><path d="M2327 2175l11 10 0-22-11 68z" color="#ff1f10"/><path d="M2078 2223l9-61 0 12-9 74z" color="#ff3219"/><path d="M2421 2324l10 1 1-44-11 47z" color="#ff8143"/><path d="M2317 2245l11-68-1 48-10 101z" color="#ff4d27"/><path d="M2016 2306l9-34-1-48-8 115z" color="#ff6d38"/><path d="M2182 2185l10-23 0 53-10-32z" color="#ff1f10"/><path d="M2359 2168l10-9 0 43-11 10z" color="#ff190d"/><path d="M2195 2879l6-601 0 13-10 51z" color="#1e91f3"/><path d="M2338 2163l10 86 0-69-10 23z" color="#ff1f10"/><path d="M2306 2212l11-55 0 34-10-13z" color="#ff2613"/><path d="M2359 2158l10 37 0-36-10 9z" color="#ff1008"/><path d="M2327 2231l11-68 0 40-11-7z" color="#ff2f18"/><path d="M2131 2316l9-115-1-10-10 2z" color="#ff5029"/><path d="M2213 2158l10-2 0 41-10-35z" color="#ff0d06"/><path d="M2192 2183l10-19 0-1-10-1z" color="#ff1309"/><path d="M2379 2290l10 43 1-23-10-66z" color="#ff6d38"/><path d="M2161 2223l10-52 1 101-12-101z" color="#ff3219"/><path d="M2130 2182l10 6 0-4-11-14z" color="#ff190d"/><path d="M2141 2264l9-96 0 36-10-3z" color="#ff3b1e"/><path d="M2348 2169l11-11 0 10-11 5z" color="#ff1008"/><path d="M2360 2321l10-5-5 562-5-561z" color="#17cbe4"/><path d="M2317 2181l10-29 0 23-10-18z" color="#ff1309"/><path d="M2088 2166l10-4 0 13-10-15z" color="#ff0d06"/><path d="M2150 2161l11-6 0 4-11 31z" color="#ff0d06"/><path d="M2244 2182l10 1 0-21-10 28z" color="#ff190d"/><path d="M2296 2169l11 9-1 79-10-88z" color="#ff1c0e"/><path d="M2486 2311l11-29-12 628 1-593z" color="#4ef3cd"/><path d="M2431 2274l11 19 0-31-10 18z" color="#ff5f30"/><path d="M2442 2262l11-32-1 97-11 17z" color="#ff6533"/><path d="M2411 2246l10 78 0 4-10-8z" color="#ff6835"/><path d="M2077 2164l11-4-1 2-9 61z" color="#ff1309"/><path d="M2202 2327l11-62 0 67-11 15z" color="#ff7e41"/><path d="M2195 2904l7-526-1-44-10-25z" color="#70febc"/><path d="M2202 2164l11-6 0 4-11 1z" color="#ff0905"/><path d="M2182 2183l10 32 0-30-11-10z" color="#ff1c0e"/><path d="M2296 2169l10 88 1-62-11-2z" color="#ff1f10"/><path d="M2119 2153l10 0 1 29-11-26z" color="#ff0603"/><path d="M2119 2172l10-2 0 21-10 29z" color="#ff190d"/><path d="M2128 2407l16 488-6-522-11-13z" color="#60fac5"/><path d="M2234 2162l10 20 0 8-10-28z" color="#ff1008"/><path d="M2265 2169l10 19 0-8-10 90z" color="#ff1f10"/><path d="M2327 2287l11-37 0 52-10-51z" color="#ff5f30"/><path d="M2160 2171l12 101-1-60-10-6z" color="#ff2613"/><path d="M2317 2326l10-101 0 10-10-48z" color="#ff592d"/><path d="M2223 2165l11-3 0 15-11 61z" color="#ff160b"/><path d="M2317 2190l10 6 1-17-11 54z" color="#ff2211"/><path d="M2307 2195l10 38 0 12-10-64z" color="#ff2914"/><path d="M2124 2910l4-503-1-47-10-19z" color="#68fcc1"/><path d="M2191 2309l10 25 1 81-8 487z" color="#1acfe3"/><path d="M2171 2171l10 4 0 0-9 97z" color="#ff1c0e"/><path d="M2119 2156l11 26-1-12-10 2z" color="#ff0905"/><path d="M2317 2311l11-47-1 62-10-40z" color="#ff6d38"/><path d="M2109 2181l10-25 0 16-11-5z" color="#ff1008"/><path d="M2213 2199l10-24 0 20-10 79z" color="#ff2914"/><path d="M2108 2167l11 5 0 48-11-50z" color="#ff1309"/><path d="M2088 2160l10 15 0 0-11-13z" color="#ff0905"/><path d="M2348 2251l10 82 1-98-11 69z" color="#ff592d"/><path d="M2307 2222l10 104 0-139-10 28z" color="#ff3b1e"/><path d="M2067 2279l10-37 0-23-10 45z" color="#ff5029"/><path d="M2338 2302l10-51 0 53-10-44z" color="#ff6232"/><path d="M2317 2233l11-54 0-2-11 68z" color="#ff2f18"/><path d="M2317 2288l11-37 0 13-11 47z" color="#ff5f30"/><path d="M2234 2176l10 84 0-54-10-20z" color="#ff1f10"/><path d="M2358 2333l11-47 0-30-10-21z" color="#ff6835"/><path d="M2307 2231l10 34 0 23-10-19z" color="#ff4a26"/><path d="M2192 2185l10-16 0 54-10-30z" color="#ff190d"/><path d="M2202 2169l11 8 0 22-11 24z" color="#ff160b"/><path d="M2150 2168l11 55-1-52-10 33z" color="#ff160b"/><path d="M2148 2328l16 591-4-505-12-89z" color="#48f1d0"/><path d="M2087 2174l11-7 0 32-10 24z" color="#ff160b"/><path d="M2234 2186l10 20 0 37-10-9z" color="#ff2613"/><path d="M2025 2272l10-43 1 83-12-88z" color="#ff5029"/><path d="M2265 2270l10-90 0 4-10-8z" color="#ff3219"/><path d="M2108 2170l11 50 0-35-11-9z" color="#ff1309"/><path d="M2317 2187l10 48 0 52-10-22z" color="#ff3219"/><path d="M2108 2176l11 9 0 76-11-81z" color="#ff190d"/><path d="M2244 2206l10 5 0-15-10 47z" color="#ff2914"/><path d="M2328 2251l10 51 0-42-10 4z" color="#ff4d27"/><path d="M2244 2255l10 82 0 21-10-6z" color="#ff6b37"/><path d="M2369 2286l10 4 1-46-11 12z" color="#ff562c"/><path d="M2098 2175l10-8 0 3-10-3z" color="#ff0905"/><path d="M2213 2274l10-79 0 3-10-17z" color="#ff351b"/><path d="M2087 2162l11 13 0-8-11 7z" color="#ff0302"/><path d="M2212 2362l13 551-2-567-11-14z" color="#92fda9"/><path d="M2181 2175l11 10 0 8-11-18z" color="#ff0d06"/><path d="M2108 2180l11 81-1-67-10 11z" color="#ff1c0e"/><path d="M2286 2428l10-12 1-32-12 566z" color="#60fac5"/><path d="M2275 2188l11-17 0 16-11-7z" color="#ff1008"/><path d="M2525 2352l12-69-1 62-11 24z" color="#ff8444"/><path d="M2139 2191l11 3 0-1-10 67z" color="#ff1f10"/><path d="M2286 2171l10-2 0 24-10-6z" color="#ff0d06"/><path d="M2296 2193l11 2 0-14-11 27z" color="#ff190d"/><path d="M2119 2261l10-68 0-8-11 9z" color="#ff2f18"/><path d="M2265 2937l10-581 0 45-10 18z" color="#8cfead"/><path d="M2150 2204l10-33 1 35-11-12z" color="#ff190d"/><path d="M2129 2193l10-2 1 69-11-75z" color="#ff1f10"/><path d="M2202 2421l10-15 0-39-8 551z" color="#12c8e6"/><path d="M2202 2188l11 86 0-93-11 3z" color="#ff1c0e"/><path d="M2286 2187l10 6 0 15-10-27z" color="#ff160b"/><path d="M2098 2167l10 3 0 6-10 23z" color="#ff0905"/><path d="M2254 2358l11 7 0-83-11 39z" color="#ff8143"/><path d="M2223 2195l11-9 0 48-11-36z" color="#ff1c0e"/><path d="M2244 2352l10 6 0-37-10-29z" color="#ff7e41"/><path d="M2144 2895l4-567 0-3-10 48z" color="#6efebe"/><path d="M2275 2184l11-3 0 14-11 55z" color="#ff160b"/><path d="M2117 2341l10 19 0 1-3 554z" color="#8efeac"/><path d="M2275 2918l11-584 0 33-11-9z" color="#44eed2"/><path d="M2160 2200l10 2 1 89-10 46z" color="#ff381c"/><path d="M2296 2208l11-27 0 41-11-30z" color="#ff1c0e"/><path d="M2159 2366l15 565-4-502-11-72z" color="#8cfead"/><path d="M2098 2199l10-23 0 4-10 8z" color="#ff1008"/><path d="M2140 2260l10-67 0 22-11-29z" color="#ff2f18"/><path d="M2265 2176l10 8 0 66-10-63z" color="#ff1309"/><path d="M2035 2251l10-9 1 72-10 12z" color="#ff5029"/><path d="M1993 2343l11-5-1-6-10 15z" color="#ff7e41"/><path d="M1992 2279l12 64 0-5-11 5z" color="#ff6b37"/><path d="M2149 2403l10-37 0-9-5 590z" color="#f4c069"/><path d="M2150 2194l11 12-1-7-10-6z" color="#ff160b"/><path d="M2297 2371l8 545 2-546-11 46z" color="#62fbc4"/><path d="M2223 2175l11 1 0 10-11 9z" color="#ff0905"/><path d="M2275 2180l11 7 0-6-11 3z" color="#ff0905"/><path d="M2254 2196l11-9 0 0-11 86z" color="#ff1c0e"/><path d="M2307 2215l10-28 0 78-10-34z" color="#ff2914"/><path d="M2244 2263l10-67 0 82-10-64z" color="#ff3b1e"/><path d="M2328 2177l10 5 0 16-11 27z" color="#ff1008"/><path d="M2307 2332l10-30 0 9-10 33z" color="#ff733b"/><path d="M2286 2181l10 27 0-16-10 3z" color="#ff1008"/><path d="M2296 2192l11 30 0-7-11-13z" color="#ff190d"/><path d="M2265 2419l10-18 0 550-10-611z" color="#70febc"/><path d="M2254 2211l11-35 0 11-11 9z" color="#ff160b"/><path d="M2233 2195l11 18 0 50-11-56z" color="#ff1f10"/><path d="M2202 2184l11-3 0 36-11 19z" color="#ff1309"/><path d="M2035 2269l11 14-1-41-10 9z" color="#ff4422"/><path d="M2254 2207l11-6 0 108-11 17z" color="#ff381c"/><path d="M2108 2375l10-43 1 43-11-18z" color="#ff8c49"/><path d="M2537 2283l9 82 2-89-12 69z" color="#ff6533"/><path d="M2192 2183l10 1 0 52-10-25z" color="#ff1309"/><path d="M2380 2244l10 66 1-71-11 4z" color="#ff3e1f"/><path d="M2181 2223l11-40 0 28-11-20z" color="#ff1c0e"/><path d="M2223 2201l10 6 1 85-11-73z" color="#ff2613"/><path d="M2204 2918l8-551 0 58-11-45z" color="#88ffaf"/><path d="M2254 2273l11-86 0 17-11-8z" color="#ff2c16"/><path d="M2223 2219l11 73-1-69-10 11z" color="#ff2f18"/><path d="M2192 2184l10 4 0-4-10-1z" color="#ff0603"/><path d="M2296 2198l11 33 0 38-11-58z" color="#ff1f10"/><path d="M2390 2295l11-57 0 32-11 61z" color="#ff532a"/><path d="M2275 2242l11-52 0 17-11 3z" color="#ff2211"/><path d="M2212 2367l10-3 2 557-12-496z" color="#8bfeae"/><path d="M2380 2243l11-4-1 56-10 1z" color="#ff4121"/><path d="M2296 2202l11 13 0 16-11-33z" color="#ff190d"/><path d="M2202 2216l10-9 1 58-11 62z" color="#ff3219"/><path d="M1983 2349l9-70 1 64-12-74z" color="#ff6d38"/><path d="M2265 2187l10 55 0-32-10-6z" color="#ff160b"/><path d="M2202 2236l11-19-1-24-10 3z" color="#ff1f10"/><path d="M2213 2181l10 17 0-12-10 31z" color="#ff0905"/><path d="M2286 2195l10-3 0 10-10-12z" color="#ff0d06"/><path d="M2192 2211l10 25 0-40-11-4z" color="#ff190d"/><path d="M2234 2292l10-78 0 2-11 7z" color="#ff3b1e"/><path d="M2171 2187l10 4 0 33-10 2z" color="#ff1008"/><path d="M2254 2196l11 8 0-2-11 76z" color="#ff190d"/><path d="M2181 2191l11 20-1-19-10 32z" color="#ff1008"/><path d="M2171 2226l10-2 0-4-11-18z" color="#ff1f10"/><path d="M2139 2186l11 29 0-21-11 14z" color="#ff0d06"/><path d="M2391 2239l10 20 0-21-11 57z" color="#ff351b"/><path d="M2244 2214l10 64 0-71-10 9z" color="#ff1f10"/><path d="M2213 2217l10-31 0 15-11-8z" color="#ff1008"/><path d="M2286 2190l10 12 0-4-10 9z" color="#ff0905"/><path d="M2160 2189l11-2 0 39-11-32z" color="#ff0905"/><path d="M2150 2215l10-26 0 5-10 0z" color="#ff1008"/><path d="M2223 2186l10 9 0 12-10-6z" color="#ff0905"/><path d="M2453 2372l11-33 0 13-10-4z" color="#ff8143"/><path d="M2275 2210l11-3 0-5-11 20z" color="#ff1309"/><path d="M2139 2208l11-14 0 16-11 16z" color="#ff1309"/><path d="M2307 2370l11-1-3 558-8-586z" color="#208ef4"/><path d="M2181 2224l10-32 0 4-10 24z" color="#ff160b"/><path d="M2254 2278l11-76 0-1-11 6z" color="#ff2914"/><path d="M2359 2324l11-10-1 17-9-73z" color="#ff5f30"/><path d="M2212 2207l11 27 0 2-10 29z" color="#ff1f10"/><path d="M2212 2193l11 8 0 18-11-8z" color="#ff0d06"/><path d="M2222 2335l13 575-2-582-11 36z" color="#4df3ce"/><path d="M2160 2194l11 32-1-24-10-2z" color="#ff0d06"/><path d="M2118 2332l10-43 1 48-10 38z" color="#ff6d38"/><path d="M2286 2207l10-9 0 13-10-9z" color="#ff0d06"/><path d="M2212 2211l11 8 0 15-11-27z" color="#ff160b"/><path d="M2202 2196l10-3 0 18-10-4z" color="#ff0905"/><path d="M2150 2194l10 0 0 6-10 10z" color="#ff0603"/><path d="M2191 2192l11 4 0 11-11-11z" color="#ff0302"/><path d="M2202 2207l10 4 0-4-10 9z" color="#ff0d06"/><path d="M2265 2202l10 20 0-21-10 0z" color="#ff0905"/><path d="M2191 2196l11 11 0 9-11-12z" color="#ff0603"/><path d="M2454 2269l10 28 0 42-11 33z" color="#ff532a"/><path d="M2444 2281l9 91 1-24-11-17z" color="#ff5c2f"/><path d="M2065 2291l12 75-1-49-11-30z" color="#ff532a"/><path d="M2338 2346l11 40 0-78-11 80z" color="#ff733b"/><path d="M2443 2331l11 17 0 4-10-29z" color="#ff6533"/><path d="M2338 2388l11-80 0 74-11-5z" color="#ff7e41"/><path d="M2422 2377l11-77 0 7-10-9z" color="#ff6533"/><path d="M2359 2337l11-68-1 112-9-100z" color="#ff592d"/><path d="M2328 2323l10 65 0-11-10-45z" color="#ff6835"/><path d="M2349 2357l11-76 0-1-11 106z" color="#ff6232"/><path d="M2444 2269l10 0-1 103-9-91z" color="#ff3e1f"/><path d="M2044 2333l10-18 1 85-11-32z" color="#ff6b37"/><path d="M2160 2405l10-50 0-13-10 30z" color="#ff7e41"/><path d="M2433 2300l11-19-1 50-10-24z" color="#ff4724"/><path d="M2349 2386l11-106 0 41-11-13z" color="#ff5f30"/><path d="M2349 2308l11 13 0-4-11 65z" color="#ff5029"/><path d="M2201 2334l11-5 0 33-10 53z" color="#ff5f30"/><path d="M2202 2378l10-60 0 11-11 5z" color="#ff5c2f"/><path d="M2202 2423l10-92 0 75-10 15z" color="#ff7e41"/><path d="M2148 2325l12 89 0 4-12-81z" color="#ff5c2f"/><path d="M2202 2399l10-67 0-1-10 92z" color="#ff6b37"/><path d="M2148 2337l12 81-1-52-10 37z" color="#ff5f30"/><path d="M2127 2361l11-13 0 45-10 21z" color="#ff6533"/><path d="M2127 2360l11 13 0-25-11 13z" color="#ff592d"/><path d="M2286 2326l11 45-1 45-10 12z" color="#ff5c2f"/><path d="M2138 2348l10-11 1 66-11-10z" color="#ff592d"/><path d="M2275 2356l11-30 0 102-11-27z" color="#ff5c2f"/><path d="M2138 2373l10-48 0 12-10 11z" color="#ff4d27"/><path d="M2212 2406l10-71 0 29-10 3z" color="#ff5f30"/><path d="M2275 2358l11 9 0-41-11 30z" color="#ff4a26"/><path d="M2286 2367l11-27 0 31-11-45z" color="#ff4d27"/><path d="M2296 2416l11-46 0-29-10 43z" color="#ff6533"/><path d="M2212 2331l10-9 0 13-10 71z" color="#ff4121"/><path d="M2212 2332l11 14-1-24-10 9z" color="#ff3b1e"/></g>
<path d="M156.2 292.6L246.6 320.3M246.6 320.3L294.8 272.9M294.8 272.9L298.9 205.1M162.8 293.3L160.4 295.4M179.9 298.6L177.5 300.7M197.2 303.9L194.8 306M214.8 309.3L212.5 311.4M232.7 314.7L230.4 316.9M248.1 316.5L252.2 317.8M258.4 306.4L262.5 307.6M268.4 296.5L272.5 297.7M278.2 287L282.2 288.1M287.7 277.6L291.6 278.8M293.1 271.6L297 272.7M293.8 259.5L297.8 260.6M294.5 247.2L298.5 248.3M295.3 234.6L299.3 235.7M296.1 221.8L300.2 222.9M296.8 208.6L301 209.7" fill="none" stroke="#2a2a2a" stroke-width="0.6"/>
<text x="156.7" y="308.1" font-size="5.0" text-anchor="middle" font-family="DejaVu Sans, Liberation Sans, sans-serif" fill="#2a2a2a" stroke="#2a2a2a" stroke-width="0.22">0</text>
<text x="173.8" y="313.3" font-size="5.0" text-anchor="middle" font-family="DejaVu Sans, Liberation Sans, sans-serif" fill="#2a2a2a" stroke="#2a2a2a" stroke-width="0.22">20</text>
<text x="191.2" y="318.6" font-size="5.0" text-anchor="middle" font-family="DejaVu Sans, Liberation Sans, sans-serif" fill="#2a2a2a" stroke="#2a2a2a" stroke-width="0.22">40</text>
<text x="208.8" y="324" font-size="5.0" text-anchor="middle" font-family="DejaVu Sans, Liberation Sans, sans-serif" fill="#2a2a2a" stroke="#2a2a2a" stroke-width="0.22">60</text>
<text x="226.7" y="329.5" font-size="5.0" text-anchor="middle" font-family="DejaVu Sans, Liberation Sans, sans-serif" fill="#2a2a2a" stroke="#2a2a2a" stroke-width="0.22">80</text>
<text x="257.8" y="331.1" font-size="5.0" text-anchor="middle" font-family="DejaVu Sans, Liberation Sans, sans-serif" fill="#2a2a2a" stroke="#2a2a2a" stroke-width="0.22">0</text>
<text x="267.9" y="320.1" font-size="5.0" text-anchor="middle" font-family="DejaVu Sans, Liberation Sans, sans-serif" fill="#2a2a2a" stroke="#2a2a2a" stroke-width="0.22">20</text>
<text x="277.6" y="309.3" font-size="5.0" text-anchor="middle" font-family="DejaVu Sans, Liberation Sans, sans-serif" fill="#2a2a2a" stroke="#2a2a2a" stroke-width="0.22">40</text>
<text x="287.1" y="298.8" font-size="5.0" text-anchor="middle" font-family="DejaVu Sans, Liberation Sans, sans-serif" fill="#2a2a2a" stroke="#2a2a2a" stroke-width="0.22">60</text>
<text x="296.3" y="288.6" font-size="5.0" text-anchor="middle" font-family="DejaVu Sans, Liberation Sans, sans-serif" fill="#2a2a2a" stroke="#2a2a2a" stroke-width="0.22">80</text>
<text x="305.5" y="273.9" font-size="5.0" text-anchor="middle" font-family="DejaVu Sans, Liberation Sans, sans-serif" fill="#2a2a2a" stroke="#2a2a2a" stroke-width="0.22">0</text>
<text x="306.2" y="261.9" font-size="5.0" text-anchor="middle" font-family="DejaVu Sans, Liberation Sans, sans-serif" fill="#2a2a2a" stroke="#2a2a2a" stroke-width="0.22">50</text>
<text x="307" y="249.6" font-size="5.0" text-anchor="middle" font-family="DejaVu Sans, Liberation Sans, sans-serif" fill="#2a2a2a" stroke="#2a2a2a" stroke-width="0.22">100</text>
<text x="307.8" y="237" font-size="5.0" text-anchor="middle" font-family="DejaVu Sans, Liberation Sans, sans-serif" fill="#2a2a2a" stroke="#2a2a2a" stroke-width="0.22">150</text>
<text x="308.6" y="224.2" font-size="5.0" text-anchor="middle" font-family="DejaVu Sans, Liberation Sans, sans-serif" fill="#2a2a2a" stroke="#2a2a2a" stroke-width="0.22">200</text>
<text x="309.4" y="211" font-size="5.0" text-anchor="middle" font-family="DejaVu Sans, Liberation Sans, sans-serif" fill="#2a2a2a" stroke="#2a2a2a" stroke-width="0.22">250</text>
<linearGradient id="cb3356" x1="0" y1="0" x2="0" y2="1"><stop offset="0%" stop-color="#ff0000"/><stop offset="4.2%" stop-color="#ff1f10"/><stop offset="8.3%" stop-color="#ff4121"/><stop offset="12.5%" stop-color="#ff5f30"/><stop offset="16.7%" stop-color="#ff7e41"/><stop offset="20.8%" stop-color="#ff9b52"/><stop offset="25%" stop-color="#ffb360"/><stop offset="29.2%" stop-color="#ebca70"/><stop offset="33.3%" stop-color="#d4dd80"/><stop offset="37.5%" stop-color="#c0eb8d"/><stop offset="41.7%" stop-color="#abf69b"/><stop offset="45.8%" stop-color="#94fda8"/><stop offset="50%" stop-color="#80ffb4"/><stop offset="54.2%" stop-color="#6afdc0"/><stop offset="58.3%" stop-color="#54f6cb"/><stop offset="62.5%" stop-color="#40ecd4"/><stop offset="66.7%" stop-color="#2adddd"/><stop offset="70.8%" stop-color="#14cae5"/><stop offset="75%" stop-color="#00b5eb"/><stop offset="79.2%" stop-color="#169bf2"/><stop offset="83.3%" stop-color="#2c7ef7"/><stop offset="87.5%" stop-color="#4062fa"/><stop offset="91.7%" stop-color="#5641fd"/><stop offset="95.8%" stop-color="#6c1fff"/><stop offset="100%" stop-color="#8000ff"/></linearGradient>
<rect x="315.6" y="200.2" width="10.2" height="101" fill="url(#cb3356)" stroke="#2a2a2a" stroke-width="0.4"/>
<text x="330.2" y="303.1" font-size="5.0" text-anchor="start" font-family="DejaVu Sans, Liberation Sans, sans-serif" fill="#2a2a2a" stroke="#2a2a2a" stroke-width="0.22">0</text>
<text x="330.2" y="283.3" font-size="5.0" text-anchor="start" font-family="DejaVu Sans, Liberation Sans, sans-serif" fill="#2a2a2a" stroke="#2a2a2a" stroke-width="0.22">50</text>
<text x="330.2" y="263.5" font-size="5.0" text-anchor="start" font-family="DejaVu Sans, Liberation Sans, sans-serif" fill="#2a2a2a" stroke="#2a2a2a" stroke-width="0.22">100</text>
<text x="330.2" y="243.7" font-size="5.0" text-anchor="start" font-family="DejaVu Sans, Liberation Sans, sans-serif" fill="#2a2a2a" stroke="#2a2a2a" stroke-width="0.22">150</text>
<text x="330.2" y="223.9" font-size="5.0" text-anchor="start" font-family="DejaVu Sans, Liberation Sans, sans-serif" fill="#2a2a2a" stroke="#2a2a2a" stroke-width="0.22">200</text>
<text x="330.2" y="204.1" font-size="5.0" text-anchor="start" font-family="DejaVu Sans, Liberation Sans, sans-serif" fill="#2a2a2a" stroke="#2a2a2a" stroke-width="0.22">250</text>
<path d="M325.8 301.2h1.6M325.8 281.4h1.6M325.8 261.6h1.6M325.8 241.8h1.6M325.8 222h1.6M325.8 202.2h1.6" stroke="#2a2a2a" stroke-width="0.45" fill="none"/>
</g>
<g id="plot-e">
<path d="M360.8 292.6L413 248.6L411.9 182.1L356.4 223.9Z" fill="#f8f8f8"/>
<path d="M413 248.6L499.4 272.9L503.5 205.1L411.9 182.1Z" fill="#f1f1f1"/>
<path d="M360.8 292.6L451.2 320.3L499.4 272.9L413 248.6Z" fill="#f4f4f4"/>
<path d="M366.3 294.3L418.2 250.1L417.5 183.5M383.4 299.5L434.6 254.7L434.8 187.8M400.8 304.8L451.2 259.4L452.4 192.2M418.4 310.2L468 264.1L470.2 196.7M436.3 315.7L485.1 268.9L488.4 201.3M454.5 317.1L364.3 289.6L360.2 221.1M464.8 306.9L375.5 280.2L372.1 212.1M474.8 297.1L386.4 271.1L383.6 203.4M484.6 287.5L396.9 262.2L394.9 194.9M494 278.1L407.2 253.5L405.8 186.7M360.7 291.3L413 247.4L499.4 271.6M359.9 279L412.8 235.4L500.2 259.4M359.1 266.3L412.6 223.1L501 247M358.3 253.5L412.4 210.6L501.7 234.2M357.5 240.3L412.2 197.8L502.5 221.2M356.6 226.7L412 184.8L503.4 207.9" fill="none" stroke="#b9b9b9" stroke-width="0.55"/>
<path d="M369.7 290L448.6 314L490.9 272.8L415.2 251.5Z" fill="#8000ff"/>
<g transform="scale(.1)" fill="currentColor" stroke="currentColor" stroke-width="6" stroke-linejoin="round"><path d="M4527 2142l-2 654 0 5-10 0z" color="#bced8f"/><path d="M4517 2156l-2 655 0 5-9 0z" color="#80ffb4"/><path d="M4081 2816l-4-655 13 660-10 0z" color="#80ffb4"/><path d="M4090 2826l-2-655 12 660-10 0z" color="#56f7ca"/><path d="M4507 2171l-1 655 0 5-10 0z" color="#18cde4"/><path d="M4100 2831l-2-655 12 660-10 0z" color="#56f7ca"/><path d="M4497 2181l-1 655 0 6-10 0z" color="#18cde4"/><path d="M4110 2842l-2-657 11 662-10 0z" color="#bced8f"/><path d="M4486 2185l0 657 1 5-10 0z" color="#18cde4"/><path d="M4119 2847l-1-657 11 662-10 0z" color="#bced8f"/><path d="M4466 2190l1 657 0 5-10 0z" color="#bced8f"/><path d="M4093 2755l-3-652 0 5 2 652z" color="#56f7ca"/><path d="M4515 2103l-1 652 0 5 1-652z" color="#32e3da"/><path d="M4129 2852l0-657 10 662-10 0z" color="#56f7ca"/><path d="M4445 2195l2 657 0 5-10 0z" color="#80ffb4"/><path d="M4092 2760l-2-652 0 5 2 652z" color="#32e3da"/><path d="M4139 2857l0-657 10 662-10 0z" color="#56f7ca"/><path d="M4434 2200l3 657 0 5-10 0z" color="#80ffb4"/><path d="M4092 2765l-2-652-1 4 3 653z" color="#56f7ca"/><path d="M4526 2113l-2 652 0 5 2-653z" color="#bced8f"/><path d="M4149 2862l1-657 9 662-10 0z" color="#56f7ca"/><path d="M4424 2205l3 657 0 5-10 0z" color="#80ffb4"/><path d="M4092 2770l-3-653 0 5 3 653z" color="#56f7ca"/><path d="M4526 2117l-2 653 0 5 2-653z" color="#80ffb4"/><path d="M4168 2867l2-657 8 662-10 0z" color="#80ffb4"/><path d="M4413 2210l4 657 1 5-10 0z" color="#56f7ca"/><path d="M4526 2122l-2 653 0 6 2-654z" color="#80ffb4"/><path d="M4198 2872l4-657 6 663-10 0z" color="#80ffb4"/><path d="M4403 2215l5 657 0 6-10 0z" color="#18cde4"/><path d="M4410 2037l5 649 6-644-10 0z" color="#56f7ca"/><path d="M4082 2780l-3-653 0 5 3 654z" color="#80ffb4"/><path d="M4526 2127l-2 654 0 5 3-654z" color="#80ffb4"/><path d="M4218 2878l5-658 5 663-10 0z" color="#18cde4"/><path d="M4382 2220l6 658 0 5-10 0z" color="#18cde4"/><path d="M4153 2691l1-649 0 4-11 0z" color="#56f7ca"/><path d="M4421 2042l3 649 7-645-10 0z" color="#80ffb4"/><path d="M4082 2786l-3-654-1 5 4 654z" color="#80ffb4"/><path d="M4527 2132l-3 654 1 5 2-654z" color="#80ffb4"/><path d="M4238 2883l6-658 4 663-10 0z" color="#18cde4"/><path d="M4318 2225l10 658 0 5-10 0z" color="#bced8f"/><path d="M4143 2696l0-650 0 5-10 0z" color="#56f7ca"/><path d="M4431 2046l3 650 8-645-11 0z" color="#80ffb4"/><path d="M4082 2791l-4-654 0 5 3 654z" color="#80ffb4"/><path d="M4527 2137l-2 654 0 5 2-654z" color="#80ffb4"/><path d="M4442 2051l2 650 8-645-10 0z" color="#80ffb4"/><path d="M4081 2796l-3-654 0 4 3 655z" color="#bced8f"/><path d="M4133 2706l0-650 0 4-11 0z" color="#56f7ca"/><path d="M4081 2801l-3-655 0 5 3 655z" color="#32e3da"/><path d="M4462 2060l2 651 9-646-11 0z" color="#bced8f"/><path d="M4081 2806l-3-655 0 5 3 655z" color="#32e3da"/><path d="M4517 2151l-2 655 0 5 2-655z" color="#80ffb4"/><path d="M4081 2811l-3-655-1 5 4 655z" color="#80ffb4"/><path d="M4123 2721l-1-651 0 5-10 0z" color="#56f7ca"/><path d="M4090 2821l-2-655 0 5 2 655z" color="#32e3da"/><path d="M4507 2166l-1 655 0 5 1-655z" color="#18cde4"/><path d="M4113 2730l-1-651-1 5-10 0z" color="#bced8f"/><path d="M4483 2079l1 651 10-646-10 0z" color="#18cde4"/><path d="M4497 2176l-1 655 0 5 1-655z" color="#18cde4"/><path d="M4103 2740l-2-651 0 5-11 0z" color="#56f7ca"/><path d="M4494 2089l0 651 11-646-11 0z" color="#18cde4"/><path d="M4110 2836l-2-655 0 4 2 657z" color="#bced8f"/><path d="M4476 2185l10 0-9 662-10 0z" color="#bced8f"/><path d="M4505 2098l-1 652 11-647-10 0z" color="#bced8f"/><path d="M4455 2190l11 0-9 662-10 0z" color="#bced8f"/><path d="M4515 2108l-1 652 12-647-10 0z" color="#80ffb4"/><path d="M4150 2205l10 0 8 662-9 0z" color="#56f7ca"/><path d="M4170 2210l11 0 7 662-10 0z" color="#80ffb4"/><path d="M4181 2210l11 0 6 662-10 0z" color="#80ffb4"/><path d="M4092 2775l-3-653 0 5-10 0z" color="#56f7ca"/><path d="M4202 2215l11 0 5 663-10 0z" color="#80ffb4"/><path d="M4392 2215l11 0-5 663-10 0z" color="#18cde4"/><path d="M4223 2220l11 0 4 663-10 0z" color="#bced8f"/><path d="M4329 2220l10 0-1 663-10 0z" color="#18cde4"/><path d="M4339 2220l11 0-2 663-10 0z" color="#80ffb4"/><path d="M4350 2220l11 0-3 663-10 0z" color="#80ffb4"/><path d="M4361 2220l10 0-3 663-10 0z" color="#80ffb4"/><path d="M4371 2220l11 0-4 663-10 0z" color="#80ffb4"/><path d="M4244 2225l11 0 3 663-10 0z" color="#56f7ca"/><path d="M4255 2225l10 0 3 663-10 0z" color="#bced8f"/><path d="M4265 2225l11 0 2 663-10 0z" color="#bced8f"/><path d="M4276 2225l11 0 1 663-10 0z" color="#bced8f"/><path d="M4287 2225l10 0 1 663-10 0z" color="#18cde4"/><path d="M4297 2225l11 0 0 663-10 0z" color="#18cde4"/><path d="M4308 2225l10 0 0 663-10 0z" color="#18cde4"/><path d="M4517 2142l10 0-12 659 2-655z" color="#80ffb4"/><path d="M4507 2156l10 0-11 660 1-655z" color="#32e3da"/><path d="M4077 2161l11 0 0 5 2 655z" color="#56f7ca"/><path d="M4088 2171l10 0 0 5 2 655z" color="#56f7ca"/><path d="M4497 2171l10 0-11 660 1-655z" color="#18cde4"/><path d="M4098 2176l10 0 0 5 2 655z" color="#bced8f"/><path d="M4486 2181l11 0-11 661 0-657z" color="#18cde4"/><path d="M4108 2185l10 0 0 5 1 657z" color="#56f7ca"/><path d="M4465 2185l11 0-9 662-1-657z" color="#bced8f"/><path d="M4118 2190l11 0 0 5 0 657z" color="#56f7ca"/><path d="M4445 2190l10 0-8 662-2-657z" color="#80ffb4"/><path d="M4129 2195l10 0 0 5 0 657z" color="#80ffb4"/><path d="M4434 2195l11 0-8 662-3-657z" color="#80ffb4"/><path d="M4139 2200l11 0 0 5-1 657z" color="#56f7ca"/><path d="M4424 2200l10 0-7 662-3-657z" color="#80ffb4"/><path d="M4160 2205l11 0-1 5-2 657z" color="#80ffb4"/><path d="M4413 2205l11 0-7 662-4-657z" color="#56f7ca"/><path d="M4192 2210l10 0 0 5-4 657z" color="#80ffb4"/><path d="M4403 2210l10 0-5 662-5-657z" color="#18cde4"/><path d="M4213 2215l10 0 0 5-5 658z" color="#18cde4"/><path d="M4382 2215l10 0-4 663-6-658z" color="#80ffb4"/><path d="M4234 2220l10 0 0 5-6 658z" color="#bced8f"/><path d="M4318 2220l11 0-1 663-10-658z" color="#80ffb4"/><path d="M4257 2018L4287 2018L4287 2023L4257 2023zM4236 2023L4369 2023L4369 2028L4236 2028zM4216 2028L4390 2028L4390 2032L4216 2032zM4185 2032L4410 2032L4410 2037L4185 2037zM4164 2037L4410 2037L4411 2042L4164 2042zM4154 2042L4421 2042L4421 2046L4154 2046zM4143 2046L4431 2046L4431 2051L4143 2051zM4133 2051L4442 2051L4442 2056L4133 2056zM4133 2056L4452 2056L4452 2060L4133 2060zM4122 2060L4462 2060L4462 2065L4122 2065zM4122 2065L4473 2065L4473 2070L4122 2070zM4122 2070L4483 2070L4483 2075L4122 2075zM4112 2075L4483 2075L4483 2079L4112 2079zM4112 2079L4483 2079L4484 2084L4111 2084zM4101 2084L4494 2084L4494 2089L4101 2089zM4101 2089L4494 2089L4494 2094L4101 2094zM4090 2094L4505 2094L4505 2098L4090 2098zM4090 2098L4505 2098L4505 2103L4090 2103zM4090 2103L4515 2103L4515 2108L4090 2108zM4090 2108L4515 2108L4516 2113L4090 2113zM4090 2113L4526 2113L4526 2117L4089 2117zM4089 2117L4526 2117L4526 2122L4089 2122zM4089 2122L4526 2122L4526 2127L4089 2127zM4079 2127L4526 2127L4527 2132L4079 2132zM4079 2132L4527 2132L4527 2137L4078 2137zM4078 2137L4527 2137L4527 2142L4078 2142zM4078 2142L4517 2142L4517 2146L4078 2146zM4078 2146L4517 2146L4517 2151L4078 2151zM4078 2151L4517 2151L4517 2156L4078 2156zM4078 2156L4507 2156L4507 2161L4077 2161zM4088 2161L4507 2161L4507 2166L4088 2166zM4088 2166L4507 2166L4507 2171L4088 2171zM4098 2171L4497 2171L4497 2176L4098 2176zM4108 2176L4497 2176L4497 2181L4108 2181zM4108 2181L4486 2181L4486 2185L4108 2185zM4118 2185L4465 2185L4466 2190L4118 2190zM4129 2190L4445 2190L4445 2195L4129 2195zM4139 2195L4434 2195L4434 2200L4139 2200zM4150 2200L4424 2200L4424 2205L4150 2205zM4171 2205L4413 2205L4413 2210L4170 2210zM4202 2210L4403 2210L4403 2215L4202 2215zM4223 2215L4382 2215L4382 2220L4223 2220zM4244 2220L4318 2220L4318 2225L4244 2225z" color="#ff0000"/></g>
<path d="M360.8 292.6L451.2 320.3M451.2 320.3L499.4 272.9M499.4 272.9L503.5 205.1M367.4 293.3L365 295.4M384.5 298.6L382.1 300.7M401.8 303.9L399.4 306M419.4 309.3L417.1 311.4M437.3 314.7L435 316.9M452.7 316.5L456.8 317.8M463 306.4L467.1 307.6M473 296.5L477.1 297.7M482.8 287L486.8 288.1M492.3 277.6L496.2 278.8M497.7 271.1L501.6 272.2M498.4 258.9L502.4 260M499.2 246.5L503.2 247.6M499.9 233.8L504 234.8M500.7 220.7L504.8 221.8M501.5 207.4L505.7 208.5" fill="none" stroke="#2a2a2a" stroke-width="0.6"/>
<text x="361.3" y="308.1" font-size="5.0" text-anchor="middle" font-family="DejaVu Sans, Liberation Sans, sans-serif" fill="#2a2a2a" stroke="#2a2a2a" stroke-width="0.22">0</text>
<text x="378.4" y="313.3" font-size="5.0" text-anchor="middle" font-family="DejaVu Sans, Liberation Sans, sans-serif" fill="#2a2a2a" stroke="#2a2a2a" stroke-width="0.22">20</text>
<text x="395.8" y="318.6" font-size="5.0" text-anchor="middle" font-family="DejaVu Sans, Liberation Sans, sans-serif" fill="#2a2a2a" stroke="#2a2a2a" stroke-width="0.22">40</text>
<text x="413.4" y="324" font-size="5.0" text-anchor="middle" font-family="DejaVu Sans, Liberation Sans, sans-serif" fill="#2a2a2a" stroke="#2a2a2a" stroke-width="0.22">60</text>
<text x="431.3" y="329.5" font-size="5.0" text-anchor="middle" font-family="DejaVu Sans, Liberation Sans, sans-serif" fill="#2a2a2a" stroke="#2a2a2a" stroke-width="0.22">80</text>
<text x="462.4" y="331.1" font-size="5.0" text-anchor="middle" font-family="DejaVu Sans, Liberation Sans, sans-serif" fill="#2a2a2a" stroke="#2a2a2a" stroke-width="0.22">0</text>
<text x="472.5" y="320.1" font-size="5.0" text-anchor="middle" font-family="DejaVu Sans, Liberation Sans, sans-serif" fill="#2a2a2a" stroke="#2a2a2a" stroke-width="0.22">20</text>
<text x="482.2" y="309.3" font-size="5.0" text-anchor="middle" font-family="DejaVu Sans, Liberation Sans, sans-serif" fill="#2a2a2a" stroke="#2a2a2a" stroke-width="0.22">40</text>
<text x="491.7" y="298.8" font-size="5.0" text-anchor="middle" font-family="DejaVu Sans, Liberation Sans, sans-serif" fill="#2a2a2a" stroke="#2a2a2a" stroke-width="0.22">60</text>
<text x="500.9" y="288.6" font-size="5.0" text-anchor="middle" font-family="DejaVu Sans, Liberation Sans, sans-serif" fill="#2a2a2a" stroke="#2a2a2a" stroke-width="0.22">80</text>
<text x="510.1" y="273.5" font-size="5.0" text-anchor="middle" font-family="DejaVu Sans, Liberation Sans, sans-serif" fill="#2a2a2a" stroke="#2a2a2a" stroke-width="0.22">0</text>
<text x="510.9" y="261.3" font-size="5.0" text-anchor="middle" font-family="DejaVu Sans, Liberation Sans, sans-serif" fill="#2a2a2a" stroke="#2a2a2a" stroke-width="0.22">50</text>
<text x="511.7" y="248.9" font-size="5.0" text-anchor="middle" font-family="DejaVu Sans, Liberation Sans, sans-serif" fill="#2a2a2a" stroke="#2a2a2a" stroke-width="0.22">100</text>
<text x="512.4" y="236.1" font-size="5.0" text-anchor="middle" font-family="DejaVu Sans, Liberation Sans, sans-serif" fill="#2a2a2a" stroke="#2a2a2a" stroke-width="0.22">150</text>
<text x="513.2" y="223.1" font-size="5.0" text-anchor="middle" font-family="DejaVu Sans, Liberation Sans, sans-serif" fill="#2a2a2a" stroke="#2a2a2a" stroke-width="0.22">200</text>
<text x="514.1" y="209.8" font-size="5.0" text-anchor="middle" font-family="DejaVu Sans, Liberation Sans, sans-serif" fill="#2a2a2a" stroke="#2a2a2a" stroke-width="0.22">250</text>
<linearGradient id="cb5406" x1="0" y1="0" x2="0" y2="1"><stop offset="0%" stop-color="#ff0000"/><stop offset="4.2%" stop-color="#ff1f10"/><stop offset="8.3%" stop-color="#ff4121"/><stop offset="12.5%" stop-color="#ff5f30"/><stop offset="16.7%" stop-color="#ff7e41"/><stop offset="20.8%" stop-color="#ff9b52"/><stop offset="25%" stop-color="#ffb360"/><stop offset="29.2%" stop-color="#ebca70"/><stop offset="33.3%" stop-color="#d4dd80"/><stop offset="37.5%" stop-color="#c0eb8d"/><stop offset="41.7%" stop-color="#abf69b"/><stop offset="45.8%" stop-color="#94fda8"/><stop offset="50%" stop-color="#80ffb4"/><stop offset="54.2%" stop-color="#6afdc0"/><stop offset="58.3%" stop-color="#54f6cb"/><stop offset="62.5%" stop-color="#40ecd4"/><stop offset="66.7%" stop-color="#2adddd"/><stop offset="70.8%" stop-color="#14cae5"/><stop offset="75%" stop-color="#00b5eb"/><stop offset="79.2%" stop-color="#169bf2"/><stop offset="83.3%" stop-color="#2c7ef7"/><stop offset="87.5%" stop-color="#4062fa"/><stop offset="91.7%" stop-color="#5641fd"/><stop offset="95.8%" stop-color="#6c1fff"/><stop offset="100%" stop-color="#8000ff"/></linearGradient>
<rect x="520.6" y="200.2" width="10.2" height="101" fill="url(#cb5406)" stroke="#2a2a2a" stroke-width="0.4"/>
<text x="534.7" y="303.1" font-size="5.0" text-anchor="start" font-family="DejaVu Sans, Liberation Sans, sans-serif" fill="#2a2a2a" stroke="#2a2a2a" stroke-width="0.22">0</text>
<text x="534.7" y="283.3" font-size="5.0" text-anchor="start" font-family="DejaVu Sans, Liberation Sans, sans-serif" fill="#2a2a2a" stroke="#2a2a2a" stroke-width="0.22">50</text>
<text x="534.7" y="263.5" font-size="5.0" text-anchor="start" font-family="DejaVu Sans, Liberation Sans, sans-serif" fill="#2a2a2a" stroke="#2a2a2a" stroke-width="0.22">100</text>
<text x="534.7" y="243.7" font-size="5.0" text-anchor="start" font-family="DejaVu Sans, Liberation Sans, sans-serif" fill="#2a2a2a" stroke="#2a2a2a" stroke-width="0.22">150</text>
<text x="534.7" y="223.9" font-size="5.0" text-anchor="start" font-family="DejaVu Sans, Liberation Sans, sans-serif" fill="#2a2a2a" stroke="#2a2a2a" stroke-width="0.22">200</text>
<text x="534.7" y="204.1" font-size="5.0" text-anchor="start" font-family="DejaVu Sans, Liberation Sans, sans-serif" fill="#2a2a2a" stroke="#2a2a2a" stroke-width="0.22">250</text>
<path d="M530.8 301.2h1.6M530.8 281.4h1.6M530.8 261.6h1.6M530.8 241.8h1.6M530.8 222h1.6M530.8 202.2h1.6" stroke="#2a2a2a" stroke-width="0.45" fill="none"/>
</g>
<text x="72.1" y="294.8" font-size="16.3" text-anchor="middle" font-family="Liberation Serif, Times New Roman, serif" fill="#1c1c2a" stroke="#1c1c2a" stroke-width="0.3">(a)</text>
<text x="240.5" y="173.8" font-size="16.3" text-anchor="middle" font-family="Liberation Serif, Times New Roman, serif" fill="#1c1c2a" stroke="#1c1c2a" stroke-width="0.3">(b)</text>
<text x="450.7" y="172" font-size="16.3" text-anchor="middle" font-family="Liberation Serif, Times New Roman, serif" fill="#1c1c2a" stroke="#1c1c2a" stroke-width="0.3">(c)</text>
<text x="240.5" y="353.6" font-size="16.3" text-anchor="middle" font-family="Liberation Serif, Times New Roman, serif" fill="#1c1c2a" stroke="#1c1c2a" stroke-width="0.3">(d)</text>
<text x="450.7" y="353.6" font-size="16.3" text-anchor="middle" font-family="Liberation Serif, Times New Roman, serif" fill="#1c1c2a" stroke="#1c1c2a" stroke-width="0.3">(e)</text>
</svg>
</body></html>
